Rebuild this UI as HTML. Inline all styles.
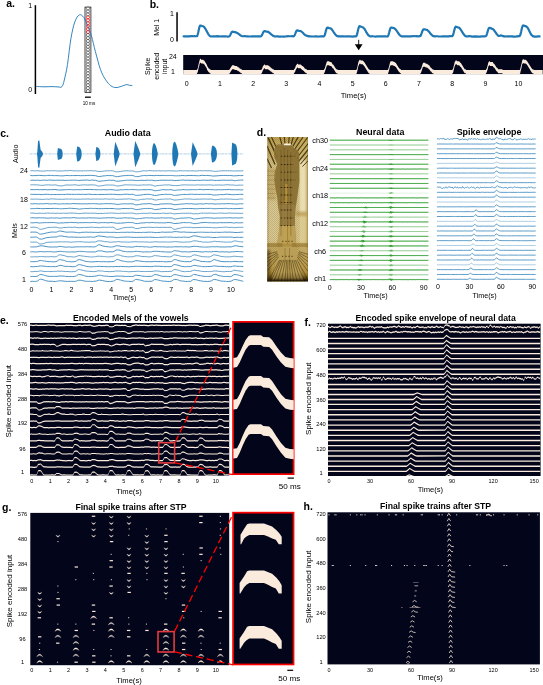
<!DOCTYPE html>
<html lang="en"><head><meta charset="utf-8"><title>Figure</title>
<style>html,body{margin:0;padding:0;background:#fff}svg{display:block}</style>
</head><body>
<svg width="543" height="685" viewBox="0 0 543 685" font-family='"Liberation Sans", sans-serif'>
<rect width="543" height="685" fill="#fff"/>
<g id="panel-a">
<text x="6.2" y="6.9" font-size="10.5" font-weight="bold" text-anchor="start" fill="#000">a.</text>
<line x1="35.4" y1="5.2" x2="35.4" y2="94" stroke="#000" stroke-width="1.5"/>
<text x="32.2" y="8.3" font-size="7" text-anchor="end" fill="#000">1</text>
<text x="32.2" y="91.6" font-size="7" text-anchor="end" fill="#000">0</text>
<rect x="85" y="7.1" width="5.9" height="85.4" fill="#fafafa" stroke="#1a1a1a" stroke-width="0.8"/>
<circle cx="87.95" cy="8.57" r="1.57" fill="#fff" stroke="#2a2a2a" stroke-width="0.6"/>
<circle cx="87.95" cy="11.52" r="1.57" fill="#fff" stroke="#2a2a2a" stroke-width="0.6"/>
<circle cx="87.95" cy="14.46" r="1.57" fill="#fff" stroke="#2a2a2a" stroke-width="0.6"/>
<circle cx="87.95" cy="17.41" r="1.57" fill="#fff4f4" stroke="#f01818" stroke-width="0.85"/>
<circle cx="87.95" cy="20.35" r="1.57" fill="#fff4f4" stroke="#f01818" stroke-width="0.85"/>
<circle cx="87.95" cy="23.3" r="1.57" fill="#fff4f4" stroke="#f01818" stroke-width="0.85"/>
<circle cx="87.95" cy="26.24" r="1.57" fill="#fff4f4" stroke="#f01818" stroke-width="0.85"/>
<circle cx="87.95" cy="29.19" r="1.57" fill="#fff4f4" stroke="#f01818" stroke-width="0.85"/>
<circle cx="87.95" cy="32.13" r="1.57" fill="#fff4f4" stroke="#f01818" stroke-width="0.85"/>
<circle cx="87.95" cy="35.08" r="1.57" fill="#fff" stroke="#2a2a2a" stroke-width="0.6"/>
<circle cx="87.95" cy="38.02" r="1.57" fill="#fff" stroke="#2a2a2a" stroke-width="0.6"/>
<circle cx="87.95" cy="40.97" r="1.57" fill="#fff" stroke="#2a2a2a" stroke-width="0.6"/>
<circle cx="87.95" cy="43.91" r="1.57" fill="#fff" stroke="#2a2a2a" stroke-width="0.6"/>
<circle cx="87.95" cy="46.86" r="1.57" fill="#fff" stroke="#2a2a2a" stroke-width="0.6"/>
<circle cx="87.95" cy="49.8" r="1.57" fill="#fff" stroke="#2a2a2a" stroke-width="0.6"/>
<circle cx="87.95" cy="52.74" r="1.57" fill="#fff" stroke="#2a2a2a" stroke-width="0.6"/>
<circle cx="87.95" cy="55.69" r="1.57" fill="#fff" stroke="#2a2a2a" stroke-width="0.6"/>
<circle cx="87.95" cy="58.63" r="1.57" fill="#fff" stroke="#2a2a2a" stroke-width="0.6"/>
<circle cx="87.95" cy="61.58" r="1.57" fill="#fff" stroke="#2a2a2a" stroke-width="0.6"/>
<circle cx="87.95" cy="64.52" r="1.57" fill="#fff" stroke="#2a2a2a" stroke-width="0.6"/>
<circle cx="87.95" cy="67.47" r="1.57" fill="#fff" stroke="#2a2a2a" stroke-width="0.6"/>
<circle cx="87.95" cy="70.41" r="1.57" fill="#fff" stroke="#2a2a2a" stroke-width="0.6"/>
<circle cx="87.95" cy="73.36" r="1.57" fill="#fff" stroke="#2a2a2a" stroke-width="0.6"/>
<circle cx="87.95" cy="76.3" r="1.57" fill="#fff" stroke="#2a2a2a" stroke-width="0.6"/>
<circle cx="87.95" cy="79.25" r="1.57" fill="#fff" stroke="#2a2a2a" stroke-width="0.6"/>
<circle cx="87.95" cy="82.19" r="1.57" fill="#fff" stroke="#2a2a2a" stroke-width="0.6"/>
<circle cx="87.95" cy="85.14" r="1.57" fill="#fff" stroke="#2a2a2a" stroke-width="0.6"/>
<circle cx="87.95" cy="88.08" r="1.57" fill="#fff" stroke="#2a2a2a" stroke-width="0.6"/>
<circle cx="87.95" cy="91.03" r="1.57" fill="#fff" stroke="#2a2a2a" stroke-width="0.6"/>
<path d="M36.1,86.4C37.42,86.47 41.35,86.77 44,86.8C46.65,86.83 49.67,86.58 52,86.6C54.33,86.62 56.35,86.88 58,86.9C59.65,86.92 60.85,87.85 61.9,86.7C62.95,85.55 63.37,83.72 64.3,80C65.23,76.28 66.4,71.28 67.5,64.4C68.6,57.52 69.68,45.78 70.9,38.7C72.12,31.62 73.38,25.87 74.8,21.9C76.22,17.93 77.9,15.63 79.4,14.9C80.9,14.17 82.42,15.68 83.8,17.5C85.18,19.32 86.42,22.7 87.7,25.8C88.98,28.9 90.22,31.8 91.5,36.1C92.78,40.4 93.9,46.02 95.4,51.6C96.9,57.18 98.78,64.88 100.5,69.6C102.22,74.32 103.97,77.2 105.7,79.9C107.43,82.6 109.18,84.52 110.9,85.8C112.62,87.08 114.28,87.5 116,87.6C117.72,87.7 119.48,86.9 121.2,86.4C122.92,85.9 124.92,84.78 126.3,84.6C127.68,84.42 128.5,85.13 129.5,85.3C130.5,85.47 131.83,85.55 132.3,85.6" fill="none" stroke="#1f77b4" stroke-width="0.9"/>
<line x1="85" y1="97.2" x2="90.8" y2="97.2" stroke="#000" stroke-width="1.3"/>
<text x="89" y="104.9" font-size="4.6" text-anchor="middle" fill="#000">10 ms</text>
</g>
<g id="panel-b">
<text x="149.7" y="7.5" font-size="10.5" font-weight="bold" text-anchor="start" fill="#000">b.</text>
<line x1="177.05" y1="12.2" x2="177.05" y2="41.4" stroke="#000" stroke-width="1.5"/>
<text x="173.8" y="16.3" font-size="7" text-anchor="end" fill="#000">1</text>
<text x="173.8" y="42" font-size="7" text-anchor="end" fill="#000">0</text>
<text x="159.4" y="27.3" font-size="7" text-anchor="middle" fill="#000" transform="rotate(-90 159.4 27.3)">Mel 1</text>
<text x="150.5" y="66.3" font-size="7" text-anchor="middle" fill="#000" transform="rotate(-90 150.5 66.3)">Spike</text>
<text x="159.4" y="66.3" font-size="7" text-anchor="middle" fill="#000" transform="rotate(-90 159.4 66.3)">encoded</text>
<text x="166.6" y="66.3" font-size="7" text-anchor="middle" fill="#000" transform="rotate(-90 166.6 66.3)">input</text>
<text x="172.8" y="59.2" font-size="7" text-anchor="middle" fill="#000">24</text>
<text x="172.9" y="74.4" font-size="7" text-anchor="middle" fill="#000">1</text>
<path d="M183.6 36.29l2.5 .1 1 .07 .5-.11 1 .08 3-.38 1 .04 1 .16 1-.05 1 .05 1-.1 .5-.17 .5-1.17 .5-1.85 .5-2.35 .5-2.21 .5-1.78 .5-1.05 .5-.07 3 1.02 .5 .46 .5 .59 .5 .75 3 5.51 1 1.29 .5 .6 .5 .44 1 .32 1-.02 1-.19 1.5 .14 1-.05 .5 .06 1.5-.22 1 .2 .5-.05 1.5 .17 1-.13 1.5 .05 .5-.13 2.5 .1 .5 .09 1 .06 1.5-.15 .5-.37 .5-.77 1-2.07 .5-.93 .5-.5 .5-.09 2 .52 1-.01 2 1.04 2 1.43 .5 .47 1.5 .88 1 .22 1 0 .5-.11 .5 .07 .5-.08 .5 .14 1 .03 .5 .12 .5-.12 .5 .15 1 .07 2-.05 1-.09 2.5-.04 2 .13 2-.16 1-.06 .5 .11 .5-.03 .5-.14 .5-.5 .5-.76 1-2.29 .5-.88 .5-.56 1-.02 .5 .16 2.5 .53 .5 .21 1 .79 2 1.88 1 .73 1.5 .79 .5 .18 1 .05 .5-.06 2 0 1 .17 1-.07 .5 .08 1-.08 1-.02 .5 .12 1 0 .5-.13 .5 .02 1.5-.22 1.5-.07 1 .04 2 .01 1-.12 1.5 .15 .5-.3 .5-.75 .5-1.09 .5-1.35 .5-1.19 .5-.96 .5-.37 .5 .09 .5 .26 1.5 .35 1 .11 .5 .13 1.5 1.29 .5 .5 .5 .64 .5 .54 1 .77 .5 .29 1.5 .61 .5 .22 1 .09 .5 .21 1.5-.03 1 .15 3-.08 1-.11 .5 .06 .5-.1 .5 .12 2 .13 1.5-.22 .5 .03 1-.12 1 .16 .5 .02 .5-.16 .5-.76 .5-1.53 .5-1.88 .5-2.03 .5-1.5 .5-.88 .5-.18 1.5 .65 1 .1 .5 .14 .5 .38 1 1.06 1 1.38 .5 .85 1.5 2.15 1 1.16 .5 .39 1 .46 1 .2 1.5-.15 1.5 .05 .5 .16 2 .01 1-.13 1 .13 1-.07 .5 .06 1-.23 .5 .07 .5-.03 2.5 .35 .5 .04 1-.23 1.5-.01 1-.09 .5-.67 .5-1.5 .5-2.13 .5-2.23 .5-1.89 .5-1.32 .5-.48 1.5 .55 1 .42 1 .39 1.5 1.59 1 1.75 .5 .97 .5 .77 .5 .91 .5 .79 1 1.24 1 .75 1 .21 .5-.04 .5-.16 1-.03 2 .27 1 .07 2-.31 3 .12 2-.03 .5 .09 1.5-.05 .5 .04 .5-.15 1.5 .26 .5-.08 .5-.64 .5-1.28 .5-1.72 .5-1.96 .5-1.7 .5-1.2 .5-.43 .5 .12 .5 .01 .5 .21 .5 .01 1 .34 .5 .31 1 .89 1.5 2.05 1 1.56 1.5 1.98 1 .8 .5 .27 1 .25 .5-.06 .5 .15 1 .01 .5 .04 .5-.08 .5 .06 .5-.09 1 .05 1.5-.04 .5 .06 1.5-.11 1-.02 .5-.13 1.5 .11 .5-.09 1.5 .07 .5-.09 2 .2 1.5-.15 .5 .05 .5-.45 .5-1.06 1-2.84 .5-1.28 .5-.96 .5-.4 1.5 .15 .5 .15 1 .15 .5 .23 .5 .37 .5 .57 .5 .34 1 1.16 .5 .75 1.5 1.67 .5 .38 .5 .49 1 .51 1.5 .14 1.5-.1 .5-.01 2 .27 2-.01 1.5-.24 2 .13 3.5-.11 .5 .05 1.5-.09 .5-.1 1.5 .14 .5-.33 .5-1.16 .5-1.69 1-4.04 .5-1.5 .5-.82 .5 .04 2 .76 .5 .06 .5 .25 .5 .4 .5 .56 1 1.37 2 3.34 1.5 1.95 .5 .44 .5 .29 .5 .11 .5 .21 .5-.02 .5-.18 2-.18 1 .17 .5 0 1 .3 .5 .03 2.5-.29 3.5 .2 1.5 .01 1.5-.22 1 .01 .5-.1 1 .08 1.5-.21 .5-.18 .5-.99 .5-1.56 .5-1.79 .5-1.6 .5-1.47 .5-.76 .5 .03 1.5 .61 .5 .3 .5 .1 1 .52 .5 .39 .5 .57 2 2.93 .5 .78 1 1.15 .5 .43 .5 .32 .5 .14 1-.25 .5-.36 .5-.03 1 .48 2 .54 .5-.03 1.5 .15 1-.14 .5 .04 .5-.09 2.5 .02 .5 .08 1-.1 1.5 .33 1 0 .5 .1 1.5-.32 1-.03 1-.22 .5 .08 .5-.07 .5-.73 .5-1.53 .5-2.05 .5-2.29 .5-2.12 .5-1.49 .5-.6 .5 .11 1 .42 1.5 .45 1 .8 .5 .61 .5 .81 1 2.01 .5 .91 1 2.1 .5 .81 1 1.14 .5 .47 .5 .3 .5 .05 1 .29 1-.02 .5-.13 .5 .05 1-.17 2-.04" fill="none" stroke="#1f77b4" stroke-width="2.2" stroke-linejoin="round" stroke-linecap="round"/>
<line x1="358.7" y1="39.8" x2="358.7" y2="45.5" stroke="#000" stroke-width="0.9"/>
<polygon points="354.8,44.3 362.6,44.3 358.7,50.3" fill="#000"/>
<rect x="183.2" y="55" width="359.8" height="19.1" fill="#03051a"/>
<path d="M183.2 70.05l13.5 0 1-1.6 1-4.8 .5-1.6 .5-2.4 .5-.8 .5 0 .5 .8 2 0 .5 .8 .5 0 2.5 4 .5 1.6 1.5 2.4 .5 0 .5 .8 .5 0 .5 .8 18.5 0 3-4.8 2 0 .5 .8 2 0 .5 .8 1 0 .5 .8 .5 0 .5 .8 .5 0 .5 .8 1 0 .5 .8 19 0 1-1.6 .5-1.6 1.5-2.4 .5 0 .5 .8 3 0 .5 .8 .5 0 .5 .8 .5 0 .5 .8 .5 0 .5 .8 .5 0 .5 .8 1 0 .5 .8 19.5 0 1.5-2.4 .5-1.6 1.5-2.4 .5 0 .5 .8 2.5 0 .5 .8 .5 0 .5 .8 .5 0 .5 .8 .5 0 1 1.6 .5 0 .5 .8 1 0 .5 .8 16.5 0 1-1.6 2-6.4 .5-.8 2 0 .5 .8 1.5 0 1.5 2.4 .5 0 3 4.8 1 0 .5 .8 18.5 0 .5-.8 .5-1.6 1-4.8 .5-1.6 1-1.6 .5 0 .5 .8 2 0 .5 .8 .5 0 5 8 .5 0 .5 .8 18 0 .5-.8 1-3.2 .5-2.4 .5-1.6 .5-.8 2.5 0 .5 .8 1 0 .5 .8 .5 0 3.5 5.6 .5 0 .5 .8 .5 0 .5 .8 19 0 1-1.6 1.5-4.8 .5-.8 2 0 .5 .8 1.5 0 .5 .8 .5 0 .5 .8 .5 0 1.5 2.4 .5 0 1 1.6 1 0 .5 .8 18.5 0 1-1.6 .5-2.4 .5-1.6 .5-2.4 1-1.6 1 0 .5 .8 2 0 1 1.6 .5 0 4 6.4 1 0 .5 .8 19.5 0 1-1.6 1-3.2 .5-2.4 1-1.6 .5 0 .5 .8 2.5 0 1 1.6 .5 0 2.5 4 .5 0 1 1.6 4 0 .5 .8 17 0 .5-.8 .5-2.4 .5-1.6 1-4.8 1-1.6 .5 .8 2 0 .5 .8 .5 0 5.5 8.8 1 0 .5 .8 9 0 0 3.9-9 0-.5-.8-1 0-5.5-8.8-.5 0-.5-.8-2 0-.5-.8-1 1.6-1 4.8-.5 1.6-.5 2.4-.5 .8-17 0-.5-.8-4 0-1-1.6-.5 0-2.5-4-.5 0-1-1.6-2.5 0-.5-.8-.5 0-1 1.6-.5 2.4-1 3.2-1 1.6-19.5 0-.5-.8-1 0-4-6.4-.5 0-1-1.6-2 0-.5-.8-1 0-1 1.6-.5 2.4-.5 1.6-.5 2.4-1 1.6-18.5 0-.5-.8-1 0-1-1.6-.5 0-1.5-2.4-.5 0-.5-.8-.5 0-.5-.8-1.5 0-.5-.8-2 0-.5 .8-1.5 4.8-1 1.6-19 0-.5-.8-.5 0-.5-.8-.5 0-3.5-5.6-.5 0-.5-.8-1 0-.5-.8-2.5 0-.5 .8-.5 1.6-.5 2.4-1 3.2-.5 .8-18 0-.5-.8-.5 0-5-8-.5 0-.5-.8-2 0-.5-.8-.5 0-1 1.6-.5 1.6-1 4.8-.5 1.6-.5 .8-18.5 0-.5-.8-1 0-3-4.8-.5 0-1.5-2.4-1.5 0-.5-.8-2 0-.5 .8-2 6.4-1 1.6-16.5 0-.5-.8-1 0-.5-.8-.5 0-1-1.6-.5 0-.5-.8-.5 0-.5-.8-.5 0-.5-.8-2.5 0-.5-.8-.5 0-1.5 2.4-.5 1.6-1.5 2.4-19.5 0-.5-.8-1 0-.5-.8-.5 0-.5-.8-.5 0-.5-.8-.5 0-.5-.8-.5 0-.5-.8-3 0-.5-.8-.5 0-1.5 2.4-.5 1.6-1 1.6-19 0-.5-.8-1 0-.5-.8-.5 0-.5-.8-.5 0-.5-.8-1 0-.5-.8-2 0-.5-.8-2 0-3 4.8-18.5 0-.5-.8-.5 0-.5-.8-.5 0-1.5-2.4-.5-1.6-2.5-4-.5 0-.5-.8-2 0-.5-.8-.5 0-.5 .8-.5 2.4-.5 1.6-1 4.8-1 1.6-13.5 0z" fill="#faebdd"/>
<text x="186.8" y="86.1" font-size="7" text-anchor="middle" fill="#000">0</text>
<text x="219.97" y="86.1" font-size="7" text-anchor="middle" fill="#000">1</text>
<text x="253.14" y="86.1" font-size="7" text-anchor="middle" fill="#000">2</text>
<text x="286.31" y="86.1" font-size="7" text-anchor="middle" fill="#000">3</text>
<text x="319.48" y="86.1" font-size="7" text-anchor="middle" fill="#000">4</text>
<text x="352.65" y="86.1" font-size="7" text-anchor="middle" fill="#000">5</text>
<text x="385.82" y="86.1" font-size="7" text-anchor="middle" fill="#000">6</text>
<text x="418.99" y="86.1" font-size="7" text-anchor="middle" fill="#000">7</text>
<text x="452.16" y="86.1" font-size="7" text-anchor="middle" fill="#000">8</text>
<text x="485.33" y="86.1" font-size="7" text-anchor="middle" fill="#000">9</text>
<text x="518.5" y="86.1" font-size="7" text-anchor="middle" fill="#000">10</text>
<text x="353.5" y="98.2" font-size="7.6" text-anchor="middle" fill="#000">Time(s)</text>
</g>
<g id="panel-c">
<text x="0.2" y="136.6" font-size="10.5" font-weight="bold" text-anchor="start" fill="#000">c.</text>
<text x="127.7" y="135.9" font-size="8.9" font-weight="bold" text-anchor="middle" fill="#000">Audio data</text>
<text x="18.1" y="153.8" font-size="7.2" text-anchor="middle" fill="#000" transform="rotate(-90 18.1 153.8)">Audio</text>
<text x="16.6" y="230.6" font-size="7" text-anchor="middle" fill="#000" transform="rotate(-90 16.6 230.6)">Mels</text>
<line x1="29.8" y1="153.9" x2="243.5" y2="153.9" stroke="#1f77b4" stroke-width="0.9" stroke-opacity="0.38" stroke-dasharray="2.2 0.5 0.8 0.4 3 0.6"/>
<polygon points="36.8,153.9 37.06,153.18 37.32,152.21 37.57,148.24 37.83,144.27 38.09,141.05 38.35,140.85 38.61,140.65 38.87,140.45 39.12,140.25 39.38,140.89 39.64,142.8 39.9,144.72 40.16,146.59 40.42,148.43 40.67,150.08 40.93,150.34 41.19,150.6 41.45,150.87 41.71,151.18 41.97,151.48 42.22,151.79 42.48,152.29 42.74,153.1 43,153.9 43,153.9 42.74,154.73 42.48,155.56 42.22,156.08 41.97,156.39 41.71,156.71 41.45,157.02 41.19,157.3 40.93,157.57 40.67,157.84 40.42,159.54 40.16,161.44 39.9,163.37 39.64,165.34 39.38,167.31 39.12,167.98 38.87,167.77 38.61,167.56 38.35,167.35 38.09,167.15 37.83,163.83 37.57,159.74 37.32,155.65 37.06,154.64 36.8,153.9" fill="#1f77b4"/>
<polygon points="57.2,153.9 57.43,151.83 57.66,149.81 57.89,148.07 58.12,148.14 58.35,148.2 58.58,148.26 58.8,148.32 59.03,148.39 59.26,148.45 59.49,148.51 59.72,148.58 59.95,148.64 60.18,148.7 60.41,148.76 60.64,148.8 60.87,148.86 61.1,148.98 61.33,149.16 61.55,149.41 61.78,149.75 62.01,150.19 62.24,150.78 62.47,151.63 62.7,153.9 62.7,153.9 62.47,156.24 62.24,157.12 62.01,157.73 61.78,158.18 61.55,158.53 61.33,158.79 61.1,158.97 60.87,159.1 60.64,159.16 60.41,159.2 60.18,159.26 59.95,159.33 59.72,159.39 59.49,159.45 59.26,159.52 59.03,159.58 58.8,159.65 58.58,159.71 58.35,159.78 58.12,159.84 57.89,159.91 57.66,158.12 57.43,156.03 57.2,153.9" fill="#1f77b4"/>
<polygon points="76.2,153.9 76.43,152.19 76.66,150.49 76.89,148.78 77.12,147.07 77.35,146.53 77.58,146.53 77.8,146.54 78.03,146.57 78.26,146.63 78.49,146.71 78.72,146.82 78.95,146.95 79.18,147.11 79.41,147.3 79.64,147.52 79.87,147.77 80.1,148.06 80.33,148.41 80.55,148.8 80.78,149.27 81.01,149.82 81.24,150.52 81.47,151.48 81.7,153.9 81.7,153.9 81.47,156.4 81.24,157.38 81.01,158.1 80.78,158.68 80.55,159.16 80.33,159.56 80.1,159.92 79.87,160.22 79.64,160.48 79.41,160.71 79.18,160.9 78.95,161.07 78.72,161.2 78.49,161.31 78.26,161.39 78.03,161.45 77.8,161.49 77.58,161.5 77.35,161.5 77.12,160.94 76.89,159.18 76.66,157.42 76.43,155.66 76.2,153.9" fill="#1f77b4"/>
<polygon points="95.4,153.9 95.61,152.33 95.82,150.76 96.03,149.18 96.23,147.61 96.44,147.11 96.65,147.11 96.86,147.12 97.07,147.15 97.28,147.2 97.48,147.28 97.69,147.38 97.9,147.5 98.11,147.64 98.32,147.82 98.53,148.02 98.73,148.25 98.94,148.53 99.15,148.84 99.36,149.2 99.57,149.63 99.78,150.15 99.98,150.79 100.19,151.67 100.4,153.9 100.4,153.9 100.19,156.2 99.98,157.11 99.78,157.77 99.57,158.3 99.36,158.74 99.15,159.12 98.94,159.44 98.73,159.72 98.53,159.96 98.32,160.17 98.11,160.35 97.9,160.5 97.69,160.62 97.48,160.72 97.28,160.8 97.07,160.86 96.86,160.89 96.65,160.9 96.44,160.9 96.23,160.38 96.03,158.76 95.82,157.14 95.61,155.52 95.4,153.9" fill="#1f77b4"/>
<polygon points="113.7,153.9 113.95,151.88 114.2,149.86 114.45,147.84 114.7,145.82 114.95,143.8 115.2,141.78 115.45,142.35 115.7,142.93 115.95,143.52 116.2,144.11 116.45,144.7 116.7,145.31 116.95,145.92 117.2,146.54 117.45,147.17 117.7,147.81 117.95,148.47 118.2,149.13 118.45,149.82 118.7,150.52 118.95,151.26 119.2,152.03 119.45,152.86 119.7,153.9 119.7,153.9 119.45,154.97 119.2,155.83 118.95,156.63 118.7,157.38 118.45,158.11 118.2,158.81 117.95,159.5 117.7,160.17 117.45,160.83 117.2,161.48 116.95,162.12 116.7,162.76 116.45,163.38 116.2,164 115.95,164.61 115.7,165.21 115.45,165.81 115.2,166.4 114.95,164.32 114.7,162.23 114.45,160.15 114.2,158.07 113.95,155.98 113.7,153.9" fill="#1f77b4"/>
<polygon points="133.5,153.9 133.78,151.73 134.07,149.57 134.35,147.4 134.63,145.23 134.92,143.07 135.2,140.9 135.48,141.52 135.77,142.14 136.05,142.77 136.33,143.4 136.62,144.04 136.9,144.69 137.18,145.35 137.47,146.01 137.75,146.69 138.03,147.38 138.32,148.08 138.6,148.79 138.88,149.52 139.17,150.28 139.45,151.07 139.73,151.89 140.02,152.79 140.3,153.9 140.3,153.9 140.02,155.05 139.73,155.97 139.45,156.82 139.17,157.63 138.88,158.41 138.6,159.17 138.32,159.9 138.03,160.63 137.75,161.33 137.47,162.03 137.18,162.72 136.9,163.39 136.62,164.06 136.33,164.72 136.05,165.38 135.77,166.02 135.48,166.66 135.2,167.3 134.92,165.07 134.63,162.83 134.35,160.6 134.07,158.37 133.78,156.13 133.5,153.9" fill="#1f77b4"/>
<polygon points="151.9,153.9 152.15,149.47 152.39,147.54 152.64,146.16 152.88,145.14 153.13,144.39 153.38,143.84 153.62,143.49 153.87,143.29 154.11,143.23 154.36,143.3 154.6,143.49 154.85,143.79 155.1,144.18 155.34,144.67 155.59,145.23 155.83,145.87 156.08,146.58 156.33,147.36 156.57,148.2 156.82,149.11 157.06,150.08 157.31,151.14 157.55,152.32 157.8,153.9 157.8,153.9 157.55,155.53 157.31,156.75 157.06,157.84 156.82,158.84 156.57,159.77 156.33,160.64 156.08,161.44 155.83,162.18 155.59,162.84 155.34,163.42 155.1,163.92 154.85,164.32 154.6,164.63 154.36,164.82 154.11,164.9 153.87,164.84 153.62,164.64 153.38,164.27 153.13,163.71 152.88,162.93 152.64,161.87 152.39,160.46 152.15,158.47 151.9,153.9" fill="#1f77b4"/>
<polygon points="172.2,153.9 172.46,148.87 172.72,146.67 172.97,145.11 173.23,143.95 173.49,143.09 173.75,142.47 174.01,142.06 174.27,141.84 174.52,141.78 174.78,141.86 175.04,142.07 175.3,142.41 175.56,142.86 175.82,143.41 176.07,144.05 176.33,144.78 176.59,145.59 176.85,146.47 177.11,147.43 177.37,148.46 177.62,149.56 177.88,150.76 178.14,152.1 178.4,153.9 178.4,153.9 178.14,155.75 177.88,157.13 177.62,158.37 177.37,159.51 177.11,160.57 176.85,161.56 176.59,162.47 176.33,163.3 176.07,164.05 175.82,164.72 175.56,165.28 175.3,165.74 175.04,166.09 174.78,166.31 174.52,166.4 174.27,166.33 174.01,166.1 173.75,165.68 173.49,165.04 173.23,164.16 172.97,162.96 172.72,161.36 172.46,159.09 172.2,153.9" fill="#1f77b4"/>
<polygon points="191,153.9 191.28,151.96 191.55,150.02 191.82,148.08 192.1,146.14 192.38,144.2 192.65,142.26 192.93,142.81 193.2,143.37 193.47,143.93 193.75,144.5 194.03,145.07 194.3,145.65 194.57,146.24 194.85,146.84 195.12,147.44 195.4,148.06 195.68,148.68 195.95,149.32 196.22,149.98 196.5,150.66 196.78,151.36 197.05,152.1 197.32,152.9 197.6,153.9 197.6,153.9 197.32,154.93 197.05,155.75 196.78,156.52 196.5,157.24 196.22,157.94 195.95,158.62 195.68,159.28 195.4,159.92 195.12,160.56 194.85,161.18 194.57,161.8 194.3,162.4 194.03,163 193.75,163.59 193.47,164.18 193.2,164.76 192.93,165.33 192.65,165.9 192.38,163.9 192.1,161.9 191.82,159.9 191.55,157.9 191.28,155.9 191,153.9" fill="#1f77b4"/>
<polygon points="210.9,153.9 211.15,151.99 211.41,150.08 211.66,148.17 211.92,146.27 212.17,145.66 212.43,145.66 212.68,145.67 212.93,145.71 213.19,145.77 213.44,145.86 213.7,145.98 213.95,146.13 214.2,146.3 214.46,146.51 214.71,146.76 214.97,147.04 215.22,147.37 215.47,147.75 215.73,148.2 215.98,148.72 216.24,149.34 216.49,150.12 216.75,151.19 217,153.9 217,153.9 216.75,156.69 216.49,157.79 216.24,158.6 215.98,159.24 215.73,159.78 215.47,160.24 215.22,160.63 214.97,160.97 214.71,161.26 214.46,161.51 214.2,161.73 213.95,161.91 213.7,162.07 213.44,162.19 213.19,162.28 212.93,162.35 212.68,162.39 212.43,162.4 212.17,162.4 211.92,161.77 211.66,159.8 211.41,157.84 211.15,155.87 210.9,153.9" fill="#1f77b4"/>
<polygon points="231.4,153.9 231.65,149.9 231.9,145.99 232.15,142.62 232.4,142.75 232.65,142.87 232.9,142.99 233.15,143.11 233.4,143.23 233.65,143.35 233.9,143.47 234.15,143.59 234.4,143.72 234.65,143.84 234.9,143.96 235.15,144.03 235.4,144.14 235.65,144.38 235.9,144.73 236.15,145.22 236.4,145.86 236.65,146.72 236.9,147.86 237.15,149.5 237.4,153.9 237.4,153.9 237.15,158.43 236.9,160.13 236.65,161.31 236.4,162.18 236.15,162.85 235.9,163.36 235.65,163.72 235.4,163.96 235.15,164.08 234.9,164.15 234.65,164.28 234.4,164.4 234.15,164.53 233.9,164.65 233.65,164.78 233.4,164.9 233.15,165.03 232.9,165.15 232.65,165.28 232.4,165.4 232.15,165.53 231.9,162.06 231.65,158.02 231.4,153.9" fill="#1f77b4"/>
<path d="M30.3 281.45l2-.1 2 .08 .5-.04 .5 .07 1.5-.23 .5-.14 .5-.26 1.5-1.17 .5-.32 .5-.14 1.5 .1 2.5 .85 1 .37 1.5 .43 2 .31 3.5 0 1.5 .23 1.5 0 1-.09 1.5-.38 .5-.03 1-.23 .5 .07 1.5 0 3.5 .42 .5 .12 .5-.06 1.5 .1 1.5-.04 2 .02 .5-.09 2 .11 1.5 .06 .5-.09 .5-.2 .5-.08 1-.43 .5-.3 .5-.15 2 0 2 .28 1.5 .49 2 .23 .5 .13 1-.05 1 .11 1-.13 1 .12 2 .07 1-.18 1.5-.06 1.5-.15 2-.81 1.5-.15 2.5 .41 3.5 .75 2 .27 2-.12 .5 .04 2.5-.27 1-.18 1-.55 1-.72 .5-.26 .5-.1 1.5 .16 2 .47 1 .26 .5 .2 2.5 .57 1.5 .12 .5 .14 .5-.08 1 .12 .5-.04 .5 .08 3 .07 1-.23 1-.55 1-.81 .5-.29 .5-.15 1 .04 2 .38 .5 .02 1.5 .41 1 .16 2.5 .77 1 .11 2.5 .02 .5 .05 3-.11 1-.27 1-.58 1-.76 .5-.12 2 .16 1 .29 .5 .05 2 .55 .5 .07 .5 .19 2.5 .32 1 0 3 .29 1.5 .01 2-.3 1-.52 1.5-1.07 .5-.19 .5-.06 1.5 .14 1 .24 .5 .2 .5 .06 .5 .19 .5 .34 2 .52 .5 .02 .5-.1 1.5 .29 1 .1 .5 .17 2-.07 .5 .02 1-.1 1.5 .04 1.5-.83 .5-.36 .5-.47 .5-.26 2 .18 2 .42 1.5 .49 1.5 .26 .5-.05 3 .65 1-.12 2.5 .23 3.5-.39 1-.51 1.5-1.06 1-.16 2 .29 3 .91 1.5 .31 2 .31 1-.02 1.5 .11 .5-.04 .5 .16 2.5 .04 2.5-.4 2-1.18 1-.37 1.5 .06 1.5 .22 1.5 .43 1 .16 1 .3 1 .21 .5 .2 1 .17" fill="none" stroke="#1f77b4" stroke-width="0.85" stroke-opacity="0.95" stroke-linejoin="round"/>
<path d="M30.3 276.45l1.5-.02 1-.07 1.5 .17 2-.09 1.5-.49 .5-.29 1-.72 .5-.31 1-.22 1.5 .32 .5 .19 .5 .04 1 .34 1.5 .43 2 .5 2.5 .19 2.5-.02 .5-.07 .5 .06 .5-.08 1.5 .1 1.5-.06 1.5-.33 4 .01 1.5 .16 1.5 .23 2.5 .09 .5-.08 1 .06 1.5-.07 .5 .09 1 .05 1.5-.1 1-.23 1-.38 .5-.28 1.5-1.08 .5-.07 1 .08 3.5 .83 1 .44 1.5 .44 2.5 .21 3 .05 3-.21 .5-.02 1.5-.26 2-.6 1-.11 .5 .07 .5-.04 1 .25 .5 .02 2 .45 .5-.01 .5 .16 1.5 0 .5-.09 1.5 .27 2 .22 3.5-.14 3-.46 2 .2 1-.09 .5 .07 1.5-.07 3.5 .35 1.5 0 1 .06 .5-.06 2 .06 1.5-.06 .5 .06 1.5-.31 1.5-.91 .5-.1 1 .05 1 .27 2.5 .13 1 .25 .5 .21 3 .3 .5-.07 1 .14 4-.1 1 0 1-.31 1-.58 .5-.47 .5-.3 1-.22 1 .12 3.5 .99 1 .37 1.5 .34 4.5 .09 .5 .06 1-.04 .5 .1 1.5 .03 .5-.05 .5-.15 1-.51 1-.79 .5-.27 1-.15 2 .21 1 .36 .5 .03 1.5 .46 1 .08 .5 .21 2 .22 .5 .13 3 .13 2 .06 .5-.12 .5 .01 1.5-.44 1-.62 .5-.44 .5-.32 .5-.1 1 0 2.5 .59 .5 .21 2.5 .47 .5 .02 1.5 .28 .5 .19 2.5 .28 .5-.14 1 .1 1-.13 1 .14 2-.25 .5-.13 2-1.29 .5-.25 1-.19 1 .09 3.5 1.25 1 .08 1.5 .38 .5 .01 1.5 .36 1-.07 1-.01 1-.06 2 .14 .5 .12 1.5-.09 1-.4 2-1.42 1-.17 1.5 .06 2 .43 .5 .12 .5 .25 .5 .1 2 .69 1.5 .21" fill="none" stroke="#1f77b4" stroke-width="0.85" stroke-opacity="0.95" stroke-linejoin="round"/>
<path d="M30.3 271.63l1.5 .05 .5-.06 .5 .06 3-.3 1.5 .08 1.5-.19 1-.32 1-.02 1 .05 1 .31 2 .25 1.5-.12 .5 .04 1-.03 1 .02 .5 .12 3.5-.07 .5-.11 1.5 .05 1-.13 1 .02 1-.21 3 .09 1-.05 2 .2 1.5 .21 3-.08 1 .18 2 .07 3.5-.16 1.5-.64 1-.85 1-.5 .5-.08 1 .17 .5 .16 .5-.03 3 .75 2.5 .54 1.5 .13 1 .03 1 .17 2 .05 1.5 .16 1.5-.07 2-.3 1-.4 2.5 .03 .5 .21 .5-.15 1 .08 1 .23 .5-.01 .5 .23 1.5-.01 4 .21 3-.23 2-.2 1-.26 2.5 .03 1.5 .02 2 .2 .5 .13 1 .05 .5-.07 .5 .1 1.5 0 1 .14 .5-.04 1.5 .22 4.5-.27 3.5-.13 1-.14 1.5 .02 1.5 .25 2.5-.04 1 .04 1 .03 1.5-.01 1-.09 1.5 .07 2.5-.04 1.5-.19 1.5-.31 2 .06 .5-.09 2 .25 1.5 .45 .5 .05 3-.15 3 0 3.5-.18 1-.2 1-.65 .5-.43 .5-.33 1-.29 2 .36 2 .44 .5 .25 1 .32 1.5 .5 2.5 .35 1-.05 1-.15 1.5-.04 1.5 .1 1.5-.23 1.5-.58 .5-.25 1-.29 1 .04 1 .21 2 .28 .5-.01 2 .33 1 .23 1 .16 2.5 .15 2.5-.11 .5-.06 1 .08 .5-.11 1.5 .22 1-.19 .5-.01 1.5-.44 1 .08 1-.07 2 .2 1 .17 1 .05 1.5 .15 1.5 .19 2-.05 3-.29 2 .05 1 .09 1.5-.45 1-.57 .5-.2 .5-.08 2 .28 1 .22 1 .06 2.5 .39 .5 .15 1 .08 1-.04" fill="none" stroke="#1f77b4" stroke-width="0.85" stroke-opacity="0.8" stroke-linejoin="round"/>
<path d="M30.3 266.65l3 .1 2.5-.27 1.5 .06 1-.26 2-.3 1.5 .07 .5-.06 3.5 .34 1.5 .28 2-.02 1.5 0 .5 .13 1.5-.21 2 .17 .5-.06 .5 .07 1.5-.39 1.5-.68 1.5-.27 2 .29 1.5 .52 2 .27 1.5-.08 1 .05 1.5 0 3 .31 1.5-.07 1-.19 1-.44 2-1.31 1-.02 1.5 .11 1 .33 1.5 .34 1.5 .38 2 .68 2 .11 1.5 .14 .5 .14 1.5-.17 1 .01 .5-.18 .5 .09 1-.04 1-.16 .5 .08 1.5-.16 2 .03 .5 .12 2.5 0 1-.02 3 .22 1-.08 .5 .09 2-.13 1 .01 1 .11 2-.13 1-.15 2.5 .18 2-.16 .5-.09 3 .23 1.5 0 3.5 .16 1.5-.06 2-.2 1.5-.01 2-.28 .5 .09 1.5 .04 1 .07 .5-.1 2.5 .13 1 .02 3-.07 3.5 .19 2.5 .07 2-.32 1-.19 3 .1 2 0 3 .31 .5-.03 1.5 .14 2-.05 .5-.06 2 .12 2-.21 1.5-.98 1-.8 .5-.15 1.5 .18 1 .31 .5 .03 3 .94 .5 .07 1 .33 2.5 .3 1 .04 1-.13 2-.03 .5 .11 2-.19 1.5-.58 .5-.26 1-.26 1-.05 2 .29 .5 .25 2 .21 .5 .17 .5-.03 1 .17 .5 .17 .5 .05 .5-.07 1.5 .1 1-.04 .5 .05 1.5-.08 3.5-.14 2-.34 .5-.16 1.5 0 2 .23 2.5 .25 1-.09 4 .28 .5-.09 1.5 .18 .5-.07 2 .15 2-.03 1.5-.37 .5-.2 1-.19 2 .07 .5 .04 .5 .17 2.5 .12 .5-.1 1 .15 .5-.04 2 .15" fill="none" stroke="#1f77b4" stroke-width="0.85" stroke-opacity="0.95" stroke-linejoin="round"/>
<path d="M30.3 261.7l1-.08 1.5 .06 3-.02 1-.19 1-.2 1-.41 1.5-.44 1 .18 .5-.03 1 .24 .5 .2 1-.02 .5 .15 1.5 .09 .5 .19 2.5 .22 1.5 .03 1 .09 1-.02 .5 .12 2.5-.21 1.5-.6 1.5-1.14 .5-.18 1-.06 1.5 .35 1.5 .2 1 .26 1 .46 .5 .12 .5 .26 1 .17 1 .02 .5 .11 .5-.04 2 .32 2.5-.24 1.5-.17 1.5-.71 1-.83 .5-.26 1.5-.07 2.5 .67 2.5 .85 1 .23 2 .29 1 .01 .5 .11 2.5 .1 4-.21 2.5-.2 1.5 .19 1.5 .1 .5-.15 1.5 .08 .5-.1 2 .18 .5-.07 .5 .12 4.5-.14 2-.12 1-.35 1-.68 .5-.5 .5-.29 1-.16 1 .03 2.5 1.04 1.5 .39 1 .01 1 .31 1 .1 1 .21 1 .16 1.5-.06 1 .05 1 0 .5 .06 1.5-.21 1-.26 2-.8 2.5 .23 .5 .17 2 .17 2.5 .35 1.5 .11 .5 .1 2.5-.1 1.5 .01 .5 .12 2.5-.06 2-.28 1 0 2 .21 3-.12 .5 .13 1.5-.12 1 .17 .5-.06 2 .25 5-.33 1-.28 1-.55 .5-.48 1-.67 1.5 .05 1 .32 .5 .3 2.5 .67 2 .4 1.5 .19 1.5 .14 1 .01 3.5-.01 .5 .12 1.5-.52 1-.67 .5-.52 1-.33 1.5 .08 3.5 .92 .5 .07 1.5 .5 1.5 .28 .5-.06 2.5 .09 1 .09 1-.01 .5 .1 2.5-.13 1-.42 .5-.31 1-.74 .5-.35 1-.17 .5 .05 2 .56 1 .39 4 .91 4.5 .11 .5-.1 2 .07 .5-.06 .5 .17 1-.01 1-.13 .5 .03 .5-.17 2-.09 3.5 .23 1 .05 2-.02 2 .14" fill="none" stroke="#1f77b4" stroke-width="0.85" stroke-opacity="0.95" stroke-linejoin="round"/>
<path d="M30.3 256.92l.5-.11 1 .13 1-.02 .5-.11 1 .02 1-.13 1.5 .16 1.5-.09 .5-.14 1.5-.1 .5 .04 .5-.06 .5 .11 1-.05 2 .15 2 .08 .5-.05 1 .06 2-.15 .5-.11 3.5 .34 2-.23 .5-.2 .5-.37 .5-.27 .5-.44 1-.56 .5-.04 1 .1 1.5 .42 .5 .02 2 .43 2 .78 1 .2 3 0 3 .29 1 0 2-.67 1.5-.67 .5-.07 1.5 .05 1.5 .35 .5-.05 1 .21 1 .07 2.5 .36 1 .04 2 .26 .5 .14 1-.1 1 .04 1-.14 1-.05 1-.14 .5-.02 1.5-.41 2-.01 1 .14 .5-.1 1.5 .17 1 .05 .5 .1 .5-.04 .5 .09 .5-.01 .5 .09 1 .06 .5 .12 1 .06 3-.27 1 0 1-.21 1.5-.69 1-.7 .5-.14 1-.01 .5-.08 1.5 .26 1 .32 .5 .25 1.5 .38 1.5 .23 1 .28 2.5 .24 2 .06 1.5-.1 .5 .04 2-.2 .5-.12 1-.45 1.5-.27 1 0 .5 .1 1 .03 2 .38 1 .2 3 .13 1-.04 1.5 .23 .5-.04 1 .22 1.5-.2 .5 .02 .5-.09 .5-.24 1-.21 1.5-.63 1.5 .05 1.5 .23 1 .02 2 .4 1 .26 1 .06 1.5-.14 2.5 .15 .5 .1 1.5 .05 1.5 .05 1-.13 1.5-.76 1-.7 .5-.32 .5-.14 4 .75 .5 .15 .5 .06 .5 .25 1.5 .38 .5 .01 .5 .12 .5-.1 1.5 .02 1 .12 1.5 .33 2.5-.09 1.5-.26 .5-.22 1.5-1.04 1-.43 2.5 .29 2 .68 1.5 .22 1 .29 2 .36 4 .17 1 .08 2-.09 1-.37 1-.53 1.5-1.02 .5-.15 .5 .15 1.5 .18 2.5 .48 2.5 .76 3 .34 .5 .15 2-.03 .5 .08 2-.06 .5 .09 2.5-.32 1-.25 1-.13 1.5 .08 2.5 .29 1-.08 1 .17 2 .13 1.5 .01" fill="none" stroke="#1f77b4" stroke-width="0.85" stroke-opacity="0.8" stroke-linejoin="round"/>
<path d="M30.3 251.86l1 .06 1-.16 2 .06 .5 .16 1 .05 1-.15 .5 .06 1.5-.26 1-.07 1-.07 1 .15 .5-.05 1.5 .24 2-.16 1-.06 .5 .06 1-.12 .5 .11 1-.05 1 0 .5 .1 .5-.01 .5 .18 1-.05 .5 .11 1.5-.04 2.5-.31 1.5-.24 1-.1 1.5 .21 .5-.03 1.5 .22 .5-.02 1 .12 .5 0 .5 .1 1-.05 1 .17 1.5-.06 .5 .07 1-.13 4 .05 1-.16 .5 .01 1.5-.37 1-.01 .5-.09 1 0 .5 .12 2 .08 .5 .1 1 .03 .5 .1 .5-.02 .5 .1 .5-.07 1 .11 1.5 0 .5 .08 1-.03 3 .01 1.5-.04 3-1.13 1.5 .1 1-.01 1.5 .19 .5 .21 2.5 .48 2 .17 3-.12 2.5 .01 1-.31 2-1.25 1-.35 .5 .09 1-.03 2 .4 3 .99 2 .2 .5 .12 .5-.03 1 .16 2-.08 1.5-.01 1.5 .06 1-.06 1-.13 .5-.15 1.5-.12 1 .05 .5 .12 .5-.02 .5 .17 1.5 .01 1 .21 .5-.06 1.5 .24 1-.12 1 .03 .5-.08 2.5 0 1 .03 1 .12 .5-.13 .5-.02 1-.31 2-.29 1 .18 1-.13 2 .1 2 .22 .5-.01 .5 .09 3 .14 1.5 .06 .5 .11 4 .04 1-.1 1-.36 .5-.23 .5-.37 1-.27 1.5 .05 .5 .13 1.5 .09 1 .17 .5 .05 1.5 .5 1 .12 .5 .12 2.5-.18 2 .09 1 .11 1-.13 .5 .07 2.5-.22 1.5-.24 2-.01 .5 .09 1.5 .01 2.5 .21 3 .28 1.5-.23 .5 .01 1-.17 1.5 .15 .5-.04 .5 .11 1-.08 1.5 .07 1-.03 1.5-.28 1.5-.08 3.5 .22 1.5 .25 1-.09 2-.07 1 .21 3-.16 2 .29 1.5-.06 2-.3 .5 .08 1-.15 1.5-.03 .5-.14 2.5 .01 1 .11 1-.01 1 .11 1-.02 1 .13" fill="none" stroke="#1f77b4" stroke-width="0.85" stroke-opacity="0.95" stroke-linejoin="round"/>
<path d="M30.3 246.86l1 .09 1.5 .01 2-.07 1.5-.06 1.5-.27 2-.62 1.5-.13 1 .02 6 1.08 3 .1 1.5 .05 1-.16 2 .07 1 .03 1.5-.35 1.5-.21 2 .11 .5 .17 4 .46 2-.22 1-.06 1 .22 2.5 .04 3-.27 1.5-.09 .5 .04 1.5-.04 1 .01 1.5-.05 .5 .08 1-.02 1 .08 1.5-.12 1.5-.07 1 .09 3 .02 1.5 .11 1.5-.04 1-.18 1-.45 1.5-1.1 .5-.28 .5-.11 1 .06 1 .33 2 .84 2.5 .5 3 .29 1.5 .23 1-.05 .5 .1 .5-.03 .5-.12 1.5-.18 1.5-.7 1-.24 1.5 0 1 .06 2.5 .55 1 .05 1 .1 1-.04 1 .25 1 .05 1 .2 1-.12 3.5 .23 1.5-.16 2-.42 2-.19 1 .16 2 .14 1-.11 1 .02 1.5 .3 1.5 .04 1-.15 1 .16 1 .06 1 .18 1-.05 .5 .06 1.5-.16 1.5-.36 1.5-.07 .5 .11 2.5 .11 1-.01 2 .05 1 .04 .5-.11 2.5 .2 .5 .11 3.5-.11 1 .01 2 .01 1.5-.14 .5-.09 5.5 .06 1-.13 .5 .1 1.5 .01 .5 .13 .5 .01 1-.18 2.5 .14 .5 .09 2.5-.09 3-.58 2 .06 1 .01 1.5 .15 1.5 .25 3 .18 .5 .1 .5-.06 1 .1 .5-.06 .5 .04 .5-.06 .5 .07 2-.17 1 0 1.5-.12 .5 .03 1-.19 1.5 .16 .5-.07 1 .14 1.5-.18 2 .08 1 .18 3-.03 1.5 .11 3-.19 4-.01 1-.24 1.5-.56 1.5-.18 1.5-.01 3 .66 2 .07 1.5 .26" fill="none" stroke="#1f77b4" stroke-width="0.85" stroke-opacity="0.95" stroke-linejoin="round"/>
<path d="M30.3 241.91l1 .22 3 0 1-.07 1 .09 1 .28 .5 .26 1.5 1.13 .5 .17 1.5-.03 2-.29 2.5-.93 2-.46 5.5-.24 1 .09 1-.13 3.5-.05 1.5-.13 1 .05 .5-.07 .5 .09 3-.07 1 .09 1.5-.06 2.5 .31 1.5 0 .5-.14 1.5-.04 .5-.07 1.5-.06 1.5-.05 .5-.15 .5 .07 .5-.05 1 .11 2.5 .07 1.5 .1 1 .18 3-.04 1 .1 1.5-.03 1.5-.18 2 .09 1.5-.08 3-1.21 2 .15 .5-.03 2.5 .39 1 .28 2.5 .23 .5-.06 3 .55 1-.05 .5-.12 1.5-.18 3-.11 1-.17 1 .01 .5-.09 2 .34 1 .09 2-.1 .5 .08 2.5 .13 .5-.06 .5 .09 1.5-.03 1.5-.18 1 .02 1-.13 1 0 1-.16 1 .08 1-.01 1.5 .14 1.5-.02 .5 .08 1-.1 1 .13 1-.08 1 .08 1.5 .06 1-.03 1.5 .13 .5-.06 .5 .15 2-.15 1.5-.03 1-.18 2-.05 3 .17 1.5 .03 2 0 2.5-.07 1 .09 1-.07 1 .1 1-.03 1 .03 1-.15 2-.05 1.5-.19 1.5-.05 2 .2 4 .28 1.5 .07 1.5-.05 1.5-.2 .5 .06 1-.09 .5 .07 2.5-.14 1-.31 1-.47 1-.22 3 .18 2.5 .5 1.5 .11 2 .47 1 .09 .5-.09 2.5 .06 1.5 .04 1.5-.15 1-.02 1.5-.21 1.5-.49 1.5-.02 .5 .18 1.5 .2 1.5-.1 1.5 .09 .5 .15 2 .09 1 .13 .5-.03 2 .15 .5-.09 .5 .08 1.5-.15 1 .1 1-.01 1-.13 2-.9 2-.12 1.5 .38 1 .2 1 .19 1.5 .06 .5 .1 2 .06" fill="none" stroke="#1f77b4" stroke-width="0.85" stroke-opacity="0.8" stroke-linejoin="round"/>
<path d="M30.3 237.24l2 .04 1-.17 1.5-.01 .5-.11 1 .1 1.5 .63 1 .81 1 .55 1 .04 1.5-.12 4-1.28 3-.33 1.5-.23 2.5-.07 3-.15 1.5-.37 .5-.25 1-.33 2.5 .02 2.5 .45 4.5 .65 2-.11 4 .19 3 0 .5 .09 1.5 .01 2 .02 .5-.11 2.5 0 .5 .11 1-.21 4-.12 1 0 1 .19 1.5 .05 1.5-.27 2.5-.92 .5-.12 2 .15 6 .86 1 .23 1.5-.16 1 .02 .5-.06 1.5 .18 1-.07 .5 .13 1 .02 1 .28 1.5 .18 1-.03 .5-.13 .5 .05 1-.27 .5 .05 .5-.08 2 .03 1-.1 3.5-.18 2.5 .12 1 0 1 .14 2.5 .15 2-.04 2 .01 3-.19 2 .2 2.5-.22 2.5 .05 1.5-.08 5.5 .28 .5 .09 1-.07 1 .04 .5-.02 .5-.16 1 .05 1.5-.1 2-.03 2-.23 1-.01 .5 .13 .5-.02 .5 .09 1.5-.08 .5-.14 3 .3 .5 .1 1.5-.07 1.5 .08 2-.16 1.5-.03 .5 .14 2.5-.09 .5-.14 2.5 .04 1 .17 2 .02 2-.47 2.5-.95 .5-.07 2 .1 2.5 .49 2 .49 2 .23 2 .07 1.5 .05 2-.28 .5 .07 .5-.03 1.5 .27 1 .03 1.5 .24 3.5-.09 .5 .06 .5-.11 1-.05 1.5-.25 1-.11 1.5 .1 3.5 .05 3-.11 1 .08 1-.07 2 .19 1 .3 3-.27 1.5-.02 1 .09 3-.02 1-.09" fill="none" stroke="#1f77b4" stroke-width="0.85" stroke-opacity="0.95" stroke-linejoin="round"/>
<path d="M30.3 232.25l2-.17 2.5 .03 1 .01 1.5 .38 .5 .28 1 .8 .5 .29 1 .32 1.5-.26 2-.24 3-.85 .5 0 3-.64 2-.21 .5 .08 1.5 0 1 .09 1-.12 1-.22 1.5-.59 1-.2 1 .04 4 .84 .5 .04 .5 .16 2.5 .02 1.5-.09 .5 .05 1-.03 1.5 .08 .5-.06 .5 .12 2 .13 .5 .12 1 .1 1 .17 .5 .07 1.5-.15 1.5-.3 3-.1 .5-.09 2 .08 1 .12 1.5-.17 1.5 .08 .5-.05 1 .19 1.5-.08 1 .06 1.5-.02 1 .1 2.5-.26 1.5 .03 1.5 .16 .5-.12 1 .01 1.5-.1 3 .17 .5 .07 1-.05 1 .02 1.5-.08 1.5 .03 2 .2 .5 .07 1-.13 1 .04 1-.16 1.5 .01 1-.09 1.5 .09 3-.16 3 .09 1.5-.14 2.5 .16 2.5 .24 .5-.09 2-.02 1 .02 1 .06 1.5-.2 .5 .06 .5-.08 1 .11 1-.02 2.5-.24 2.5 .03 .5-.02 .5 .12 1.5 .03 1 .23 2 .04 1-.1 3-.13 1-.22 2 0 1 .1 3.5-.05 1.5-.06 1.5 .12 2-.27 1.5-.34 2 .01 4.5 .51 2.5-.14 .5-.08 3 .36 1-.07 4.5 .12 1.5 .11 2.5-.12 2-.17 1 .13 1-.14 1 .09 1-.07 1.5 .11 .5-.07 2 .18 .5-.09 2 .06 .5-.09 .5 .11 .5-.09 .5 .03 .5-.1 2 .21 1.5-.08 1.5-.09 1.5 .08 2.5 0 1-.04 .5 .05 1-.14 .5 .05 1.5-.21 2.5 .16 2-.1 4 .19 .5 .14 3.5 .11 1.5-.13 1.5-.18 2.5-.12 .5 .06" fill="none" stroke="#1f77b4" stroke-width="0.85" stroke-opacity="0.95" stroke-linejoin="round"/>
<path d="M30.3 227.23l.5 .09 3-.15 2 .16 1 .29 .5 .01 1 .62 1 .71 1 .37 1.5-.07 2-.59 1.5-.47 .5-.02 1.5-.43 1.5-.32 2-.1 .5 .13 .5-.14 2-.06 .5-.11 2.5 .21 1.5 .41 1 .1 .5 .14 2.5-.14 .5-.22 .5-.09 3-.07 1-.19 2-.06 3 .19 2.5-.26 1 .09 2.5 .49 3.5-.16 1.5-.14 1-.07 1.5 .18 3-.27 3.5-.11 1.5 .21 1 .08 2-.14 2.5 .34 .5-.01 1-.17 2-.3 1.5 .02 1.5 .17 1-.08 .5 .04 1-.14 1.5 .09 .5-.1 1 .07 1.5-.08 1.5 .55 1.5 1.27 .5 .31 .5 .13 2-.19 2.5-.79 2.5-.75 2.5-.22 1-.01 1.5-.09 3-.16 1 .1 1.5 .6 1 .51 .5 .12 2-.07 4.5-1.02 4-.05 1.5-.21 1 .11 1.5-.09 3 .28 1-.06 2-.2 3 .26 3.5-.22 1 .06 3 0 .5 .06 3-.13 1.5 .47 .5 .28 .5 .49 1 .73 .5 .12 1 .04 .5-.22 2.5-.71 2-.37 1-.19 1-.32 1-.16 1-.16 1 .12 1.5-.11 .5 .12 1.5-.06 1 .08 .5-.16 1 .06 .5 .16 2 .26 1.5-.13 2.5-.04 4-.18 1 .02 1-.05 2-.04 1 .14 1.5-.07 .5 .12 1.5-.08 1 .12 1 .02 1 .14 2.5 .01 .5 .03 1-.16 .5 .05 1-.19 2-.05 1 .09 1-.17 .5 0 1-.17 1.5 .01 2 .06 1 .25 3-.18 1 .12 1 .25 1.5-.04 2.5-.32 1 .09 1-.11 1 .07 .5-.09 2 .13" fill="none" stroke="#1f77b4" stroke-width="0.85" stroke-opacity="0.8" stroke-linejoin="round"/>
<path d="M30.3 222.76l.5 .06 .5-.05 1.5 .09 2-.18 1-.12 1.5 .11 2 .37 1-.03 1-.19 1-.03 2-.1 .5-.12 1.5 .05 1-.02 .5 .12 1.5-.17 .5 .08 1.5-.09 2.5-.04 1 .1 .5 .14 1.5 .1 1 .19 1.5 .01 .5 .03 1-.2 2.5 .05 2-.25 3 .02 1-.18 1.5-.06 1-.05 1 .14 2 .11 1-.14 1 .19 2 .16 .5-.12 2-.08 1 .1 2.5-.22 1 .11 .5-.06 1.5 .06 .5-.06 1 .11 1 .01 1.5-.27 1-.01 .5-.09 1 .13 2 .22 .5-.04 1.5 .2 1.5 .02 1-.21 1-.07 .5 .07 1-.09 .5 .07 1.5-.05 .5 .11 2 .11 2-.12 1-.17 2 .11 1 .21 1 .03 1.5 .32 1 .07 3-.14 .5 .04 4-.38 1-.02 1-.26 .5 .05 1.5-.12 1 .18 .5-.05 1 .04 1-.1 1 .33 1 .24 1 .43 2 .06 .5 .04 1-.15 2-.5 2-.04 1-.04 1.5-.12 1.5-.24 .5 .08 1 .03 .5 .15 2-.14 1-.26 1.5 .16 .5-.03 1 .28 1.5-.06 .5 .06 1-.11 1.5 .21 1.5-.09 1 .02 1 0 1 .16 1-.15 1.5-.08 .5-.15 2-.04 2 .14 1.5 .3 1.5 .49 1 .06 4-.3 .5-.13 .5-.01 1-.18 2-.33 .5 .02 .5-.1 2 .18 .5-.04 .5 .1 .5-.18 1 .13 .5-.07 .5 .04 .5-.08 .5 .18 .5 .01 1.5 .39 .5 .25 1 .19 2-.01 1-.2 .5 .02 1.5-.34 1-.06 .5-.21 3.5-.32 2-.1 .5 .12 1.5 .09 1 .16 .5-.11 1.5 .12 1-.06 .5 .14 3-.08 1 .11 2-.08 1-.12 1.5-.02 2.5 .06 3-.02 4.5-.11 1.5 .18 1 .2 1 .03 1-.26 2-.06 1 .17 1.5-.07 1 .05 2-.15 .5 .05" fill="none" stroke="#1f77b4" stroke-width="0.85" stroke-opacity="0.95" stroke-linejoin="round"/>
<path d="M30.3 217.85l1 .02 2-.11 2.5 .21 4-.2 .5 .05 1-.02 .5 .07 .5-.06 2 .13 .5-.06 2 .25 1.5 .03 2.5-.26 .5-.04 .5 .1 1-.06 .5 .14 .5-.06 .5 .11 2-.19 1 0 2 .34 2.5-.22 1.5-.12 4-.05 2 .16 2-.14 2.5-.28 2 .31 1.5 .2 1-.07 1 .09 1.5-.14 .5 .07 1.5-.15 1.5 .14 2 .03 2-.2 1.5-.09 1 .16 1-.06 1.5 .08 .5-.11 2 .19 .5-.05 2 .13 2 .12 2-.25 2-.01 1.5-.03 2.5-.19 2.5 .1 2.5-.15 1 .19 .5 .01 1.5 .35 2.5-.06 .5-.09 .5 .09 2.5-.11 .5-.17 .5 .04 1-.13 2 0 1 .19 3-.06 1.5 .14 1-.05 1.5 .3 1.5 .52 .5 .02 1-.15 1-.04 1-.16 1.5-.08 1.5-.25 3-.28 1.5-.11 1 .09 1.5-.01 .5 .07 1-.11 2.5 .11 .5 .16 2.5 .01 1-.12 2 .02 1-.11 .5 .04 1.5-.15 1 .1 .5-.09 1.5 .21 2.5-.09 .5-.1 1.5 .18 1-.1 1.5 .17 .5 .14 .5 .34 .5 .21 1.5 .25 1-.26 1.5-.14 .5-.15 1-.09 1-.29 3-.02 .5-.09 1-.03 1-.01 1-.03 .5-.13 1 .03 1-.1 1 .2 .5 .01 2.5 .95 1 .07 1.5-.08 .5-.15 1-.04 2-.22 1-.24 5.5-.43 1.5 .03 .5-.08 1.5 .17 2.5 .07 2.5 .26 3-.28 2.5 .11 .5-.08 .5 .09 2-.17 .5 .02 1.5-.13 .5 .11 2.5-.06 1-.14 2 .11 1.5 .17 2-.06 1.5-.11 1.5 .15 2 .03 1-.14 2-.08 1 .07" fill="none" stroke="#1f77b4" stroke-width="0.85" stroke-opacity="0.95" stroke-linejoin="round"/>
<path d="M30.3 212.92l1.5 .19 1.5-.03 2 .21 1 .17 1.5-.03 1-.2 1.5-.07 1.5 .27 .5-.1 1 .06 1.5-.14 2.5-.12 .5-.08 2.5 .18 .5 .07 1-.14 2 .03 1 .19 3-.21 .5 .08 .5-.04 .5 .11 3-.06 1-.14 .5 .07 1.5-.03 .5 .2 2.5-.15 .5-.15 5.5 .07 3 .25 1 .2 2-.03 2-.27 4-.18 1.5 .12 1.5 .03 1-.09 1.5 .03 3 .01 3 .36 1.5-.12 .5-.11 3 .18 .5-.03 1-.2 1-.09 .5 .07 2.5-.1 1-.12 1.5 .05 1-.05 .5 .08 2-.03 2 .18 1 .19 1.5-.09 .5 .07 .5-.18 1.5-.05 .5 .03 .5-.13 .5 .09 2.5 .05 2-.05 1 0 .5-.09 1.5-.02 .5 .06 1-.07 1.5 .1 2 .51 1 .18 1.5-.14 .5 .05 1-.22 1.5-.04 .5-.14 2.5-.07 1.5 .05 2-.01 1.5-.17 1.5-.18 1 .08 .5 .2 5 .2 1.5-.11 1.5 .08 1.5-.04 1-.21 1.5-.08 3 .33 2-.19 1-.15 1.5 .15 1 .18 1 .33 2 .01 2.5-.2 2-.12 .5 .02 1.5-.17 1.5-.05 2 .06 3-.09 1.5-.08 1.5 .2 1.5 .41 1.5 .01 1.5-.13 1.5 .15 1.5-.13 1.5-.42 .5 .04 1-.16 1.5 .06 1-.01 1 .1 6-.18 .5 .11 2.5 .16 1.5-.04 .5-.1 1 .08 1.5-.13 .5 .01 .5-.15 2 .08 2.5 .19 2-.04 .5 .08 1-.26 2-.08 2 .27 1-.1 1 .08 1-.1 1 .14 .5-.11 3.5 .18 1.5 0 1-.11 1 0" fill="none" stroke="#1f77b4" stroke-width="0.85" stroke-opacity="0.8" stroke-linejoin="round"/>
<path d="M30.3 208.66l1.5 .01 1-.1 .5 .11 1.5-.12 1-.06 .5-.14 4 .18 .5-.09 2 .29 3-.27 5 .09 2.5-.2 1.5 .13 1-.03 .5 .06 .5-.07 1.5 .08 .5 .12 .5-.03 .5 .1 .5-.03 .5 .09 1-.06 .5 .05 2.5-.18 2-.1 .5 .08 1-.25 2-.07 1 .15 .5-.07 3.5 .27 1.5 .11 1.5 .3 1.5 .07 2-.3 .5 0 1-.16 .5 0 .5-.12 .5 .06 1-.05 2 .05 1.5-.19 1 .06 1-.11 1 .14 1.5-.02 .5 .09 1.5-.14 2.5 .34 3-.09 2.5-.01 1.5-.18 3.5 .16 1-.15 4.5 .14 .5 .07 .5 .17 3.5 .14 2-.18 1-.18 4-.16 2 .18 1.5-.03 1-.21 1-.02 1.5 .23 1 .28 1 .39 1 .29 1 0 1.5-.15 .5-.15 1.5-.08 .5-.16 1.5-.19 1-.27 1-.01 1-.1 1 .04 1-.08 .5 .13 1.5-.14 1.5 .13 .5 .01 2 .59 1 .43 1 .06 4-.49 2.5-.5 1.5-.17 3 .02 1 0 .5-.08 1 .08 1-.12 1 .27 1 .05 2 .7 1.5 .18 2-.41 2-.16 1-.04 .5-.17 1 .02 1-.15 1.5-.12 2-.04 2 .01 .5-.05 1 .08 3-.02 1.5 .22 2.5 .06 .5-.13 1.5-.01 1-.23 .5 .08 2-.1 .5 .13 2-.11 .5 .07 .5-.08 1-.02 1 .04 1.5-.05 .5 .05 .5-.07 .5 .08 .5-.05 1.5 .23 .5 .1 2.5-.07 1-.08 .5 .11 1.5-.19 1 .06 .5-.1 2 .13 1.5-.16 1-.02 .5-.08 1 .07 1 .09 1 .18 1-.06 .5 .02 .5-.11 2 .1 1.5 .05 4-.09 3.5-.23 1.5-.02 .5 .04" fill="none" stroke="#1f77b4" stroke-width="0.85" stroke-opacity="0.95" stroke-linejoin="round"/>
<path d="M30.3 203.81l1.5-.02 .5 .08 2-.18 1.5 .01 1.5 .17 1-.02 .5 .08 2-.16 1-.05 .5 .1 1.5 .02 1.5-.22 2-.03 2 .28 1.5 .05 1.5-.17 1 .05 .5-.13 2.5 .12 1 .08 2 .13 1.5-.09 .5-.12 .5 .05 1-.08 1.5 .14 1.5-.09 3.5-.01 1 .04 1.5-.09 1-.22 3 .23 2-.04 3 .15 2 .02 1-.1 2-.01 .5 .12 1.5-.07 2.5-.14 1 .08 1-.17 1 .03 1.5 .05 .5 .11 .5-.08 2.5 .2 .5 .11 3.5-.2 1 .02 .5-.13 1 .03 1-.12 2 .01 1 .09 3-.03 1 .13 .5-.02 2 .28 1 .28 2-.01 1.5-.1 .5-.13 1.5-.13 1-.2 .5 .09 1.5-.12 1 .12 1.5-.01 .5 .07 2-.15 1.5-.07 2 .27 1.5 .63 1 .24 1 .01 2-.3 .5-.03 .5-.17 1.5-.2 1-.23 1.5-.11 1.5 .08 3.5-.28 1.5 .07 2 .42 1 .36 1.5 .24 3-.1 3-.61 1.5-.06 3.5-.15 2 .03 1-.01 2 .07 2 .3 1 .33 1.5 .18 2-.21 .5 .03 1.5-.33 1-.02 1-.16 1.5 .09 1-.18 1-.01 .5-.17 2.5-.05 .5 .12 2.5-.04 .5-.07 2.5 .34 1 .1 4-.19 .5-.13 1-.02 3 .21 1-.08 .5-.15 1.5-.19 1-.01 1.5 .24 1.5-.06 1.5-.04 1.5 .11 .5 .2 2.5-.02 1-.14 1 .01 .5-.05 .5 .15 2-.22 .5 .06 1-.14 .5 .11 2.5 0 .5-.11 3.5-.02 .5 .08 1.5 .05 1.5 .14 1-.01 1 .11 2 .06 1-.2 1-.08 1-.05 1.5-.04 1 .13 .5-.08" fill="none" stroke="#1f77b4" stroke-width="0.85" stroke-opacity="0.95" stroke-linejoin="round"/>
<path d="M30.3 199.1l1 .01 .5 .11 2-.11 1 .03 1-.09 1 .11 1-.05 1 .16 1-.04 1.5 .1 1.5 .13 1-.14 .5 .05 1.5-.3 1 .09 .5-.03 1.5 .14 2-.35 1.5-.06 4.5 .3 1.5 .08 3-.04 1 .11 3-.2 .5-.09 2.5 .06 .5 .05 .5-.12 .5 .14 2-.09 .5 .1 .5-.14 .5 .08 2.5 .13 1-.06 1.5 .06 .5-.06 2 .06 .5-.12 .5 .04 2-.11 .5 .08 3.5-.18 3 .23 2.5-.18 1 .1 .5-.03 1 .08 1.5-.14 1 .08 .5-.02 .5 .12 1.5-.09 1 .04 1-.06 1 .06 .5-.18 2-.02 1 .14 .5-.05 .5 .17 2-.1 .5 .08 .5-.12 2.5-.02 1 .09 .5 .15 1 .14 1.5 .01 .5-.16 1.5-.03 2-.02 2.5-.14 2.5-.02 1.5-.16 1-.04 1 .17 .5 .16 1 0 2 .29 2 .54 .5-.03 .5 .11 1 .02 1.5-.2 1-.35 1.5-.16 .5-.14 2-.03 2-.28 1-.05 1.5 .11 2.5-.06 1.5 .33 1.5 .62 1.5 .09 1 .01 .5-.19 2-.28 .5-.15 1.5-.06 1-.15 1 .06 .5-.04 .5-.15 .5-.03 1 .09 1-.14 .5 .12 1-.06 1-.11 .5 .08 .5-.06 1.5 .39 2 .69 1 .04 2-.13 3-.31 1-.21 .5 0 1.5-.22 1-.06 .5-.14 1-.1 .5 .08 2 .01 2.5 .04 2 .17 1 .14 1.5-.07 4.5-.11 1 .04 2.5-.17 1 .04 1-.05 1 .11 .5-.08 1.5 .17 3-.13 1-.06 2 .62 1 .14 1.5-.1 1.5-.19 .5 .04 1-.25 2-.21 2 .04 .5 .07 2-.18 1 .02 1 .07 1-.03 1 .05 .5-.06 1.5 .22 1.5 .04 1 .11 1.5-.11 .5 .13 2-.13 1-.24 1.5-.12 1.5 .16 1-.04" fill="none" stroke="#1f77b4" stroke-width="0.85" stroke-opacity="0.8" stroke-linejoin="round"/>
<path d="M30.3 194.37l.5 .02 .5-.08 1.5 .14 1-.13 3.5 .14 2-.1 2.5 .25 1.5-.08 1.5-.19 2.5-.04 2 .15 1 .13 .5-.1 1.5-.01 1-.03 .5 .1 2.5-.02 1-.09 1.5 .12 1.5-.01 1-.12 1-.01 1.5 .15 1.5-.13 1-.16 2 .01 3 .12 .5-.1 2.5 .09 .5 .07 1-.04 .5 .02 .5-.13 2-.02 1.5 .13 2-.13 1.5 .13 1 .05 3-.19 1.5-.08 3 .33 1.5-.12 3 .1 .5-.02 .5 .08 .5-.11 4 .01 2-.03 2-.07 2.5-.01 1-.15 2.5 .09 .5 .06 1.5-.05 3.5 .34 2.5-.04 2-.05 1.5-.27 4-.09 2 .28 1-.04 1-.13 1.5 .09 .5 .16 .5 .29 1.5 .46 1 .06 1-.13 1-.02 1.5-.23 .5 .07 2.5-.4 .5-.15 3-.17 1.5-.03 2 .15 .5 .16 .5 .01 3 .75 2 .08 3-.64 1.5-.18 3-.19 .5-.13 .5 .05 .5-.09 2 .2 .5-.17 .5 .06 1.5-.07 1 .23 .5 .03 1 .29 2 .55 .5-.1 1 .02 4.5-.54 1-.16 1-.03 1.5-.21 2.5 .06 .5 .07 1-.05 1-.14 2-.11 .5 .08 1-.05 2 .18 3-.08 1 .12 2.5-.08 1 .03 .5-.05 1.5 .09 1-.14 .5 .08 .5-.1 1 .01 1 .12 1.5-.1 2 .16 .5 .21 1.5 .34 1.5-.01 1.5-.09 .5 .04 1.5-.14 1.5-.25 .5 .03 .5-.07 1.5 .1 1.5-.06 2-.32 1.5-.03 4.5 .41 .5-.03 2 .1 1.5-.2 1 .01 2-.05 .5-.16 .5 .06 1-.05 2.5 .07" fill="none" stroke="#1f77b4" stroke-width="0.85" stroke-opacity="0.95" stroke-linejoin="round"/>
<path d="M30.3 189.65l3.5-.02 .5 .08 2-.17 3 .13 .5-.08 1 .04 1 .13 3.5-.17 2.5 .24 3-.24 1 .13 3-.3 3.5 .52 .5-.02 1 .1 5.5-.3 1-.09 1 .03 1-.09 2-.05 .5 .08 .5-.03 1 .19 2 .04 1-.12 2-.01 .5 .06 .5-.11 2 .11 .5-.06 .5 .06 1-.17 .5 .02 1-.1 1.5 .09 .5-.07 3 .02 1.5-.1 3 .25 1 .04 .5-.09 2.5 .09 .5 .09 .5-.1 1 0 1 .07 .5-.05 1 .03 1.5-.14 3 .2 2-.09 .5-.01 .5-.12 4 .18 2 .35 1 .09 3.5-.28 .5-.13 2.5-.03 .5 .06 .5-.14 1.5-.1 3 .1 1-.08 1-.01 1-.13 2.5 .2 2-.04 1.5 .25 2 0 1.5-.13 1 .05 1-.14 3.5 .06 2-.1 3 .11 1 .19 2 .66 1 .16 2-.21 .5 .02 1-.3 1.5-.17 .5-.17 1-.09 .5-.15 2.5 .06 1.5 .13 1.5-.11 .5 .08 1.5-.17 1.5 .03 2.5 .6 1 .05 1-.04 1-.24 .5-.02 1-.17 1.5 .08 .5-.09 1-.02 1.5-.27 2 .16 .5 .1 2-.09 .5 .11 2.5-.1 2-.13 1.5 .07 .5-.1 1 .1 1-.02 .5-.1 .5 .04 1.5-.14 2-.09 1.5 .23 1.5 .15 3-.28 2.5 .08 1 .09 .5-.07 2 .12 .5 .01 .5 .1 1.5-.01 .5 .06 2.5-.11 .5-.07 1.5 .13 2-.06 2-.14 2.5 .05 2.5-.24 2 .31 2 .06 1-.12 1 .09 .5-.09 .5 .12 3-.07 1 .2 2-.05 1-.26" fill="none" stroke="#1f77b4" stroke-width="0.85" stroke-opacity="0.95" stroke-linejoin="round"/>
<path d="M30.3 184.84l1.5 .04 1-.12 1 .14 1-.12 2 .16 1.5 .03 1.5 .17 .5 .14 1 .11 2-.15 .5 .02 1.5-.28 1-.01 .5-.11 2 .07 2 .05 .5 .12 2.5-.09 .5-.13 1.5 .04 1.5 .38 1.5 .49 1.5 .1 1.5-.02 1.5-.21 1.5-.46 1.5-.21 5 .07 1-.03 2.5-.28 1.5 .18 1.5 .31 2 .02 1-.2 1 .01 1-.16 1 .03 .5-.14 1 .03 .5 .12 2 .07 4-.15 1.5 .12 .5-.08 1.5 .2 .5 .03 .5 .16 1 .47 1.5 .3 2-.15 1-.22 .5-.03 2.5-.48 1-.15 2.5-.02 .5 .06 .5-.09 1.5 .08 1.5 .03 1.5 .03 1 .24 .5 .23 1.5 .32 1 .06 2-.19 1-.17 1-.23 1-.13 1.5-.38 1.5-.07 1 .02 .5 .09 1-.05 1.5 .08 .5-.09 .5 .1 1 .03 1-.05 .5 .09 1-.06 3 .23 4-.03 1.5-.27 1.5-.02 1.5 .18 3.5-.21 .5 .08 1 0 2 .37 1 .47 1 .25 1 .01 1-.33 2-.26 .5 .02 .5-.1 1-.06 1.5-.1 1-.03 1.5-.25 1.5-.02 .5 .1 2-.12 1 .06 1.5 .33 3.5 .34 .5-.09 1.5 .06 2-.18 .5 .03 1.5-.35 1-.01 .5-.13 2-.04 1-.08 1.5 .11 .5-.04 1.5 .16 1-.12 1 .13 1-.07 1.5 .11 .5-.08 .5 .08 2.5-.13 .5-.17 1 .12 1.5 .05 .5 .09 2-.11 1.5 .05 .5-.06 1 .1 2-.12 .5 .05 1-.1 1.5 .08 .5-.05 1 .2 2 .15 .5-.03 .5-.14 2.5-.09 3.5 .04 1.5 .09 1.5-.07 1.5-.21 2-.11 3 .22 .5-.03 .5 .12 1.5-.06 1.5 .19 1 .09 1 .13 2.5-.28 1.5 0 1 .09 2-.14" fill="none" stroke="#1f77b4" stroke-width="0.85" stroke-opacity="0.8" stroke-linejoin="round"/>
<path d="M30.3 180.28l1 .03 2.5-.12 1.5 .14 1-.01 1.5-.19 1 .17 1 .09 .5 .06 2-.22 1-.18 1.5 .14 1.5 .09 .5 .12 2-.33 1-.08 2 .23 3 .03 .5 .06 1.5-.08 1-.1 2.5 .17 2.5-.11 2 .19 2 .01 .5-.12 1.5 .06 .5-.07 1 .03 .5-.09 2-.05 1 .06 .5-.08 2 .1 1 .16 1 .08 4.5-.29 3-.11 1.5-.04 1.5 .28 1.5 .03 1.5-.29 3.5 .27 .5 .01 2 .77 1 .21 2-.13 1.5-.27 1-.08 1-.05 2.5-.35 .5-.13 2.5-.07 .5 .07 3-.07 2 .59 1 .38 2 0 3-.4 1.5-.15 2-.25 .5-.01 1-.22 1 .07 1-.11 1 .11 2-.07 1.5 0 2 .25 .5 .11 1.5 .01 1 .08 .5-.12 1.5-.07 1-.15 2 .05 2 .08 2.5-.26 1 .11 1.5 0 1 .03 .5-.14 1.5 .13 1.5 .37 1 .08 1.5-.22 1 .02 1.5-.17 .5 .03 1.5-.18 2.5 0 3 .05 1-.06 .5 .06 2.5-.06 .5-.07 .5 .14 1 .01 1.5 .34 2.5-.11 2.5-.25 1.5-.04 .5 .02 1.5-.26 2 .28 1.5 .04 1.5-.13 1 .12 3 .01 1 .13 3-.04 1.5-.16 3 .18 2.5-.32 1 .11 1.5 0 .5 .12 3-.04 3-.26 1.5 .27 1.5 .15 1.5-.01 .5 .08 2-.18 2.5-.02 1.5-.18 3 .13 1.5-.05 .5 .1 2.5-.06 .5-.11 1.5 .02 2 .51 1 .09 1-.25 1-.09 1-.17 1.5-.08 .5-.09 1 .05 .5-.12 1.5 .1" fill="none" stroke="#1f77b4" stroke-width="0.85" stroke-opacity="0.95" stroke-linejoin="round"/>
<path d="M30.3 175.49l2.5 .18 1-.07 3-.05 1.5-.16 1.5 0 3.5 .26 2 .01 1-.12 .5 .02 1-.16 2.5 .02 1-.01 .5 .1 1.5 .03 1 .13 1-.11 2.5 .07 2 .17 .5-.03 .5 .08 2.5-.02 2-.25 .5-.15 3 .15 .5 .06 1.5-.04 1.5-.06 1 .03 4.5-.07 1 0 1.5 .19 2.5-.08 1.5-.02 .5 .06 3-.27 3-.01 1 .03 3 .26 1 .05 2.5 .82 1.5-.02 3-.53 1.5-.17 1 .01 1.5-.25 1.5-.05 1.5 .11 1.5-.03 1.5 .04 1 .32 1 .22 1 .45 .5 .09 1.5-.16 3-.45 2.5-.39 2.5-.14 .5-.12 2.5-.08 .5 .1 1-.12 2 .09 2 .58 1 .52 .5 .12 .5-.05 1 .05 2-.28 1-.29 2-.41 1-.07 1-.11 2 .14 1-.01 1.5-.22 1 .09 2 .03 2.5 .13 2-.27 1.5 .01 2 .18 1.5-.08 2-.05 1-.01 1 .09 1.5-.04 .5 .1 1-.08 1 0 1.5-.12 .5 .06 .5-.07 1 .22 .5-.02 1.5 .21 1-.04 .5 .09 1-.13 1 .07 2-.11 .5-.09 2-.08 1.5 .12 1 0 .5 .09 4-.29 3.5 .17 .5-.08 3 .19 .5-.06 1 .13 .5-.1 .5 .01 3-.35 3 .22 1.5-.16 2.5 .23 2.5 .18 1 .29 5.5-.38 3.5-.28 1.5 .08 2.5-.11 2 .22 2-.16 1 .04 2.5 .34 3-.1 3-.26 1.5 .16 2.5-.15" fill="none" stroke="#1f77b4" stroke-width="0.85" stroke-opacity="0.95" stroke-linejoin="round"/>
<path d="M30.3 170.89l.5 .03 1-.23 1-.07 .5 .18 .5-.04 1 .09 1 .03 1-.13 3.5 .23 3 .14 1.5-.12 2-.2 1-.13 .5 .15 .5-.08 1 .07 1-.02 .5-.1 1 0 1 .08 1-.05 1.5 .07 1 .19 1-.05 1 .04 4 0 1-.19 1-.08 1.5 .03 .5 .11 1-.06 1.5-.23 .5-.04 1.5 .07 1 .18 2 .11 2-.05 2 .14 2-.13 1.5 .13 1.5-.16 1 .07 1-.12 1 .13 1-.19 1 .13 2-.17 2 .09 1 .16 .5-.09 2 .05 1 .32 .5 .07 .5 .18 1 .01 2.5-.02 2-.23 1-.1 2-.3 2.5 .06 1-.08 .5 .02 .5-.1 1 .05 1 .25 .5-.05 1 .45 2 .47 .5 .02 .5-.11 1.5-.01 2-.34 1.5-.29 4.5-.44 1.5 .12 .5-.04 1 .19 1.5-.04 1.5 .03 1 .28 .5 .06 1 .4 .5 .12 1-.03 .5 .11 1-.14 .5-.14 1-.07 1.5-.37 .5 .01 .5-.26 2-.14 1 .13 2-.03 1.5-.3 2 .1 2 .19 1.5 .01 3-.04 .5-.09 .5 .07 .5-.11 1.5 .19 2-.03 1-.07 .5 .12 1.5 .02 .5 .08 1.5-.2 1 .03 .5-.14 1.5 .21 1.5-.08 2.5 .1 2 .12 1.5-.08 1-.21 2-.03 1.5 .09 .5-.06 1 .12 .5-.02 .5-.13 1 .1 1-.09 1 .18 1.5-.07 1 .02 1.5-.05 2 .04 2 .14 1.5-.06 2-.27 .5 .07 1-.05 2 .09 1 .02 1-.12 1.5 .11 3.5-.04 2.5 .23 1 .24 2 .2 1.5-.14 1-.22 .5 .01 1.5-.14 1-.03 .5-.1 4-.01 2 0 .5-.1 1.5 .09 2 .07 1-.08 1.5 .25 2-.03 1-.13 3.5 .02 .5 .08 2.5-.19" fill="none" stroke="#1f77b4" stroke-width="0.85" stroke-opacity="0.8" stroke-linejoin="round"/>
<text x="24" y="172.9" font-size="7" text-anchor="middle" fill="#000">24</text>
<text x="24" y="201.5" font-size="7" text-anchor="middle" fill="#000">18</text>
<text x="24" y="228.9" font-size="7" text-anchor="middle" fill="#000">12</text>
<text x="24" y="255.4" font-size="7" text-anchor="middle" fill="#000">6</text>
<text x="24" y="282.1" font-size="7" text-anchor="middle" fill="#000">1</text>
<text x="31.5" y="291.7" font-size="7" text-anchor="middle" fill="#000">0</text>
<text x="51.45" y="291.7" font-size="7" text-anchor="middle" fill="#000">1</text>
<text x="71.4" y="291.7" font-size="7" text-anchor="middle" fill="#000">2</text>
<text x="91.35" y="291.7" font-size="7" text-anchor="middle" fill="#000">3</text>
<text x="111.3" y="291.7" font-size="7" text-anchor="middle" fill="#000">4</text>
<text x="131.25" y="291.7" font-size="7" text-anchor="middle" fill="#000">5</text>
<text x="151.2" y="291.7" font-size="7" text-anchor="middle" fill="#000">6</text>
<text x="171.15" y="291.7" font-size="7" text-anchor="middle" fill="#000">7</text>
<text x="191.1" y="291.7" font-size="7" text-anchor="middle" fill="#000">8</text>
<text x="211.05" y="291.7" font-size="7" text-anchor="middle" fill="#000">9</text>
<text x="231" y="291.7" font-size="7" text-anchor="middle" fill="#000">10</text>
<text x="124.5" y="299.6" font-size="7" text-anchor="middle" fill="#000">Time(s)</text>
</g>
<g id="panel-d">
<text x="256.8" y="136.4" font-size="10.5" font-weight="bold" text-anchor="start" fill="#000">d.</text>
<defs><linearGradient id="pg" x1="0" y1="0" x2="0" y2="1"><stop offset="0" stop-color="#c2a75c"/><stop offset="0.12" stop-color="#cbb46e"/><stop offset="0.2" stop-color="#d6c48a"/><stop offset="0.5" stop-color="#d8c68e"/><stop offset="0.76" stop-color="#d4bd7a"/><stop offset="0.9" stop-color="#c8a856"/><stop offset="0.955" stop-color="#b08c38"/><stop offset="0.985" stop-color="#4a380e"/><stop offset="1" stop-color="#1c1402"/></linearGradient><linearGradient id="pvl" x1="0" y1="0" x2="1" y2="0"><stop offset="0" stop-color="#5a4210" stop-opacity="0.3"/><stop offset="0.06" stop-color="#5a4210" stop-opacity="0"/><stop offset="0.96" stop-color="#5a4210" stop-opacity="0"/><stop offset="1" stop-color="#5a4210" stop-opacity="0.3"/></linearGradient><linearGradient id="pvb" x1="0" y1="0" x2="0" y2="1"><stop offset="0" stop-color="#2a1d04" stop-opacity="0"/><stop offset="0.6" stop-color="#2a1d04" stop-opacity="0.3"/><stop offset="0.88" stop-color="#1f1603" stop-opacity="0.9"/><stop offset="1" stop-color="#171002" stop-opacity="1"/></linearGradient><filter id="bl1" x="-20%" y="-20%" width="140%" height="140%"><feGaussianBlur stdDeviation="0.8"/></filter><filter id="bl3" x="-20%" y="-20%" width="140%" height="140%"><feGaussianBlur stdDeviation="0.55"/></filter><pattern id="chk" width="2" height="2" patternUnits="userSpaceOnUse"><rect width="1" height="1" fill="#5e4812"/><rect x="1" y="1" width="1" height="1" fill="#5e4812"/></pattern><filter id="bl2" x="-20%" y="-20%" width="140%" height="140%"><feGaussianBlur stdDeviation="0.4"/></filter><clipPath id="pclip"><rect x="267.2" y="137" width="40.8" height="144.6"/></clipPath></defs>
<g clip-path="url(#pclip)">
<rect x="267.2" y="137" width="40.8" height="144.6" fill="url(#pg)"/>
<g filter="url(#bl1)">
<rect x="299.6" y="160" width="6.6" height="52" fill="#eadfb4" opacity="0.95"/>
<rect x="306.2" y="158" width="2.2" height="90" fill="#b59646" opacity="0.8"/>
<rect x="295.5" y="211.5" width="13" height="4.5" fill="#bfa55e" opacity="0.9"/>
<rect x="296.5" y="217" width="10" height="25" fill="#dccb92" opacity="0.85"/>
<rect x="266.8" y="168" width="8.5" height="32" fill="#c9b274" opacity="0.9"/>
<rect x="266.8" y="202" width="11.5" height="40" fill="#dccb96" opacity="0.85"/>
<rect x="266.8" y="137" width="42" height="4" fill="#bfa050" opacity="0.6"/>
</g>
<rect x="267.2" y="137" width="32.5" height="144.6" fill="url(#chk)" opacity="0.2"/>
<rect x="267.2" y="247" width="40.8" height="35" fill="#8a6a20" opacity="0.22"/>
<g filter="url(#bl2)" stroke-linecap="butt">
<line x1="268" y1="137.5" x2="277.5" y2="158" stroke="#3a2b08" stroke-width="1.5" opacity="0.88"/>
<line x1="267" y1="146" x2="275" y2="164.5" stroke="#3a2b08" stroke-width="1.3" opacity="0.88"/>
<line x1="267" y1="158.5" x2="271.5" y2="168" stroke="#3a2b08" stroke-width="1.2" opacity="0.88"/>
<line x1="271.5" y1="137" x2="276.5" y2="148" stroke="#3a2b08" stroke-width="1.1" opacity="0.88"/>
<line x1="279.8" y1="137" x2="282" y2="145" stroke="#3a2b08" stroke-width="1.1" opacity="0.88"/>
<line x1="284.3" y1="137" x2="285" y2="144" stroke="#3a2b08" stroke-width="1.1" opacity="0.88"/>
<line x1="289.2" y1="137" x2="288.6" y2="144" stroke="#3a2b08" stroke-width="1.1" opacity="0.88"/>
<line x1="293.3" y1="137" x2="291.2" y2="144.5" stroke="#3a2b08" stroke-width="1.1" opacity="0.88"/>
<line x1="298.2" y1="137" x2="292.8" y2="146.5" stroke="#3a2b08" stroke-width="1.2" opacity="0.88"/>
<line x1="303" y1="137" x2="293.5" y2="151" stroke="#3a2b08" stroke-width="1.2" opacity="0.88"/>
<line x1="307.6" y1="137.5" x2="294.5" y2="155" stroke="#3a2b08" stroke-width="1.2" opacity="0.88"/>
<line x1="308.2" y1="143.5" x2="296.5" y2="158.5" stroke="#3a2b08" stroke-width="1.2" opacity="0.88"/>
<line x1="308.2" y1="149.5" x2="298.5" y2="161.5" stroke="#3a2b08" stroke-width="1.2" opacity="0.88"/>
<line x1="308.2" y1="155" x2="300.5" y2="164" stroke="#3a2b08" stroke-width="1.1" opacity="0.88"/>
<line x1="308.2" y1="160.5" x2="302.5" y2="166.5" stroke="#3a2b08" stroke-width="1" opacity="0.88"/>
</g>
<line x1="266.8" y1="171" x2="275.5" y2="171" stroke="#93782e" stroke-width="0.9" opacity="0.45"/>
<line x1="266.8" y1="175.5" x2="275.5" y2="175.5" stroke="#93782e" stroke-width="0.9" opacity="0.45"/>
<line x1="266.8" y1="180" x2="275.5" y2="180" stroke="#93782e" stroke-width="0.9" opacity="0.45"/>
<line x1="266.8" y1="184.5" x2="275.5" y2="184.5" stroke="#93782e" stroke-width="0.9" opacity="0.45"/>
<line x1="266.8" y1="189" x2="275.5" y2="189" stroke="#93782e" stroke-width="0.9" opacity="0.45"/>
<line x1="266.8" y1="193.5" x2="275.5" y2="193.5" stroke="#93782e" stroke-width="0.9" opacity="0.45"/>
<line x1="266.8" y1="198" x2="275.5" y2="198" stroke="#93782e" stroke-width="0.9" opacity="0.45"/>
<g filter="url(#bl3)">
<path d="M275.2,147.5 Q275.6,144.2 279,144.2 L289,144.0 Q291.2,144.3 292,146.2 L296.5,149.5 Q299.4,151.5 299.3,156 L299.3,163 L299.5,181 L298.5,189 L297.2,198 L295.8,207 L295,216 L295,226 L295.6,236 L296,244 L297.5,254 L299.6,263 L302.5,274 L304,283 L271,283 L273,272 L275.5,262 L277,252 L277.4,243 L279.5,228 L279.8,216 L278,207 L277.2,198 L275.4,189 L274.2,180 L274.6,172 L277.3,164 L274.4,158 L273.6,151 Z" fill="#8f7436" opacity="0.9"/>
<path d="M276,146 L291,146 L299,152 L299,180 L296,205 L279,205 L275,180 L277,164 L274.5,156 Z" fill="#6f5519" opacity="0.2"/>
<path d="M279.8,226 L295,226 L296,244 L299.6,263 L304,283 L271,283 L275.5,262 L277.4,243 Z" fill="#c4a85e" opacity="0.8"/>
<rect x="285.2" y="184" width="2.6" height="20" fill="#c09a3c" opacity="0.7"/>
<rect x="284" y="226" width="6" height="20" fill="#c8a54a" opacity="0.45"/>
</g>
<g filter="url(#bl2)">
<rect x="266.8" y="243.2" width="15.8" height="3.8" fill="#8a6c26" opacity="0.62"/>
<rect x="292" y="243.2" width="16.5" height="3.8" fill="#8a6c26" opacity="0.62"/>
<rect x="282.6" y="243.6" width="9.4" height="3" fill="#a07e30" opacity="0.5"/>
</g>
<g opacity="0.4" fill="none" stroke="#4a380c" stroke-width="0.7" filter="url(#bl2)">
<path d="M281,150 V236 M284.2,148 V200 M287.6,150 V244 M290.8,152 V236 M281,156.3 H296 M281,164.6 H294 M287.6,172 H297 M284,180 H296 M280,187.5 H293 M280,195 H292 M283,202.5 H293 M281,210 H292 M286,218 H294 M285,248 V262 M289.5,248 V262"/>
</g>
<rect x="280.7" y="155.7" width="1.1" height="1.0" fill="#241a04" opacity="0.82"/>
<rect x="284.1" y="155.7" width="1.1" height="1.0" fill="#241a04" opacity="0.82"/>
<rect x="287" y="155.7" width="1.1" height="1.0" fill="#241a04" opacity="0.82"/>
<rect x="290.1" y="155.7" width="1.1" height="1.0" fill="#241a04" opacity="0.82"/>
<rect x="280.7" y="164" width="1.1" height="1.0" fill="#241a04" opacity="0.82"/>
<rect x="284.1" y="164" width="1.1" height="1.0" fill="#241a04" opacity="0.82"/>
<rect x="287" y="164" width="1.1" height="1.0" fill="#241a04" opacity="0.82"/>
<rect x="290.1" y="164" width="1.1" height="1.0" fill="#241a04" opacity="0.82"/>
<rect x="280.7" y="171.7" width="1.1" height="1.0" fill="#241a04" opacity="0.82"/>
<rect x="284.1" y="171.7" width="1.1" height="1.0" fill="#241a04" opacity="0.82"/>
<rect x="287" y="171.7" width="1.1" height="1.0" fill="#241a04" opacity="0.82"/>
<rect x="290.1" y="171.7" width="1.1" height="1.0" fill="#241a04" opacity="0.82"/>
<rect x="280.7" y="179.5" width="1.1" height="1.0" fill="#241a04" opacity="0.82"/>
<rect x="284.1" y="179.5" width="1.1" height="1.0" fill="#241a04" opacity="0.82"/>
<rect x="287" y="179.5" width="1.1" height="1.0" fill="#241a04" opacity="0.82"/>
<rect x="290.1" y="179.5" width="1.1" height="1.0" fill="#241a04" opacity="0.82"/>
<rect x="280.7" y="187" width="1.1" height="1.0" fill="#241a04" opacity="0.82"/>
<rect x="284.1" y="187" width="1.1" height="1.0" fill="#241a04" opacity="0.82"/>
<rect x="287" y="187" width="1.1" height="1.0" fill="#241a04" opacity="0.82"/>
<rect x="290.1" y="187" width="1.1" height="1.0" fill="#241a04" opacity="0.82"/>
<rect x="280.7" y="194.5" width="1.1" height="1.0" fill="#241a04" opacity="0.82"/>
<rect x="284.1" y="194.5" width="1.1" height="1.0" fill="#241a04" opacity="0.82"/>
<rect x="287" y="194.5" width="1.1" height="1.0" fill="#241a04" opacity="0.82"/>
<rect x="290.1" y="194.5" width="1.1" height="1.0" fill="#241a04" opacity="0.82"/>
<rect x="280.7" y="202" width="1.1" height="1.0" fill="#241a04" opacity="0.82"/>
<rect x="284.1" y="202" width="1.1" height="1.0" fill="#241a04" opacity="0.82"/>
<rect x="287" y="202" width="1.1" height="1.0" fill="#241a04" opacity="0.82"/>
<rect x="290.1" y="202" width="1.1" height="1.0" fill="#241a04" opacity="0.82"/>
<rect x="280.7" y="209.5" width="1.1" height="1.0" fill="#241a04" opacity="0.82"/>
<rect x="284.1" y="209.5" width="1.1" height="1.0" fill="#241a04" opacity="0.82"/>
<rect x="287" y="209.5" width="1.1" height="1.0" fill="#241a04" opacity="0.82"/>
<rect x="290.1" y="209.5" width="1.1" height="1.0" fill="#241a04" opacity="0.82"/>
<rect x="280.7" y="217.5" width="1.1" height="1.0" fill="#241a04" opacity="0.82"/>
<rect x="284.1" y="217.5" width="1.1" height="1.0" fill="#241a04" opacity="0.82"/>
<rect x="287" y="217.5" width="1.1" height="1.0" fill="#241a04" opacity="0.82"/>
<rect x="290.1" y="217.5" width="1.1" height="1.0" fill="#241a04" opacity="0.82"/>
<rect x="280.7" y="225.1" width="1.1" height="1.0" fill="#241a04" opacity="0.82"/>
<rect x="284.1" y="225.1" width="1.1" height="1.0" fill="#241a04" opacity="0.82"/>
<rect x="287" y="225.1" width="1.1" height="1.0" fill="#241a04" opacity="0.82"/>
<rect x="290.1" y="225.1" width="1.1" height="1.0" fill="#241a04" opacity="0.82"/>
<rect x="282.1" y="240.8" width="1.1" height="1.0" fill="#241a04" opacity="0.82"/>
<rect x="285.5" y="240.8" width="1.1" height="1.0" fill="#241a04" opacity="0.82"/>
<rect x="288.4" y="240.8" width="1.1" height="1.0" fill="#241a04" opacity="0.82"/>
<rect x="291.5" y="240.8" width="1.1" height="1.0" fill="#241a04" opacity="0.82"/>
<rect x="282.1" y="255.8" width="1.1" height="1.0" fill="#241a04" opacity="0.82"/>
<rect x="285.5" y="255.8" width="1.1" height="1.0" fill="#241a04" opacity="0.82"/>
<rect x="288.4" y="255.8" width="1.1" height="1.0" fill="#241a04" opacity="0.82"/>
<rect x="291.5" y="255.8" width="1.1" height="1.0" fill="#241a04" opacity="0.82"/>
<g filter="url(#bl2)">
<line x1="277" y1="251.7" x2="266.5" y2="254.5" stroke="#2e2206" stroke-width="0.65" opacity="0.72"/>
<line x1="277.43" y1="252.9" x2="266.5" y2="258.5" stroke="#2e2206" stroke-width="0.65" opacity="0.72"/>
<line x1="277.86" y1="254.1" x2="266.5" y2="262.5" stroke="#2e2206" stroke-width="0.65" opacity="0.72"/>
<line x1="278.29" y1="255.3" x2="266.5" y2="266.5" stroke="#2e2206" stroke-width="0.65" opacity="0.72"/>
<line x1="278.72" y1="256.8" x2="266.5" y2="271.5" stroke="#2e2206" stroke-width="0.65" opacity="0.72"/>
<line x1="279.6" y1="259.95" x2="268" y2="282" stroke="#2e2206" stroke-width="0.65" opacity="0.72"/>
<line x1="280.81" y1="259.95" x2="270.6" y2="282" stroke="#2e2206" stroke-width="0.65" opacity="0.72"/>
<line x1="282.17" y1="259.95" x2="273.7" y2="282" stroke="#2e2206" stroke-width="0.65" opacity="0.72"/>
<line x1="283.68" y1="259.95" x2="277.3" y2="282" stroke="#2e2206" stroke-width="0.65" opacity="0.72"/>
<line x1="285.28" y1="259.95" x2="281.2" y2="282" stroke="#2e2206" stroke-width="0.65" opacity="0.72"/>
<line x1="286.79" y1="259.95" x2="284.8" y2="282" stroke="#2e2206" stroke-width="0.65" opacity="0.72"/>
<line x1="288" y1="259.95" x2="287.4" y2="282" stroke="#2e2206" stroke-width="0.65" opacity="0.72"/>
<line x1="289.35" y1="259.95" x2="290.5" y2="282" stroke="#2e2206" stroke-width="0.65" opacity="0.72"/>
<line x1="290.71" y1="259.95" x2="293.6" y2="282" stroke="#2e2206" stroke-width="0.65" opacity="0.72"/>
<line x1="292.22" y1="259.95" x2="297.2" y2="282" stroke="#2e2206" stroke-width="0.65" opacity="0.72"/>
<line x1="293.82" y1="259.95" x2="301.1" y2="282" stroke="#2e2206" stroke-width="0.65" opacity="0.72"/>
<line x1="295.33" y1="259.95" x2="304.7" y2="282" stroke="#2e2206" stroke-width="0.65" opacity="0.72"/>
<line x1="296.9" y1="259.65" x2="308.5" y2="281" stroke="#2e2206" stroke-width="0.65" opacity="0.72"/>
<line x1="297.33" y1="256.95" x2="308.5" y2="272" stroke="#2e2206" stroke-width="0.65" opacity="0.72"/>
<line x1="297.76" y1="255.3" x2="308.5" y2="266.5" stroke="#2e2206" stroke-width="0.65" opacity="0.72"/>
<line x1="298.19" y1="253.95" x2="308.5" y2="262" stroke="#2e2206" stroke-width="0.65" opacity="0.72"/>
<line x1="298.62" y1="252.75" x2="308.5" y2="258" stroke="#2e2206" stroke-width="0.65" opacity="0.72"/>
<line x1="299.05" y1="251.7" x2="308.5" y2="254.5" stroke="#2e2206" stroke-width="0.65" opacity="0.72"/>
</g>
<rect x="283.8" y="143.6" width="7" height="1.7" rx="0.8" fill="#fffbe8" opacity="0.95" filter="url(#bl2)"/>
<rect x="267.2" y="137" width="40.8" height="144.6" fill="url(#pvl)"/>
<rect x="267.2" y="272" width="40.8" height="9.6" fill="url(#pvb)"/>
<rect x="265.2" y="250" width="5" height="32" fill="#3a2a08" opacity="0.5" filter="url(#bl1)"/>
</g>
<text x="380.2" y="135.3" font-size="8.9" font-weight="bold" text-anchor="middle" fill="#000">Neural data</text>
<text x="489.1" y="134.8" font-size="8.92" font-weight="bold" text-anchor="middle" fill="#000">Spike envelope</text>
<path d="M356.59 279.64l.3-.09 .3 .21 .3-.42 .3 .55 .3-.65 .3 1.1 .3-1.27 .3 1.44 .3-1.53 .3 1.17 .3-1.03 .3 .74 .3-.52 .3 .43 .3-.26 .3 .18 .3-.14" fill="none" stroke="#259a25" stroke-width="0.45" stroke-opacity="0.95" stroke-linejoin="round"/>
<path d="M388.68 279.63l.3-.1 .3 .33 .3-.45 .3 .58 .3-1.27 .3 1.36 .3-1.28 .3 1.98 .3-1.65 .3 .92 .3-1.31 .3 1.39 .3-.76 .3 .41 .3-.26 .3 .15" fill="none" stroke="#259a25" stroke-width="0.45" stroke-opacity="0.95" stroke-linejoin="round"/>
<path d="M329.8 279.76l.45 .01 .45-.16 .45-.13 .45-.12 .45 .18 .45 .01 .45-.2 .45 .01 .45 .51 .45-.19 .45-.22 .45 .1 .45 .3 .45-.05 .45-.02 .45-.25 .45 .06 .45 .1 .45-.34 .45 .27 .45-.15 .45 .33 .45-.45 .45 .34 .45 .1 .45-.35 .45 .36 .45-.01 .45-.46 .45 .37 .45-.38 .45 .27 .45-.03 .45-.13 .45 .07 .45 .26 .45-.27 .45-.09 .45 .3 .45-.14 .45 .19 .45-.3 .45 .04 .45 .26 .45-.16 .45 0 .45-.14 .45-.12 .45 .49 .45-.45 .45 .41 .45-.26 .45 .31 .45-.29 .45 .29 .45-.21 .45-.18 .45 .31 .45-.03 .45 .04 .45-.21 .45-.34 .45 .61 .45-.95 .45 1.09 .45-.11 .45-.48 .45 .68 .45-.85 .45 .28 .45 .36 .45-.33 .45 .21 .45-.06 .45 .18 .45 .02 .45-.15 .45 .05 .45-.36 .45 .3 .45 .08 .45-.24 .45 .08 .45-.04 .45 .26 .45-.35 .45 .05 .45-.22 .45 .23 .45 .11 .45 .16 .45 0 .45-.32 .45 .35 .45-.43 .45 .34 .45-.36 .45 .14 .45-.18 .45 .42 .45-.01 .45-.37 .45 .2 .45-.14 .45 .13 .45 .03 .45-.24 .45 .41 .45-.32 .45 .09 .45-.21 .45-.03 .45 .11 .45 .07 .45 .32 .45-.02 .45-.22 .45-.01 .45 .11 .45 .1 .45-.28 .45 .25 .45-.21 .45 .1 .45 .08 .45-.13 .45 .13 .45 .02 .45-.63 .45-.09 .45 .01 .45-.01 .45-.14 .45-.52 .45 .4 .45 1.12 .45 .76 .45-1.41 .45 .1 .45 .13 .45 .35 .45 .05 .45 .07 .45-.42 .45 .2 .45-.21 .45 .27 .45-.33 .45 .35 .45-.2 .45 .12 .45-.1 .45-.12 .45 .1 .45-.24 .45-.01 .45 .27 .45-.03 .45 .19 .45-.44 .45 .29 .45-.04 .45 .06 .45 .07 .45-.11 .45 .02 .45-.03 .45 .06 .45-.2 .45 .17 .45 .06 .45-.26 .45 .43 .45-.13 .45 .12 .45-.36 .45 .08 .45-.1 .45-.11 .45-.02 .45 .12 .45 .34 .45-.38 .45 .28 .45-.24 .45-.09 .45 .06 .45 .27 .45-.1 .45 .03 .45-.06 .45-.09 .45 .11 .45 .24 .45-.39 .45 .29 .45-.26 .45-.04 .45 .07 .45-.12 .45 .46 .45-.31 .45-.11 .45-.09 .45 .03 .45 .09 .45 .11 .45 .09 .45 .21 .45-.05 .45-.35 .45 .2 .45 .17 .45-.45 .45 .41 .45-.25 .45 .21 .45-.25 .45 .17" fill="none" stroke="#259a25" stroke-width="0.5" stroke-opacity="0.95" stroke-linejoin="round"/>
<line x1="329.8" y1="279.6" x2="428.4" y2="279.6" stroke="#259a25" stroke-width="0.7" stroke-opacity="0.95"/>
<path d="M357.03 274.84l.3-.15 .3 .19 .3-.35 .3 .48 .3-.64 .3 1.07 .3-1.03 .3 1.03 .3-1.56 .3 1.46 .3-1.25 .3 1.13 .3-.9 .3 .68 .3-.4 .3 .25 .3-.1" fill="none" stroke="#259a25" stroke-width="0.45" stroke-opacity="0.45" stroke-linejoin="round"/>
<path d="M388.68 274.83l.3-.13 .3 .26 .3-.39 .3 .64 .3-1.14 .3 1.54 .3-1.47 .3 1.75 .3-2.14 .3 1.75 .3-1.29 .3 .89 .3-.71 .3 .56 .3-.24 .3 .16" fill="none" stroke="#259a25" stroke-width="0.45" stroke-opacity="0.45" stroke-linejoin="round"/>
<path d="M329.8 274.84l.45-.09 .45 .05 .45-.04 .45 .02 .45 .04 .45-.01 .45-.05 .45 .02 .45 .01 .45-.01 .45 .03 .45 .01 .45-.04 .45 .01 .45-.04 .45 .03 .45 .06 .45-.05 .45 .01 .45 0 .45 0 .45 .02 .45-.05 .45 0 .45 .06 .45-.04 .45 .05 .45-.08 .45 .06 .45-.03 .45 0 .45 .04 .45-.07 .45 .03 .45-.02 .45 .01 .45 .04 .45-.04 .45 .04 .45-.08 .45 .1 .45 0 .45-.03 .45-.05 .45 .05 .45-.05 .45 .02 .45-.03 .45 0 .45 .01 .45 0 .45 .07 .45-.06 .45 .06 .45-.09 .45 0 .45 0 .45 .12 .45 0 .45-.22 .45 .36 .45-.4 .45-.03 .45 .32 .45-.51 .45 1.12 .45-.9 .45 .29 .45-.02 .45-.26 .45 .32 .45 .06 .45-.17 .45-.1 .45 .12 .45-.03 .45-.02 .45 .02 .45-.04 .45 0 .45 .02 .45-.04 .45 .05 .45-.04 .45 .01 .45 .06 .45-.03 .45-.03 .45 .04 .45 .03 .45-.01 .45-.01 .45-.04 .45 .02 .45 0 .45-.05 .45 .06 .45-.01 .45 0 .45 .02 .45-.07 .45 .01 .45 .08 .45-.07 .45 0 .45-.02 .45 .02 .45 .03 .45-.05 .45 .02 .45 0 .45-.01 .45 .06 .45 .02 .45-.01 .45-.04 .45-.04 .45 .03 .45 .02 .45-.02 .45 .04 .45 0 .45 .01 .45-.04 .45-.03 .45 .1 .45 .02 .45-.21 .45-.03 .45 .28 .45 .24 .45 .35 .45-1.66 .45 .23 .45 .52 .45 .32 .45 .51 .45-.53 .45-.08 .45-.32 .45 .41 .45-.07 .45 .1 .45-.22 .45 .01 .45 .04 .45 0 .45 .02 .45-.03 .45 .05 .45 .02 .45-.09 .45 .09 .45-.08 .45 .02 .45 .02 .45 0 .45-.03 .45 .06 .45 .01 .45-.06 .45-.01 .45 .04 .45-.04 .45 .08 .45-.01 .45 0 .45-.05 .45 .04 .45-.04 .45 .01 .45-.04 .45 0 .45 .06 .45-.05 .45 .08 .45-.04 .45 0 .45 .03 .45-.06 .45-.03 .45 .03 .45 .02 .45-.03 .45 .01 .45 .05 .45-.04 .45 0 .45-.01 .45 .03 .45 .04 .45-.08 .45 .07 .45-.01 .45-.02 .45 0 .45 0 .45-.05 .45 .05 .45 .04 .45-.02 .45-.03 .45 0 .45 .04 .45-.09 .45 .02 .45 .08 .45-.03 .45 .02 .45-.03 .45-.05 .45 .05 .45 .01 .45-.06 .45 .04 .45 .05 .45-.09 .45 0 .45 0" fill="none" stroke="#259a25" stroke-width="0.5" stroke-opacity="0.45" stroke-linejoin="round"/>
<line x1="329.8" y1="274.79" x2="428.4" y2="274.79" stroke="#259a25" stroke-width="0.7" stroke-opacity="0.45"/>
<path d="M357.47 270.01l.3-.11 .3 .16 .3-.28 .3 .47 .3-.64 .3 1.01 .3-1.44 .3 1.77 .3-1.82 .3 1.68 .3-1.6 .3 1.17 .3-.68 .3 .41 .3-.27 .3 .2 .3-.09" fill="none" stroke="#259a25" stroke-width="0.45" stroke-opacity="0.95" stroke-linejoin="round"/>
<path d="M388.68 270.04l.3-.15 .3 .33 .3-.52 .3 .82 .3-.86 .3 1.25 .3-2.02 .3 1.58 .3-1.23 .3 1.61 .3-1.26 .3 .98 .3-1.02 .3 .67 .3-.35 .3 .18" fill="none" stroke="#259a25" stroke-width="0.45" stroke-opacity="0.95" stroke-linejoin="round"/>
<path d="M329.8 269.97l.45-.01 .45 .01 .45 .02 .45 .01 .45-.02 .45 .02 .45-.06 .45 .09 .45-.05 .45 0 .45 0 .45-.02 .45 .06 .45-.04 .45-.03 .45 .02 .45 .01 .45-.01 .45-.02 .45 .08 .45-.08 .45 .06 .45-.03 .45 .01 .45 .01 .45-.06 .45 .05 .45-.01 .45 0 .45-.04 .45 0 .45 .05 .45-.01 .45-.01 .45-.02 .45 .02 .45 .03 .45 .02 .45-.01 .45-.07 .45 .03 .45 .02 .45 .03 .45-.03 .45 .03 .45-.01 .45-.07 .45 .09 .45-.04 .45 .01 .45-.04 .45 .07 .45 .01 .45-.07 .45 .02 .45-.05 .45 .08 .45-.02 .45-.06 .45 .12 .45-.06 .45 .19 .45 .02 .45-.6 .45 .06 .45 .8 .45-1.18 .45 .16 .45 1.09 .45-.22 .45-.54 .45 .11 .45-.09 .45 .09 .45 .01 .45 .1 .45 0 .45-.05 .45 .07 .45-.04 .45 .02 .45 0 .45-.04 .45 .06 .45-.04 .45 .01 .45-.04 .45 .01 .45 .02 .45 .03 .45-.03 .45 .01 .45 .02 .45-.03 .45-.04 .45 .05 .45 .04 .45-.09 .45 .04 .45 .02 .45-.01 .45-.04 .45 .04 .45-.05 .45 0 .45 .03 .45-.02 .45 .04 .45 .04 .45-.07 .45 .08 .45-.07 .45 .05 .45-.03 .45 .02 .45 .01 .45 0 .45-.07 .45 .08 .45-.08 .45 .06 .45-.07 .45 .03 .45-.02 .45 .05 .45-.04 .45 .04 .45-.11 .45 .04 .45 .38 .45-.21 .45-.13 .45 .46 .45 .69 .45-1.55 .45-.55 .45 .38 .45-.08 .45 .52 .45 .42 .45-.07 .45-.41 .45 .09 .45 .09 .45 .08 .45-.06 .45 .01 .45-.03 .45 .03 .45 .01 .45-.03 .45 .03 .45 .01 .45-.04 .45 .01 .45-.03 .45 .01 .45-.02 .45 0 .45 0 .45 .09 .45-.02 .45-.02 .45 .03 .45-.07 .45 .02 .45 .02 .45 .03 .45-.03 .45-.04 .45-.01 .45 0 .45 .07 .45 .02 .45-.08 .45 .07 .45-.08 .45 .08 .45-.01 .45-.03 .45 0 .45-.02 .45 .07 .45-.07 .45 0 .45 .05 .45-.02 .45 0 .45 0 .45-.04 .45 0 .45 .08 .45-.02 .45-.01 .45-.01 .45-.03 .45-.01 .45 .04 .45-.05 .45 0 .45 .03 .45 .02 .45 .04 .45-.05 .45-.01 .45 .06 .45-.06 .45 .01 .45 0 .45-.04 .45 .01 .45-.01 .45 .08 .45-.05 .45 .03 .45-.02 .45 .01 .45 .03 .45-.04" fill="none" stroke="#259a25" stroke-width="0.5" stroke-opacity="0.95" stroke-linejoin="round"/>
<line x1="329.8" y1="269.99" x2="428.4" y2="269.99" stroke="#259a25" stroke-width="0.7" stroke-opacity="0.95"/>
<path d="M357.9 265.23l.3-.14 .3 .26 .3-.43 .3 .56 .3-.58 .3 .89 .3-1.25 .3 1.45 .3-1.6 .3 1.6 .3-1.13 .3 .62 .3-.76 .3 .73 .3-.47 .3 .25 .3-.1" fill="none" stroke="#259a25" stroke-width="0.45" stroke-opacity="0.45" stroke-linejoin="round"/>
<path d="M388.68 265.21l.3-.1 .3 .17 .3-.31 .3 .55 .3-.7 .3 1.23 .3-1.81 .3 2.01 .3-2.34 .3 1.87 .3-1.06 .3 .82 .3-.75 .3 .6 .3-.34 .3 .17" fill="none" stroke="#259a25" stroke-width="0.45" stroke-opacity="0.45" stroke-linejoin="round"/>
<path d="M329.8 265.22l.45 0 .45-.06 .45 .03 .45-.05 .45 .08 .45-.08 .45 .02 .45 .03 .45-.04 .45 .02 .45-.01 .45 .04 .45-.02 .45 .03 .45-.02 .45 .01 .45-.07 .45 .07 .45 .02 .45-.08 .45 .07 .45 0 .45-.07 .45 .05 .45-.03 .45 .01 .45 .06 .45-.04 .45-.01 .45 .03 .45-.04 .45-.03 .45 .09 .45-.08 .45 .07 .45 .01 .45-.05 .45-.04 .45 .04 .45 0 .45 .03 .45 .02 .45-.08 .45-.02 .45 .1 .45-.1 .45 .1 .45-.01 .45 0 .45-.05 .45-.02 .45 .04 .45-.02 .45 .03 .45-.05 .45 .03 .45 .04 .45-.03 .45 .04 .45-.01 .45-.12 .45 .13 .45-.2 .45-.15 .45 .4 .45-.69 .45-.04 .45 .47 .45-.31 .45 .68 .45-.45 .45 .03 .45 .24 .45-.02 .45 .08 .45-.03 .45 0 .45-.11 .45 0 .45 .07 .45-.03 .45-.04 .45 .05 .45-.02 .45-.01 .45 .05 .45 0 .45-.04 .45 .04 .45-.05 .45 .07 .45-.05 .45 .01 .45-.03 .45 .03 .45-.02 .45 .05 .45-.07 .45 .04 .45-.01 .45 .05 .45-.03 .45 0 .45-.05 .45 0 .45 .05 .45 .03 .45-.08 .45 .03 .45 0 .45-.04 .45 .06 .45-.01 .45 0 .45 .03 .45-.02 .45-.04 .45 .08 .45-.01 .45-.02 .45-.06 .45 .05 .45-.06 .45 .03 .45 .01 .45 0 .45 .07 .45-.04 .45 .06 .45-.12 .45 .31 .45-.76 .45 1.27 .45 0 .45 .24 .45 .1 .45-.48 .45-1.05 .45 1.05 .45-.29 .45-.37 .45-.19 .45 .37 .45-.22 .45 .01 .45 .06 .45 .03 .45-.06 .45-.01 .45 .06 .45-.02 .45 0 .45 0 .45 .02 .45 0 .45-.05 .45 .01 .45 .06 .45-.02 .45-.03 .45-.02 .45 .06 .45-.06 .45 .02 .45 .01 .45 .02 .45-.01 .45 0 .45-.05 .45 .01 .45 .04 .45-.01 .45 .03 .45-.08 .45 .09 .45-.05 .45-.02 .45-.02 .45 0 .45 .09 .45-.02 .45 .02 .45-.02 .45-.04 .45-.02 .45 .03 .45-.03 .45 0 .45 .03 .45 .01 .45 .04 .45-.02 .45-.08 .45 .02 .45 .04 .45 .01 .45 .03 .45-.05 .45 0 .45-.05 .45 .04 .45 .05 .45-.08 .45 .04 .45 .04 .45 .01 .45-.1 .45 .03 .45-.01 .45 .08 .45-.02 .45-.05 .45 .01 .45 .03 .45-.07 .45 .02 .45 .06 .45-.05 .45-.01" fill="none" stroke="#259a25" stroke-width="0.5" stroke-opacity="0.45" stroke-linejoin="round"/>
<line x1="329.8" y1="265.18" x2="428.4" y2="265.18" stroke="#259a25" stroke-width="0.7" stroke-opacity="0.45"/>
<path d="M358.34 260.42l.3-.11 .3 .17 .3-.3 .3 .46 .3-.64 .3 1.02 .3-1.14 .3 .94 .3-1.29 .3 1.43 .3-1.16 .3 .88 .3-.7 .3 .65 .3-.43 .3 .3 .3-.16" fill="none" stroke="#259a25" stroke-width="0.45" stroke-opacity="0.95" stroke-linejoin="round"/>
<path d="M388.68 260.43l.3-.12 .3 .22 .3-.5 .3 .93 .3-1.07 .3 1.54 .3-2.28 .3 2.5 .3-2.1 .3 1.68 .3-1.46 .3 .86 .3-.49 .3 .48 .3-.32 .3 .12" fill="none" stroke="#259a25" stroke-width="0.45" stroke-opacity="0.95" stroke-linejoin="round"/>
<path d="M329.8 260.34l.45 .03 .45 .04 .45-.06 .45 .05 .45-.01 .45-.03 .45 .03 .45 .02 .45-.07 .45 .01 .45 .01 .45-.02 .45 .02 .45 .04 .45 .01 .45-.02 .45-.01 .45 .03 .45-.07 .45 .05 .45-.03 .45 .06 .45-.08 .45 .01 .45-.02 .45 .04 .45 .02 .45-.04 .45 .06 .45-.01 .45-.05 .45 .03 .45 .01 .45-.05 .45 .05 .45-.01 .45 .03 .45-.06 .45-.01 .45 .04 .45 .03 .45-.08 .45 .01 .45-.01 .45 .09 .45-.02 .45-.07 .45 .08 .45-.04 .45-.05 .45 .01 .45 .02 .45-.02 .45 .01 .45-.01 .45 .01 .45-.01 .45 .03 .45 .05 .45 0 .45-.03 .45-.1 .45 .24 .45-.36 .45-.13 .45 .58 .45-.09 .45 .22 .45-.7 .45 .91 .45-.09 .45-.97 .45 .85 .45-.21 .45-.02 .45-.14 .45 .06 .45 0 .45-.01 .45-.07 .45-.01 .45 .05 .45-.02 .45 .04 .45-.04 .45-.03 .45 .02 .45 .06 .45-.03 .45-.05 .45 0 .45 .02 .45 .06 .45-.05 .45-.02 .45-.01 .45 .01 .45 .03 .45-.04 .45-.01 .45 .07 .45-.01 .45-.01 .45-.03 .45 .01 .45 .05 .45-.06 .45 .02 .45-.04 .45 .03 .45-.03 .45 .07 .45 .02 .45-.09 .45 .03 .45 .06 .45-.09 .45 .07 .45-.07 .45 .04 .45 .03 .45 0 .45 0 .45-.05 .45 .03 .45-.07 .45 .17 .45-.03 .45-.13 .45 .05 .45 .1 .45-.32 .45-.11 .45 1.27 .45-1.78 .45 1.96 .45-1.01 .45-.18 .45 .03 .45-.51 .45 .42 .45 .11 .45-.13 .45 .05 .45 .02 .45 .1 .45-.07 .45 .1 .45-.03 .45 0 .45-.06 .45 .04 .45-.03 .45 .07 .45-.05 .45-.02 .45 .03 .45-.02 .45-.01 .45 .06 .45-.06 .45 .07 .45-.01 .45 .01 .45-.01 .45 .01 .45 .01 .45-.1 .45 .03 .45 .06 .45-.03 .45 .03 .45-.04 .45-.01 .45 .05 .45-.06 .45 .01 .45 .05 .45-.05 .45 .03 .45-.05 .45 0 .45 .08 .45-.08 .45 0 .45-.02 .45 .01 .45 .03 .45 .02 .45 .03 .45 .01 .45-.06 .45 .01 .45-.01 .45 .01 .45 .04 .45-.05 .45 .04 .45 .01 .45-.05 .45 0 .45-.03 .45 .06 .45 .01 .45-.01 .45-.04 .45 .04 .45-.05 .45 .06 .45 .02 .45-.07 .45 .03 .45-.01 .45-.01 .45 .05 .45-.06 .45 .05 .45 0 .45-.07" fill="none" stroke="#259a25" stroke-width="0.5" stroke-opacity="0.95" stroke-linejoin="round"/>
<line x1="329.8" y1="260.37" x2="428.4" y2="260.37" stroke="#259a25" stroke-width="0.7" stroke-opacity="0.95"/>
<path d="M358.78 255.61l.3-.14 .3 .21 .3-.36 .3 .54 .3-.64 .3 .83 .3-1.37 .3 1.7 .3-1.48 .3 1.59 .3-1.55 .3 1.1 .3-.86 .3 .6 .3-.3 .3 .17 .3-.12" fill="none" stroke="#259a25" stroke-width="0.45" stroke-opacity="0.95" stroke-linejoin="round"/>
<path d="M388.68 255.64l.3-.2 .3 .24 .3-.32 .3 .46 .3-1.04 .3 1.73 .3-1.67 .3 1.35 .3-1.3 .3 1.51 .3-1.23 .3 .64 .3-.48 .3 .51 .3-.34 .3 .13" fill="none" stroke="#259a25" stroke-width="0.45" stroke-opacity="0.95" stroke-linejoin="round"/>
<path d="M329.8 255.58l.45-.02 .45 .01 .45 0 .45-.04 .45-.01 .45 .05 .45 .01 .45-.01 .45 .04 .45-.08 .45-.01 .45 .08 .45 0 .45 .01 .45-.01 .45-.04 .45 .01 .45 .01 .45-.01 .45-.01 .45 .04 .45-.01 .45-.07 .45 .09 .45-.05 .45 .03 .45 .02 .45-.03 .45-.04 .45 .04 .45-.02 .45-.03 .45 0 .45 .06 .45-.03 .45 0 .45-.01 .45 .03 .45 0 .45 .01 .45-.04 .45 .03 .45-.01 .45-.04 .45 .07 .45-.02 .45-.02 .45 .01 .45 0 .45-.01 .45 .01 .45 .03 .45-.05 .45 .04 .45-.07 .45 .03 .45 .04 .45-.01 .45-.06 .45 .03 .45 .01 .45 .06 .45-.14 .45-.03 .45 .02 .45 .03 .45 .26 .45-.32 .45 .43 .45-.71 .45 .2 .45 .56 .45-.42 .45 .07 .45-.05 .45-.11 .45 .16 .45-.09 .45 .04 .45 .07 .45 0 .45 .02 .45-.02 .45-.03 .45-.02 .45 0 .45 0 .45 .07 .45-.05 .45 .01 .45 0 .45-.04 .45 .05 .45-.06 .45 .06 .45-.04 .45 .07 .45-.03 .45-.01 .45-.04 .45 .01 .45 0 .45 .07 .45-.04 .45 0 .45-.01 .45-.01 .45 .03 .45-.02 .45 .01 .45 .02 .45-.01 .45-.05 .45 .08 .45-.08 .45 .04 .45 .04 .45 0 .45-.06 .45 .02 .45 .01 .45-.04 .45 .02 .45 .02 .45-.05 .45 .08 .45 .07 .45-.28 .45 .43 .45-.27 .45 .34 .45-.34 .45-.06 .45-.9 .45 .4 .45-.57 .45 1.23 .45 .22 .45-.46 .45 .6 .45-.1 .45-.49 .45 .08 .45-.01 .45 .02 .45 .07 .45 0 .45 .02 .45-.04 .45-.01 .45 .05 .45-.09 .45 .05 .45-.02 .45 .04 .45-.04 .45-.02 .45 .08 .45 0 .45 0 .45-.08 .45 .02 .45 0 .45 .01 .45 .01 .45 .03 .45 .02 .45-.03 .45 0 .45-.03 .45-.01 .45 .06 .45-.06 .45 .06 .45-.02 .45-.04 .45-.01 .45 .05 .45-.01 .45-.01 .45 0 .45-.03 .45 .07 .45-.04 .45 .04 .45-.01 .45-.01 .45-.06 .45 0 .45 .02 .45 .06 .45-.08 .45-.01 .45 .02 .45 0 .45 .03 .45-.04 .45 .06 .45-.02 .45 .01 .45 .02 .45-.05 .45 .06 .45-.05 .45 .02 .45 .01 .45-.04 .45 .05 .45-.08 .45 .05 .45 0 .45-.05 .45 .05 .45 .04 .45-.03 .45-.03 .45 .03 .45 .01 .45 0" fill="none" stroke="#259a25" stroke-width="0.5" stroke-opacity="0.95" stroke-linejoin="round"/>
<line x1="329.8" y1="255.57" x2="428.4" y2="255.57" stroke="#259a25" stroke-width="0.7" stroke-opacity="0.95"/>
<path d="M359.22 250.8l.3-.14 .3 .21 .3-.25 .3 .39 .3-.73 .3 1.2 .3-1.22 .3 1.14 .3-1.3 .3 1.09 .3-.77 .3 .87 .3-.8 .3 .4 .3-.26 .3 .19 .3-.1" fill="none" stroke="#259a25" stroke-width="0.45" stroke-opacity="0.45" stroke-linejoin="round"/>
<path d="M388.68 250.8l.3-.16 .3 .28 .3-.41 .3 .8 .3-1.12 .3 1.43 .3-1.95 .3 1.6 .3-1.63 .3 2.05 .3-1.77 .3 1.29 .3-.8 .3 .48 .3-.21 .3 .11" fill="none" stroke="#259a25" stroke-width="0.45" stroke-opacity="0.45" stroke-linejoin="round"/>
<path d="M329.8 250.8l.45 0 .45-.03 .45-.01 .45 .02 .45 .02 .45-.05 .45 .01 .45 0 .45-.05 .45 .09 .45-.01 .45 .01 .45-.07 .45 0 .45 .03 .45-.02 .45-.02 .45-.01 .45 .02 .45 0 .45 .03 .45 .04 .45-.09 .45 0 .45 .1 .45-.1 .45 .02 .45 .05 .45-.01 .45-.02 .45 .05 .45-.08 .45 .05 .45 .02 .45 .01 .45-.08 .45 .05 .45-.04 .45 .01 .45-.02 .45 0 .45 .09 .45-.07 .45 .02 .45 .02 .45 .02 .45-.01 .45-.02 .45 .03 .45-.06 .45 .05 .45-.07 .45 .06 .45 0 .45 0 .45-.01 .45 .04 .45-.08 .45 .03 .45-.02 .45 .02 .45 .03 .45 .02 .45-.06 .45-.13 .45-.02 .45 .25 .45 .06 .45 .2 .45-.52 .45 .31 .45-.45 .45 .63 .45-.72 .45 .32 .45 .3 .45-.15 .45-.07 .45 0 .45-.05 .45 0 .45 .09 .45-.07 .45 .04 .45-.04 .45 .07 .45-.04 .45-.02 .45 .03 .45-.03 .45-.01 .45-.01 .45 .02 .45 .07 .45-.05 .45-.01 .45 0 .45-.03 .45 .08 .45-.03 .45-.03 .45 .01 .45 .04 .45-.02 .45-.03 .45-.02 .45 .09 .45-.05 .45 .02 .45-.03 .45 0 .45-.02 .45 .03 .45 .03 .45-.08 .45 .05 .45 0 .45-.04 .45-.01 .45 .05 .45-.01 .45 .03 .45-.01 .45-.02 .45 .02 .45 .01 .45-.07 .45-.04 .45 .29 .45-.17 .45-.28 .45 .84 .45-.84 .45-.52 .45 .06 .45 .17 .45 1.08 .45-.98 .45 1.09 .45-1.08 .45 .36 .45 .18 .45 .05 .45-.09 .45-.09 .45 0 .45-.03 .45 .02 .45-.01 .45 .05 .45-.06 .45 0 .45 .08 .45-.08 .45 .06 .45-.06 .45 .04 .45 .06 .45-.07 .45 .07 .45-.04 .45 .02 .45-.05 .45 .02 .45-.02 .45-.02 .45 .08 .45 .01 .45-.06 .45-.01 .45 .04 .45-.06 .45 0 .45-.01 .45 .06 .45 .03 .45-.04 .45-.05 .45 .05 .45 .03 .45-.07 .45 .03 .45 0 .45 0 .45 .06 .45-.03 .45-.01 .45-.05 .45 .02 .45 .01 .45 .01 .45 0 .45 0 .45 .02 .45-.03 .45 0 .45-.03 .45 .08 .45-.03 .45-.05 .45 .02 .45 .03 .45 0 .45-.06 .45 .09 .45-.06 .45 .06 .45-.01 .45 .01 .45-.07 .45 .04 .45-.04 .45 .05 .45 .01 .45-.04 .45-.01 .45-.03 .45 .09 .45-.09" fill="none" stroke="#259a25" stroke-width="0.5" stroke-opacity="0.45" stroke-linejoin="round"/>
<line x1="329.8" y1="250.76" x2="428.4" y2="250.76" stroke="#259a25" stroke-width="0.7" stroke-opacity="0.45"/>
<path d="M359.66 245.99l.3-.15 .3 .29 .3-.49 .3 .6 .3-.78 .3 1.42 .3-1.55 .3 1.54 .3-2.14 .3 1.95 .3-1.24 .3 .86 .3-1.08 .3 .92 .3-.35 .3 .33 .3-.22" fill="none" stroke="#259a25" stroke-width="0.45" stroke-opacity="0.95" stroke-linejoin="round"/>
<path d="M388.68 245.98l.3-.16 .3 .4 .3-.71 .3 .97 .3-1.17 .3 1.48 .3-1.92 .3 1.8 .3-1.75 .3 1.9 .3-1.22 .3 .93 .3-.9 .3 .46 .3-.27 .3 .17" fill="none" stroke="#259a25" stroke-width="0.45" stroke-opacity="0.95" stroke-linejoin="round"/>
<path d="M329.8 245.9l.45 .02 .45 .01 .45 0 .45-.03 .45 0 .45 .1 .45-.02 .45-.05 .45-.01 .45 .01 .45 0 .45-.03 .45 .06 .45-.02 .45-.03 .45 .08 .45-.01 .45-.02 .45 .02 .45-.03 .45-.03 .45 .08 .45-.04 .45-.05 .45 0 .45 .03 .45 .04 .45 .01 .45 .01 .45-.03 .45 .02 .45-.02 .45 .02 .45 .01 .45-.05 .45-.02 .45 .02 .45 0 .45-.03 .45 .07 .45 0 .45-.07 .45 .02 .45 .01 .45-.04 .45-.01 .45 .06 .45-.03 .45 .05 .45-.01 .45-.03 .45 .02 .45-.01 .45 .03 .45-.05 .45 .05 .45-.01 .45-.02 .45-.02 .45 .03 .45 .03 .45-.09 .45 .11 .45 0 .45-.15 .45-.17 .45 .29 .45-.58 .45 1.31 .45-.86 .45-.2 .45-1.02 .45 1.35 .45 .41 .45-.32 .45 .51 .45-.39 .45-.12 .45-.14 .45 .02 .45 .01 .45 .05 .45-.02 .45-.08 .45 0 .45 .07 .45-.05 .45 .01 .45-.02 .45-.01 .45 .01 .45 .06 .45-.02 .45-.01 .45 .02 .45 0 .45-.05 .45-.01 .45-.01 .45 0 .45 .06 .45-.04 .45 .05 .45-.06 .45 .05 .45-.02 .45-.01 .45 .06 .45-.01 .45-.02 .45 .04 .45-.02 .45-.08 .45 .05 .45 0 .45 0 .45 .03 .45-.05 .45 .04 .45 .03 .45-.09 .45 .06 .45 0 .45-.03 .45 .06 .45-.11 .45 .01 .45 .15 .45 .1 .45 .05 .45-.44 .45 .14 .45-.43 .45 1.22 .45 .31 .45-.68 .45-1.14 .45 1.02 .45 .29 .45-.11 .45-.44 .45 .12 .45-.03 .45-.12 .45 .07 .45-.02 .45-.01 .45-.01 .45 .01 .45-.01 .45 .03 .45-.01 .45 0 .45-.04 .45 .05 .45-.02 .45-.04 .45 .03 .45-.02 .45 .05 .45-.06 .45 0 .45 .03 .45-.03 .45 .05 .45-.05 .45 0 .45 .02 .45 0 .45-.02 .45 .07 .45 0 .45-.03 .45 .01 .45-.04 .45 .07 .45-.08 .45 .02 .45 .03 .45-.05 .45 .05 .45 .01 .45-.03 .45 .05 .45-.05 .45 0 .45 .04 .45 0 .45 .02 .45-.09 .45 .05 .45-.06 .45 .05 .45 .02 .45 .01 .45-.06 .45 .03 .45-.03 .45 .04 .45-.01 .45 .05 .45-.04 .45 .01 .45-.06 .45 .05 .45-.02 .45 .02 .45-.03 .45 0 .45 .04 .45-.03 .45 .02 .45 .02 .45-.07 .45 .01 .45 .01 .45-.02 .45 0 .45 .08" fill="none" stroke="#259a25" stroke-width="0.5" stroke-opacity="0.95" stroke-linejoin="round"/>
<line x1="329.8" y1="245.95" x2="428.4" y2="245.95" stroke="#259a25" stroke-width="0.7" stroke-opacity="0.95"/>
<path d="M360.1 241.2l.3-.16 .3 .31 .3-.43 .3 .67 .3-1.3 .3 1.44 .3-1.13 .3 1.55 .3-2.12 .3 2.47 .3-2.42 .3 1.73 .3-1.28 .3 .87 .3-.57 .3 .51 .3-.26" fill="none" stroke="#259a25" stroke-width="0.45" stroke-opacity="0.95" stroke-linejoin="round"/>
<path d="M388.68 241.21l.3-.14 .3 .19 .3-.46 .3 1.01 .3-1.32 .3 1.58 .3-1.64 .3 2.01 .3-1.84 .3 1.12 .3-1.36 .3 1.42 .3-1.04 .3 .63 .3-.3 .3 .12" fill="none" stroke="#259a25" stroke-width="0.45" stroke-opacity="0.95" stroke-linejoin="round"/>
<path d="M329.8 241.14l.45 .02 .45-.02 .45 .01 .45 .03 .45-.01 .45-.03 .45 .02 .45-.01 .45 .03 .45-.08 .45 .05 .45 .03 .45 .01 .45-.08 .45-.01 .45 .08 .45-.06 .45 0 .45 .03 .45 .01 .45 .01 .45-.04 .45 0 .45 .06 .45-.05 .45-.04 .45 .05 .45-.01 .45-.04 .45 .03 .45-.01 .45 .06 .45-.02 .45 .03 .45-.01 .45 .01 .45-.03 .45-.05 .45 .03 .45 .01 .45 .04 .45-.01 .45-.02 .45 .02 .45-.08 .45 .04 .45 0 .45 .01 .45-.04 .45 .02 .45 .04 .45 0 .45 0 .45-.03 .45-.02 .45 .02 .45 .05 .45-.06 .45-.01 .45 .05 .45-.03 .45-.03 .45 .03 .45 .06 .45 0 .45-.07 .45-.21 .45 .48 .45-.18 .45-.54 .45-.58 .45 .1 .45-.16 .45 1.07 .45-.37 .45 .93 .45-.43 .45 .12 .45-.24 .45 .04 .45 .06 .45-.01 .45-.12 .45 .08 .45-.06 .45 .05 .45-.01 .45-.04 .45 .05 .45-.03 .45 .04 .45 .01 .45-.04 .45-.04 .45 .07 .45 .01 .45-.05 .45 .04 .45-.01 .45-.03 .45-.02 .45 .02 .45-.01 .45 .05 .45-.02 .45 .02 .45 .02 .45-.01 .45-.01 .45-.02 .45 .01 .45-.03 .45 .01 .45-.03 .45 .01 .45 .03 .45-.04 .45 .08 .45-.05 .45 .02 .45-.03 .45 .03 .45 .03 .45-.04 .45-.03 .45 .1 .45 .03 .45-.08 .45-.22 .45-.16 .45 0 .45 .52 .45-.23 .45 .37 .45-.11 .45 .09 .45-.39 .45-.87 .45 .91 .45 .49 .45-.33 .45-.23 .45 .08 .45 .03 .45-.01 .45-.02 .45 .1 .45-.01 .45-.06 .45 .04 .45-.05 .45 0 .45 .03 .45 .03 .45-.07 .45 .09 .45-.07 .45-.01 .45 .07 .45-.06 .45 0 .45 .07 .45-.08 .45 .01 .45 0 .45 .02 .45 0 .45-.02 .45 .02 .45-.02 .45 .02 .45 .02 .45 .02 .45-.08 .45 .03 .45 .02 .45 .04 .45-.09 .45 .06 .45-.02 .45 0 .45-.04 .45 .03 .45-.01 .45 .02 .45-.02 .45 .06 .45-.01 .45 .02 .45-.07 .45 .03 .45 .01 .45-.06 .45 .01 .45 .03 .45 0 .45-.04 .45 .04 .45-.04 .45 .01 .45 .06 .45-.01 .45 .02 .45-.01 .45 0 .45-.02 .45-.04 .45 .06 .45-.06 .45 .05 .45 .03 .45-.01 .45 .01 .45-.06 .45 .02 .45 0 .45 .01 .45 .03 .45-.09" fill="none" stroke="#259a25" stroke-width="0.5" stroke-opacity="0.95" stroke-linejoin="round"/>
<line x1="329.8" y1="241.14" x2="428.4" y2="241.14" stroke="#259a25" stroke-width="0.7" stroke-opacity="0.95"/>
<path d="M360.54 236.41l.3-.15 .3 .32 .3-.45 .3 .83 .3-1.22 .3 1.27 .3-1.62 .3 2.37 .3-2.91 .3 2.04 .3-1.62 .3 1.87 .3-1.37 .3 .78 .3-.4 .3 .28 .3-.17" fill="none" stroke="#259a25" stroke-width="0.45" stroke-opacity="0.95" stroke-linejoin="round"/>
<path d="M388.68 236.37l.3-.11 .3 .34 .3-.51 .3 .49 .3-1.08 .3 1.65 .3-1.37 .3 1.62 .3-2.22 .3 1.57 .3-1.13 .3 1.06 .3-.55 .3 .32 .3-.24 .3 .17" fill="none" stroke="#259a25" stroke-width="0.45" stroke-opacity="0.95" stroke-linejoin="round"/>
<path d="M329.8 236.35l.45 0 .45-.01 .45 .02 .45-.05 .45 .01 .45-.03 .45 0 .45 .07 .45-.02 .45-.03 .45-.01 .45 .04 .45 .05 .45-.01 .45-.02 .45 .01 .45-.05 .45-.02 .45 .03 .45 .06 .45-.07 .45 .06 .45-.03 .45 .02 .45-.06 .45 .01 .45-.01 .45 .03 .45-.04 .45 .08 .45-.07 .45 0 .45-.02 .45 .08 .45-.06 .45 0 .45 .05 .45-.02 .45-.02 .45 .05 .45-.08 .45 .08 .45-.01 .45 0 .45-.05 .45 .03 .45 .01 .45-.06 .45 .09 .45-.03 .45-.05 .45 .04 .45 .04 .45 0 .45-.03 .45-.04 .45 .04 .45-.02 .45 .01 .45 .03 .45-.01 .45-.03 .45 .06 .45-.02 .45-.07 .45 .13 .45-.25 .45-.08 .45 .43 .45-.26 .45 .45 .45-1.4 .45-.13 .45 1.14 .45-.64 .45 .77 .45-.15 .45 .02 .45 .41 .45-.61 .45 .29 .45-.05 .45-.01 .45-.05 .45 .06 .45 .01 .45-.01 .45-.02 .45 .03 .45-.01 .45-.03 .45 .01 .45 .04 .45-.1 .45 .09 .45-.06 .45 .04 .45-.02 .45-.04 .45 0 .45 .07 .45 .01 .45-.01 .45-.01 .45-.04 .45 .05 .45 .02 .45-.02 .45 0 .45-.06 .45 .04 .45 .02 .45 .01 .45-.01 .45-.03 .45-.04 .45 0 .45 .09 .45-.07 .45-.02 .45 .05 .45 .03 .45-.09 .45 0 .45 .01 .45 .05 .45-.04 .45-.12 .45 .13 .45 .2 .45-.56 .45 .33 .45-.81 .45 1.72 .45-.82 .45 .18 .45 .11 .45 .12 .45-.93 .45 .75 .45-.25 .45-.12 .45 .14 .45-.08 .45 0 .45 .05 .45-.04 .45 .08 .45-.05 .45-.01 .45-.01 .45-.03 .45 .03 .45 .05 .45-.06 .45 .02 .45 .02 .45-.02 .45 .01 .45-.01 .45 .02 .45 0 .45-.01 .45 .03 .45-.05 .45 .04 .45-.04 .45-.02 .45 .03 .45-.03 .45 .08 .45 0 .45-.08 .45 .07 .45-.07 .45 .03 .45-.02 .45-.01 .45 0 .45 .08 .45-.08 .45 .08 .45-.07 .45 .04 .45-.06 .45 .08 .45-.08 .45 .07 .45-.06 .45 .05 .45-.02 .45 .06 .45-.09 .45 .01 .45 .06 .45 .01 .45-.09 .45 .04 .45-.04 .45 .04 .45-.03 .45 .08 .45-.02 .45 .02 .45-.03 .45-.05 .45 0 .45 .03 .45-.04 .45 0 .45 .06 .45 .01 .45-.02 .45 .01 .45-.03 .45 .01 .45 .02 .45 0 .45-.03" fill="none" stroke="#259a25" stroke-width="0.5" stroke-opacity="0.95" stroke-linejoin="round"/>
<line x1="329.8" y1="236.34" x2="428.4" y2="236.34" stroke="#259a25" stroke-width="0.7" stroke-opacity="0.95"/>
<path d="M360.98 231.56l.3-.17 .3 .33 .3-.55 .3 .85 .3-1.36 .3 1.28 .3-1.49 .3 2.44 .3-2.34 .3 2.25 .3-2.49 .3 2.2 .3-1.63 .3 1.16 .3-.67 .3 .3 .3-.22" fill="none" stroke="#259a25" stroke-width="0.45" stroke-opacity="0.45" stroke-linejoin="round"/>
<path d="M388.68 231.58l.3-.16 .3 .24 .3-.34 .3 .86 .3-1 .3 1.26 .3-1.99 .3 2.17 .3-2.23 .3 1.75 .3-1.5 .3 1.42 .3-.95 .3 .67 .3-.39 .3 .19" fill="none" stroke="#259a25" stroke-width="0.45" stroke-opacity="0.45" stroke-linejoin="round"/>
<path d="M329.8 231.53l.45-.04 .45 .06 .45 .02 .45-.03 .45-.03 .45 .05 .45-.02 .45 0 .45-.04 .45 .02 .45-.03 .45 .07 .45-.03 .45 .03 .45-.02 .45-.05 .45 .01 .45 0 .45 .08 .45-.09 .45 .02 .45 .01 .45 .02 .45-.05 .45 .04 .45-.03 .45 .08 .45-.06 .45-.02 .45 .03 .45-.02 .45 .04 .45 0 .45-.01 .45 .01 .45 0 .45-.01 .45-.05 .45 0 .45 .08 .45-.06 .45 .07 .45-.06 .45-.03 .45 .05 .45-.03 .45 0 .45 .04 .45 .01 .45-.07 .45 .09 .45 0 .45-.09 .45 .03 .45 .02 .45-.04 .45 .06 .45-.04 .45 0 .45-.01 .45 0 .45 0 .45-.01 .45 .08 .45-.1 .45 .01 .45 .02 .45 0 .45 .1 .45-.42 .45 .65 .45-.15 .45 .2 .45-1.18 .45-.05 .45 1.71 .45-1.15 .45 .66 .45 .19 .45-.45 .45-.23 .45 .27 .45-.23 .45 .07 .45 .08 .45 0 .45-.09 .45 0 .45 0 .45 .06 .45-.05 .45 .03 .45 .02 .45 .02 .45-.03 .45-.04 .45 .08 .45-.01 .45-.05 .45-.02 .45 .03 .45 0 .45-.02 .45 0 .45 .03 .45 .04 .45-.04 .45 0 .45 .03 .45 0 .45-.04 .45 .03 .45-.05 .45 .05 .45 0 .45-.02 .45 0 .45 0 .45 .04 .45-.02 .45-.05 .45 .04 .45 .02 .45-.05 .45 .07 .45-.07 .45 .02 .45 .04 .45-.25 .45 .21 .45-.13 .45 .85 .45-.9 .45 .29 .45-.1 .45-1.22 .45 .53 .45 1.54 .45-1.46 .45 .51 .45 .11 .45-.26 .45 .39 .45-.11 .45 .01 .45-.06 .45 .05 .45-.07 .45 .01 .45-.01 .45 .04 .45 0 .45 .02 .45-.06 .45 .07 .45-.06 .45-.02 .45 .03 .45-.04 .45 .04 .45-.05 .45 .08 .45 .01 .45-.09 .45 .08 .45 0 .45 0 .45-.03 .45 .03 .45 .02 .45 0 .45-.07 .45-.02 .45 .07 .45-.06 .45 .04 .45-.02 .45 .01 .45 .04 .45-.08 .45 .06 .45 .02 .45-.04 .45 .04 .45-.04 .45-.05 .45 .01 .45 0 .45 0 .45 .06 .45-.06 .45 .09 .45-.08 .45 .04 .45-.02 .45 .01 .45-.05 .45 .05 .45 .02 .45-.03 .45 0 .45 .01 .45-.04 .45 0 .45 .07 .45-.04 .45 .05 .45 0 .45-.07 .45-.01 .45 .07 .45-.03 .45-.04 .45 .06 .45-.05 .45 .05 .45 .02 .45-.01 .45 .01" fill="none" stroke="#259a25" stroke-width="0.5" stroke-opacity="0.45" stroke-linejoin="round"/>
<line x1="329.8" y1="231.53" x2="428.4" y2="231.53" stroke="#259a25" stroke-width="0.7" stroke-opacity="0.45"/>
<path d="M361.42 226.76l.3-.17 .3 .27 .3-.45 .3 .84 .3-1.33 .3 1.43 .3-1.55 .3 1.5 .3-1.24 .3 1.46 .3-1.51 .3 1.25 .3-.81 .3 .63 .3-.59 .3 .34 .3-.2" fill="none" stroke="#259a25" stroke-width="0.45" stroke-opacity="0.45" stroke-linejoin="round"/>
<path d="M388.68 226.8l.3-.23 .3 .37 .3-.5 .3 .58 .3-.99 .3 1.43 .3-1.3 .3 1.89 .3-2.01 .3 1.56 .3-1.65 .3 1.23 .3-.81 .3 .62 .3-.4 .3 .16" fill="none" stroke="#259a25" stroke-width="0.45" stroke-opacity="0.45" stroke-linejoin="round"/>
<path d="M329.8 226.72l.45 0 .45 .01 .45-.01 .45-.03 .45 .02 .45-.02 .45 .08 .45-.09 .45 .01 .45 .05 .45 .03 .45-.09 .45 .05 .45 .01 .45-.03 .45 .01 .45-.03 .45 .08 .45-.05 .45 .04 .45-.05 .45 0 .45 .02 .45 0 .45-.03 .45 .01 .45-.02 .45 .08 .45-.02 .45-.07 .45 .08 .45-.01 .45-.04 .45 .03 .45 0 .45 .01 .45 0 .45 .01 .45-.04 .45-.03 .45 .04 .45-.02 .45-.03 .45 .01 .45 0 .45 .05 .45 .03 .45-.03 .45 .02 .45-.08 .45 .08 .45-.08 .45 .02 .45 .03 .45-.02 .45-.01 .45 .06 .45-.08 .45 .01 .45-.01 .45 0 .45 .01 .45 .06 .45 0 .45 0 .45-.02 .45-.06 .45-.04 .45 .19 .45 .17 .45 .12 .45-.37 .45 .49 .45-.68 .45-1 .45-.05 .45 .22 .45 1.86 .45-.07 .45-.3 .45-.38 .45-.06 .45 .05 .45-.13 .45 .11 .45-.13 .45 .11 .45-.03 .45 0 .45-.01 .45 .01 .45-.03 .45-.01 .45 .01 .45 .01 .45 .02 .45-.05 .45 .01 .45-.02 .45 .08 .45-.02 .45 0 .45 .02 .45-.04 .45-.01 .45-.01 .45 .01 .45-.02 .45-.01 .45 .04 .45 .04 .45-.07 .45 .04 .45 .01 .45-.07 .45 0 .45 .05 .45 .04 .45-.06 .45-.02 .45 .04 .45-.04 .45 .02 .45-.03 .45-.01 .45 .08 .45-.12 .45 .07 .45-.07 .45 .06 .45-.03 .45 .82 .45-.72 .45 .32 .45 .77 .45-.5 .45-.54 .45-.49 .45 .82 .45-.04 .45-.35 .45 .14 .45-.31 .45 .15 .45 .04 .45-.11 .45 .07 .45-.05 .45 .06 .45-.01 .45-.04 .45 .01 .45 .03 .45 0 .45-.02 .45 .01 .45-.01 .45-.02 .45 .05 .45 0 .45 .01 .45 .02 .45 0 .45-.04 .45 .03 .45-.05 .45 .06 .45-.02 .45-.01 .45-.04 .45 .07 .45-.09 .45 .06 .45-.03 .45 0 .45-.03 .45 .09 .45-.06 .45-.03 .45 .04 .45 0 .45-.01 .45 .04 .45-.06 .45 .01 .45 0 .45 .06 .45-.04 .45 .01 .45 .03 .45-.06 .45 .02 .45-.02 .45 .05 .45-.02 .45 .04 .45-.04 .45 .03 .45-.08 .45 .08 .45 .01 .45-.01 .45-.08 .45 .01 .45-.01 .45 .02 .45 0 .45 .05 .45-.04 .45-.01 .45 .01 .45-.02 .45 .08 .45-.03 .45-.06 .45 .05 .45-.03 .45 .02 .45 .01" fill="none" stroke="#259a25" stroke-width="0.5" stroke-opacity="0.45" stroke-linejoin="round"/>
<line x1="329.8" y1="226.72" x2="428.4" y2="226.72" stroke="#259a25" stroke-width="0.7" stroke-opacity="0.45"/>
<path d="M361.86 221.96l.3-.2 .3 .32 .3-.34 .3 .47 .3-.88 .3 1.26 .3-1.78 .3 2.47 .3-2.25 .3 2.17 .3-2.28 .3 1.83 .3-1.14 .3 .66 .3-.66 .3 .44 .3-.22" fill="none" stroke="#259a25" stroke-width="0.45" stroke-opacity="0.95" stroke-linejoin="round"/>
<path d="M388.68 221.97l.3-.17 .3 .26 .3-.4 .3 .85 .3-1.39 .3 1.88 .3-1.72 .3 1.61 .3-1.5 .3 1.35 .3-1.36 .3 1.1 .3-.81 .3 .4 .3-.22 .3 .11" fill="none" stroke="#259a25" stroke-width="0.45" stroke-opacity="0.95" stroke-linejoin="round"/>
<path d="M329.8 221.69l.45 .47 .45-.4 .45-.02 .45 .09 .45 .24 .45-.14 .45-.12 .45-.03 .45-.02 .45 .18 .45-.16 .45 .14 .45-.16 .45 .38 .45-.36 .45 .19 .45-.12 .45-.09 .45 .21 .45-.15 .45 .35 .45-.02 .45 0 .45-.11 .45 .1 .45-.17 .45-.22 .45 .01 .45 0 .45-.08 .45 .16 .45 .09 .45-.05 .45-.17 .45 .38 .45 .08 .45-.14 .45-.37 .45 .23 .45 .1 .45-.26 .45 .33 .45-.2 .45 .05 .45-.17 .45 .16 .45-.15 .45 .27 .45-.13 .45 .23 .45-.39 .45 .29 .45-.36 .45 .11 .45-.05 .45 .01 .45 .31 .45-.31 .45-.06 .45 .32 .45-.19 .45-.11 .45 .28 .45 .01 .45-.1 .45-.19 .45 .24 .45-.29 .45 .22 .45-.12 .45-.29 .45 .32 .45 .05 .45-.78 .45-.36 .45 2.49 .45-1.88 .45-.33 .45 1.05 .45 .38 .45-.65 .45 .23 .45 .01 .45-.35 .45 .49 .45 0 .45-.28 .45 .35 .45-.29 .45 .04 .45 .01 .45-.26 .45-.01 .45 .44 .45-.05 .45-.36 .45 .31 .45-.23 .45-.08 .45 .45 .45-.33 .45-.11 .45 .39 .45-.46 .45 0 .45 .25 .45 .03 .45-.02 .45-.05 .45 .01 .45 .15 .45-.31 .45 .38 .45-.43 .45 .01 .45-.01 .45 .31 .45-.02 .45 .06 .45-.17 .45-.05 .45-.14 .45 .27 .45-.14 .45 .07 .45 .27 .45-.53 .45 .49 .45-.59 .45 .18 .45 .79 .45 .01 .45-1.51 .45 1.57 .45-2.02 .45 1.42 .45-.82 .45 .48 .45-.39 .45 .27 .45 .64 .45-.14 .45-.37 .45 .2 .45 .14 .45 .07 .45 .13 .45-.44 .45-.02 .45 .02 .45 .12 .45 .25 .45-.11 .45 .06 .45 0 .45-.12 .45-.14 .45-.02 .45 .19 .45 .19 .45-.03 .45-.02 .45-.24 .45 .12 .45 .19 .45-.2 .45-.26 .45 .49 .45-.28 .45 .14 .45-.32 .45 .2 .45 .2 .45-.29 .45 .36 .45-.48 .45 .12 .45 .34 .45-.22 .45-.17 .45 .29 .45 .04 .45-.17 .45 .01 .45-.06 .45-.05 .45-.01 .45 .05 .45-.12 .45-.06 .45 .35 .45-.34 .45 .46 .45-.21 .45 .13 .45-.39 .45 .15 .45 .18 .45-.23 .45 .16 .45 .15 .45-.03 .45-.12 .45-.06 .45-.11 .45 .34 .45-.28 .45 .22 .45 .05 .45-.29 .45 .04 .45 .22 .45-.3 .45 .27 .45 0 .45-.36 .45 .25 .45-.26 .45 .36" fill="none" stroke="#259a25" stroke-width="0.5" stroke-opacity="0.95" stroke-linejoin="round"/>
<line x1="329.8" y1="221.92" x2="428.4" y2="221.92" stroke="#259a25" stroke-width="0.7" stroke-opacity="0.95"/>
<path d="M362.3 217.19l.3-.19 .3 .22 .3-.42 .3 .85 .3-.87 .3 1.37 .3-1.52 .3 1.1 .3-1.94 .3 2.22 .3-1.39 .3 1.05 .3-1.16 .3 .84 .3-.55 .3 .42 .3-.2" fill="none" stroke="#259a25" stroke-width="0.45" stroke-opacity="0.45" stroke-linejoin="round"/>
<path d="M388.68 217.15l.3-.19 .3 .28 .3-.31 .3 .53 .3-.98 .3 1.12 .3-1.63 .3 1.96 .3-1.37 .3 1.23 .3-1.02 .3 .82 .3-.8 .3 .54 .3-.27 .3 .08" fill="none" stroke="#259a25" stroke-width="0.45" stroke-opacity="0.45" stroke-linejoin="round"/>
<path d="M329.8 217.09l.45-.03 .45 .06 .45 .02 .45 .01 .45-.08 .45 0 .45 .02 .45-.02 .45 .07 .45-.07 .45 .03 .45 0 .45-.03 .45 0 .45 0 .45 .07 .45 0 .45-.05 .45-.01 .45 .06 .45-.05 .45 .01 .45 .05 .45 0 .45-.07 .45-.02 .45 .01 .45 .04 .45 .02 .45 .01 .45-.03 .45 .03 .45-.01 .45-.07 .45 .05 .45-.03 .45 .07 .45-.04 .45-.03 .45 .03 .45-.01 .45-.04 .45 .07 .45-.07 .45 .05 .45-.01 .45 0 .45-.02 .45 .05 .45 0 .45-.05 .45 .01 .45 .06 .45-.05 .45 .03 .45 0 .45 .02 .45-.02 .45 .02 .45-.09 .45 .04 .45-.03 .45 0 .45 .07 .45-.04 .45 .05 .45-.02 .45-.03 .45-.05 .45-.01 .45 .22 .45-.1 .45-.18 .45 .34 .45 .48 .45-.8 .45-1.12 .45-.01 .45 .29 .45 .24 .45 .68 .45 .36 .45-.04 .45-.17 .45-.27 .45 .18 .45-.06 .45 .08 .45 0 .45-.03 .45 0 .45-.04 .45 .06 .45 .01 .45-.06 .45 .06 .45-.05 .45-.02 .45 .02 .45-.02 .45 .06 .45-.08 .45 .01 .45 .01 .45 .06 .45-.08 .45 .08 .45-.07 .45 .03 .45 .04 .45-.05 .45 .03 .45 0 .45-.02 .45-.02 .45 .01 .45 .03 .45 0 .45 .02 .45 0 .45-.03 .45 .04 .45-.05 .45 .05 .45-.03 .45-.03 .45-.07 .45 .19 .45-.27 .45 .16 .45 .57 .45-1.01 .45 1.31 .45-.15 .45-1.36 .45 1.2 .45-.31 .45 .27 .45-1.23 .45 .36 .45 .33 .45-.12 .45 .19 .45-.11 .45 .1 .45-.09 .45 .01 .45 .01 .45 .06 .45-.06 .45 .07 .45-.04 .45 .04 .45-.03 .45-.05 .45 .08 .45 0 .45 0 .45-.04 .45 .02 .45-.05 .45 .04 .45 0 .45-.01 .45 .01 .45 .01 .45-.07 .45 .08 .45 .02 .45-.02 .45-.04 .45-.02 .45 .01 .45 0 .45 .04 .45 .01 .45-.01 .45-.06 .45 .02 .45 .04 .45-.02 .45 0 .45 .01 .45-.05 .45 .08 .45-.08 .45 .02 .45 .02 .45-.02 .45 .03 .45-.04 .45 .08 .45-.03 .45-.02 .45-.04 .45 .03 .45 0 .45-.03 .45 .09 .45-.02 .45-.07 .45 .09 .45-.01 .45 0 .45-.04 .45 .03 .45-.08 .45 .01 .45-.01 .45 .06 .45-.04 .45 .04 .45-.03 .45 .05 .45-.01 .45-.01 .45-.04 .45 .04 .45-.05" fill="none" stroke="#259a25" stroke-width="0.5" stroke-opacity="0.45" stroke-linejoin="round"/>
<line x1="329.8" y1="217.11" x2="428.4" y2="217.11" stroke="#259a25" stroke-width="0.7" stroke-opacity="0.45"/>
<path d="M362.74 212.34l.3-.12 .3 .2 .3-.31 .3 .44 .3-.75 .3 .85 .3-.79 .3 1.07 .3-1.16 .3 1.02 .3-.89 .3 .65 .3-.63 .3 .66 .3-.43 .3 .26 .3-.16" fill="none" stroke="#259a25" stroke-width="0.45" stroke-opacity="0.95" stroke-linejoin="round"/>
<path d="M388.68 212.38l.3-.14 .3 .25 .3-.38 .3 .75 .3-1.18 .3 1.04 .3-1.6 .3 2.51 .3-1.85 .3 .94 .3-1.26 .3 1.45 .3-.88 .3 .43 .3-.3 .3 .21" fill="none" stroke="#259a25" stroke-width="0.45" stroke-opacity="0.95" stroke-linejoin="round"/>
<path d="M329.8 212.3l.45-.04 .45 .01 .45 .01 .45 .05 .45-.03 .45 0 .45 0 .45 .01 .45-.01 .45 .05 .45-.05 .45 .02 .45-.06 .45 .02 .45 .01 .45 0 .45 .01 .45-.03 .45 .05 .45 .02 .45-.07 .45 .07 .45 0 .45-.03 .45-.05 .45 .04 .45-.03 .45 .04 .45 0 .45-.02 .45-.02 .45 .05 .45-.05 .45 .01 .45 .01 .45-.02 .45 .02 .45-.02 .45 .07 .45-.01 .45-.07 .45 .04 .45-.02 .45 .02 .45 .05 .45-.01 .45-.05 .45 .01 .45-.01 .45 .06 .45-.08 .45 .01 .45 .01 .45 .05 .45-.02 .45-.01 .45 0 .45 0 .45-.05 .45 .02 .45 .01 .45 .02 .45 .01 .45 .03 .45 0 .45-.07 .45 .05 .45-.07 .45 0 .45 .08 .45-.03 .45-.12 .45 .11 .45 .24 .45-.08 .45 .24 .45-.39 .45-.41 .45-.14 .45 .85 .45-.48 .45 .37 .45 .14 .45-.1 .45-.08 .45-.15 .45 .04 .45 .01 .45-.04 .45 .01 .45-.03 .45 0 .45 .04 .45-.09 .45 .02 .45 0 .45 .04 .45-.05 .45 .03 .45 .01 .45 .04 .45-.02 .45-.06 .45 .09 .45-.01 .45-.01 .45-.01 .45-.01 .45-.03 .45 .06 .45-.06 .45 .01 .45 .05 .45-.03 .45-.04 .45 .04 .45 .04 .45-.05 .45 .03 .45-.02 .45 0 .45-.05 .45 .08 .45-.07 .45 .08 .45 0 .45-.06 .45-.09 .45 .23 .45-.22 .45 .13 .45 .49 .45 .35 .45-1.04 .45-.42 .45 1.5 .45-.28 .45-.97 .45 .23 .45-.15 .45 .02 .45 .09 .45 .14 .45-.08 .45 .01 .45 .04 .45 .03 .45 0 .45 .02 .45-.02 .45 .02 .45-.03 .45 .06 .45-.03 .45 .02 .45-.06 .45-.01 .45 0 .45 .01 .45-.02 .45 .04 .45 .04 .45-.02 .45-.06 .45 0 .45 0 .45 .03 .45 .01 .45 0 .45 .05 .45-.03 .45 .03 .45-.01 .45-.01 .45-.07 .45 .09 .45-.05 .45 .05 .45-.07 .45 .02 .45 .02 .45-.04 .45 .02 .45-.02 .45 .06 .45-.06 .45 .04 .45-.03 .45-.03 .45 .07 .45-.02 .45-.04 .45 .05 .45 0 .45-.05 .45-.02 .45 .07 .45 .01 .45-.01 .45-.03 .45 .01 .45 .03 .45-.05 .45-.01 .45 0 .45 0 .45 .01 .45 .03 .45 .04 .45-.04 .45-.03 .45 .02 .45-.04 .45 .05 .45-.05 .45 .08 .45-.05 .45 .06 .45-.07" fill="none" stroke="#259a25" stroke-width="0.5" stroke-opacity="0.95" stroke-linejoin="round"/>
<line x1="329.8" y1="212.3" x2="428.4" y2="212.3" stroke="#259a25" stroke-width="0.7" stroke-opacity="0.95"/>
<path d="M363.17 207.52l.3-.08 .3 .22 .3-.34 .3 .58 .3-.9 .3 1.06 .3-1.34 .3 1.39 .3-1.3 .3 1.34 .3-1.44 .3 1.06 .3-.55 .3 .41 .3-.33 .3 .31 .3-.15" fill="none" stroke="#259a25" stroke-width="0.45" stroke-opacity="0.95" stroke-linejoin="round"/>
<path d="M388.68 207.53l.3-.14 .3 .31 .3-.63 .3 .68 .3-.97 .3 1.34 .3-1.83 .3 2.09 .3-1.98 .3 1.86 .3-1.17 .3 .93 .3-.82 .3 .45 .3-.25 .3 .13" fill="none" stroke="#259a25" stroke-width="0.45" stroke-opacity="0.95" stroke-linejoin="round"/>
<path d="M329.8 207.53l.45-.07 .45 .03 .45 .02 .45 .03 .45-.02 .45-.05 .45 .08 .45-.01 .45-.05 .45-.02 .45 .03 .45 .04 .45-.04 .45-.05 .45 .06 .45-.04 .45 .04 .45-.05 .45 .04 .45 .03 .45-.04 .45 .01 .45 .02 .45 0 .45 .02 .45 0 .45-.08 .45 .06 .45 .01 .45 0 .45-.07 .45 .04 .45 .05 .45-.06 .45 .05 .45 0 .45-.02 .45-.02 .45-.05 .45 .09 .45 .01 .45-.07 .45 .06 .45-.02 .45-.04 .45 .05 .45-.06 .45 0 .45 .03 .45-.03 .45 .06 .45-.03 .45 0 .45 .01 .45-.05 .45 .07 .45-.04 .45-.02 .45 .06 .45-.07 .45 .05 .45-.05 .45 .03 .45 .03 .45-.01 .45-.04 .45 0 .45 .08 .45-.07 .45-.01 .45-.02 .45 0 .45 .01 .45 .02 .45 .24 .45 .12 .45-.14 .45-.5 .45 .85 .45-.95 .45 .59 .45 .43 .45-.17 .45-.19 .45-.25 .45-.15 .45 .23 .45-.08 .45-.06 .45 .09 .45-.09 .45 .05 .45-.05 .45 .03 .45 .05 .45 0 .45-.01 .45-.01 .45-.05 .45 .07 .45-.07 .45 0 .45-.01 .45 .06 .45-.04 .45-.01 .45 .05 .45-.04 .45-.01 .45 0 .45 0 .45 .05 .45 .01 .45 .01 .45-.02 .45-.01 .45 0 .45-.04 .45-.01 .45 0 .45 .01 .45 .06 .45-.03 .45 .04 .45 .03 .45-.13 .45 .18 .45-.26 .45 .08 .45 .07 .45-.35 .45 1.03 .45-1.04 .45-.79 .45 2.2 .45-1.11 .45-.26 .45-.25 .45 1.07 .45-.99 .45 .15 .45 .11 .45 .15 .45 .11 .45-.11 .45 .07 .45-.04 .45 .06 .45-.02 .45 .02 .45-.03 .45 .02 .45 .01 .45 .03 .45 0 .45-.03 .45-.05 .45 .03 .45 .02 .45-.02 .45-.03 .45 .06 .45-.05 .45 .04 .45 .01 .45 0 .45-.02 .45 .03 .45 0 .45-.07 .45 .04 .45 .04 .45-.01 .45 0 .45-.04 .45 .02 .45 .01 .45 .02 .45-.07 .45 .04 .45-.05 .45 .08 .45-.03 .45-.03 .45-.02 .45 .01 .45-.02 .45 .02 .45 .03 .45 .02 .45-.04 .45-.01 .45 .01 .45 0 .45 .02 .45 .04 .45-.01 .45-.04 .45 .02 .45-.03 .45 0 .45 .04 .45-.04 .45-.01 .45 0 .45 .01 .45 .03 .45 .03 .45-.03 .45-.04 .45 .07 .45-.01 .45-.07 .45-.01 .45 .01 .45 .06 .45-.01 .45-.04 .45 .06" fill="none" stroke="#259a25" stroke-width="0.5" stroke-opacity="0.95" stroke-linejoin="round"/>
<line x1="329.8" y1="207.5" x2="428.4" y2="207.5" stroke="#259a25" stroke-width="0.7" stroke-opacity="0.95"/>
<path d="M388.68 202.73l.3-.09 .3 .17 .3-.26 .3 .44 .3-.72 .3 .84 .3-.95 .3 1.05 .3-1.25 .3 1.23 .3-.83 .3 .53 .3-.44 .3 .3 .3-.11 .3 .07" fill="none" stroke="#259a25" stroke-width="0.45" stroke-opacity="0.95" stroke-linejoin="round"/>
<path d="M329.8 202.77l.45-.16 .45 .02 .45-.06 .45 .07 .45 .14 .45-.22 .45 .02 .45-.14 .45 .22 .45 .08 .45 .1 .45-.06 .45 .14 .45-.27 .45-.08 .45 .17 .45-.16 .45 .34 .45-.11 .45 .14 .45-.4 .45-.01 .45 .22 .45-.1 .45-.11 .45-.01 .45 .05 .45 .03 .45 .09 .45 .03 .45 .21 .45-.26 .45-.13 .45-.14 .45 .24 .45 .17 .45-.07 .45-.29 .45 .29 .45-.19 .45 .35 .45-.1 .45 .01 .45-.05 .45-.34 .45 .42 .45-.39 .45-.05 .45 .01 .45 .14 .45 .37 .45-.3 .45-.03 .45-.02 .45-.14 .45 .24 .45 .26 .45-.1 .45 .1 .45-.47 .45 .09 .45 .14 .45-.28 .45 .03 .45 .2 .45-.03 .45-.17 .45 .29 .45 .09 .45-.3 .45 .3 .45 .09 .45-.07 .45-.38 .45 .04 .45 .32 .45-.01 .45-.36 .45 .11 .45 0 .45 .32 .45 .03 .45-.39 .45 .06 .45-.11 .45-.05 .45 .5 .45-.18 .45-.24 .45 .19 .45-.11 .45 .34 .45-.15 .45-.11 .45 .01 .45-.25 .45 .04 .45 .14 .45-.15 .45 .32 .45-.01 .45-.26 .45 .12 .45 .19 .45-.4 .45 .08 .45-.07 .45 .22 .45 .24 .45-.33 .45 .27 .45-.16 .45 .03 .45 .15 .45 0 .45-.31 .45 .17 .45 .05 .45-.26 .45 .15 .45-.23 .45 .23 .45 .19 .45-.35 .45 .32 .45-.34 .45 .16 .45 .22 .45-.28 .45 .15 .45 .01 .45 .41 .45-.33 .45-.73 .45 .05 .45 .1 .45 1.02 .45-.26 .45 .22 .45-.32 .45-.21 .45 0 .45 .31 .45-.3 .45 .01 .45 .14 .45-.36 .45 .09 .45 .27 .45-.33 .45 0 .45 .01 .45 .4 .45 .02 .45-.46 .45 .14 .45-.03 .45-.02 .45-.01 .45 .19 .45 .04 .45-.32 .45-.06 .45 .09 .45 .22 .45 .08 .45 .08 .45-.21 .45-.24 .45 .28 .45 .16 .45-.21 .45 .29 .45-.07 .45-.33 .45 .35 .45-.42 .45 .33 .45-.3 .45-.06 .45 .07 .45 .22 .45 .19 .45-.4 .45 .29 .45-.21 .45-.14 .45 .38 .45-.26 .45-.14 .45 .22 .45 .08 .45 .07 .45 .03 .45-.24 .45 .3 .45-.09 .45-.24 .45-.12 .45 .3 .45-.22 .45 .18 .45 .12 .45-.33 .45 .13 .45-.03 .45 .1 .45-.07 .45-.06 .45 .18 .45-.09 .45 .17 .45-.36 .45 .45 .45-.46 .45 .03 .45 .34 .45-.03 .45 .06" fill="none" stroke="#259a25" stroke-width="0.5" stroke-opacity="0.95" stroke-linejoin="round"/>
<line x1="329.8" y1="202.69" x2="428.4" y2="202.69" stroke="#259a25" stroke-width="0.7" stroke-opacity="0.95"/>
<path d="M388.68 197.9l.3-.05 .3 .17 .3-.33 .3 .4 .3-.69 .3 .86 .3-1.03 .3 .95 .3-1.01 .3 1.12 .3-.84 .3 .61 .3-.34 .3 .31 .3-.19 .3 .09" fill="none" stroke="#259a25" stroke-width="0.45" stroke-opacity="0.95" stroke-linejoin="round"/>
<path d="M329.8 197.8l.45 .16 .45 .08 .45-.02 .45-.34 .45 .04 .45 .06 .45 .24 .45 .13 .45-.51 .45 .41 .45-.02 .45-.1 .45 .21 .45-.19 .45 .03 .45-.05 .45-.28 .45 .22 .45-.11 .45-.04 .45 .02 .45-.12 .45 .27 .45 .18 .45-.08 .45-.18 .45 .06 .45 .28 .45-.33 .45 .25 .45-.24 .45-.16 .45 .26 .45-.14 .45-.05 .45 .21 .45 .1 .45-.07 .45 .15 .45-.45 .45-.02 .45 .48 .45-.18 .45-.1 .45 .15 .45-.07 .45-.04 .45-.03 .45-.22 .45 .09 .45 .13 .45 .25 .45-.21 .45 .05 .45-.33 .45 .03 .45 .02 .45 .44 .45-.28 .45 .22 .45 .09 .45-.02 .45 .02 .45-.04 .45-.42 .45 .15 .45 .13 .45-.19 .45-.08 .45 .07 .45-.11 .45-.01 .45 .22 .45-.25 .45 .15 .45 .35 .45-.19 .45-.03 .45 .18 .45-.37 .45 .12 .45 .32 .45-.51 .45 .24 .45 .07 .45-.13 .45 .16 .45-.34 .45 .41 .45-.23 .45 .08 .45-.12 .45 .08 .45-.22 .45 .01 .45 .18 .45 .23 .45 .08 .45-.52 .45 .26 .45 .07 .45-.14 .45-.07 .45 .31 .45-.19 .45 .05 .45-.15 .45 .34 .45-.41 .45-.02 .45 .14 .45 .34 .45-.24 .45-.25 .45 .09 .45 .37 .45-.45 .45 .09 .45 .05 .45 .09 .45-.12 .45 .08 .45-.02 .45-.12 .45-.1 .45 .1 .45 .03 .45 .21 .45 .25 .45-.6 .45-.27 .45 .92 .45-1.01 .45 .39 .45 .36 .45-.75 .45 .27 .45-.02 .45 .29 .45-.19 .45 .51 .45-.16 .45 .1 .45 .13 .45-.55 .45 .05 .45 .07 .45 .05 .45-.15 .45 .23 .45-.15 .45 .26 .45-.24 .45 .05 .45-.07 .45-.03 .45 0 .45 .37 .45-.05 .45 .1 .45-.18 .45-.23 .45 .08 .45-.15 .45 .38 .45-.39 .45 .13 .45 .13 .45 .11 .45-.19 .45-.04 .45 .32 .45-.25 .45 .26 .45-.41 .45 .05 .45 .07 .45 .02 .45-.16 .45 .26 .45-.03 .45-.03 .45-.02 .45-.15 .45-.04 .45 0 .45 .27 .45-.17 .45-.07 .45 .42 .45-.03 .45 .03 .45 .02 .45-.09 .45 .06 .45-.02 .45-.2 .45-.01 .45-.17 .45 .19 .45 .01 .45-.25 .45 .37 .45-.37 .45 .22 .45 .13 .45-.36 .45 .01 .45 .4 .45-.2 .45 .29 .45-.07 .45-.24 .45 .1 .45-.31 .45 .28 .45 .25 .45-.54 .45 .14" fill="none" stroke="#259a25" stroke-width="0.5" stroke-opacity="0.95" stroke-linejoin="round"/>
<line x1="329.8" y1="197.88" x2="428.4" y2="197.88" stroke="#259a25" stroke-width="0.7" stroke-opacity="0.95"/>
<path d="M388.68 193.11l.3-.09 .3 .11 .3-.26 .3 .48 .3-.68 .3 1.02 .3-.93 .3 .67 .3-1.01 .3 .92 .3-.61 .3 .49 .3-.24 .3 .16 .3-.16 .3 .14" fill="none" stroke="#259a25" stroke-width="0.45" stroke-opacity="0.95" stroke-linejoin="round"/>
<path d="M329.8 193.11l.45-.03 .45 .02 .45 .02 .45-.02 .45-.01 .45-.04 .45 .07 .45-.05 .45 .03 .45-.07 .45 .04 .45-.02 .45 0 .45-.01 .45 .01 .45 .07 .45-.01 .45-.03 .45 .01 .45-.03 .45 .02 .45-.03 .45 .02 .45 .01 .45-.04 .45 .09 .45-.08 .45 .01 .45-.01 .45 .03 .45 .03 .45-.01 .45-.06 .45 .07 .45-.05 .45 .04 .45-.05 .45 .02 .45-.03 .45 .02 .45 0 .45 .04 .45-.02 .45 0 .45 .02 .45-.05 .45 .07 .45-.03 .45-.01 .45-.02 .45 .05 .45-.06 .45 .06 .45-.03 .45 .01 .45 .03 .45-.06 .45 .01 .45-.03 .45 .04 .45 .02 .45-.06 .45 .06 .45-.04 .45-.01 .45 .05 .45 0 .45-.06 .45 .06 .45-.06 .45 .08 .45-.08 .45 .06 .45-.05 .45 .03 .45 0 .45-.01 .45 0 .45 .05 .45-.05 .45 .02 .45-.04 .45-.01 .45 .08 .45-.06 .45 .04 .45-.05 .45 .04 .45 .03 .45-.07 .45-.02 .45 .09 .45-.04 .45 .01 .45 .01 .45 .01 .45-.02 .45-.03 .45 .05 .45-.02 .45-.04 .45-.01 .45 .05 .45-.01 .45-.01 .45-.02 .45 .05 .45 .02 .45-.06 .45 .01 .45 .05 .45-.04 .45 .03 .45-.06 .45 .01 .45 .01 .45-.02 .45-.01 .45 .08 .45-.07 .45 .01 .45-.02 .45 .08 .45-.01 .45-.05 .45-.02 .45-.01 .45-.06 .45 .05 .45 .14 .45-.24 .45 .1 .45 .49 .45-.36 .45 .05 .45-.6 .45 .13 .45 .15 .45-.01 .45 .31 .45-.2 .45 .06 .45 .04 .45-.08 .45 .08 .45 .04 .45-.05 .45-.01 .45 .05 .45-.06 .45-.02 .45 .06 .45-.02 .45-.01 .45 0 .45 0 .45 .02 .45 0 .45 .01 .45-.02 .45 .03 .45 .02 .45-.01 .45-.04 .45 .06 .45-.01 .45-.06 .45 0 .45 .05 .45-.02 .45-.05 .45 .08 .45-.07 .45 .01 .45 .05 .45-.04 .45 .02 .45-.03 .45-.01 .45 .02 .45 .05 .45-.05 .45-.01 .45-.02 .45 .04 .45-.01 .45 .05 .45 0 .45 0 .45-.01 .45-.01 .45 0 .45-.06 .45 .02 .45 .02 .45 .03 .45 .01 .45-.01 .45-.06 .45 .03 .45 .03 .45-.05 .45 0 .45 .05 .45-.03 .45-.02 .45-.02 .45 .04 .45-.04 .45 .01 .45 .02 .45-.01 .45 .02 .45-.05 .45 .09 .45-.02 .45-.04 .45 .06 .45-.08" fill="none" stroke="#259a25" stroke-width="0.5" stroke-opacity="0.12" stroke-linejoin="round"/>
<line x1="329.8" y1="193.08" x2="428.4" y2="193.08" stroke="#259a25" stroke-width="0.7" stroke-opacity="0.12"/>
<path d="M388.68 188.29l.3-.1 .3 .18 .3-.23 .3 .34 .3-.68 .3 .74 .3-.55 .3 .93 .3-1.39 .3 1.01 .3-.64 .3 .72 .3-.59 .3 .37 .3-.22 .3 .13" fill="none" stroke="#259a25" stroke-width="0.45" stroke-opacity="0.95" stroke-linejoin="round"/>
<path d="M329.8 188.3l.45-.04 .45 .03 .45-.07 .45 .09 .45-.01 .45 0 .45-.02 .45 0 .45 .02 .45 .01 .45-.05 .45-.01 .45 .02 .45 .04 .45-.08 .45 .02 .45 .03 .45 .03 .45-.01 .45 0 .45-.03 .45 .04 .45-.02 .45-.01 .45-.05 .45 .02 .45 .02 .45-.02 .45-.02 .45 0 .45 .08 .45-.05 .45-.02 .45 .02 .45-.02 .45 .02 .45 .02 .45 .01 .45 0 .45-.02 .45 .01 .45 .03 .45-.03 .45-.05 .45 .03 .45 .01 .45 .04 .45-.05 .45-.04 .45 .07 .45 .02 .45 0 .45-.01 .45-.05 .45 .06 .45-.03 .45-.01 .45 .02 .45-.04 .45 0 .45 .05 .45-.05 .45 0 .45-.01 .45 .07 .45-.01 .45 0 .45 .01 .45-.08 .45 .03 .45-.04 .45 .1 .45-.08 .45 0 .45 .02 .45-.01 .45 .06 .45-.03 .45-.06 .45 .1 .45 0 .45-.05 .45 .02 .45-.01 .45-.06 .45 .04 .45-.04 .45 .04 .45-.02 .45 .04 .45-.01 .45 0 .45-.03 .45 .07 .45-.02 .45 .01 .45-.02 .45-.03 .45 .03 .45 0 .45 0 .45 .02 .45-.05 .45 .02 .45 .02 .45 0 .45 .01 .45-.07 .45 .06 .45-.01 .45 .03 .45-.07 .45 .05 .45-.02 .45 .01 .45-.03 .45 .03 .45-.02 .45-.01 .45 .01 .45 .04 .45-.06 .45 .01 .45 .02 .45 .02 .45-.05 .45 .11 .45-.14 .45 .05 .45-.16 .45 .05 .45 .16 .45-.21 .45-.47 .45 .62 .45 .67 .45-.23 .45-.9 .45 .28 .45 .52 .45-.54 .45 .19 .45 .09 .45-.11 .45 .03 .45-.01 .45 .06 .45-.04 .45-.03 .45 .05 .45-.04 .45-.01 .45 .07 .45-.01 .45 .02 .45-.08 .45 .05 .45-.01 .45 .04 .45-.01 .45-.03 .45 0 .45 .03 .45-.04 .45 0 .45-.03 .45 .08 .45-.05 .45 .05 .45-.07 .45 0 .45 .06 .45-.03 .45 .03 .45-.08 .45 .03 .45 .03 .45 0 .45-.02 .45-.03 .45 .06 .45-.03 .45 .02 .45-.04 .45 .07 .45-.05 .45 .05 .45 0 .45-.02 .45-.06 .45 .05 .45-.01 .45 0 .45-.02 .45-.03 .45 .05 .45-.04 .45 .04 .45 .01 .45-.04 .45 .06 .45-.03 .45 .03 .45-.02 .45 .02 .45 0 .45-.05 .45-.01 .45 .02 .45 .02 .45-.01 .45-.04 .45 0 .45-.01 .45 .08 .45 .01 .45-.08 .45 .08 .45-.01" fill="none" stroke="#259a25" stroke-width="0.5" stroke-opacity="0.95" stroke-linejoin="round"/>
<line x1="329.8" y1="188.27" x2="428.4" y2="188.27" stroke="#259a25" stroke-width="0.7" stroke-opacity="0.95"/>
<path d="M388.68 183.5l.3-.07 .3 .14 .3-.36 .3 .54 .3-.75 .3 .97 .3-1.19 .3 1.16 .3-.93 .3 .71 .3-.75 .3 .64 .3-.28 .3 .29 .3-.2 .3 .08" fill="none" stroke="#259a25" stroke-width="0.45" stroke-opacity="0.95" stroke-linejoin="round"/>
<path d="M329.8 183.45l.45 .04 .45-.04 .45 .03 .45-.07 .45 .09 .45-.08 .45 0 .45 .02 .45 .01 .45 .01 .45 .02 .45-.02 .45 .04 .45-.03 .45-.03 .45 .06 .45-.07 .45 .04 .45 .04 .45-.03 .45-.06 .45 .05 .45 .04 .45-.01 .45-.08 .45 .09 .45-.07 .45 .01 .45 .05 .45-.08 .45 .06 .45 0 .45-.03 .45-.02 .45 .07 .45-.02 .45-.01 .45-.05 .45 .02 .45 .06 .45 .01 .45-.08 .45-.01 .45 .08 .45-.02 .45-.05 .45 .03 .45-.01 .45-.02 .45 .07 .45-.08 .45 .09 .45-.06 .45 .03 .45-.06 .45 0 .45 .02 .45 0 .45 .03 .45-.01 .45-.02 .45 0 .45 0 .45 .03 .45 .01 .45 .03 .45-.03 .45-.01 .45-.02 .45-.01 .45 .05 .45 .02 .45 0 .45 0 .45-.07 .45 .05 .45-.05 .45-.02 .45 .09 .45-.1 .45 .07 .45 .01 .45 .01 .45-.04 .45 0 .45-.01 .45-.04 .45 .07 .45-.04 .45 0 .45 .05 .45-.06 .45 .05 .45-.05 .45 .08 .45-.08 .45 .05 .45 .02 .45-.01 .45-.03 .45-.05 .45 .02 .45 .04 .45-.04 .45 .07 .45-.06 .45 0 .45 .02 .45 .05 .45-.04 .45-.05 .45 .02 .45 .02 .45 .03 .45-.05 .45 0 .45 .06 .45 0 .45-.02 .45 .01 .45-.01 .45-.03 .45-.04 .45 .09 .45-.01 .45-.07 .45 .09 .45-.13 .45-.05 .45 .31 .45-.47 .45-.07 .45 .79 .45-.12 .45-.72 .45 1.01 .45-.96 .45 .71 .45-.11 .45-.55 .45 .36 .45 .08 .45-.15 .45 .02 .45 .04 .45 .01 .45-.06 .45 .05 .45-.08 .45 .02 .45 .04 .45-.05 .45 .01 .45 .02 .45-.01 .45 .03 .45 .01 .45-.05 .45 .03 .45-.04 .45-.02 .45 .02 .45 .02 .45 .04 .45-.04 .45 .02 .45-.06 .45 .07 .45 .02 .45-.07 .45-.01 .45 .01 .45-.01 .45 .05 .45-.01 .45-.02 .45 .02 .45-.02 .45 .02 .45 0 .45 .01 .45-.03 .45-.02 .45 .04 .45-.03 .45 .04 .45-.04 .45 .05 .45-.03 .45 .01 .45 .04 .45-.03 .45 0 .45 .02 .45-.02 .45 .02 .45-.01 .45 0 .45-.06 .45 .07 .45-.01 .45-.03 .45-.01 .45 .06 .45-.06 .45-.02 .45 .03 .45 0 .45-.04 .45 .08 .45-.07 .45 .05 .45 .04 .45-.08 .45 .06 .45-.07 .45 .08 .45-.02 .45-.06" fill="none" stroke="#259a25" stroke-width="0.5" stroke-opacity="0.95" stroke-linejoin="round"/>
<line x1="329.8" y1="183.46" x2="428.4" y2="183.46" stroke="#259a25" stroke-width="0.7" stroke-opacity="0.95"/>
<path d="M388.68 178.67l.3-.09 .3 .17 .3-.24 .3 .34 .3-.5 .3 .84 .3-1.14 .3 1.28 .3-.98 .3 .83 .3-.78 .3 .54 .3-.52 .3 .31 .3-.15 .3 .12" fill="none" stroke="#259a25" stroke-width="0.45" stroke-opacity="0.95" stroke-linejoin="round"/>
<path d="M329.8 178.64l.45 0 .45-.03 .45 0 .45 .03 .45-.02 .45 .07 .45-.02 .45 .01 .45-.07 .45 0 .45 .03 .45 0 .45 0 .45 .03 .45 .03 .45-.04 .45-.05 .45 .08 .45 .01 .45-.09 .45 .04 .45 .01 .45 .02 .45-.05 .45 .05 .45-.01 .45-.05 .45 .06 .45-.02 .45 0 .45 .01 .45 .03 .45-.07 .45 .06 .45-.06 .45 .01 .45 .02 .45-.03 .45 .04 .45 .03 .45-.09 .45 .01 .45 0 .45 .08 .45-.06 .45 .03 .45 .01 .45-.02 .45-.01 .45-.01 .45 .02 .45-.04 .45 .03 .45 .02 .45 .02 .45-.01 .45-.01 .45-.01 .45-.01 .45 .03 .45-.04 .45 .01 .45 .03 .45-.03 .45-.03 .45 .05 .45-.06 .45 .03 .45-.01 .45 0 .45 .06 .45-.06 .45 .01 .45-.01 .45 .03 .45-.04 .45 .04 .45 .04 .45-.04 .45-.05 .45 .04 .45 .02 .45-.05 .45 .03 .45-.04 .45 .08 .45-.05 .45 .03 .45-.05 .45 .04 .45-.03 .45 .04 .45-.05 .45 .06 .45-.04 .45 .05 .45 .01 .45-.06 .45 0 .45 .01 .45 .01 .45 .02 .45-.01 .45-.06 .45 .04 .45-.01 .45-.02 .45-.01 .45 .05 .45-.01 .45-.01 .45 .04 .45-.02 .45-.04 .45 .08 .45-.03 .45 .03 .45-.02 .45-.01 .45-.06 .45 .03 .45 .06 .45-.01 .45-.01 .45-.06 .45 .02 .45 0 .45-.04 .45 .1 .45 0 .45-.09 .45-.29 .45 .12 .45 .73 .45-.71 .45-.52 .45 .85 .45-.52 .45 .43 .45 0 .45-.23 .45 .2 .45 .09 .45-.1 .45-.02 .45 .03 .45-.04 .45 .03 .45-.03 .45 .03 .45-.04 .45-.01 .45 .01 .45 .06 .45-.01 .45 .03 .45-.04 .45-.01 .45-.01 .45 .06 .45-.01 .45-.03 .45 0 .45 .02 .45 .02 .45-.07 .45 .03 .45 .04 .45 .01 .45-.07 .45 .06 .45-.09 .45 .06 .45-.04 .45-.02 .45 .06 .45-.06 .45 .05 .45 0 .45 .04 .45-.03 .45 .03 .45-.05 .45 .04 .45-.07 .45-.01 .45 .06 .45-.01 .45 .02 .45 0 .45-.02 .45 .03 .45-.07 .45 .01 .45 .06 .45-.02 .45-.05 .45 .04 .45-.01 .45 .01 .45-.02 .45 .06 .45 0 .45-.09 .45 .01 .45 .04 .45 .02 .45-.05 .45 .03 .45-.02 .45 .03 .45-.06 .45 .09 .45-.06 .45 .02 .45-.02 .45-.02 .45 .07 .45 0" fill="none" stroke="#259a25" stroke-width="0.5" stroke-opacity="0.95" stroke-linejoin="round"/>
<line x1="329.8" y1="178.66" x2="428.4" y2="178.66" stroke="#259a25" stroke-width="0.7" stroke-opacity="0.95"/>
<path d="M388.68 173.89l.3-.1 .3 .15 .3-.29 .3 .38 .3-.64 .3 .97 .3-1.09 .3 .89 .3-.98 .3 1.2 .3-.88 .3 .73 .3-.61 .3 .33 .3-.15 .3 .08" fill="none" stroke="#259a25" stroke-width="0.45" stroke-opacity="0.45" stroke-linejoin="round"/>
<path d="M329.8 173.8l.45 .09 .45-.08 .45 .02 .45 0 .45-.02 .45 .01 .45 .02 .45 .02 .45 .03 .45-.01 .45-.04 .45 .04 .45 0 .45-.04 .45-.02 .45 0 .45 .06 .45-.05 .45-.01 .45 .04 .45 0 .45-.06 .45 .08 .45 0 .45-.07 .45-.01 .45 .05 .45-.04 .45 .08 .45-.09 .45 .02 .45-.01 .45 .03 .45 .02 .45 .02 .45-.06 .45 .06 .45-.05 .45 .02 .45-.05 .45 .04 .45-.02 .45-.01 .45 .08 .45-.09 .45 0 .45 .05 .45-.02 .45 0 .45 .01 .45 .05 .45-.06 .45 .01 .45 .01 .45-.04 .45 .03 .45-.03 .45 .02 .45 .04 .45-.02 .45 .02 .45-.07 .45 .05 .45-.02 .45 .04 .45 0 .45-.06 .45 .08 .45 0 .45-.09 .45 .03 .45-.02 .45 .08 .45-.02 .45-.05 .45 .06 .45 .01 .45 0 .45-.08 .45 .02 .45 .06 .45-.06 .45 0 .45 .04 .45-.03 .45 .03 .45-.04 .45 0 .45 .01 .45-.02 .45 .04 .45-.05 .45 .02 .45-.01 .45-.01 .45 .04 .45 .03 .45-.01 .45 0 .45 0 .45-.06 .45 .03 .45 .05 .45 0 .45-.07 .45 .05 .45-.06 .45 0 .45 0 .45 .07 .45-.04 .45 .04 .45-.07 .45 .08 .45-.05 .45 .05 .45-.07 .45 .05 .45-.07 .45 .07 .45 .02 .45 0 .45-.04 .45-.01 .45 .01 .45 .04 .45 .04 .45-.15 .45 .23 .45-.05 .45-.19 .45 .53 .45-.54 .45 .51 .45-.07 .45-.82 .45 .59 .45-.48 .45 .46 .45-.42 .45 .13 .45 .35 .45-.14 .45 .01 .45-.01 .45-.04 .45 .04 .45-.03 .45 .04 .45-.08 .45 .04 .45 0 .45-.03 .45 .08 .45 .01 .45-.04 .45-.02 .45-.02 .45 .02 .45 .01 .45-.04 .45 .05 .45 .01 .45-.07 .45 .09 .45 0 .45 0 .45-.09 .45 .07 .45 .03 .45-.01 .45-.08 .45 .05 .45-.02 .45 .03 .45-.01 .45-.05 .45 .05 .45 .02 .45-.04 .45-.03 .45 .05 .45 .03 .45-.07 .45 .01 .45-.02 .45 0 .45 .03 .45 .05 .45 0 .45-.01 .45-.02 .45 .03 .45-.08 .45 .03 .45 .02 .45-.02 .45-.01 .45 .05 .45 0 .45 0 .45-.03 .45-.01 .45 .03 .45-.01 .45 0 .45 .03 .45-.09 .45 .02 .45 0 .45 .07 .45-.02 .45-.04 .45 .02 .45 .05 .45-.01 .45-.07 .45 .07 .45-.02" fill="none" stroke="#259a25" stroke-width="0.5" stroke-opacity="0.45" stroke-linejoin="round"/>
<line x1="329.8" y1="173.85" x2="428.4" y2="173.85" stroke="#259a25" stroke-width="0.7" stroke-opacity="0.45"/>
<path d="M388.68 169.07l.3-.09 .3 .13 .3-.2 .3 .29 .3-.57 .3 .67 .3-.59 .3 .76 .3-1.13 .3 1.22 .3-.91 .3 .77 .3-.61 .3 .33 .3-.17 .3 .1" fill="none" stroke="#259a25" stroke-width="0.45" stroke-opacity="0.95" stroke-linejoin="round"/>
<path d="M329.8 168.8l.45 .14 .45 .21 .45-.29 .45 .14 .45 .1 .45 .15 .45-.05 .45-.03 .45-.15 .45 .09 .45-.24 .45 0 .45 .16 .45-.1 .45 .21 .45 .02 .45-.05 .45 .15 .45-.19 .45-.29 .45 .1 .45 .38 .45-.1 .45 .02 .45-.3 .45 .15 .45 .17 .45 .07 .45 .02 .45-.16 .45-.19 .45-.01 .45 .29 .45-.08 .45 .05 .45-.41 .45 .12 .45 .17 .45 .2 .45 .02 .45-.02 .45-.25 .45-.22 .45 .46 .45-.04 .45 .09 .45-.36 .45 .26 .45-.27 .45-.03 .45 .05 .45 .16 .45-.06 .45-.06 .45 .09 .45-.29 .45 .28 .45-.18 .45 .27 .45-.1 .45 .19 .45 .01 .45-.42 .45 .37 .45 .04 .45-.38 .45-.04 .45 .2 .45 .1 .45 .1 .45-.07 .45-.22 .45 .36 .45-.37 .45-.08 .45 .27 .45-.08 .45 .01 .45 .03 .45 .1 .45-.29 .45 .14 .45 .16 .45 .01 .45-.27 .45 .04 .45 .08 .45 .19 .45-.25 .45 .09 .45-.27 .45 .02 .45 .43 .45-.43 .45 .3 .45-.32 .45 .48 .45-.17 .45 .04 .45-.25 .45 .27 .45 .04 .45-.08 .45-.21 .45-.06 .45 .09 .45 .16 .45-.16 .45 .19 .45 .02 .45-.17 .45-.02 .45-.12 .45 .23 .45-.05 .45-.2 .45 .1 .45-.03 .45-.05 .45 .38 .45-.45 .45 .05 .45-.06 .45-.01 .45 .04 .45 .01 .45 .5 .45-.27 .45 .34 .45-.71 .45 .12 .45 .59 .45-.53 .45 .25 .45 .63 .45-.62 .45 .09 .45-.02 .45-.73 .45 .05 .45 .19 .45 .59 .45-.39 .45-.1 .45 .42 .45 0 .45-.43 .45 .43 .45-.08 .45-.01 .45-.33 .45 .25 .45 .25 .45-.19 .45-.13 .45 .17 .45-.02 .45-.05 .45 .15 .45 .07 .45-.16 .45-.21 .45 .01 .45-.13 .45 .19 .45 .29 .45-.36 .45 .31 .45 .03 .45-.04 .45 0 .45-.46 .45 .22 .45 .18 .45 .04 .45-.19 .45 .17 .45-.38 .45 .22 .45-.07 .45 .01 .45 .11 .45-.16 .45 .3 .45-.28 .45 .1 .45 .24 .45-.33 .45-.15 .45 .17 .45-.13 .45 .12 .45 .08 .45-.02 .45 .26 .45-.03 .45-.36 .45-.06 .45 .08 .45-.13 .45 .21 .45-.18 .45 .06 .45-.1 .45 .15 .45 .13 .45 .02 .45-.06 .45-.24 .45 .37 .45 .05 .45-.42 .45 .29 .45-.15 .45 .23 .45 .01 .45-.09 .45-.3 .45 .12" fill="none" stroke="#259a25" stroke-width="0.5" stroke-opacity="0.95" stroke-linejoin="round"/>
<line x1="329.8" y1="169.04" x2="428.4" y2="169.04" stroke="#259a25" stroke-width="0.7" stroke-opacity="0.95"/>
<path d="M388.68 164.28l.3-.14 .3 .16 .3-.17 .3 .39 .3-.7 .3 .67 .3-1 .3 1.29 .3-1.01 .3 .9 .3-.73 .3 .68 .3-.62 .3 .34 .3-.15 .3 .07" fill="none" stroke="#259a25" stroke-width="0.45" stroke-opacity="0.95" stroke-linejoin="round"/>
<path d="M329.8 164.24l.45-.01 .45 .01 .45 .04 .45-.02 .45-.02 .45-.01 .45-.04 .45 .06 .45-.03 .45-.01 .45 .04 .45-.03 .45 .06 .45-.1 .45 .1 .45-.07 .45-.02 .45 .04 .45-.01 .45 .01 .45 .04 .45-.05 .45 .05 .45-.03 .45 .01 .45 .03 .45-.05 .45 .03 .45 .01 .45-.01 .45 0 .45-.05 .45 0 .45 .03 .45-.01 .45-.02 .45 .03 .45-.01 .45 .04 .45-.03 .45-.03 .45-.01 .45 .01 .45-.02 .45 .08 .45-.04 .45 .03 .45 .01 .45-.03 .45-.01 .45-.03 .45 .07 .45-.02 .45-.03 .45 .06 .45-.06 .45 .06 .45-.09 .45 .01 .45 .02 .45 .03 .45 .03 .45-.04 .45 .01 .45-.01 .45 .03 .45-.04 .45 .04 .45-.02 .45 .02 .45-.06 .45 0 .45 .03 .45-.01 .45 .02 .45-.05 .45 .02 .45-.02 .45 .01 .45 .02 .45 .02 .45 .01 .45-.04 .45-.02 .45 .03 .45-.03 .45 .02 .45 .05 .45-.06 .45 .06 .45-.04 .45-.01 .45 .04 .45-.07 .45 .04 .45 .05 .45-.02 .45 0 .45-.02 .45-.04 .45 .01 .45 .07 .45-.03 .45 .01 .45-.01 .45-.05 .45 .08 .45-.03 .45-.04 .45 .04 .45-.02 .45-.03 .45 .04 .45 .01 .45-.06 .45 0 .45 .04 .45-.02 .45 .06 .45-.06 .45 .01 .45-.03 .45 .06 .45 .02 .45 .01 .45-.05 .45-.07 .45 .13 .45-.08 .45-.13 .45 .13 .45-.39 .45 .92 .45-.05 .45 .02 .45-.96 .45 .2 .45 .35 .45 .3 .45-.55 .45 .27 .45-.03 .45 .06 .45-.09 .45-.07 .45 .08 .45 0 .45-.04 .45 .01 .45-.04 .45 .05 .45-.01 .45-.05 .45-.01 .45 .05 .45-.03 .45 .08 .45-.03 .45-.06 .45 .02 .45-.02 .45 .09 .45-.02 .45-.01 .45 .03 .45-.07 .45-.01 .45 .02 .45 .05 .45-.08 .45 .06 .45 .03 .45-.09 .45 0 .45 .01 .45 .03 .45-.02 .45-.02 .45 .06 .45-.01 .45-.03 .45-.02 .45 0 .45 .03 .45 0 .45 .06 .45-.02 .45-.04 .45 .01 .45 .01 .45-.04 .45 .04 .45-.05 .45 .09 .45-.08 .45 .03 .45-.03 .45 .07 .45-.06 .45 0 .45 .01 .45 .05 .45-.04 .45 0 .45-.03 .45 .01 .45 .05 .45-.02 .45-.04 .45 .07 .45-.05 .45 .04 .45 .01 .45 0 .45-.03 .45 .04 .45-.03 .45-.02 .45 .02" fill="none" stroke="#259a25" stroke-width="0.5" stroke-opacity="0.95" stroke-linejoin="round"/>
<line x1="329.8" y1="164.23" x2="428.4" y2="164.23" stroke="#259a25" stroke-width="0.7" stroke-opacity="0.95"/>
<path d="M388.68 159.44l.3-.06 .3 .11 .3-.19 .3 .33 .3-.36 .3 .45 .3-.71 .3 .67 .3-.59 .3 .58 .3-.55 .3 .49 .3-.25 .3 .13 .3-.08 .3 .04" fill="none" stroke="#259a25" stroke-width="0.45" stroke-opacity="0.45" stroke-linejoin="round"/>
<path d="M329.8 159.45l.45-.02 .45-.02 .45 .05 .45-.06 .45 .04 .45 .01 .45-.02 .45 .01 .45-.05 .45 .02 .45 .05 .45 .01 .45-.09 .45 .06 .45-.02 .45 .02 .45-.05 .45 .05 .45 0 .45-.05 .45 .06 .45-.04 .45 .03 .45 0 .45 0 .45-.04 .45 .03 .45 .04 .45-.01 .45-.01 .45-.01 .45-.03 .45-.01 .45 .05 .45-.02 .45-.02 .45 .06 .45-.03 .45 .03 .45-.09 .45 .02 .45-.02 .45 .06 .45 .01 .45-.04 .45-.01 .45 .03 .45 .03 .45 0 .45 .02 .45-.06 .45-.01 .45 .02 .45-.04 .45 .07 .45-.05 .45-.02 .45 .02 .45 .04 .45-.05 .45 .04 .45-.04 .45 .03 .45-.05 .45 0 .45 .08 .45-.05 .45 .05 .45-.06 .45 .02 .45 .05 .45-.09 .45 .09 .45-.01 .45 .01 .45-.09 .45 .08 .45-.07 .45 .04 .45-.04 .45 .09 .45-.07 .45 .06 .45-.02 .45-.02 .45-.02 .45 .04 .45-.01 .45 .03 .45 0 .45-.03 .45 .02 .45-.02 .45-.04 .45 .04 .45-.05 .45 0 .45 .05 .45-.01 .45-.05 .45 .01 .45 .01 .45 .03 .45 .04 .45-.01 .45 0 .45-.05 .45 0 .45-.02 .45 .07 .45-.04 .45 .04 .45 .01 .45-.08 .45 .04 .45-.03 .45 .06 .45-.02 .45 .01 .45 .01 .45-.07 .45 .06 .45-.02 .45-.03 .45 .02 .45 .06 .45-.05 .45-.05 .45-.04 .45 .07 .45 .18 .45-.27 .45 .41 .45-.25 .45 .04 .45 .35 .45-.26 .45-.03 .45-.16 .45 .13 .45 .01 .45-.19 .45 .09 .45-.09 .45 .02 .45 0 .45 .08 .45-.08 .45 .07 .45-.08 .45 .05 .45-.04 .45 .02 .45 .04 .45-.05 .45 .01 .45-.02 .45 0 .45 .06 .45 .02 .45-.04 .45 .02 .45-.05 .45 .05 .45 .01 .45-.06 .45 .07 .45-.03 .45-.03 .45-.03 .45 .02 .45 .05 .45-.02 .45-.04 .45 .08 .45 0 .45 0 .45 0 .45 0 .45-.05 .45-.01 .45 .03 .45-.02 .45 .03 .45 .02 .45-.01 .45-.08 .45 .04 .45 .04 .45-.08 .45 .02 .45 .01 .45-.02 .45 .04 .45 .04 .45-.01 .45-.03 .45-.01 .45 .04 .45-.01 .45-.05 .45 .03 .45-.03 .45 .08 .45-.07 .45 .02 .45 .04 .45-.03 .45 .02 .45-.05 .45 .04 .45-.02 .45-.02 .45 .04 .45-.04 .45 .03 .45-.02 .45-.01 .45 0" fill="none" stroke="#259a25" stroke-width="0.5" stroke-opacity="0.45" stroke-linejoin="round"/>
<line x1="329.8" y1="159.43" x2="428.4" y2="159.43" stroke="#259a25" stroke-width="0.7" stroke-opacity="0.45"/>
<path d="M388.68 154.64l.3-.06 .3 .13 .3-.17 .3 .3 .3-.42 .3 .57 .3-.79 .3 .63 .3-.6 .3 .59 .3-.43 .3 .32 .3-.24 .3 .2 .3-.1 .3 .07" fill="none" stroke="#259a25" stroke-width="0.45" stroke-opacity="0.95" stroke-linejoin="round"/>
<path d="M329.8 154.61l.45 .01 .45 .04 .45-.06 .45-.03 .45 .1 .45 0 .45-.03 .45 0 .45-.07 .45 .02 .45-.01 .45 .04 .45-.01 .45-.03 .45 .03 .45 .06 .45-.05 .45-.04 .45 .05 .45 .01 .45 0 .45-.04 .45 .05 .45 .01 .45-.05 .45 .03 .45-.04 .45 .02 .45 .04 .45-.05 .45-.03 .45 .08 .45 0 .45 0 .45-.05 .45 .03 .45-.06 .45 .07 .45-.04 .45-.03 .45 .05 .45-.04 .45 .05 .45-.06 .45 .01 .45 .04 .45-.05 .45 .09 .45-.01 .45-.03 .45 .03 .45-.02 .45-.01 .45-.05 .45 .05 .45 .02 .45-.03 .45-.05 .45 .01 .45 .06 .45 .02 .45-.01 .45-.07 .45 .03 .45-.04 .45 .1 .45-.06 .45 0 .45 .03 .45 .02 .45-.09 .45 .09 .45-.03 .45-.04 .45 .04 .45-.03 .45 0 .45 0 .45 .04 .45 .01 .45 0 .45-.06 .45 .05 .45 0 .45-.01 .45 .03 .45-.07 .45 .08 .45-.03 .45 .01 .45-.03 .45 .03 .45-.05 .45 .04 .45-.01 .45 .03 .45-.08 .45 .06 .45 .02 .45-.09 .45 .09 .45-.01 .45 .01 .45-.02 .45 .02 .45-.02 .45-.04 .45 .02 .45-.04 .45 0 .45 .09 .45-.05 .45 .04 .45-.03 .45-.01 .45-.03 .45 .05 .45 .03 .45-.02 .45-.06 .45 .08 .45-.04 .45-.04 .45 .01 .45-.01 .45 .02 .45 0 .45-.01 .45-.08 .45 .25 .45-.26 .45-.11 .45-.11 .45 .73 .45-.49 .45-.31 .45 .83 .45-.57 .45 .06 .45 .29 .45-.34 .45 .19 .45 0 .45 .01 .45-.07 .45-.05 .45 .03 .45 .05 .45-.03 .45-.02 .45 .01 .45 .04 .45-.03 .45-.01 .45-.01 .45 .07 .45-.05 .45 .01 .45 .02 .45-.01 .45-.01 .45-.01 .45 .03 .45 0 .45-.04 .45 .06 .45-.08 .45-.01 .45 0 .45 .09 .45-.02 .45-.06 .45 .01 .45 .01 .45-.01 .45 .06 .45 0 .45-.07 .45 0 .45 .05 .45-.05 .45 .07 .45-.03 .45-.05 .45 .06 .45-.01 .45 .03 .45-.03 .45 .03 .45-.05 .45-.03 .45 .05 .45-.05 .45 .07 .45 .02 .45-.05 .45 .05 .45-.01 .45-.01 .45-.02 .45 0 .45-.05 .45 .07 .45-.02 .45 .01 .45 0 .45-.02 .45-.04 .45 .06 .45 .03 .45-.1 .45 .03 .45 .04 .45-.06 .45 .06 .45 .01 .45-.07 .45 .03 .45 .02" fill="none" stroke="#259a25" stroke-width="0.5" stroke-opacity="0.95" stroke-linejoin="round"/>
<line x1="329.8" y1="154.62" x2="428.4" y2="154.62" stroke="#259a25" stroke-width="0.7" stroke-opacity="0.95"/>
<path d="M388.68 149.83l.3-.04 .3 .11 .3-.23 .3 .27 .3-.41 .3 .53 .3-.54 .3 .6 .3-.6 .3 .55 .3-.45 .3 .38 .3-.33 .3 .2 .3-.1 .3 .06" fill="none" stroke="#259a25" stroke-width="0.45" stroke-opacity="0.45" stroke-linejoin="round"/>
<path d="M329.8 149.84l.45-.02 .45-.05 .45 .02 .45 0 .45 .07 .45 0 .45-.03 .45 0 .45-.03 .45 0 .45 .05 .45-.03 .45 .03 .45 0 .45 .01 .45-.07 .45 .03 .45 .01 .45-.01 .45 .03 .45-.05 .45 .03 .45 .03 .45 0 .45-.05 .45 .02 .45 .01 .45-.04 .45-.03 .45 .05 .45-.05 .45 .01 .45 .06 .45-.07 .45 0 .45 .08 .45-.03 .45 0 .45-.03 .45 .05 .45-.07 .45 .07 .45-.04 .45-.01 .45 .07 .45-.07 .45 .02 .45-.04 .45 .03 .45 .05 .45-.07 .45 .08 .45-.07 .45 .06 .45-.05 .45 .05 .45-.02 .45-.04 .45 .05 .45-.02 .45-.05 .45 .01 .45 .04 .45 .04 .45-.01 .45-.04 .45 .02 .45-.06 .45 .01 .45 .02 .45 .04 .45-.03 .45-.05 .45 .06 .45-.04 .45-.01 .45 .07 .45-.07 .45 .03 .45 .03 .45 .02 .45 0 .45-.05 .45 .02 .45-.01 .45 0 .45 0 .45 .04 .45-.05 .45 .05 .45-.05 .45-.02 .45 0 .45 .02 .45 .05 .45-.06 .45 .02 .45 .05 .45-.06 .45 .05 .45-.05 .45 .04 .45 0 .45 .01 .45 .01 .45-.05 .45-.02 .45 .04 .45-.06 .45 .09 .45-.02 .45 .01 .45 0 .45-.01 .45-.06 .45-.02 .45 .1 .45-.09 .45 0 .45 .07 .45 .01 .45-.07 .45 .05 .45-.05 .45 .01 .45 0 .45-.02 .45 .13 .45-.17 .45-.01 .45 .16 .45-.29 .45 .48 .45-.17 .45 .11 .45-.61 .45 .42 .45 .08 .45 .06 .45 0 .45-.32 .45 .14 .45-.04 .45 .1 .45-.07 .45 .06 .45-.05 .45 .08 .45-.03 .45-.02 .45-.02 .45 .05 .45-.07 .45 .06 .45 .02 .45 0 .45-.05 .45-.01 .45 .07 .45 0 .45-.03 .45 0 .45 .03 .45-.04 .45-.05 .45 .09 .45-.07 .45 .04 .45-.02 .45 .05 .45-.06 .45 .02 .45-.04 .45 .02 .45 .05 .45-.01 .45-.06 .45 .08 .45-.1 .45 .01 .45 .07 .45 .01 .45-.08 .45 0 .45 .05 .45 .04 .45-.02 .45-.03 .45 .01 .45-.05 .45 .06 .45-.04 .45 .07 .45-.01 .45-.08 .45 .03 .45 0 .45 .03 .45-.05 .45 .08 .45-.06 .45 .04 .45 .02 .45-.03 .45 .01 .45 0 .45 0 .45-.02 .45 .03 .45 .01 .45-.05 .45-.02 .45 .07 .45-.06 .45 .05 .45-.06 .45-.01 .45-.01 .45 .07" fill="none" stroke="#259a25" stroke-width="0.5" stroke-opacity="0.45" stroke-linejoin="round"/>
<line x1="329.8" y1="149.81" x2="428.4" y2="149.81" stroke="#259a25" stroke-width="0.7" stroke-opacity="0.45"/>
<path d="M388.68 145.03l.3-.06 .3 .11 .3-.22 .3 .3 .3-.38 .3 .62 .3-.74 .3 .7 .3-.55 .3 .42 .3-.4 .3 .29 .3-.2 .3 .18 .3-.12 .3 .05" fill="none" stroke="#259a25" stroke-width="0.45" stroke-opacity="0.45" stroke-linejoin="round"/>
<path d="M329.8 145.02l.45-.02 .45 .06 .45-.02 .45 .01 .45 0 .45-.04 .45 .01 .45 .02 .45-.05 .45 .01 .45 0 .45-.03 .45 .05 .45-.05 .45 .04 .45 0 .45 .04 .45-.01 .45-.01 .45-.01 .45-.04 .45 0 .45-.02 .45 .03 .45-.01 .45 .02 .45 0 .45-.03 .45 .06 .45-.05 .45-.02 .45 .02 .45 .06 .45 0 .45-.04 .45 .04 .45 .01 .45-.08 .45 .06 .45-.07 .45 .05 .45 .02 .45 .02 .45 0 .45-.09 .45 .06 .45 .02 .45-.04 .45 .01 .45 0 .45-.05 .45 0 .45 .09 .45-.02 .45-.02 .45 .03 .45-.07 .45 .03 .45 0 .45 .04 .45-.04 .45 0 .45 .01 .45 0 .45 .02 .45-.07 .45 .09 .45-.03 .45-.02 .45-.02 .45 0 .45 .04 .45-.03 .45-.02 .45 .01 .45 .05 .45-.04 .45 .06 .45-.03 .45-.06 .45 0 .45 .05 .45-.01 .45-.04 .45 .09 .45-.09 .45 .08 .45-.07 .45 .06 .45-.05 .45 .05 .45-.02 .45-.04 .45 .03 .45 .02 .45 .01 .45 .01 .45-.02 .45-.01 .45-.03 .45 .01 .45-.01 .45-.01 .45 0 .45 .06 .45-.06 .45-.01 .45 0 .45 .1 .45-.05 .45-.03 .45-.02 .45 .08 .45-.02 .45-.02 .45-.03 .45 0 .45 .09 .45-.04 .45 0 .45-.06 .45 .07 .45-.06 .45 0 .45 0 .45 .03 .45 .01 .45 .08 .45 .04 .45-.06 .45-.05 .45 .03 .45 .26 .45-.52 .45 .56 .45-.49 .45-.11 .45 .19 .45 .36 .45-.07 .45-.3 .45 .12 .45 .01 .45-.07 .45 .01 .45 .02 .45-.04 .45 .01 .45 0 .45 0 .45 .04 .45-.02 .45 .02 .45-.06 .45 .01 .45-.01 .45 .06 .45-.06 .45 .05 .45-.05 .45 .06 .45-.05 .45 .04 .45 .02 .45-.08 .45 .04 .45-.01 .45-.03 .45 .04 .45 .05 .45-.08 .45 .08 .45-.06 .45 .03 .45 0 .45 .04 .45-.05 .45-.02 .45 0 .45 .06 .45-.05 .45 .04 .45-.01 .45-.04 .45-.01 .45 .02 .45 .03 .45-.05 .45 .06 .45-.03 .45-.02 .45-.01 .45 .04 .45 .03 .45-.02 .45-.04 .45-.02 .45 .05 .45 0 .45 0 .45-.05 .45 .04 .45 .04 .45-.05 .45 .03 .45-.04 .45 .01 .45-.03 .45 .03 .45 .06 .45-.03 .45 .03 .45-.07 .45 .06 .45-.08 .45 .07 .45-.07 .45-.01 .45 .1" fill="none" stroke="#259a25" stroke-width="0.5" stroke-opacity="0.45" stroke-linejoin="round"/>
<line x1="329.8" y1="145.01" x2="428.4" y2="145.01" stroke="#259a25" stroke-width="0.7" stroke-opacity="0.45"/>
<path d="M388.68 140.22l.3-.04 .3 .11 .3-.19 .3 .27 .3-.41 .3 .54 .3-.67 .3 .71 .3-.65 .3 .6 .3-.47 .3 .31 .3-.21 .3 .14 .3-.08 .3 .04" fill="none" stroke="#259a25" stroke-width="0.45" stroke-opacity="0.95" stroke-linejoin="round"/>
<path d="M329.8 140.24l.45-.06 .45 .06 .45-.08 .45 .02 .45 .06 .45-.03 .45 0 .45 0 .45 0 .45 .01 .45 0 .45-.01 .45-.03 .45 .05 .45 0 .45-.02 .45-.05 .45 .07 .45-.02 .45 .02 .45-.07 .45 .06 .45 .02 .45 0 .45-.06 .45 .03 .45 .03 .45-.05 .45 .03 .45-.03 .45-.02 .45 .05 .45-.03 .45 0 .45 .04 .45-.06 .45 0 .45 .05 .45-.07 .45 .08 .45-.04 .45-.01 .45-.02 .45 .07 .45-.01 .45 .01 .45 .01 .45 0 .45-.07 .45-.01 .45 .05 .45 .02 .45-.01 .45-.04 .45 .01 .45 .04 .45 .02 .45-.08 .45 .06 .45-.03 .45 .03 .45 .02 .45-.09 .45 .07 .45-.01 .45-.05 .45 .07 .45-.04 .45 .04 .45-.04 .45 0 .45 0 .45 0 .45-.03 .45 .04 .45-.02 .45 .03 .45 .01 .45-.06 .45 0 .45 .02 .45 .06 .45-.02 .45-.05 .45-.01 .45 .03 .45 .02 .45-.01 .45-.05 .45 .08 .45-.06 .45 .03 .45 .03 .45-.01 .45-.07 .45 .01 .45 .03 .45-.05 .45 .03 .45 .07 .45-.09 .45 .06 .45-.02 .45-.04 .45 .01 .45 .08 .45-.06 .45 .04 .45 .01 .45-.05 .45-.02 .45 .03 .45 .02 .45 .01 .45 .02 .45-.06 .45 0 .45 .05 .45-.05 .45 0 .45-.03 .45 .05 .45 .01 .45-.03 .45 .04 .45-.07 .45 .08 .45-.08 .45-.07 .45 .27 .45-.31 .45 .17 .45-.28 .45 .71 .45-.38 .45 .02 .45 .16 .45 .08 .45-.03 .45-.16 .45-.22 .45 .01 .45 .12 .45-.02 .45-.07 .45 .03 .45-.02 .45 .04 .45 0 .45-.06 .45 .09 .45-.01 .45 .02 .45-.08 .45 .05 .45 .03 .45-.06 .45 .05 .45-.04 .45-.03 .45 .06 .45-.01 .45-.04 .45 .07 .45-.03 .45 .03 .45-.1 .45 .08 .45-.06 .45 .02 .45-.01 .45 .06 .45-.03 .45-.02 .45-.02 .45 .02 .45 .03 .45-.04 .45 .02 .45 .01 .45 0 .45-.04 .45 .04 .45 .02 .45-.08 .45 .01 .45 .02 .45-.01 .45 .04 .45 0 .45-.04 .45 .05 .45 .02 .45-.06 .45 0 .45-.01 .45 0 .45 .04 .45-.03 .45 .04 .45 0 .45-.03 .45 .05 .45-.02 .45-.06 .45 .05 .45 0 .45 .03 .45-.07 .45 .08 .45-.02 .45-.04 .45 .06 .45-.08 .45 .02 .45 0 .45 .04 .45 0 .45-.05" fill="none" stroke="#259a25" stroke-width="0.5" stroke-opacity="0.95" stroke-linejoin="round"/>
<line x1="329.8" y1="140.2" x2="428.4" y2="140.2" stroke="#259a25" stroke-width="0.7" stroke-opacity="0.95"/>
<text x="320.2" y="142.6" font-size="7.3" text-anchor="middle" fill="#000">ch30</text>
<text x="320.2" y="170.7" font-size="7.3" text-anchor="middle" fill="#000">ch24</text>
<text x="320.2" y="198.4" font-size="7.3" text-anchor="middle" fill="#000">ch18</text>
<text x="320.2" y="225.9" font-size="7.3" text-anchor="middle" fill="#000">ch12</text>
<text x="320.2" y="253.8" font-size="7.3" text-anchor="middle" fill="#000">ch6</text>
<text x="320.2" y="281.4" font-size="7.3" text-anchor="middle" fill="#000">ch1</text>
<text x="329.6" y="289.9" font-size="7" text-anchor="middle" fill="#000">0</text>
<text x="360.97" y="289.9" font-size="7" text-anchor="middle" fill="#000">30</text>
<text x="392.33" y="289.9" font-size="7" text-anchor="middle" fill="#000">60</text>
<text x="423.7" y="289.9" font-size="7" text-anchor="middle" fill="#000">90</text>
<text x="375.5" y="298.2" font-size="7.2" text-anchor="middle" fill="#000">Time(s)</text>
<path d="M436.9 279.26l4 .05 4.8 .02 1.2-.06 1.2 .02 2 .11 2-.13 1.2-.01 5.2 .07 2.8-.05 .8 .1 1.2-.1 4.4 .07 .8-.29 1.2-.91 .4-.08 .4 .23 .8 .69 .4 .18 1.2 .08 4 .09 2 .01 .8-.11 3.2 .05 3.6 .01 5.2-.05 1.2 .05 1.2 .01 .4-.08 .4-.28 .8-1.27 .4-.35 .4 .04 .4 .17 2 1.33 1.2 .33 2.4 .11 1.6-.04 2 .05 1.2-.11 1.2 .13 1.2-.09 2.4 .08 4-.05 4 .04 5.2-.02 1.2 .06 1.6-.11 2 .11 4-.09 .4-.03 1.2 .09" fill="none" stroke="#1f77b4" stroke-width="0.8" stroke-opacity="0.9" stroke-linejoin="round"/>
<path d="M436.9 274.47l1.2 0 1.2 .02 3.6-.03 3.6 .03 2.8-.06 1.2 .06 1.2-.02 3.6 .05 2-.09 1.2 .09 2-.1 4.4 .09 3.2-.07 .4-.07 .8-.45 .4-.37 .4-.25 .4-.06 .4 .19 .8 .64 .4 .22 1.6 .19 4.8-.01 3.6 .06 3.2-.05 3.2 .02 1.2-.1 1.6 .05 1.2-.05 1.2 .16 .8-.29 .4-.33 .8-1.12 .4-.4 .8 .24 .8 .53 1.2 .94 1.6 .33 5.2 0 1.2-.05 2.4 .08 1.2-.04 .8 .13 1.6-.13 4 .02 1.2 .05 .8-.03 1.2 .06 4.8-.12 5.6 .02 3.6 .03 1.2 .03 .4 0" fill="none" stroke="#1f77b4" stroke-width="0.8" stroke-opacity="0.9" stroke-linejoin="round"/>
<path d="M436.9 269.59l1.2 .07 2.4-.04 3.2 .04 4-.05 1.2 .08 1.2-.08 2-.02 1.2 .05 1.2 .01 1.6-.02 1.6-.04 4 .09 1.2 .02 2.4-.11 1.2 .12 2.4-.19 .4-.21 .4-.41 .8-1 .4-.16 .4 .24 .8 1.01 .4 .38 .8 .26 2 .04 2-.03 6 .02 1.2-.03 1.6 0 1.2-.09 1.2 .12 2.4-.03 .8 .03 2-.1 .4 .03 .4-.07 .4-.28 .4-.53 .4-.65 .4-.39 .4 .03 .8 .39 1.2 .87 .8 .37 1.6 .31 3.2 .02 2-.05 2 .05 4 .03 1.2 .02 1.6-.05 2.8-.01 2.4 .04 4-.06 2.8-.02 2.8 .03 4.4 .04 1.6-.08" fill="none" stroke="#1f77b4" stroke-width="0.8" stroke-opacity="0.9" stroke-linejoin="round"/>
<path d="M436.9 264.77l2 .07 2-.07 1.6 .03 1.6-.03 1.6 .11 4-.07 3.2 .03 2.4-.09 2 .07 3.2 0 1.2-.05 2 .13 3.2-.12 1.6-.04 .8-.11 .4-.16 .4-.34 .8-1 .4-.23 .4 .19 .8 1.03 .4 .34 .4 .2 1.2 .14 6.4 .04 3.2-.06 3.6-.05 1.6 .09 2.4-.06 2.4 0 .4-.13 .4-.34 .8-1.15 .4-.33 .4 .04 .4 .15 2 1.39 .8 .29 .8 .14 2.8-.02 1.6 .01 1.6-.11 2 .16 1.2-.09 2 .05 1.2-.02 2.8 .09 1.6-.12 2 .05 1.2-.03 1.2 .05 2-.05 2.4 .02 2.8 .01 4.8-.01 2-.09" fill="none" stroke="#1f77b4" stroke-width="0.8" stroke-opacity="0.45" stroke-linejoin="round"/>
<path d="M436.9 259.98l3.6-.04 .8 .11 2-.04 1.2 0 2.4-.03 1.2 0 .8-.05 1.2 .08 1.2-.09 1.2 .1 3.6-.06 .8-.1 1.6 .11 1.6 .03 .8-.05 1.2 .09 1.2-.1 5.2 .03 1.2-.09 .4-.18 .4-.41 .8-1 .4-.22 .4 .2 .8 1.02 .4 .38 .4 .25 .8 .11 1.2-.11 1.2 .08 1.2-.04 1.6 .04 1.2-.09 3.2 .06 4.8 .02 1.2 .01 1.6-.07 1.2 .02 1.6-.16 .4-.29 .4-.46 .4-.66 .4-.39 .4 .01 .4 .16 2 1.39 .8 .26 1.6 .2 2.8-.04 2 .04 1.6 .02 1.2 .01 1.2-.13 1.2 .08 3.2-.04 3.6 .06 2.4-.01 2.8-.01 3.2 0 1.2 0 1.6 0 1.2-.08 2.8 .12 2-.08 .4 .03" fill="none" stroke="#1f77b4" stroke-width="0.8" stroke-opacity="0.9" stroke-linejoin="round"/>
<path d="M436.9 255.17l.8 .03 1.2 0 2.4-.05 2.4-.01 2-.03 2 .09 1.2-.13 2 .08 5.2 .05 1.2-.1 4.4 .07 1.2 .01 1.2-.05 .8-.02 1.2 .05 3.6-.03 .4-.09 .4-.19 .4-.33 .8-.94 .4-.31 .4 .15 .4 .41 .4 .57 .4 .39 .4 .27 .8 .1 5.6-.03 2 .04 2.8-.06 1.6 .11 1.6-.05 2.8-.07 1.6 .03 1.2-.04 .4-.1 .4-.31 .8-1.18 .4-.37 .8 .25 1.6 1.17 .8 .37 1.2 .22 3.2 .01 1.6 .01 1.2-.06 1.2 .05 2-.06 3.2 .04 2 .01 2 .03 .8 .03 .8-.15 1.2 .1 1.6-.05 2.4 .07 .4 .06 2.8-.13 2 .03 1.2-.03 .8 .03 4 .01 .8-.06" fill="none" stroke="#1f77b4" stroke-width="0.8" stroke-opacity="0.9" stroke-linejoin="round"/>
<path d="M436.9 250.31l2.4-.02 2 .06 2.4-.06 2.8 .04 1.2-.09 .8 .09 1.6-.03 2 .09 2-.08 2 .07 1.6-.06 4.4 .01 1.6 .02 2-.04 .8 .04 2.4-.09 1.2 .11 .8-.21 .4-.36 .8-1.1 .4-.29 .4 .13 .8 .96 .4 .39 .4 .29 .8 .19 3.6-.04 1.2 .03 4-.08 .4-.08 1.6 .17 2.4-.08 2.4-.01 1.2 .08 2-.13 .4-.08 .4-.3 .4-.49 .4-.62 .4-.35 .4 0 .4 .11 .8 .51 .8 .64 .8 .36 2 .35 .8-.06 1.2 .06 .8-.09 2 .07 1.2-.05 3.6 .05 1.6-.07 7.2 .06 1.6 0 2.8 .02 .8-.07 4 .06 4-.01 1.2-.03 1.6 0" fill="none" stroke="#1f77b4" stroke-width="0.8" stroke-opacity="0.9" stroke-linejoin="round"/>
<path d="M436.9 245.48l2.8-.07 1.2 .07 1.2-.07 2.4 .13 1.2-.09 5.6 .05 .4-.05 .4 .1 1.6-.11 1.2 .09 3.2-.04 6-.01 1.2 .09 4-.08 1.2-.04 .8-.16 .4-.32 .4-.47 .4-.6 .4-.32 .4 .05 .8 1.04 .4 .42 .4 .21 1.6 .21 1.6-.03 2 .07 2.4-.07 3.6 .05 1.6-.05 1.6 .03 2.8-.07 1.2 .07 .8-.05 .4-.1 .4-.31 .8-1.2 .4-.39 .8 .16 1.6 1.2 .8 .39 1.6 .29 3.6-.01 2.4 .01 3.2-.01 2.8 0 1.2-.1 2.8 .15 5.6-.05 2 .03 1.2-.11 1.2 .12 6.4-.03 .8-.02 1.2-.03 .4 .04" fill="none" stroke="#1f77b4" stroke-width="0.8" stroke-opacity="0.45" stroke-linejoin="round"/>
<path d="M436.9 240.63l1.2 .06 1.2-.11 2.4 .07 5.2 .02 2.4 .01 4.8-.02 1.2 .07 1.2-.15 2 .04 1.6-.01 1.6 .1 1.6-.12 .8 .09 1.2-.11 2 .1 2 0 1.6 0 .8-.17 .4-.32 .4-.47 .4-.57 .4-.35 .4-.02 .4 .38 .8 .99 .4 .33 .8 .21 2-.05 .4 .06 1.2-.12 1.2 .03 2.8 .07 1.2-.08 1.2 .11 3.2-.08 1.6 .07 2.4-.05 .8 0 .4-.14 .4-.31 .8-1.16 .4-.38 .4 .01 .8 .44 1.6 1.1 .8 .27 3.2 .21 2.4-.08 1.6 .09 2.4-.07 2.4 .07 2.8-.09 1.6 .09 4.4 .02 .8-.1 1.2 .13 1.6-.1 1.2 .12 3.6-.1 1.2 .01 1.2-.1 2.4 .12 2-.06" fill="none" stroke="#1f77b4" stroke-width="0.8" stroke-opacity="0.9" stroke-linejoin="round"/>
<path d="M436.9 235.92l1.2-.16 1.6 .04 2.8-.03 2 .06 2.8-.02 2 .06 1.6-.08 2 .07 1.2-.09 .8 .14 2-.14 1.2 .06 2.4-.03 1.2 .01 2.8-.01 .8 .06 2-.05 .8-.03 2.4 .04 .4 .03 1.2-.24 .4-.23 .4-.44 .4-.57 .4-.42 .4-.01 .4 .37 .8 1.02 .4 .26 1.2 .24 4.8 .03 1.2-.04 2.8 .02 1.2-.12 2 .1 2 .01 1.6-.07 1.2 .07 .8-.14 .4-.28 .8-1.24 .4-.34 .4 .08 1.2 .7 1.2 .84 1.2 .31 4 .11 1.2-.09 1.2 .05 .8-.04 1.2 .11 2-.13 1.2 .09 4.4-.1 1.2 .09 3.6-.03 1.2 0 .8-.04 1.2 .1 1.2-.06 2 .02 2.4-.07 2 .1 2-.11 2 .09" fill="none" stroke="#1f77b4" stroke-width="0.8" stroke-opacity="0.9" stroke-linejoin="round"/>
<path d="M436.9 230.94l2.8 .09 2-.09 3.2 .05 3.2 .01 2.8-.03 1.2 .04 1.2-.04 2.4 .04 2.4-.03 4.4 .05 3.6-.11 1.6 .12 4.4-.11 .4-.08 .4-.24 .4-.38 .8-.99 .4-.15 .4 .33 .8 .98 .4 .35 .8 .26 1.2-.1 3.6 .07 3.2 .02 .4-.07 2.4 .08 1.2-.02 1.6-.06 1.6 .08 2-.03 .4-.17 .4-.28 .8-1.16 .4-.38 .4-.03 .4 .18 .4 .28 .4 .39 1.6 .86 1.2 .31 1.2 .01 2.4 .04 1.2-.07 1.6 .06 1.2-.02 1.2 .06 1.6-.06 3.6-.01 1.2 .07 1.2-.1 5.2 .08 1.2-.12 1.6 .08 2 0 2-.07 2 .14 4.8-.07" fill="none" stroke="#1f77b4" stroke-width="0.8" stroke-opacity="0.9" stroke-linejoin="round"/>
<path d="M436.9 226.17l1.6-.08 1.6 .07 2.4 .07 1.6-.07 1.6-.1 1.6 .12 3.2-.03 1.2 .03 3.6-.02 2.8 0 1.6 .06 2-.13 1.6 .09 2.8-.05 2.4 .03 3.6 .05 .8-.27 .4-.23 1.2-1.32 .4-.07 .4 .24 .8 1 .4 .35 .4 .17 2.8 .12 2.4-.07 1.2-.05 2.4 .13 2.4-.07 1.6 0 1.2 .1 2-.06 .8 0 .8-.19 .4-.27 .4-.55 .4-.68 .4-.37 .8 .2 .8 .55 .8 .66 .8 .34 1.6 .28 3.2 .03 1.2-.06 1.6 .08 1.2-.04 4.8 .05 3.6-.01 .4 .03 1.2-.07 4.4 0 1.6 .03 .8-.06 1.2 .05 1.2-.04 2.4-.02 1.2 .08 1.2-.05 .8 .05 1.2-.05 1.6-.06" fill="none" stroke="#1f77b4" stroke-width="0.8" stroke-opacity="0.9" stroke-linejoin="round"/>
<path d="M436.9 221.31l3.2 0 1.6 .02 9.6 0 3.2 0 .8-.07 2 .07 .4 .07 2.8-.09 1.6 .02 1.6-.03 2.4 0 2.4 .04 3.2 0 1.2-.04 .4-.09 .4-.27 .4-.4 .8-1.01 .4-.15 .4 .26 .8 1.09 .4 .33 .4 .19 2 .13 3.6-.08 1.2 .08 2.4-.08 2 .06 4-.06 1.2 .06 .8-.24 .4-.32 .8-1.07 .4-.34 .8 .15 1.6 1.18 .8 .38 2.4 .24 2-.04 3.6 .01 2.8 .07 2-.07 1.6 .03 1.2-.01 2.4-.08 1.6 .1 2.8-.04 1.6-.02 .8 .13 2-.1 2.8 .09 1.6-.12 2.8 .06 2.4 0" fill="none" stroke="#1f77b4" stroke-width="0.8" stroke-opacity="0.45" stroke-linejoin="round"/>
<path d="M436.9 216.5l5.2 .02 1.2-.08 2.4 .09 6-.06 2 0 .8 .1 1.2-.04 1.2 .03 2.4-.11 1.6 .08 4.4-.02 3.2-.02 3.6-.02 1.6-.05 .4-.21 .4-.4 .8-1.03 .4-.18 .4 .18 .8 1.12 .4 .36 .8 .23 2.4 .08 2-.1 3.6-.01 7.6 .08 .8-.21 .4-.28 .4-.55 .4-.66 .4-.34 .4 .01 .8 .4 1.2 .9 .4 .25 .8 .24 1.6 .18 1.2 .06 1.2-.05 1.6 .05 1.2-.07 .8 .08 2-.07 3.6 .01 2.8-.02 1.6 0 1.2-.04 3.2 .07 4-.01 4.4-.02 .8 0 1.6 .13 1.6-.15 1.6 .02" fill="none" stroke="#1f77b4" stroke-width="0.8" stroke-opacity="0.9" stroke-linejoin="round"/>
<path d="M436.9 211.63l4.8 .03 2 .07 3.2-.09 1.2 .07 2-.12 2 .13 1.6-.09 2.4 .03 1.2-.04 1.2 .08 1.2-.05 2 0 2 .09 1.2-.07 4.4-.07 .8 .1 .4 .03 .8-.06 1.6-.02 .8 .03 .4-.09 .4-.22 .4-.4 .8-1.06 .4-.22 .4 .19 .8 1.12 .4 .44 .4 .18 2 .11 2.4-.13 2.8 .07 .8-.02 2.8 .04 1.2-.05 3.2-.02 .4 .05 .8-.18 .4-.31 .8-1.12 .4-.36 .4 .04 .8 .4 1.2 .85 .8 .42 .8 .21 1.6 .02 1.2 .07 3.2-.07 2 .08 .8-.1 1.2 .02 2.8 .02 3.2-.02 1.2 .05 3.6-.07 3.6 0 1.2 0 1.2 .07 5.6-.06 1.2 .02 1.6 .04 .4-.03" fill="none" stroke="#1f77b4" stroke-width="0.8" stroke-opacity="0.9" stroke-linejoin="round"/>
<path d="M436.9 206.9l4.4-.11 1.2 .07 .4-.09 2.8 .13 .8-.1 2.4 .03 2.4 .02 1.6-.02 3.6-.01 1.6-.03 2.8 .04 1.2 .03 1.2-.09 2.4 .12 2.8-.09 7.6-.03 1.2 .09 .8-.06 1.2 .07 3.6-.07 1.2 .04 2.4 0 1.6-.05 2.4 .06 2 .01 .8-.09 .4 .06 .8-.14 .4-.32 .4-.52 .4-.64 .4-.32 .4 .02 .8 .35 1.2 .9 .8 .42 1.2 .21 2 .03 2.4-.04 1.2 .02 .8-.07 3.2 .13 3.2-.01 1.6-.07 .8-.01 1.6 .07 4.8 0 6.4 0 4-.06 2.4 .05 .8-.01" fill="none" stroke="#1f77b4" stroke-width="0.8" stroke-opacity="0.9" stroke-linejoin="round"/>
<path d="M436.9 201.99l1.6 .07 2-.12 .8 .05 3.2-.01 2.4 .09 6.4-.06 .8 .07 1.2-.08 2.8 .01 1.2-.04 3.6 .06 .4-.1 1.2 .12 3.2-.02 3.6 .03 3.6-.05 1.2-.02 1.6-.02 1.2 .1 3.6-.08 5.2 .01 2.8-.06 2.4 .07 1.2-.06 .4-.07 .4-.32 .4-.55 .4-.66 .4-.34 .4 .05 .8 .41 1.6 1.11 .8 .31 2 .15 3.6-.01 1.2-.02 .4-.09 1.2 .15 1.2-.09 1.2 .04 1.6 0 1.6-.06 2 .05 2-.02 1.2 .07 1.2-.1 1.6 .04 1.2 .01 1.2 .01 1.6-.03 .8 .01 1.6 0 4 .01 3.2-.02 .4 .03" fill="none" stroke="#1f77b4" stroke-width="0.8" stroke-opacity="0.45" stroke-linejoin="round"/>
<path d="M436.9 197.12l2.8 .07 4-.02 2.4-.01 3.2-.01 1.2 .04 1.6-.04 2.4 .03 2.4 .05 .8 .03 1.2-.11 4 .04 .8-.04 4.4 .06 2.8-.09 2 .05 4.4-.01 .8 .02 1.2-.05 1.2 .06 2.4 .02 .8-.1 1.6 .07 2-.06 .4 .11 2-.05 2 .01 1.2-.11 1.2 .04 .4-.12 .4-.29 .8-1.18 .4-.36 .4 .05 .8 .41 1.2 .86 .8 .41 1.2 .29 3.2-.02 1.2 .06 3.2-.1 1.2 .09 3.2-.08 2.4 .06 2.4-.05 .8 .07 3.2-.07 5.2 .05 1.2-.08 2.8 .09 2.8-.05 2.4-.03" fill="none" stroke="#1f77b4" stroke-width="0.8" stroke-opacity="0.9" stroke-linejoin="round"/>
<path d="M436.9 192.38l2-.08 1.2 .07 2-.07 2.4 .08 1.6-.04 .8 .04 2.4-.14 1.6 .16 2-.05 1.6 0 .8-.05 1.2 .13 .8-.14 1.6 .07 2.4-.04 3.6 0 .8 .02 1.6 .05 1.2-.02 2.4-.1 2.4 .09 2.4-.08 1.2 .03 4 .07 .4-.11 .8-.04 .4 .05 .4-.06 2 .14 1.6-.06 1.2-.02 2 .06 2-.04 2.4 .04 .4-.14 .4-.32 .8-1.17 .4-.37 .4 .02 .8 .43 1.2 .89 .8 .42 1.2 .23 6.4 .04 1.6 .05 1.2-.08 6.4 .05 1.2 .01 1.2-.14 1.2 .17 .4-.08 2.4 0 1.6 0 2-.11 3.2 .14 3.2-.09 1.6-.01 1.6 .05" fill="none" stroke="#1f77b4" stroke-width="0.8" stroke-opacity="0.9" stroke-linejoin="round"/>
<path d="M436.9 187.31l.8-.49 1.2 .67 .8-.44 .4 .04 .4-.16 .4 .62 .4 .43 .4 .56 .4 .04 .4-.2 .8-.62 .4 .09 .4-.1 .4 .33 .4-.31 .4-.2 .4-.55 .4-.33 .4 .73 .4 .33 .4 .51 .8-1.07 .4-.42 .4 .19 .8-.05 .8 .29 .4 .62 .4-.49 .4 .03 .4-.44 .8 1.29 .4 .24 .4-.16 .4-.8 .8-.48 .8 .1 .4 .34 .4 .51 .4 0 .4-.6 .4-.14 .4 .22 .4 .65 .4-.07 .8-.52 .4 .43 .4-.22 .4-.07 .4 .03 .4 .53 .4-.45 .4-1.09 .4 .04 .4 .4 .4 .72 .4-.03 .4 .37 .4 .01 .8-.74 .4 .22 .4-.19 .4-.4 .4-.26 .4 .51 .8 .53 .4-.05 .4 .43 .4-.4 .4 .05 .4-.39 .4-.14 .4-.45 .4 .11 .4 .3 .4 .48 .4-.03 .4-.65 .4 .04 .4 .37 .4 .61 .8 .28 .4-.42 .4 .03 .4-.49 .4 .2 .4-.61 .4 .01 .8 .44 .4 .53 .4-.08 .4 .35 .4-.82 .8-.55 .4 .3 .4 .7 .4-.42 .4-.1 .4-.3 .4 .48 .4 .01 .4-.49 .4-.08 .4 .14 .4 .58 .8-.56 .8 .13 .4 .67 .4-.58 .4 .24 .4-.25 .8-.03 .4-.11 .4 .39 .8-.46 .8-.13 .4 .08 .4-.32 .4 .38 .4 .2 .4 .45 .4-.02 .4-.17 .8 .1 .4-.42 .4-.78 .4-.42 1.2-.39 .4 .45 .4 .3 .4 .62 .4-.23 .4 .16 .4-.37 .4 .25 .4-.07 .4 .7 .4-.17 .4 .56 .4-.38 .4 .21 .4-.09 .4 .18 .4-.13 .4-.27 1.2 .01 .4-.46 .4 .39 .4 .57 .4 .45 .4-.4 .4 .13 .4-.59 .4 .36 .4-.73 .4 .11 .4 0 .4-.13 .4 .23 .4-.12 .4 .42 .4 .14 .4-.01 .8-.4 .4-.53 .4-.06 .8 .09 .4 .19 .4-.11 .4 .43 .4 .07 .4-.33 .4-.11 .8 .54 .4-.06 .4-.34 .4 .09 .8 .91 .4-.3 .4-.59 .4 .05 .4 .26 .4 .43 .4-.48 .8 .15 .4-.38 .4-.05 .4 .15 .4 .3 .4 0 .4-.21 .4-.08 .4 .35 .4-.06 .4 .39 .4-.61 .4-.14 .4-.56 .4-.07 .4 .47 .4 .28 .4-.04 .4-.6 .4-.16 .4 .09 .4 .2 .4 .4 .4 .63 .4-.25 .4-.09 .4 .05 .4 .45 .4-.13 .4-.62 .4 .31 .4-.05" fill="none" stroke="#1f77b4" stroke-width="0.8" stroke-opacity="0.9" stroke-linejoin="round"/>
<path d="M436.9 182.66l2.4 .04 4 0 .8 .04 1.2-.08 3.2 .05 1.2-.11 3.6 .07 3.2 .02 4.4-.02 .8 .05 1.2-.06 3.2 .05 5.6-.08 1.2 .1 1.2-.09 1.6 .07 1.2-.08 2.4 .07 3.6-.02 .4 .06 1.2-.11 2.8 .07 1.2-.07 1.2 .09 1.2-.02 2.8 .02 .8-.19 .4-.29 .4-.52 .4-.62 .4-.36 .4 .01 .8 .4 1.2 .87 1.2 .54 1.2 .1 6.4-.02 .8 .07 3.2-.03 2.8 .04 1.2-.02 .8 .07 1.2-.13 1.6 .03 5.6-.01 2.8 0 2-.05 2.8 .1 1.6-.05 1.6-.01 .4-.03" fill="none" stroke="#1f77b4" stroke-width="0.8" stroke-opacity="0.9" stroke-linejoin="round"/>
<path d="M436.9 177.81l.4-.03 .4 .07 3.2-.01 3.2-.02 1.2 .1 2.8-.08 1.6 .02 4-.02 5.2 .01 1.6-.04 4.8 .07 4-.04 3.2-.01 1.6 .04 4-.06 2.4 0 6.4 .04 6.8 0 .8-.17 .4-.31 .4-.51 .4-.68 .4-.32 .4 .02 .8 .42 1.6 1.1 .4 .2 1.6 .27 3.2-.05 2 .03 .8 .07 1.6-.13 3.2 .09 4.8-.08 1.6 .01 1.2 .06 1.2-.01 1.2 .07 1.2-.1 4 .04 2-.1 1.2 .12 .4-.07 1.2 .15 1.2-.18 1.2 .05 1.6-.04" fill="none" stroke="#1f77b4" stroke-width="0.8" stroke-opacity="0.45" stroke-linejoin="round"/>
<path d="M436.9 172.99l1.6 .09 1.2-.11 2.4-.01 1.2 .05 4.4 .04 2.8-.04 2 .06 .8-.11 1.2 .13 1.2-.15 2 .16 2.8-.05 1.2-.06 4 .1 1.6-.07 1.2 .04 1.2-.07 3.2 0 3.6 .06 2.8-.04 1.2 .05 1.2-.03 2 .03 1.2 0 .8-.03 .8 .04 .8-.05 .8 .03 1.2-.06 1.6 .05 3.2-.03 .4-.13 .4-.32 .8-1.16 .4-.38 .8 .23 2 1.36 .8 .29 2.8 .13 1.6-.09 3.2 .05 2.4 0 .8 .11 1.6-.13 3.6 .06 2.4-.01 .8 .02 1.2-.12 1.2 .11 3.6-.01 3.6-.04 1.6 .05 2.4-.01 2.8 .04 .4 0" fill="none" stroke="#1f77b4" stroke-width="0.8" stroke-opacity="0.9" stroke-linejoin="round"/>
<path d="M436.9 168.21l.8 .11 2-.18 1.2 .09 3.2-.1 2.8 .08 2.8 0 .8-.05 1.2 .04 .8-.08 1.2 .15 2.4-.09 1.2 .06 2.8-.09 1.2 .09 1.6-.13 1.2 .08 3.2-.01 3.6 .01 1.6-.04 2.4 .04 .8-.05 2.4 .08 3.6 .01 .8-.02 2.4-.01 3.2 .03 1.2-.02 4.4 .01 .8-.19 .4-.22 .8-.8 .4-.24 1.2 .29 1.2 .7 .8 .29 1.6 .12 4.4 .01 1.6-.01 1.2 .08 1.6-.05 3.2 0 4.8-.01 .4-.05 .8 .16 1.2-.14 2.4 .05 2-.02 1.6 .06 .8-.13 1.6 .09 2-.04 2.4 .02 .8-.04 1.6 .08 .4-.01" fill="none" stroke="#1f77b4" stroke-width="0.8" stroke-opacity="0.9" stroke-linejoin="round"/>
<path d="M436.9 163.36l2 .02 2.4-.01 1.2-.1 1.2 .19 1.6-.11 1.2 .01 2.8-.04 2.8 .1 1.6-.08 4.4 .03 2.4-.05 1.6 .06 2.8 0 2.8-.02 4.4 0 5.2-.05 1.2 .1 1.2-.07 1.6 .06 6-.08 1.2 .02 1.2-.01 1.2 .13 2.4-.14 .8-.01 .4-.08 .8-.57 .4-.46 .4-.25 .8 .14 1.6 .84 .8 .25 2.4 .18 2.4-.02 1.6 .08 1.2-.12 1.6 .09 2.4-.04 2 .1 1.6-.06 4.4-.03 4.8 .01 4.8-.01 3.2 .03 2 0 2-.07" fill="none" stroke="#1f77b4" stroke-width="0.8" stroke-opacity="0.45" stroke-linejoin="round"/>
<path d="M436.9 158.55l.8-.06 1.2 .03 1.6-.02 4.4 .08 3.2-.04 1.2-.07 1.6 .07 2.8-.01 1.2 .02 1.6-.08 3.2 .06 2.4-.06 2 .08 2.4-.02 6.4 .01 2-.04 1.6 .1 1.2-.12 2 .09 2.4-.09 3.2 .07 2.4-.01 2.4 0 2-.05 1.2 .05 1.2-.11 .4-.16 .4-.34 .4-.48 .4-.29 .4-.01 1.2 .48 1.2 .62 .8 .16 1.6 .12 2.8-.01 2.4 .02 2 .05 2-.13 2.8 .1 1.2-.04 .8 .01 1.2-.03 1.2 .02 1.2-.02 3.6 .02 .8-.02 1.6 .05 1.2 0 2-.01 3.6-.04 3.6 .04 .4-.04" fill="none" stroke="#1f77b4" stroke-width="0.8" stroke-opacity="0.9" stroke-linejoin="round"/>
<path d="M436.9 153.66l1.6 .07 4-.06 1.6 .06 3.2-.03 2.4-.01 1.2-.08 1.2 .08 2-.06 1.2 .15 1.2-.07 2.8-.05 1.6 .09 1.6-.09 2 .01 1.2-.02 2 .06 3.6-.05 2 .09 .4-.09 1.2 .14 2-.17 2 .13 2.8-.04 4-.02 1.2-.02 3.2-.01 4 0 .4-.09 .4-.21 .8-.85 .4-.27 .8 .18 1.6 .82 .4 .18 1.6 .3 2-.07 3.2 .05 3.2 .04 .8-.08 1.2 .01 1.2 .05 2.4-.06 3.2 .04 1.2-.04 2-.01 .4 .06 1.2-.08 1.2 .05 1.2 .01 1.6 0 2 .01 .4 .08 2.4-.11 2 .03 2.4-.1" fill="none" stroke="#1f77b4" stroke-width="0.8" stroke-opacity="0.9" stroke-linejoin="round"/>
<path d="M436.9 148.86l3.2-.02 2-.05 1.2 .11 1.6-.07 3.2 .06 1.2-.06 .8 .03 1.6 .07 2.8-.09 2 .05 2.4-.01 1.6-.06 .8 .1 1.2-.15 2.4 .13 .8-.1 1.2 .1 .4-.08 1.2 .05 1.2-.03 1.6 .05 1.2-.12 2 .07 2 .04 2.8-.06 1.2 .04 2.4-.04 1.6 .09 2.8-.06 5.6 0 1.6-.04 .4-.2 .8-.87 .4-.27 .8 .1 1.2 .68 1.6 .5 4 .16 2.8-.03 3.6-.06 6 .06 1.2 .02 4-.08 .4 .09 3.2 .01 .4-.1 2.4 .03 3.6 .01 2.8-.01 1.2-.04 .4 .01" fill="none" stroke="#1f77b4" stroke-width="0.8" stroke-opacity="0.9" stroke-linejoin="round"/>
<path d="M436.9 144.08l.8-.04 1.2-.05 4 .02 2.8 0 1.2 .07 1.6-.07 2.8-.01 1.2-.01 1.2 .06 2.4-.09 3.2 .09 3.2-.03 1.6-.01 6.4 .02 4.4 0 7.2 .02 1.2-.05 1.6 .09 .8-.02 1.6-.03 .4-.09 1.2 .17 .4-.05 .4 .06 1.6-.18 1.2 .05 1.6 .03 .4-.11 .4-.26 .8-.83 .4-.19 .8 .15 2 .97 .4 .13 1.6 .16 2-.08 .8 .07 2-.06 2.4 .02 2 .06 1.6 .01 3.2-.06 2 .07 4-.1 1.2 .06 .8-.04 2.4 .06 2-.02 2 .03 5.6-.04 .8 .02" fill="none" stroke="#1f77b4" stroke-width="0.8" stroke-opacity="0.9" stroke-linejoin="round"/>
<path d="M436.9 138.96l.4-.18 .8 .37 .4-.46 .4 .16 .4 .32 .4 .02 .4-.34 .4-.46 .4 .31 .4 .18 .4-.33 .4 .21 .8 .08 .4-.56 .8 .2 .4 .9 .4-.06 1.6 .07 .4-.48 .4-.21 .4 .08 .4-.06 .8 .48 .8 .32 .4-.41 .4-.17 .4-.36 .4 .15 .4 .54 .4 .04 .8-.3 .4-.57 .4 .41 .4-.63 .4 .52 .4-.35 .4 .22 .4-.17 .4 .46 .4-.45 .4 .19 .4-.52 .4 .78 .4-.44 .4 .3 .4 .43 .4 .76 .4 .08 .4-.47 .8-.21 .8 .08 .4-.19 .4-.57 .4 .28 .8 .9 .4 .05 .4-.88 .4 .04 .4-.1 .4 .43 .4 .27 .4-.47 .4 .69 .4 .07 .4 .3 .4-.84 .8-.77 .8 .17 .4 .5 .4-.23 .4 .28 .4-.59 .4-.2 .4-.07 .8 .96 .8-.61 .4 .07 .4-.14 .4 .05 .4-.13 .4 .65 .4 .2 .4-.21 .4-.49 .4-.38 .4 .44 .4 .12 .4 .49 .4-.43 .4 .21 .4 .02 .4 .37 .4 .18 .4-.41 .4 .27 .4-.27 .4 .15 .8-.6 .8 .13 .4 .18 .4 .42 .4-.24 .4 .09 .4-.4 .4 .38 .4-.34 .4 .01 .8-.21 .4 .23 .4-.09 .4 .07 .4-.3 .4-.42 .4 .4 .8 .07 .4 .34 .4 .23 .4 .53 .4-.79 .4-.55 .4 .05 .8 .8 .4-.7 .8-.51 .4 .23 .4-.84 .4-.37 .4-.02 .4 .34 .4 .14 1.2 1.19 .4-.38 .4 .27 .8-.35 .4 0 .8 .72 .4 .08 .8-.09 .4 .59 .4 .21 .4-.12 .4-.84 .4-.12 .4 .2 .4-.02 .4 .2 .4-.05 .8 .06 .4-.36 .4-.22 .4-.05 .4-.16 .4 .06 .4-.33 .4 .48 .4-.29 .4 .74 .4-.24 .4 .5 .4-.22 .4 .6 .4 .06 .4-.14 .4-.59 .4-.32 .4-.46 .4 .07 .4 .23 .4 .54 .4 .4 .8 .21 .8-.32 .4-.32 .4 .15 .8-.05 1.2-.5 .4 .03 .4 .23 .4-.09 .4 .16 .4 .47 .4 .2 .4-.39 .4-.65 .4 .13 .4 .58 .4 .14 .4-.15 .4-.52 .4 .04 .4 .16 .8 .09 .8-.73 .4 .03 .4 .19 .4 .47 .4 .06 .4 .17 .4-.59 .4 .36 .4-.13 .4 .6 .4-.74 .4 .03 .4-.15 .4 .43 .4-.31 .4 .02 .4-.11 .4 .39 .8-.33" fill="none" stroke="#1f77b4" stroke-width="0.8" stroke-opacity="0.9" stroke-linejoin="round"/>
<text x="438" y="289" font-size="7" text-anchor="middle" fill="#000">0</text>
<text x="469.44" y="289" font-size="7" text-anchor="middle" fill="#000">30</text>
<text x="500.88" y="289" font-size="7" text-anchor="middle" fill="#000">60</text>
<text x="532.32" y="289" font-size="7" text-anchor="middle" fill="#000">90</text>
<text x="484.5" y="298.2" font-size="7.2" text-anchor="middle" fill="#000">Time(s)</text>
</g>
<g id="panel-e">
<text x="0" y="323.5" font-size="10.5" font-weight="bold" text-anchor="start" fill="#000">e.</text>
<text x="130.8" y="320.6" font-size="8.68" font-weight="bold" text-anchor="middle" fill="#000">Encoded Mels of the vowels</text>
<text x="11.5" y="401.2" font-size="8" text-anchor="middle" fill="#000" transform="rotate(-90 11.5 401.2)">Spike encoded input</text>
<rect x="30" y="323" width="199.2" height="152.7" fill="#03051a"/>
<clipPath id="clipE0"><rect x="30" y="323" width="199.2" height="152.7"/></clipPath><g clip-path="url(#clipE0)">
<path d="M30 474.49l.5 0 .5-.26 1.5 0 .5 .26 1 0 .5-.26 .5 .26 1.5 0 .5-1.05 1-2.64 .5-.79 2 0 1 1.05 1.5 2.38 .5 .52 1 .53 6 0 .5-.26 2 0 .5 .26 1 0 1-.53 1-1.05 2 0 .5 .26 .5 0 2.5 1.32 .5 0 .5-.26 2 0 .5 .26 7 0 .5-.26 .5-.79 .5-1.06 .5-.52 .5-.27 .5 .27 .5-.27 .5 0 1.5 .79 1.5 1.58 .5 .27 2.5 0 .5 .26 5 0 .5-.26 1 0 .5 .26 .5-.26 .5-.53 1-1.58 .5-.53 2 0 .5 .27 .5 .52 .5 .27 1 1.05 1.5 .79 3 0 .5-.26 2 0 .5 .26 3.5 0 .5-1.05 1-2.64 .5-.79 2 0 .5 .26 .5 .53 1.5 2.37 1 1.06 .5 .26 1 0 .5-.26 1 0 .5 .26 2.5 0 .5-.26 1.5 0 .5 .26 1.5 0 .5-.53 1-2.63 .5-1.06 .5-.26 .5 0 .5-.26 .5 0 .5 .26 .5 .53 1.5 2.37 1 1.05 .5 .27 5.5 0 .5 .26 .5 0 .5-.26 3 0 .5-.79 .5-1.06 .5-1.32 .5-.79 1 0 .5-.26 .5 0 .5 .26 1 1.06 1.5 2.37 .5 .53 .5 .26 .5 0 .5-.26 2 0 .5 .26 2 0 .5-.26 1 0 .5 .26 3.5 0 .5-.79 .5-1.05 .5-1.59 .5-.79 .5-.26 1.5 0 .5 .26 1 1.06 1 1.58 1 1.05 .5 .27 .5 0 .5 .26 .5 0 .5-.26 .5 .26 .5-.26 1 0 .5 .26 .5-.26 .5 .26 4 0 .5-.53 .5-1.31 .5-1.59 .5-.79 .5-.26 1.5 0 .5 .26 .5 .53 .5 .79 .5 .53 1 1.58 .5 .53 2.5 0 .5 .26 7 0 .5-.26 1-2.64 .5-1.05 .5-.53 1.5 0 1 .53 .5 .52 1.5 2.38 1 1.05 .5 0 .5 .26 1 0 .5-.26 4.5 0 .5-.26 2.5 0 .5 .26 1 0 .5-.53 1-2.63 .5-1.06 .5-.26 1.5 0 .5 .26 1 1.06 .5 1.05 .5 .79 1 1.06 .5 .26 .5 0 .5-.26 2.5 0 .5 .26 0 1.2-.5-.26-2.5 0-.5 .26-.5 0-.5-.26-1-1.06-.5-.79-.5-1.05-1-1.06-.5-.26-1.5 0-.5 .26-.5 1.06-1 2.63-.5 .53-1 0-.5-.26-2.5 0-.5 .26-4.5 0-.5 .26-1 0-.5-.26-.5 0-1-1.05-1.5-2.37-.5-.53-1-.53-1.5 0-.5 .53-.5 1.05-1 2.64-.5 .26-7 0-.5-.26-2.5 0-.5-.53-1-1.58-.5-.53-.5-.79-.5-.53-.5-.26-1.5 0-.5 .26-.5 .8-.5 1.58-.5 1.31-.5 .53-4 0-.5-.26-.5 .26-.5-.26-1 0-.5 .26-.5-.26-.5 .26-.5 0-.5-.26-.5 0-.5-.27-1-1.05-1-1.58-1-1.06-.5-.26-1.5 0-.5 .26-.5 .8-.5 1.58-.5 1.05-.5 .79-3.5 0-.5-.26-1 0-.5 .26-2 0-.5-.26-2 0-.5 .26-.5 0-.5-.26-.5-.53-1.5-2.37-1-1.06-.5-.26-.5 0-.5 .26-1 0-.5 .8-.5 1.31-.5 1.06-.5 .79-3 0-.5 .26-.5 0-.5-.26-5.5 0-.5-.27-1-1.05-1.5-2.37-.5-.53-.5-.26-.5 0-.5 .26-.5 0-.5 .26-.5 1.06-1 2.63-.5 .53-1.5 0-.5-.26-1.5 0-.5 .26-2.5 0-.5-.26-1 0-.5 .26-1 0-.5-.26-1-1.06-1.5-2.37-.5-.53-.5-.26-2 0-.5 .79-1 2.64-.5 1.05-3.5 0-.5-.26-2 0-.5 .26-3 0-1.5-.79-1-1.05-.5-.27-.5-.52-.5-.27-2 0-.5 .53-1 1.58-.5 .53-.5 .26-.5-.26-1 0-.5 .26-5 0-.5-.26-2.5 0-.5-.27-1.5-1.58-1.5-.79-.5 0-.5 .27-.5-.27-.5 .27-.5 .52-.5 1.06-.5 .79-.5 .26-7 0-.5-.26-2 0-.5 .26-.5 0-2.5-1.32-.5 0-.5-.26-2 0-1 1.05-1 .53-1 0-.5-.26-2 0-.5 .26-6 0-1-.53-.5-.52-1.5-2.37-1-1.06-2 0-.5 .79-1 2.64-.5 1.05-1.5 0-.5-.26-.5 .26-1 0-.5-.26-1.5 0-.5 .26-.5 0z" fill="#faebdd"/>
<path d="M30 466.59l2.5 0 .5 .26 2 0 .5-.26 1 0 .5-.53 .5-1.06 .5-.79 .5-.52 1 0 .5-.27 .5 0 .5 .27 2 2.11 1 .52 2.5 0 .5 .27 9 0 .5-.27 3.5 0 .5 .27 .5-.27 1 0 .5 .27 .5-.27 .5 .27 9 0 .5-.53 1.5-2.37 2 0 1 .52 1 1.06 .5 .26 .5 .53 .5 .26 2 0 .5 .27 .5-.27 .5 .27 3 0 .5-.27 .5 .27 2.5 0 1-.53 .5-.53 1-.53 .5 0 .5-.26 .5 0 .5 .26 .5 0 2.5 1.32 2 0 .5 .27 7.5 0 .5-.27 .5 0 1-.52 2 0 .5-.27 .5 0 1 .53 .5 0 .5 .26 2 0 .5 .27 7 0 .5-.27 .5 .27 1.5-.79 1-1.06 2 0 .5 .26 .5 0 .5 .53 1.5 .79 1 0 .5 .27 .5 0 .5-.27 .5 .27 .5 0 .5-.27 .5 .27 6.5 0 .5-.53 .5-.79 .5-1.06 1-.52 1.5 0 1 .52 .5 .53 .5 .26 1 1.06 .5 .26 3.5 0 .5 .27 .5-.27 .5 0 .5 .27 .5-.27 .5 0 .5 .27 3.5 0 .5-.27 .5 0 .5-.26 1-1.58 .5-.53 1 0 .5-.26 1 0 .5 .52 .5 .27 1.5 1.58 1 .53 3 0 .5-.27 .5 .27 .5 0 .5-.27 .5 .27 4 0 .5-.53 1-1.58 .5-.53 .5-.26 1.5 0 1 .52 1.5 1.59 1 .52 .5 0 .5 .27 5.5 0 .5-.27 .5 .27 1 0 .5-.27 1.5 0 1-1.58 .5-.53 1-.52 .5 0 .5 .26 .5 0 1 .53 1.5 1.58 1 .53 3.5 0 .5-.27 1.5 0 .5 .27 1 0 .5 .26 .5-.26 3.5 0 .5-.27 .5-1.05 1-1.58 1.5 0 .5 .26 .5 0 .5 .26 1 1.06 .5 .26 .5 .53 1 .53 4 0 0 1.2-4 0-1-.53-.5-.53-.5-.26-1-1.06-.5-.26-.5 0-.5-.26-1.5 0-1 1.58-.5 1.05-.5 .27-3.5 0-.5 .26-.5-.26-1 0-.5-.27-1.5 0-.5 .27-3.5 0-1-.53-1.5-1.58-1-.53-.5 0-.5-.26-.5 0-1 .52-.5 .53-1 1.58-1.5 0-.5 .27-1 0-.5-.27-.5 .27-5.5 0-.5-.27-.5 0-1-.52-1.5-1.59-1-.52-1.5 0-.5 .26-.5 .53-1 1.58-.5 .53-4 0-.5-.27-.5 .27-.5 0-.5-.27-.5 .27-3 0-1-.53-1.5-1.58-.5-.27-.5-.52-1 0-.5 .26-1 0-.5 .53-1 1.58-.5 .26-.5 0-.5 .27-3.5 0-.5-.27-.5 0-.5 .27-.5-.27-.5 0-.5 .27-.5-.27-3.5 0-.5-.26-1-1.06-.5-.26-.5-.53-1-.52-1.5 0-1 .52-.5 1.06-.5 .79-.5 .53-6.5 0-.5-.27-.5 .27-.5 0-.5-.27-.5 .27-.5 0-.5-.27-1 0-1.5-.79-.5-.53-.5 0-.5-.26-2 0-1 1.06-1.5 .79-.5-.27-.5 .27-7 0-.5-.27-2 0-.5-.26-.5 0-1-.53-.5 0-.5 .27-2 0-1 .52-.5 0-.5 .27-7.5 0-.5-.27-2 0-2.5-1.32-.5 0-.5-.26-.5 0-.5 .26-.5 0-1 .53-.5 .53-1 .53-2.5 0-.5-.27-.5 .27-3 0-.5-.27-.5 .27-.5-.27-2 0-.5-.26-.5-.53-.5-.26-1-1.06-1-.52-2 0-1.5 2.37-.5 .53-9 0-.5-.27-.5 .27-.5-.27-1 0-.5 .27-.5-.27-3.5 0-.5 .27-9 0-.5-.27-2.5 0-1-.52-2-2.11-.5-.27-.5 0-.5 .27-1 0-.5 .52-.5 .79-.5 1.06-.5 .53-1 0-.5 .26-2 0-.5-.26-2.5 0z" fill="#faebdd"/>
<path d="M30 459.73l2 0 .5 .27 1.5 0 .5-.27 .5 .27 1.5 0 1.5-.79 1.5 0 .5-.27 .5 0 1 .53 .5 0 1 .53 2.5 0 .5-.27 .5 .27 8 0 .5-.27 .5 0 .5-.26 1 0 .5-.26 .5 .26 2 0 .5 .26 1 0 .5 .27 2.5 0 .5 .26 1.5 0 .5-.26 1.5 0 .5-.27 .5 .27 1.5 0 .5 .26 .5-.26 .5 0 .5-.27 .5-1.05 1-1.58 .5 0 .5-.26 .5 .26 .5 0 1 .53 .5 .52 .5 .27 1 1.05 1 .53 4.5 0 .5 .26 1 0 .5-.26 1 0 .5-.27 .5 0 .5 .27 1 0 .5-.27 .5-.52 .5 0 .5-.27 2 0 .5 .27 .5 0 1 .52 .5 0 .5 .27 11 0 .5-.53 .5-.26 1 0 .5-.27 2 0 .5 .27 .5 0 1 .52 .5 0 .5 .27 9.5 0 .5-.27 .5 0 .5-.26 .5 0 .5-.26 .5 0 .5 .26 1.5 0 .5 .26 1.5 0 .5 .27 6 0 .5-.27 .5 .27 .5 0 .5-.27 2 0 .5 .27 .5-.27 .5 0 .5-.52 3.5 0 .5 .26 .5 0 .5 .26 3.5 0 .5 .27 2.5 0 .5-.27 .5 .27 .5 0 .5-.27 .5 .27 3.5 0 .5-.53 1.5-2.37 2.5 0 1 1.05 .5 .27 .5 .52 1.5 .79 4.5 0 .5 .27 4.5 0 .5-.27 1.5-1.58 1 0 .5 .27 1 0 1 .52 .5 0 1.5 .79 1 0 .5 .27 3 0 .5-.27 1.5 0 .5 .27 1.5 0 .5-.27 .5 .27 .5-.27 1 0 1-.52 3.5 0 .5 .26 1 0 .5 .26 .5 0 .5 .27 2 0 .5-.27 1.5 0 .5 .27 1 0 .5-.27 .5 0 .5 .27 1.5 0 .5-.27 2.5 0 1-1.05 .5-.26 2.5 0 3 1.58 1.5 0 .5-.27 1 0 .5 .27 1 0 0 1.2-1 0-.5-.27-1 0-.5 .27-1.5 0-3-1.58-2.5 0-.5 .26-1 1.05-2.5 0-.5 .27-1.5 0-.5-.27-.5 0-.5 .27-1 0-.5-.27-1.5 0-.5 .27-2 0-.5-.27-.5 0-.5-.26-1 0-.5-.26-3.5 0-1 .52-1 0-.5 .27-.5-.27-.5 .27-1.5 0-.5-.27-1.5 0-.5 .27-3 0-.5-.27-1 0-1.5-.79-.5 0-1-.52-1 0-.5-.27-1 0-1.5 1.58-.5 .27-4.5 0-.5-.27-4.5 0-1.5-.79-.5-.52-.5-.27-1-1.05-2.5 0-1.5 2.37-.5 .53-3.5 0-.5-.27-.5 .27-.5 0-.5-.27-.5 .27-2.5 0-.5-.27-3.5 0-.5-.26-.5 0-.5-.26-3.5 0-.5 .52-.5 0-.5 .27-.5-.27-2 0-.5 .27-.5 0-.5-.27-.5 .27-6 0-.5-.27-1.5 0-.5-.26-1.5 0-.5-.26-.5 0-.5 .26-.5 0-.5 .26-.5 0-.5 .27-9.5 0-.5-.27-.5 0-1-.52-.5 0-.5-.27-2 0-.5 .27-1 0-.5 .26-.5 .53-11 0-.5-.27-.5 0-1-.52-.5 0-.5-.27-2 0-.5 .27-.5 0-.5 .52-.5 .27-1 0-.5-.27-.5 0-.5 .27-1 0-.5 .26-1 0-.5-.26-4.5 0-1-.53-1-1.05-.5-.27-.5-.52-1-.53-.5 0-.5-.26-.5 .26-.5 0-1 1.58-.5 1.05-.5 .27-.5 0-.5 .26-.5-.26-1.5 0-.5-.27-.5 .27-1.5 0-.5 .26-1.5 0-.5-.26-2.5 0-.5-.27-1 0-.5-.26-2 0-.5-.26-.5 .26-1 0-.5 .26-.5 0-.5 .27-8 0-.5-.27-.5 .27-2.5 0-1-.53-.5 0-1-.53-.5 0-.5 .27-1.5 0-1.5 .79-1.5 0-.5-.27-.5 .27-1.5 0-.5-.27-2 0z" fill="#faebdd"/>
<path d="M30 453.41l2.5 0 .5-.26 1 0 .5 .26 2 0 2-1.05 1.5 0 .5 .26 2 0 1 .53 .5 0 .5 .26 1 0 .5-.26 5 0 .5 .26 3 0 .5-.26 1-1.06 .5-.26 .5 0 .5-.26 1.5 0 1.5 .79 .5 .52 .5 .27 .5 0 .5 .26 5.5 0 .5-.26 1.5 0 .5 .26 .5-.26 .5 .26 1 0 .5-.26 .5-.79 .5-1.06 .5-.52 .5-.27 2 0 .5 .27 2 2.1 1 .53 1.5 0 .5-.26 1.5 0 .5 .26 .5-.26 .5 .26 1 0 .5-.26 1 0 .5 .26 1 0 .5 .26 .5-.26 .5 0 .5-.53 4 0 .5 .27 3.5 0 .5 .26 3 0 .5 .26 .5-.26 1.5 0 .5-.26 1 0 .5 .26 .5 0 .5-.26 1 0 .5-.27 2.5 0 .5 .27 1 0 .5 .26 4.5 0 .5-.26 .5 0 .5 .26 1 0 .5-.26 1 0 .5 .26 2 0 .5-.26 .5 0 .5-.27 3.5 0 .5 .27 1.5 0 .5 .26 .5-.26 .5 .26 6 0 .5-.26 .5 .26 2 0 .5-.26 .5 0 .5-.27 1 0 .5 .27 1 0 .5-.27 1.5 0 .5 .27 1 0 .5 .26 4.5 0 .5-.26 2 0 .5 .26 3.5 0 1-.53 1-1.58 .5-.52 .5-.27 2 0 1.5 1.58 .5 .27 .5 .52 1 .53 3.5 0 .5-.26 .5 0 .5 .26 1.5 0 .5-.26 2 0 .5 .26 .5-.26 1.5-1.58 2 0 3 1.58 .5 0 .5 .26 5.5 0 .5-.26 .5 0 .5 .26 3 0 1.5-.79 2.5 0 .5 .26 .5 0 .5 .27 .5 0 .5 .26 4 0 .5-.26 .5 0 .5 .26 7.5 0 1.5-.79 2.5 0 .5 .26 .5 0 1 .53 5 0 .5-.26 0 1.2-.5 .26-5 0-1-.53-.5 0-.5-.26-2.5 0-1.5 .79-7.5 0-.5-.26-.5 0-.5 .26-4 0-.5-.26-.5 0-.5-.27-.5 0-.5-.26-2.5 0-1.5 .79-3 0-.5-.26-.5 0-.5 .26-5.5 0-.5-.26-.5 0-3-1.58-2 0-1.5 1.58-.5 .26-.5-.26-2 0-.5 .26-1.5 0-.5-.26-.5 0-.5 .26-3.5 0-1-.53-.5-.52-.5-.27-1.5-1.58-2 0-.5 .27-.5 .52-1 1.58-1 .53-3.5 0-.5-.26-2 0-.5 .26-4.5 0-.5-.26-1 0-.5-.27-1.5 0-.5 .27-1 0-.5-.27-1 0-.5 .27-.5 0-.5 .26-2 0-.5-.26-.5 .26-6 0-.5-.26-.5 .26-.5-.26-1.5 0-.5-.27-3.5 0-.5 .27-.5 0-.5 .26-2 0-.5-.26-1 0-.5 .26-1 0-.5-.26-.5 0-.5 .26-4.5 0-.5-.26-1 0-.5-.27-2.5 0-.5 .27-1 0-.5 .26-.5 0-.5-.26-1 0-.5 .26-1.5 0-.5 .26-.5-.26-3 0-.5-.26-3.5 0-.5-.27-4 0-.5 .53-.5 0-.5 .26-.5-.26-1 0-.5-.26-1 0-.5 .26-1 0-.5-.26-.5 .26-.5-.26-1.5 0-.5 .26-1.5 0-1-.53-2-2.1-.5-.27-2 0-.5 .27-.5 .52-.5 1.06-.5 .79-.5 .26-1 0-.5-.26-.5 .26-.5-.26-1.5 0-.5 .26-5.5 0-.5-.26-.5 0-.5-.27-.5-.52-1.5-.79-1.5 0-.5 .26-.5 0-.5 .26-1 1.06-.5 .26-3 0-.5-.26-5 0-.5 .26-1 0-.5-.26-.5 0-1-.53-2 0-.5-.26-1.5 0-2 1.05-2 0-.5-.26-1 0-.5 .26-2.5 0z" fill="#faebdd"/>
<path d="M30 446.82l6 0 1-.52 .5-.53 1-.53 2.5 0 1 .53 .5 .53 .5 0 1 .52 10.5 0 .5-.26 .5-.79 .5-1.05 .5-.53 2.5 0 .5 .26 1 1.06 .5 .26 .5 .53 .5 .26 1 0 .5 .26 2.5 0 .5-.26 .5 .26 4 0 .5 .27 1 0 .5-.53 .5-.79 .5-1.05 .5-.8 1.5 0 .5 .27 .5 0 .5 .26 .5 .53 .5 .26 1.5 1.58 9 0 .5 .27 .5-.27 1 0 .5-.26 4 0 .5 .26 3.5 0 .5 .27 .5-.27 7.5 0 .5-.52 .5-.79 .5-1.06 .5-.53 2 0 1 .53 1.5 1.58 .5 .27 .5 .52 2 0 .5 .27 1 0 .5-.27 5 0 .5-.26 1 0 1-1.05 .5-.27 2 0 .5 .27 .5 0 1.5 .79 .5 0 1 .52 6.5 0 .5-.26 2.5 0 .5 .26 1-.52 5 0 .5 .26 1 0 .5 .26 .5 0 .5-.26 2.5 0 .5 .26 .5 0 .5-.26 .5 .26 5.5 0 .5-.26 1.5-2.37 .5-.27 1.5 0 1.5 .8 1 1.05 .5 .26 .5 .53 .5 .26 4.5 0 .5 .27 .5-.27 1.5 0 .5-.26 .5 .26 1.5 0 .5-.52 .5-.79 .5-1.06 .5-.53 2 0 1 .53 1 1.06 .5 .26 .5 .53 1 .52 6 0 .5 .27 1.5 0 .5-.27 1.5 0 1.5-2.37 .5-.26 1 0 .5-.27 .5 0 .5 .27 1.5 1.58 .5 .26 .5 .53 .5 0 .5 .26 11.5 0 .5-.26 .5 0 .5-.26 1 0 .5 .26 1 0 .5 .26 5 0 .5 .27 1.5 0 0 1.2-1.5 0-.5-.27-5 0-.5-.26-1 0-.5-.26-1 0-.5 .26-.5 0-.5 .26-11.5 0-.5-.26-.5 0-.5-.53-.5-.26-1.5-1.58-.5-.27-.5 0-.5 .27-1 0-.5 .26-1.5 2.37-1.5 0-.5 .27-1.5 0-.5-.27-6 0-1-.52-.5-.53-.5-.26-1-1.06-1-.53-2 0-.5 .53-.5 1.06-.5 .79-.5 .52-1.5 0-.5-.26-.5 .26-1.5 0-.5 .27-.5-.27-4.5 0-.5-.26-.5-.53-.5-.26-1-1.05-1.5-.8-1.5 0-.5 .27-1.5 2.37-.5 .26-5.5 0-.5-.26-.5 .26-.5 0-.5-.26-2.5 0-.5 .26-.5 0-.5-.26-1 0-.5-.26-5 0-1 .52-.5-.26-2.5 0-.5 .26-6.5 0-1-.52-.5 0-1.5-.79-.5 0-.5-.27-2 0-.5 .27-1 1.05-1 0-.5 .26-5 0-.5 .27-1 0-.5-.27-2 0-.5-.52-.5-.27-1.5-1.58-1-.53-2 0-.5 .53-.5 1.06-.5 .79-.5 .52-7.5 0-.5 .27-.5-.27-3.5 0-.5-.26-4 0-.5 .26-1 0-.5 .27-.5-.27-9 0-1.5-1.58-.5-.26-.5-.53-.5-.26-.5 0-.5-.27-1.5 0-.5 .8-.5 1.05-.5 .79-.5 .53-1 0-.5-.27-4 0-.5-.26-.5 .26-2.5 0-.5-.26-1 0-.5-.26-.5-.53-.5-.26-1-1.06-.5-.26-2.5 0-.5 .53-.5 1.05-.5 .79-.5 .26-10.5 0-1-.52-.5 0-.5-.53-1-.53-2.5 0-1 .53-.5 .53-1 .52-6 0z" fill="#faebdd"/>
<path d="M30 440.24l6.5 0 .5-.27 .5 0 .5-.26 2 0 .5 .26 3.5 0 .5 .27 8.5 0 .5 .26 .5 0 1-.53 .5-1.05 .5-.79 .5-.53 .5-.26 1.5 0 1 .52 1.5 1.58 1.5 .8 6.5 0 .5-.27 .5 .27 .5-.27 .5 0 .5 .27 1 0 .5-.27 1.5-1.58 1 0 .5 .26 .5 0 .5 .27 .5 0 1 .52 .5 .53 .5 .27 1.5 0 .5-.27 .5 0 .5 .27 2.5 0 .5 .26 .5 0 .5-.26 .5 .26 .5-.26 2.5 0 .5-.27 .5 0 .5-.53 3.5 0 1 .53 .5 0 .5 .27 2 0 .5-.27 .5 .27 2 0 .5-.27 .5 0 .5 .27 2 0 .5 .26 .5 0 .5-.26 1 0 .5-.53 1-1.58 .5-.53 .5-.26 .5 .26 .5-.26 .5 0 .5 .26 .5 .53 .5 .26 1.5 1.58 1 .53 .5-.26 9 0 .5-.27 1-1.05 .5-.27 2.5 0 3 1.59 8.5 0 .5-.27 1.5 0 1-.53 .5-.79 .5 0 .5-.26 .5 .26 .5-.26 .5 .26 .5 0 3 1.59 2 0 .5-.27 1 0 .5 .27 1 0 .5-.27 2.5 0 .5 .27 3 0 .5-.53 1-1.58 .5-.53 .5-.26 1.5 0 1.5 .79 2 2.11 2.5 0 .5-.27 2.5 0 .5 .27 1 0 .5 .26 1 0 .5-.26 1 0 .5-.53 1-1.58 .5-.53 .5-.26 1.5 0 1 .52 2 2.11 .5 .27 6 0 .5-.27 .5 0 .5 .27 2.5 0 .5-.27 1-1.58 1-1.05 .5 .26 1.5 0 1 .53 1 1.05 .5 .26 .5 .53 .5 .27 2.5 0 .5 .26 .5-.26 8.5 0 .5-.27 .5 0 .5-.26 .5 .26 1 0 .5-.26 .5 .26 3 0 .5 .27 1.5 0 .5-.27 .5 0 .5 .27 1 0 0 1.2-1 0-.5-.27-.5 0-.5 .27-1.5 0-.5-.27-3 0-.5-.26-.5 .26-1 0-.5-.26-.5 .26-.5 0-.5 .27-8.5 0-.5 .26-.5-.26-2.5 0-.5-.27-.5-.52-.5-.27-1-1.05-1-.53-1.5 0-.5-.26-1 1.05-1 1.58-.5 .27-2.5 0-.5-.27-.5 0-.5 .27-6 0-.5-.27-2-2.11-1-.52-1.5 0-.5 .26-.5 .53-1 1.58-.5 .53-1 0-.5 .26-1 0-.5-.26-1 0-.5-.27-2.5 0-.5 .27-2.5 0-2-2.11-1.5-.79-1.5 0-.5 .26-.5 .53-1 1.58-.5 .53-3 0-.5-.27-2.5 0-.5 .27-1 0-.5-.27-1 0-.5 .27-2 0-3-1.59-.5 0-.5-.26-.5 .26-.5-.26-.5 .26-.5 0-.5 .8-1 .52-1.5 0-.5 .27-8.5 0-3-1.59-2.5 0-.5 .27-1 1.05-.5 .27-9 0-.5 .26-1-.53-1.5-1.58-.5-.26-.5-.53-.5-.26-.5 0-.5 .26-.5-.26-.5 .26-.5 .53-1 1.58-.5 .53-1 0-.5 .26-.5 0-.5-.26-2 0-.5-.27-.5 0-.5 .27-2 0-.5-.27-.5 .27-2 0-.5-.27-.5 0-1-.52-3.5 0-.5 .52-.5 0-.5 .27-2.5 0-.5 .26-.5-.26-.5 .26-.5 0-.5-.26-2.5 0-.5-.27-.5 0-.5 .27-1.5 0-.5-.27-.5-.52-1-.53-.5 0-.5-.27-.5 0-.5-.26-1 0-1.5 1.58-.5 .27-1 0-.5-.27-.5 0-.5 .27-.5-.27-.5 .27-6.5 0-1.5-.79-1.5-1.59-1-.52-1.5 0-.5 .26-.5 .53-.5 .79-.5 1.05-1 .53-.5 0-.5-.26-8.5 0-.5-.27-3.5 0-.5-.26-2 0-.5 .26-.5 0-.5 .27-6.5 0z" fill="#faebdd"/>
<path d="M30 433.65l.5 0 .5-.27 1 0 .5 .27 4.5 0 .5-.27 1 0 .5-.26 1 0 .5 .26 1 0 .5 .27 2 0 .5-.27 .5 .27 1.5 0 .5 .26 1.5 0 .5-.26 3.5 0 .5-.27 .5 0 .5 .27 .5 0 .5-.27 .5 0 1-.52 3 0 .5 .26 .5 0 .5 .26 .5 0 .5 .27 .5 0 .5-.27 2 0 .5 .27 .5 0 .5 .26 1 0 .5-.26 4.5 0 .5-.27 .5 0 1-.52 1.5 0 .5-.27 .5 0 1 .53 .5 0 1 .53 4 0 .5-.27 2 0 .5 .27 1.5 0 .5 .26 .5-.26 1 0 1-.53 .5-.79 .5-.26 3 0 1.5 .79 .5 .52 .5 .27 8 0 .5 .26 1.5 0 .5-.26 .5-.53 .5-1.05 .5-.79 .5-.53 2 0 1 .53 .5 .52 .5 .27 1 1.05 .5 .26 .5 0 .5 .27 .5 0 .5-.27 1.5 0 .5 .27 4.5 0 .5 .26 .5-.26 1 0 .5-.27 .5-.52 .5-.27 2.5 0 .5 .27 .5 0 1 .52 .5 0 .5 .27 .5-.27 .5 .27 3.5 0 .5-.27 .5 .27 3.5 0 .5-.27 .5 .27 .5 0 .5-.27 .5 0 1-.52 2.5 0 .5 .26 .5 0 1 .53 1 0 .5 .26 .5-.26 .5 .26 .5-.26 6.5 0 .5-.27 1 0 .5 .27 1.5 0 1.5-1.58 .5-.27 1.5 0 1 .53 .5 0 .5 .53 .5 0 .5 .52 1 0 .5 .27 1.5 0 .5 .26 .5-.26 2 0 .5-.27 .5 .27 2.5 0 .5-.27 .5 .27 .5 0 .5-.27 .5 0 .5 .27 .5 0 .5-.27 4 0 .5 .27 1.5 0 .5 .26 .5-.26 1.5 0 .5-.27 2.5 0 .5 .27 3 0 .5-.27 .5 0 .5-.26 .5 0 .5 .26 1 0 .5 .27 14.5 0 .5 .26 1.5-.79 1.5 0 .5 .26 .5 0 .5-.26 .5 .26 1 0 .5 .27 4 0 .5-.27 1 0 0 1.2-1 0-.5 .27-4 0-.5-.27-1 0-.5-.26-.5 .26-.5 0-.5-.26-1.5 0-1.5 .79-.5-.26-14.5 0-.5-.27-1 0-.5-.26-.5 0-.5 .26-.5 0-.5 .27-3 0-.5-.27-2.5 0-.5 .27-1.5 0-.5 .26-.5-.26-1.5 0-.5-.27-4 0-.5 .27-.5 0-.5-.27-.5 0-.5 .27-.5 0-.5-.27-.5 .27-2.5 0-.5-.27-.5 .27-2 0-.5 .26-.5-.26-1.5 0-.5-.27-1 0-.5-.52-.5 0-.5-.53-.5 0-1-.53-1.5 0-.5 .27-1.5 1.58-1.5 0-.5-.27-1 0-.5 .27-6.5 0-.5 .26-.5-.26-.5 .26-.5-.26-1 0-1-.53-.5 0-.5-.26-2.5 0-1 .52-.5 0-.5 .27-.5 0-.5-.27-.5 .27-3.5 0-.5-.27-.5 .27-3.5 0-.5-.27-.5 .27-.5-.27-.5 0-1-.52-.5 0-.5-.27-2.5 0-.5 .27-.5 .52-.5 .27-1 0-.5 .26-.5-.26-4.5 0-.5-.27-1.5 0-.5 .27-.5 0-.5-.27-.5 0-.5-.26-1-1.05-.5-.27-.5-.52-1-.53-2 0-.5 .53-.5 .79-.5 1.05-.5 .53-.5 .26-1.5 0-.5-.26-8 0-.5-.27-.5-.52-1.5-.79-3 0-.5 .26-.5 .79-1 .53-1 0-.5 .26-.5-.26-1.5 0-.5-.27-2 0-.5 .27-4 0-1-.53-.5 0-1-.53-.5 0-.5 .27-1.5 0-1 .52-.5 0-.5 .27-4.5 0-.5 .26-1 0-.5-.26-.5 0-.5-.27-2 0-.5 .27-.5 0-.5-.27-.5 0-.5-.26-.5 0-.5-.26-3 0-1 .52-.5 0-.5 .27-.5 0-.5-.27-.5 0-.5 .27-3.5 0-.5 .26-1.5 0-.5-.26-1.5 0-.5-.27-.5 .27-2 0-.5-.27-1 0-.5-.26-1 0-.5 .26-1 0-.5 .27-4.5 0-.5-.27-1 0-.5 .27-.5 0z" fill="#faebdd"/>
<path d="M30 426.8l.5 0 .5 .26 2 0 .5-.26 1 0 .5 .26 1 0 1-.53 1-1.05 .5-.26 1.5 0 .5 .26 .5 0 3 1.58 4 0 .5 .26 1 0 .5-.26 3.5 0 .5 .26 .5-.26 1.5 0 .5-.26 4 0 .5 .26 .5 0 .5 .26 1 0 .5-.26 9.5 0 1-.53 3.5 0 .5 .27 1 0 .5 .26 3 0 .5-.26 .5 .26 .5-.26 .5 0 .5 .26 4 0 .5-.26 .5 .26 .5-.26 .5-.53 1-1.58 .5-.53 2 0 .5 .27 1.5 1.58 .5 .26 .5 .53 .5 0 .5 .26 4.5 0 .5-.26 .5 0 .5 .26 3.5 0 1.5-1.58 .5-.26 2 0 2 1.05 .5 .53 1 0 .5 .26 .5-.26 .5 0 .5 .26 .5-.26 2.5 0 .5 .26 .5-.26 .5 .26 4 0 1.5-.79 2.5 0 .5 .26 1 0 .5 .27 1.5 0 .5 .26 1 0 .5 .26 2 0 .5-.26 5.5 0 .5-.26 1 0 .5-.27 .5 0 .5 .27 .5-.27 .5 0 .5 .27 2.5 0 .5 .26 6 0 .5 .26 .5-.26 .5 .26 .5-.26 2 0 .5 .26 .5-.26 1 0 1-.53 3.5 0 .5 .27 1 0 .5 .26 .5-.26 .5 0 .5 .26 6.5 0 .5 .26 .5-.26 2 0 1.5-.79 2.5 0 .5 .26 1 0 .5 .27 1.5 0 .5 .26 7 0 .5 .26 .5-.26 2.5 0 .5-.26 1.5 0 .5 .26 2.5 0 .5-.26 .5 .26 .5-.26 2 0 .5 .26 9 0 .5-.26 1.5-1.58 2 0 .5 .26 .5 0 1 .53 .5 .52 1 .53 1 0 .5-.26 .5 .26 .5-.26 .5 .26 .5-.26 .5 .26 .5 0 0 1.2-.5 0-.5-.26-.5 .26-.5-.26-.5 .26-.5-.26-.5 .26-1 0-1-.53-.5-.52-1-.53-.5 0-.5-.26-2 0-1.5 1.58-.5 .26-9 0-.5-.26-2 0-.5 .26-.5-.26-.5 .26-2.5 0-.5-.26-1.5 0-.5 .26-2.5 0-.5 .26-.5-.26-7 0-.5-.26-1.5 0-.5-.27-1 0-.5-.26-2.5 0-1.5 .79-2 0-.5 .26-.5-.26-6.5 0-.5-.26-.5 0-.5 .26-.5-.26-1 0-.5-.27-3.5 0-1 .53-1 0-.5 .26-.5-.26-2 0-.5 .26-.5-.26-.5 .26-.5-.26-6 0-.5-.26-2.5 0-.5-.27-.5 0-.5 .27-.5-.27-.5 0-.5 .27-1 0-.5 .26-5.5 0-.5 .26-2 0-.5-.26-1 0-.5-.26-1.5 0-.5-.27-1 0-.5-.26-2.5 0-1.5 .79-4 0-.5-.26-.5 .26-.5-.26-2.5 0-.5 .26-.5-.26-.5 0-.5 .26-.5-.26-1 0-.5-.53-2-1.05-2 0-.5 .26-1.5 1.58-3.5 0-.5-.26-.5 0-.5 .26-4.5 0-.5-.26-.5 0-.5-.53-.5-.26-1.5-1.58-.5-.27-2 0-.5 .53-1 1.58-.5 .53-.5 .26-.5-.26-.5 .26-4 0-.5-.26-.5 0-.5 .26-.5-.26-.5 .26-3 0-.5-.26-1 0-.5-.27-3.5 0-1 .53-9.5 0-.5 .26-1 0-.5-.26-.5 0-.5-.26-4 0-.5 .26-1.5 0-.5 .26-.5-.26-3.5 0-.5 .26-1 0-.5-.26-4 0-3-1.58-.5 0-.5-.26-1.5 0-.5 .26-1 1.05-1 .53-1 0-.5-.26-1 0-.5 .26-2 0-.5-.26-.5 0z" fill="#faebdd"/>
<path d="M30 420.47l3 0 .5-.26 .5 .26 2.5 0 .5 .53 .5 .79 1.5 .79 .5-.26 .5 0 .5-.27 .5 0 .5-.26 .5-.53 .5 0 1-.52 1 0 .5-.27 9.5 0 .5-.26 4.5 0 .5 .26 13.5 0 .5-.26 1 0 .5-.26 1 0 .5 .26 1 0 .5 .26 2 0 .5-.26 1 0 .5 .26 5 0 .5-.26 1.5 0 .5 .26 1-.52 1-1.06 .5-.26 1 0 .5 .26 1 0 1.5 .79 .5 .53 .5 .26 3 0 .5-.26 2 0 .5 .26 5 0 1-.52 .5 0 .5-.27 .5 .27 2.5 0 .5 .26 .5 0 .5 .26 1 0 .5-.26 1 0 .5 .26 1 0 .5 .27 1 0 .5-.27 1.5 0 .5-.26 1 0 .5 .26 1 0 .5 .27 1.5-.79 4 0 .5 .26 .5 0 .5 .26 .5 0 .5 .27 1.5 0 .5-.27 8 0 1-.52 3.5 0 .5 .26 .5 0 .5 .26 4.5 0 .5 .27 .5-.27 .5 .27 1 0 .5-.27 1 0 .5-.26 .5 .26 .5-.26 .5 0 .5 .26 .5 0 .5-.26 .5 .26 .5 0 1-.52 4 0 .5 .26 .5 0 .5 .26 10 0 .5 .27 .5-.27 .5-.52 .5-.79 .5-.27 .5 0 .5-.26 .5 0 .5 .26 1 0 1 .53 .5 .53 .5 .26 .5 0 .5 .26 2.5 0 .5 .27 1 0 .5-.27 1 0 .5-.26 .5 .26 3.5 0 1.5-.79 1.5 0 .5-.26 .5 .26 1 0 1.5 .79 5 0 .5 .27 .5-.27 .5 .27 .5-.27 5.5 0 .5-.26 1.5-1.58 .5 0 .5 .26 .5-.26 .5 .26 .5 0 1 .53 .5 .53 .5 .26 .5 0 .5 .26 4.5 0 0 1.2-4.5 0-.5-.26-.5 0-.5-.26-.5-.53-1-.53-.5 0-.5-.26-.5 .26-.5-.26-.5 0-1.5 1.58-.5 .26-5.5 0-.5 .27-.5-.27-.5 .27-.5-.27-5 0-1.5-.79-1 0-.5-.26-.5 .26-1.5 0-1.5 .79-3.5 0-.5-.26-.5 .26-1 0-.5 .27-1 0-.5-.27-2.5 0-.5-.26-.5 0-.5-.26-.5-.53-1-.53-1 0-.5-.26-.5 0-.5 .26-.5 0-.5 .27-.5 .79-.5 .52-.5 .27-.5-.27-10 0-.5-.26-.5 0-.5-.26-4 0-1 .52-.5 0-.5-.26-.5 .26-.5 0-.5-.26-.5 0-.5 .26-.5-.26-.5 .26-1 0-.5 .27-1 0-.5-.27-.5 .27-.5-.27-4.5 0-.5-.26-.5 0-.5-.26-3.5 0-1 .52-8 0-.5 .27-1.5 0-.5-.27-.5 0-.5-.26-.5 0-.5-.26-4 0-1.5 .79-.5-.27-1 0-.5-.26-1 0-.5 .26-1.5 0-.5 .27-1 0-.5-.27-1 0-.5-.26-1 0-.5 .26-1 0-.5-.26-.5 0-.5-.26-2.5 0-.5-.27-.5 .27-.5 0-1 .52-5 0-.5-.26-2 0-.5 .26-3 0-.5-.26-.5-.53-1.5-.79-1 0-.5-.26-1 0-.5 .26-1 1.06-1 .52-.5-.26-1.5 0-.5 .26-5 0-.5-.26-1 0-.5 .26-2 0-.5-.26-1 0-.5-.26-1 0-.5 .26-1 0-.5 .26-13.5 0-.5-.26-4.5 0-.5 .26-9.5 0-.5 .27-1 0-1 .52-.5 0-.5 .53-.5 .26-.5 0-.5 .27-.5 0-.5 .26-1.5-.79-.5-.79-.5-.53-2.5 0-.5-.26-.5 .26-3 0z" fill="#faebdd"/>
<path d="M30 413.62l1.5 0 .5 .27 .5-.27 .5 0 .5 .27 3 0 .5 .26 1 1.05 .5 .27 .5 0 .5 .26 .5-.26 .5 .26 3.5-1.84 .5 0 .5-.27 .5 .27 1 0 .5-.27 .5 .27 .5-.27 2 0 .5 .27 3 0 .5-.27 .5 0 1-.52 .5-.53 1-.53 1.5 0 2.5 1.32 .5 0 .5 .26 3 0 .5 .27 3.5 0 .5-.27 2 0 .5 .27 .5-.27 .5 0 1 .53 .5 0 .5 .26 1 0 .5-.26 .5 0 .5-.26 4.5 0 .5-.27 2 0 .5 .27 5 0 1-.53 1-1.06 .5-.26 1.5 0 .5 .26 .5 0 3 1.59 3 0 .5-.27 .5 0 .5 .27 4.5 0 .5 .26 .5-.26 .5 .26 3.5 0 .5-.26 8.5 0 .5-.27 2 0 .5 .27 3 0 .5 .26 4.5 0 .5-.26 9.5 0 .5-.27 1 0 1 .53 3.5 0 .5-.26 3.5 0 .5 .26 .5-.26 1.5 0 .5-.27 .5 .27 .5-.27 .5 .27 7 0 .5 .26 3 0 .5-.26 11.5 0 .5 .26 .5 0 .5-.26 1.5-1.59 .5-.26 1.5 0 2.5 1.32 .5 0 .5 .26 1.5 0 .5 .27 1.5 0 .5-.27 .5 .27 .5-.27 1 0 .5 .27 .5 0 .5-.27 2 0 .5 .27 .5 0 .5 .26 1.5 0 .5-.26 .5 0 .5 .26 .5 0 .5-.26 5.5 0 .5 .26 .5-.26 7 0 .5-.27 1 0 .5 .27 .5 0 .5 .26 1 0 .5-.26 8.5 0 0 1.2-8.5 0-.5 .26-1 0-.5-.26-.5 0-.5-.27-1 0-.5 .27-7 0-.5 .26-.5-.26-5.5 0-.5 .26-.5 0-.5-.26-.5 0-.5 .26-1.5 0-.5-.26-.5 0-.5-.27-2 0-.5 .27-.5 0-.5-.27-1 0-.5 .27-.5-.27-.5 .27-1.5 0-.5-.27-1.5 0-.5-.26-.5 0-2.5-1.32-1.5 0-.5 .26-1.5 1.59-.5 .26-.5 0-.5-.26-11.5 0-.5 .26-3 0-.5-.26-7 0-.5-.27-.5 .27-.5-.27-.5 .27-1.5 0-.5 .26-.5-.26-3.5 0-.5 .26-3.5 0-1-.53-1 0-.5 .27-9.5 0-.5 .26-4.5 0-.5-.26-3 0-.5-.27-2 0-.5 .27-8.5 0-.5 .26-3.5 0-.5-.26-.5 .26-.5-.26-4.5 0-.5-.27-.5 0-.5 .27-3 0-3-1.59-.5 0-.5-.26-1.5 0-.5 .26-1 1.06-1 .53-5 0-.5-.27-2 0-.5 .27-4.5 0-.5 .26-.5 0-.5 .26-1 0-.5-.26-.5 0-1-.53-.5 0-.5 .27-.5-.27-2 0-.5 .27-3.5 0-.5-.27-3 0-.5-.26-.5 0-2.5-1.32-1.5 0-1 .53-.5 .53-1 .52-.5 0-.5 .27-3 0-.5-.27-2 0-.5 .27-.5-.27-.5 .27-1 0-.5-.27-.5 .27-.5 0-3.5 1.84-.5-.26-.5 .26-.5-.26-.5 0-.5-.27-1-1.05-.5-.26-3 0-.5-.27-.5 0-.5 .27-.5-.27-1.5 0z" fill="#faebdd"/>
<path d="M30 407.56l1 0 .5-.26 4.5 0 1 .52 1.5 1.59 1.5 0 .5-.27 .5 0 2.5-1.32 .5 0 .5-.26 3 0 .5-.26 6 0 .5 .26 .5-.26 1-1.06 .5-.26 3 0 1.5 .79 .5 .53 .5 .26 7 0 .5 .26 2 0 .5-.26 3.5 0 .5 .26 .5-.26 .5 .26 .5-.26 3 0 .5-.26 .5 .26 3.5 0 .5-.26 .5 .26 1.5 0 .5-.26 .5 0 .5 .26 1 0 .5 .26 2 0 .5 .27 .5-.27 1.5 0 .5-.26 1.5 0 .5-.26 .5 .26 6.5 0 .5-.26 2 0 .5 .26 1 0 .5 .26 3.5 0 .5-.26 3 0 .5-.26 .5 .26 .5-.26 1 0 .5 .26 2 0 .5-.26 .5 .26 .5-.26 .5 0 .5 .26 6.5 0 .5 .26 .5-.26 2 0 .5 .26 1 0 .5-.26 1 0 .5-.26 7.5 0 .5 .26 .5 0 .5 .26 3 0 .5-.26 5 0 .5-.26 1 0 .5 .26 2.5 0 .5-.26 4 0 1.5-.79 2.5 0 .5 .26 .5 0 1.5 .79 6.5 0 .5-.26 1 0 .5 .26 3 0 .5 .26 1 0 .5-.26 3.5 0 .5-.26 .5 .26 1.5 0 .5-.26 1.5 0 .5 .26 1 0 .5-.26 .5 .26 .5-.26 .5 .26 1 0 .5-.26 2 0 .5 .26 .5 0 .5 .26 1 0 .5-.26 2.5 0 .5-.26 2.5 0 .5 .26 5 0 .5-.26 2 0 1 .52 .5-.26 4 0 .5 .26 .5-.26 .5 0 .5 .26 .5 0 .5-.26 4 0 .5-.26 1.5 0 0 1.2-1.5 0-.5 .26-4 0-.5 .26-.5 0-.5-.26-.5 0-.5 .26-.5-.26-4 0-.5 .26-1-.52-2 0-.5 .26-5 0-.5-.26-2.5 0-.5 .26-2.5 0-.5 .26-1 0-.5-.26-.5 0-.5-.26-2 0-.5 .26-1 0-.5-.26-.5 .26-.5-.26-.5 .26-1 0-.5-.26-1.5 0-.5 .26-1.5 0-.5-.26-.5 .26-3.5 0-.5 .26-1 0-.5-.26-3 0-.5-.26-1 0-.5 .26-6.5 0-1.5-.79-.5 0-.5-.26-2.5 0-1.5 .79-4 0-.5 .26-2.5 0-.5-.26-1 0-.5 .26-5 0-.5 .26-3 0-.5-.26-.5 0-.5-.26-7.5 0-.5 .26-1 0-.5 .26-1 0-.5-.26-2 0-.5 .26-.5-.26-6.5 0-.5-.26-.5 0-.5 .26-.5-.26-.5 .26-2 0-.5-.26-1 0-.5 .26-.5-.26-.5 .26-3 0-.5 .26-3.5 0-.5-.26-1 0-.5-.26-2 0-.5 .26-6.5 0-.5-.26-.5 .26-1.5 0-.5 .26-1.5 0-.5 .27-.5-.27-2 0-.5-.26-1 0-.5-.26-.5 0-.5 .26-1.5 0-.5-.26-.5 .26-3.5 0-.5-.26-.5 .26-3 0-.5 .26-.5-.26-.5 .26-.5-.26-3.5 0-.5 .26-2 0-.5-.26-7 0-.5-.26-.5-.53-1.5-.79-3 0-.5 .26-1 1.06-.5 .26-.5-.26-6 0-.5 .26-3 0-.5 .26-.5 0-2.5 1.32-.5 0-.5 .27-1.5 0-1.5-1.59-1-.52-4.5 0-.5 .26-1 0z" fill="#faebdd"/>
<path d="M30 400.97l.5 .27 6 0 .5 .26 .5 .79 1 .53 1.5 0 .5-.26 .5 0 2.5-1.32 1 0 .5-.27 .5 .27 .5 0 .5-.27 .5 0 .5 .27 .5-.27 .5 0 .5 .27 .5 0 .5-.27 .5 .27 2 0 .5-.27 1.5 0 .5 .27 .5 0 .5 .26 1.5 0 .5 .26 2 0 1-.52 4 0 .5-.27 1 0 .5 .27 2 0 .5-.27 3.5 0 .5 .27 3.5 0 .5 .26 .5-.26 2.5 0 .5 .26 .5-.26 4 0 .5-.27 .5 0 .5 .27 4.5 0 .5-.27 .5 .27 .5-.27 .5 .27 4.5 0 .5-.27 1 0 .5 .27 .5 0 .5-.27 1.5 0 .5 .27 2 0 .5-.27 2.5 0 1.5 1.59 1 .52 .5-.26 .5 0 .5-.26 .5 0 2-1.06 .5 0 1-.53 .5 0 .5-.26 .5 .26 4 0 .5 .27 .5-.27 2 0 .5 .27 .5 0 2 1.05 1 0 .5-.26 1 0 .5-.27 .5 0 .5-.26 .5 0 .5-.26 3 0 .5-.27 8 0 .5 .27 .5 0 .5 .26 .5-.26 3 0 .5-.27 2 0 .5 .27 .5-.27 .5 .27 2 0 .5-.27 1 0 .5 .27 .5-.27 .5 0 .5 .27 .5 0 .5-.27 .5 0 .5 .27 .5 0 .5-.27 .5 0 .5 .27 .5 0 .5 .52 .5 .8 .5 .26 2.5 0 3-1.58 5.5 0 .5-.27 1 0 .5-.26 .5 0 .5 .26 2.5 0 .5 .27 1.5 0 .5 .26 .5-.26 .5 .26 .5-.26 6 0 .5-.27 .5 .27 1.5 0 .5-.27 1.5 0 .5 .27 3 0 .5 .26 3 0 .5-.26 5.5 0 .5-.27 1.5 0 .5 .27 2 0 .5-.27 4 0 .5 .27 2.5 0 .5 .26 1.5 0 .5-.26 .5 0 .5-.27 2 0 .5 .27 2.5 0 0 1.2-2.5 0-.5-.27-2 0-.5 .27-.5 0-.5 .26-1.5 0-.5-.26-2.5 0-.5-.27-4 0-.5 .27-2 0-.5-.27-1.5 0-.5 .27-5.5 0-.5 .26-3 0-.5-.26-3 0-.5-.27-1.5 0-.5 .27-1.5 0-.5-.27-.5 .27-6 0-.5 .26-.5-.26-.5 .26-.5-.26-1.5 0-.5-.27-2.5 0-.5-.26-.5 0-.5 .26-1 0-.5 .27-5.5 0-3 1.58-2.5 0-.5-.26-.5-.8-.5-.52-.5 0-.5-.27-.5 0-.5 .27-.5 0-.5-.27-.5 0-.5 .27-.5 0-.5-.27-.5 0-.5 .27-.5-.27-1 0-.5 .27-2 0-.5-.27-.5 .27-.5-.27-2 0-.5 .27-3 0-.5 .26-.5-.26-.5 0-.5-.27-8 0-.5 .27-3 0-.5 .26-.5 0-.5 .26-.5 0-.5 .27-1 0-.5 .26-1 0-2-1.05-.5 0-.5-.27-2 0-.5 .27-.5-.27-4 0-.5-.26-.5 .26-.5 0-1 .53-.5 0-2 1.06-.5 0-.5 .26-.5 0-.5 .26-1-.52-1.5-1.59-2.5 0-.5 .27-2 0-.5-.27-1.5 0-.5 .27-.5 0-.5-.27-1 0-.5 .27-4.5 0-.5-.27-.5 .27-.5-.27-.5 .27-4.5 0-.5-.27-.5 0-.5 .27-4 0-.5 .26-.5-.26-2.5 0-.5 .26-.5-.26-3.5 0-.5-.27-3.5 0-.5 .27-2 0-.5-.27-1 0-.5 .27-4 0-1 .52-2 0-.5-.26-1.5 0-.5-.26-.5 0-.5-.27-1.5 0-.5 .27-2 0-.5-.27-.5 .27-.5 0-.5-.27-.5 0-.5 .27-.5-.27-.5 0-.5 .27-.5 0-.5-.27-.5 .27-1 0-2.5 1.32-.5 0-.5 .26-1.5 0-1-.53-.5-.79-.5-.26-6 0-.5-.27z" fill="#faebdd"/>
<path d="M30 394.65l1.5 0 .5 .26 1 0 .5 .27 .5 0 .5-.27 4 0 .5 .27 .5 0 .5-.27 .5 0 .5-.26 1.5 0 .5-.26 1 0 .5 .26 3.5 0 .5 .26 .5 0 .5 .27 .5-.27 3 0 .5-.26 2 0 1 .53 .5-.27 .5 0 .5 .27 2 0 .5-.27 1.5 0 .5-.26 .5 0 .5-.26 1.5 0 .5 .26 .5 0 .5 .26 .5 0 .5-.26 6 0 1 .53 .5-.27 1.5 0 .5-.26 .5 .26 2 0 .5-.26 1 0 .5-.26 .5 0 .5 .26 1 0 .5 .26 5.5 0 .5-.26 2 0 .5 .26 3 0 .5-.26 1 0 .5-.26 .5 0 1 .52 .5-.26 .5 0 .5 .26 .5-.26 .5 0 .5 .26 4.5 0 .5-.26 1 0 1 .53 .5 .52 1 0 .5-.26 2 0 1-.53 1 0 .5-.26 .5 0 .5 .26 .5-.26 .5 .26 1.5 0 .5 .27 .5-.27 .5 0 .5-.26 .5 .26 .5-.26 .5 .26 2 0 .5-.26 1 0 .5 .53 .5 .26 .5 .53 .5 .26 2 0 1.5-.79 .5-.53 .5 0 .5-.26 .5 0 .5-.26 .5 .26 .5-.26 .5 0 .5 .26 1 0 .5 .26 1 0 .5-.26 2 0 1 .53 .5-.27 1.5 0 .5-.26 .5 .26 4 0 .5-.26 .5 0 .5 .26 1.5 0 .5-.26 2 0 .5 .26 1 0 .5-.26 1 0 .5 .26 .5-.26 .5 0 .5 .26 .5-.26 .5 0 .5 .26 1.5 0 1.5 .79 .5 .53 2.5 0 .5-.26 .5-.53 1-.53 .5-.52 1 0 .5 .26 1 0 .5 .26 2 0 .5-.52 .5 0 .5 .26 1.5 0 .5 .26 .5 0 .5-.26 .5 .26 1 0 .5 .53 1 .53 .5 0 .5 .26 1 0 1-.53 .5 0 .5-.26 1 0 .5-.26 .5 0 .5-.27 .5 0 .5-.26 7 0 .5 .26 2 0 .5-.26 .5 .26 5 0 1-.52 1 0 1 .52 1.5 0 .5-.26 1 0 .5-.26 .5 .26 .5 0 .5 .26 .5 0 .5 .27 .5-.27 .5 0 .5-.26 .5 0 .5-.26 .5 .26 .5-.26 .5 .26 2 0 .5 .26 3.5 0 .5-.26 4.5 0 0 1.2-4.5 0-.5 .26-3.5 0-.5-.26-2 0-.5-.26-.5 .26-.5-.26-.5 .26-.5 0-.5 .26-.5 0-.5 .27-.5-.27-.5 0-.5-.26-.5 0-.5-.26-.5 .26-1 0-.5 .26-1.5 0-1-.52-1 0-1 .52-5 0-.5-.26-.5 .26-2 0-.5-.26-7 0-.5 .26-.5 0-.5 .27-.5 0-.5 .26-1 0-.5 .26-.5 0-1 .53-1 0-.5-.26-.5 0-1-.53-.5-.53-1 0-.5-.26-.5 .26-.5 0-.5-.26-1.5 0-.5-.26-.5 0-.5 .52-2 0-.5-.26-1 0-.5-.26-1 0-.5 .52-1 .53-.5 .53-.5 .26-2.5 0-.5-.53-1.5-.79-1.5 0-.5-.26-.5 0-.5 .26-.5-.26-.5 0-.5 .26-.5-.26-1 0-.5 .26-1 0-.5-.26-2 0-.5 .26-1.5 0-.5-.26-.5 0-.5 .26-4 0-.5-.26-.5 .26-1.5 0-.5 .27-1-.53-2 0-.5 .26-1 0-.5-.26-1 0-.5-.26-.5 0-.5 .26-.5-.26-.5 .26-.5 0-.5 .26-.5 0-.5 .53-1.5 .79-2 0-.5-.26-.5-.53-.5-.26-.5-.53-1 0-.5 .26-2 0-.5-.26-.5 .26-.5-.26-.5 .26-.5 0-.5 .27-.5-.27-1.5 0-.5-.26-.5 .26-.5-.26-.5 0-.5 .26-1 0-1 .53-2 0-.5 .26-1 0-.5-.52-1-.53-1 0-.5 .26-4.5 0-.5-.26-.5 0-.5 .26-.5-.26-.5 0-.5 .26-1-.52-.5 0-.5 .26-1 0-.5 .26-3 0-.5-.26-2 0-.5 .26-5.5 0-.5-.26-1 0-.5-.26-.5 0-.5 .26-1 0-.5 .26-2 0-.5-.26-.5 .26-1.5 0-.5 .27-1-.53-6 0-.5 .26-.5 0-.5-.26-.5 0-.5-.26-1.5 0-.5 .26-.5 0-.5 .26-1.5 0-.5 .27-2 0-.5-.27-.5 0-.5 .27-1-.53-2 0-.5 .26-3 0-.5 .27-.5-.27-.5 0-.5-.26-3.5 0-.5-.26-1 0-.5 .26-1.5 0-.5 .26-.5 0-.5 .27-.5 0-.5-.27-4 0-.5 .27-.5 0-.5-.27-1 0-.5-.26-1.5 0z" fill="#faebdd"/>
<path d="M30 388.06l.5 .27 1.5 0 .5 .26 2 0 .5-.26 2 0 1 .52 1.5 0 .5-.26 .5 0 .5 .26 .5 0 1-.52 .5 .26 2 0 .5-.26 2.5 0 .5 .26 1 0 .5-.26 1 0 .5-.27 .5 .27 4 0 .5 .26 1.5 0 .5 .26 .5-.26 1 0 .5-.26 1.5 0 .5-.27 .5 .27 1 0 .5 .26 .5-.26 .5 .26 .5-.26 2.5 0 .5 .26 .5 0 .5-.26 2 0 .5 .26 .5 0 .5 .26 .5 0 .5 .27 .5-.27 .5 0 .5-.26 4.5 0 .5-.26 .5 0 .5-.27 1 0 .5 .27 1 0 .5 .26 2 0 .5-.26 2.5 0 1 .52 2 0 .5-.26 1 0 .5 .26 .5-.26 .5 .26 1.5 0 .5-.26 .5 0 .5-.26 .5 .26 .5-.26 .5 0 .5 .26 .5 0 .5-.26 .5 .26 2.5 0 .5-.26 1 0 .5 .26 2 0 1 .53 .5 0 .5-.27 1 0 .5-.26 8.5 0 .5-.26 1.5 0 .5-.27 .5 0 .5 .27 .5-.27 .5 .27 .5 0 1.5 1.58 2 0 2-1.06 .5 0 .5-.52 2.5 0 .5-.27 1.5 0 .5 .27 1.5 0 .5 .26 1 0 .5 .26 .5-.26 2.5 0 1 .53 .5-.27 2 0 .5 .27 .5-.27 1.5 0 .5-.26 2 0 .5-.26 4 0 .5-.27 .5 .27 .5 0 .5 .26 1.5 0 .5 .26 .5-.26 .5 0 .5-.26 .5 .26 .5 .53 .5 .26 .5 .53 .5 .26 .5-.26 1 0 .5-.27 .5 0 2.5-1.31 6.5 0 .5 .26 1 0 .5-.26 2 0 1 1.05 .5 0 .5 .26 2 0 1.5-.79 .5 0 1-.52 1 0 .5-.27 .5 .53 2.5 0 .5-.26 1 0 .5-.27 1 0 .5 .27 .5 0 .5 .26 3.5 0 .5 .26 2 0 .5-.26 3 0 .5-.26 1.5 0 .5-.27 .5 .27 5.5 0 .5 .26 1 0 .5-.26 .5 .26 .5 0 .5-.26 .5 .26 1.5 0 .5-.26 .5 .26 .5 0 .5-.26 .5 .26 2.5 0 .5-.53 2 0 .5 .27 .5-.27 .5 .27 0 1.2-.5-.27-.5 .27-.5-.27-2 0-.5 .53-2.5 0-.5-.26-.5 .26-.5 0-.5-.26-.5 .26-1.5 0-.5-.26-.5 .26-.5 0-.5-.26-.5 .26-1 0-.5-.26-5.5 0-.5-.27-.5 .27-1.5 0-.5 .26-3 0-.5 .26-2 0-.5-.26-3.5 0-.5-.26-.5 0-.5-.27-1 0-.5 .27-1 0-.5 .26-2.5 0-.5-.53-.5 .27-1 0-1 .52-.5 0-1.5 .79-2 0-.5-.26-.5 0-1-1.05-2 0-.5 .26-1 0-.5-.26-6.5 0-2.5 1.31-.5 0-.5 .27-1 0-.5 .26-.5-.26-.5-.53-.5-.26-.5-.53-.5-.26-.5 .26-.5 0-.5 .26-.5-.26-1.5 0-.5-.26-.5 0-.5-.27-.5 .27-4 0-.5 .26-2 0-.5 .26-1.5 0-.5 .27-.5-.27-2 0-.5 .27-1-.53-2.5 0-.5 .26-.5-.26-1 0-.5-.26-1.5 0-.5-.27-1.5 0-.5 .27-2.5 0-.5 .52-.5 0-2 1.06-2 0-1.5-1.58-.5 0-.5-.27-.5 .27-.5-.27-.5 0-.5 .27-1.5 0-.5 .26-8.5 0-.5 .26-1 0-.5 .27-.5 0-1-.53-2 0-.5-.26-1 0-.5 .26-2.5 0-.5-.26-.5 .26-.5 0-.5-.26-.5 0-.5 .26-.5-.26-.5 .26-.5 0-.5 .26-1.5 0-.5-.26-.5 .26-.5-.26-1 0-.5 .26-2 0-1-.52-2.5 0-.5 .26-2 0-.5-.26-1 0-.5-.27-1 0-.5 .27-.5 0-.5 .26-4.5 0-.5 .26-.5 0-.5 .27-.5-.27-.5 0-.5-.26-.5 0-.5-.26-2 0-.5 .26-.5 0-.5-.26-2.5 0-.5 .26-.5-.26-.5 .26-.5-.26-1 0-.5-.27-.5 .27-1.5 0-.5 .26-1 0-.5 .26-.5-.26-1.5 0-.5-.26-4 0-.5-.27-.5 .27-1 0-.5 .26-1 0-.5-.26-2.5 0-.5 .26-2 0-.5-.26-1 .52-.5 0-.5-.26-.5 0-.5 .26-1.5 0-1-.52-2 0-.5 .26-2 0-.5-.26-1.5 0-.5-.27z" fill="#faebdd"/>
<path d="M30 382l.5 .27 2 0 .5-.27 1.5 0 .5-.26 1 0 .5 .26 .5 0 .5 .27 3.5 0 .5-.27 1.5 0 .5 .27 1 0 .5 .26 .5 0 .5-.26 .5 .26 .5-.26 .5 0 .5-.27 2 0 .5 .27 .5 0 .5-.27 1 0 .5 .27 1 0 .5-.27 .5 0 .5 .27 4.5 0 .5 .26 .5-.26 3 0 .5-.27 1 0 .5-.26 .5 .26 2 0 .5-.26 .5 .26 .5-.26 3 0 .5 .26 1 0 1 .53 1.5 0 .5-.26 .5 0 .5-.27 2 0 .5 .27 2 0 .5-.27 1.5 0 .5 .27 .5-.27 2.5 0 .5 .27 2 0 .5 .26 2.5 0 .5-.26 .5 0 .5-.27 .5 .27 .5-.27 .5 .27 2 0 .5-.27 1 0 .5 .27 .5-.27 1 0 .5-.26 .5 0 .5 .26 2.5 0 .5-.26 .5 .26 1 0 .5 .27 3 0 .5-.27 1 0 .5-.26 2 0 .5 .26 .5 0 .5 .27 1 0 .5-.27 2.5 0 .5 .27 .5 0 .5-.27 .5 0 .5-.26 .5 .26 .5-.26 1 0 1.5 .79 .5 0 1 .53 1.5 0 2.5-1.32 .5 0 .5 .26 .5 0 .5-.26 .5 .26 .5-.26 1 0 .5 .26 .5 0 .5-.26 2 0 .5 .26 1.5 0 .5 .27 1 0 1 .52 1-.52 1 0 .5-.27 .5 .27 .5 0 .5-.27 5 0 .5 .27 .5 0 .5 .26 .5-.26 1 0 .5-.27 1.5 0 .5 .27 2.5 0 .5-.27 1.5 .79 3 0 .5-.26 .5 0 .5-.26 .5 0 .5-.27 2 0 .5-.26 .5 .26 1 0 .5 .27 .5 0 .5-.27 5.5 0 1 .53 .5 0 .5 .26 1 0 .5 .27 .5 0 1-.53 .5 0 1-.53 .5 0 .5-.26 .5 .26 .5-.26 1.5 0 .5-.26 .5 .26 2 0 .5 .26 1 0 .5 .27 .5-.27 2.5 0 .5 .27 3.5 0 .5-.27 3 0 .5 .27 1.5 0 .5-.27 .5 0 .5-.26 1 0 .5 .26 1 0 .5 .27 .5-.27 4 0 .5 .27 4.5 0 .5-.27 .5 0 .5-.26 1 0 .5 .26 1 0 .5 .27 .5 0 .5-.27 .5 .27 .5 0 .5-.27 0 1.2-.5 .27-.5 0-.5-.27-.5 .27-.5 0-.5-.27-1 0-.5-.26-1 0-.5 .26-.5 0-.5 .27-4.5 0-.5-.27-4 0-.5 .27-.5-.27-1 0-.5-.26-1 0-.5 .26-.5 0-.5 .27-1.5 0-.5-.27-3 0-.5 .27-3.5 0-.5-.27-2.5 0-.5 .27-.5-.27-1 0-.5-.26-2 0-.5-.26-.5 .26-1.5 0-.5 .26-.5-.26-.5 .26-.5 0-1 .53-.5 0-1 .53-.5 0-.5-.27-1 0-.5-.26-.5 0-1-.53-5.5 0-.5 .27-.5 0-.5-.27-1 0-.5-.26-.5 .26-2 0-.5 .27-.5 0-.5 .26-.5 0-.5 .26-3 0-1.5-.79-.5 .27-2.5 0-.5-.27-1.5 0-.5 .27-1 0-.5 .26-.5-.26-.5 0-.5-.27-5 0-.5 .27-.5 0-.5-.27-.5 .27-1 0-1 .52-1-.52-1 0-.5-.27-1.5 0-.5-.26-2 0-.5 .26-.5 0-.5-.26-1 0-.5 .26-.5-.26-.5 .26-.5 0-.5-.26-.5 0-2.5 1.32-1.5 0-1-.53-.5 0-1.5-.79-1 0-.5 .26-.5-.26-.5 .26-.5 0-.5 .27-.5 0-.5-.27-2.5 0-.5 .27-1 0-.5-.27-.5 0-.5-.26-2 0-.5 .26-1 0-.5 .27-3 0-.5-.27-1 0-.5-.26-.5 .26-2.5 0-.5-.26-.5 0-.5 .26-1 0-.5 .27-.5-.27-1 0-.5 .27-2 0-.5-.27-.5 .27-.5-.27-.5 .27-.5 0-.5 .26-2.5 0-.5-.26-2 0-.5-.27-2.5 0-.5 .27-.5-.27-1.5 0-.5 .27-2 0-.5-.27-2 0-.5 .27-.5 0-.5 .26-1.5 0-1-.53-1 0-.5-.26-3 0-.5 .26-.5-.26-.5 .26-2 0-.5-.26-.5 .26-1 0-.5 .27-3 0-.5 .26-.5-.26-4.5 0-.5-.27-.5 0-.5 .27-1 0-.5-.27-1 0-.5 .27-.5 0-.5-.27-2 0-.5 .27-.5 0-.5 .26-.5-.26-.5 .26-.5 0-.5-.26-1 0-.5-.27-1.5 0-.5 .27-3.5 0-.5-.27-.5 0-.5-.26-1 0-.5 .26-1.5 0-.5 .27-2 0-.5-.27z" fill="#faebdd"/>
<path d="M30 375.68l.5-.27 .5 .27 1 0 .5 .26 .5 0 .5-.26 2 0 .5 .26 .5 0 .5-.26 .5 .26 .5-.26 2.5 0 1 .52 1.5 0 .5-.26 1 0 .5-.26 .5 0 .5-.27 .5 0 .5-.26 1.5 0 1.5 .79 .5 0 .5-.26 3.5 0 .5-.27 .5 .27 .5 0 .5 .26 .5-.26 .5 .26 .5 0 .5 .26 2.5 0 .5-.26 1.5 0 .5-.26 1 0 .5-.27 .5 0 .5 .27 1 0 .5 .26 3.5 0 1-.53 1 0 .5 .27 .5 .52 .5 .27 2 0 1-.53 1.5 0 .5-.26 .5 .26 .5-.26 3.5 0 .5-.27 1 0 .5 .27 .5-.27 .5 0 .5 .27 .5 0 .5-.27 .5 .27 2.5 0 .5 .26 4 0 .5-.26 .5 .26 .5-.26 2.5 0 .5 .26 .5 0 .5-.26 1 0 .5 .26 2.5 0 .5-.26 1 0 .5-.27 1 0 .5 .53 1 .53 .5 0 .5 .26 .5-.26 1.5 0 .5-.27 1 0 .5-.26 .5 0 .5-.26 4.5 0 .5 .26 .5 0 .5 .26 1.5 0 1-.52 1 0 .5 .26 .5 .53 .5 .26 .5 .53 1.5 0 .5-.26 .5 .26 3-1.58 .5 0 .5 .26 1.5 0 .5-.26 .5 0 .5 .26 .5-.26 .5 .26 2 0 .5-.26 1.5 0 .5-.27 .5 .27 .5 0 .5 .26 1 1.06 1 0 .5-.27 .5 .27 1.5 0 1.5-.8 .5-.52 1.5 0 .5 .26 .5 0 .5 .26 .5-.26 1.5 0 .5-.26 .5 0 .5 .26 .5 0 .5-.26 .5 0 .5 .26 1 0 .5-.26 2 0 1 .52 .5 .53 .5 .27 1 0 .5 .26 2.5-1.32 .5 0 .5-.26 .5 0 .5-.27 2.5 0 .5 .27 1 0 .5 .26 1.5 0 1-.53 .5 .53 2 0 .5-.26 .5 0 .5 .26 1 0 .5-.26 .5 .26 .5 0 .5 .26 1.5 0 1-.52 1.5 0 .5 .26 1 0 .5 .26 .5 0 .5-.26 1 0 .5-.26 .5 0 .5 .26 .5 0 .5-.26 .5 .26 .5 0 .5-.26 1.5 0 .5-.27 .5 .27 5.5 0 .5 .26 .5-.26 .5 .26 2 0 1-.53 .5 .27 1.5 0 .5 .26 .5-.26 3.5 0 .5 .26 2 0 .5-.26 1.5 0 .5 .26 2 0 .5-.26 3.5 0 .5-.27 .5 .27 .5-.27 .5 .27 .5-.27 0 1.2-.5 .27-.5-.27-.5 .27-.5-.27-.5 .27-3.5 0-.5 .26-2 0-.5-.26-1.5 0-.5 .26-2 0-.5-.26-3.5 0-.5 .26-.5-.26-1.5 0-.5-.27-1 .53-2 0-.5-.26-.5 .26-.5-.26-5.5 0-.5-.27-.5 .27-1.5 0-.5 .26-.5 0-.5-.26-.5 .26-.5 0-.5-.26-.5 0-.5 .26-1 0-.5 .26-.5 0-.5-.26-1 0-.5-.26-1.5 0-1 .52-1.5 0-.5-.26-.5 0-.5-.26-.5 .26-1 0-.5-.26-.5 0-.5 .26-2 0-.5-.53-1 .53-1.5 0-.5-.26-1 0-.5-.27-2.5 0-.5 .27-.5 0-.5 .26-.5 0-2.5 1.32-.5-.26-1 0-.5-.27-.5-.53-1-.52-2 0-.5 .26-1 0-.5-.26-.5 0-.5 .26-.5 0-.5-.26-.5 0-.5 .26-1.5 0-.5 .26-.5-.26-.5 0-.5-.26-1.5 0-.5 .52-1.5 .8-1.5 0-.5-.27-.5 .27-1 0-1-1.06-.5-.26-.5 0-.5-.27-.5 .27-1.5 0-.5 .26-2 0-.5-.26-.5 .26-.5-.26-.5 0-.5 .26-1.5 0-.5-.26-.5 0-3 1.58-.5-.26-.5 .26-1.5 0-.5-.53-.5-.26-.5-.53-.5-.26-1 0-1 .52-1.5 0-.5-.26-.5 0-.5-.26-4.5 0-.5 .26-.5 0-.5 .26-1 0-.5 .27-1.5 0-.5 .26-.5-.26-.5 0-1-.53-.5-.53-1 0-.5 .27-1 0-.5 .26-2.5 0-.5-.26-1 0-.5 .26-.5 0-.5-.26-2.5 0-.5 .26-.5-.26-.5 .26-4 0-.5-.26-2.5 0-.5-.27-.5 .27-.5 0-.5-.27-.5 0-.5 .27-.5-.27-1 0-.5 .27-3.5 0-.5 .26-.5-.26-.5 .26-1.5 0-1 .53-2 0-.5-.27-.5-.52-.5-.27-1 0-1 .53-3.5 0-.5-.26-1 0-.5-.27-.5 0-.5 .27-1 0-.5 .26-1.5 0-.5 .26-2.5 0-.5-.26-.5 0-.5-.26-.5 .26-.5-.26-.5 0-.5-.27-.5 .27-3.5 0-.5 .26-.5 0-1.5-.79-1.5 0-.5 .26-.5 0-.5 .27-.5 0-.5 .26-1 0-.5 .26-1.5 0-1-.52-2.5 0-.5 .26-.5-.26-.5 .26-.5 0-.5-.26-2 0-.5 .26-.5 0-.5-.26-1 0-.5-.27-.5 .27z" fill="#faebdd"/>
<path d="M30 369.35l1.5 0 .5-.26 2 0 .5 .26 1.5 0 .5 .27 5 0 .5-.27 5 0 .5-.26 1 0 .5-.26 .5 .26 .5-.26 .5 .26 .5 0 .5 .26 .5 0 .5 .27 .5-.27 2 0 .5 .27 .5 0 .5 .26 .5-.26 .5 .26 1 0 .5-.26 1.5 0 .5-.27 .5 0 .5 .27 .5-.27 5 0 .5-.26 2 0 .5 .26 2.5 0 .5 .27 2 0 .5 .26 .5-.26 1.5 0 .5-.27 1.5 0 .5-.26 .5 .26 .5-.26 .5 0 .5 .26 .5 0 .5-.26 .5 .26 4.5 0 .5 .27 .5-.27 4.5 0 .5 .27 .5-.27 2 0 .5 .27 .5-.27 1 0 .5-.26 .5 0 .5 .26 4 0 .5-.26 .5 .26 .5-.26 .5 .26 2 0 1 .53 2.5 0 .5 .26 .5-.26 1 0 .5-.26 .5 0 .5-.27 3.5 0 .5 .27 .5 0 .5-.27 1.5 0 .5-.26 .5 0 .5 .26 1.5 0 .5 .27 .5 0 .5 .52 1 .53 2 0 .5-.26 .5 0 2-1.06 .5 0 .5-.26 .5 .26 7 0 .5 .27 2.5 0 .5 .26 .5 .53 .5 .26 .5 0 .5 .27 .5 0 1-.53 .5 0 1-.53 .5 0 1-.53 .5 0 .5-.26 .5 0 .5 .26 2 0 .5 .27 .5-.27 3 0 .5-.26 3 0 .5 .26 1.5 1.59 1.5 0 .5-.27 .5 0 .5-.26 .5 0 2-1.06 .5 0 .5 .27 .5-.27 2.5 0 .5 .27 .5 0 .5-.27 1 0 .5-.26 .5 .26 1 0 .5-.26 .5 .26 1.5 0 .5 .27 2.5 0 .5-.27 1 0 .5 .27 1 0 .5-.27 4 0 .5-.26 5 0 .5 .26 .5-.26 .5 .26 1.5 0 .5 .27 3.5 0 .5-.27 5 0 .5-.26 .5 0 .5 .26 4.5 0 .5-.26 .5 .26 1 0 .5 .27 2.5 0 .5 .26 1.5 0 .5-.26 1 0 .5-.27 3.5 0 .5-.26 .5 .26 0 1.2-.5-.26-.5 .26-3.5 0-.5 .27-1 0-.5 .26-1.5 0-.5-.26-2.5 0-.5-.27-1 0-.5-.26-.5 .26-4.5 0-.5-.26-.5 0-.5 .26-5 0-.5 .27-3.5 0-.5-.27-1.5 0-.5-.26-.5 .26-.5-.26-5 0-.5 .26-4 0-.5 .27-1 0-.5-.27-1 0-.5 .27-2.5 0-.5-.27-1.5 0-.5-.26-.5 .26-1 0-.5-.26-.5 .26-1 0-.5 .27-.5 0-.5-.27-2.5 0-.5 .27-.5-.27-.5 0-2 1.06-.5 0-.5 .26-.5 0-.5 .27-1.5 0-1.5-1.59-.5-.26-3 0-.5 .26-3 0-.5 .27-.5-.27-2 0-.5-.26-.5 0-.5 .26-.5 0-1 .53-.5 0-1 .53-.5 0-1 .53-.5 0-.5-.27-.5 0-.5-.26-.5-.53-.5-.26-2.5 0-.5-.27-7 0-.5-.26-.5 .26-.5 0-2 1.06-.5 0-.5 .26-2 0-1-.53-.5-.52-.5 0-.5-.27-1.5 0-.5-.26-.5 0-.5 .26-1.5 0-.5 .27-.5 0-.5-.27-3.5 0-.5 .27-.5 0-.5 .26-1 0-.5 .26-.5-.26-2.5 0-1-.53-2 0-.5-.26-.5 .26-.5-.26-.5 .26-4 0-.5-.26-.5 0-.5 .26-1 0-.5 .27-.5-.27-2 0-.5 .27-.5-.27-4.5 0-.5 .27-.5-.27-4.5 0-.5-.26-.5 .26-.5 0-.5-.26-.5 0-.5 .26-.5-.26-.5 .26-1.5 0-.5 .27-1.5 0-.5 .26-.5-.26-2 0-.5-.27-2.5 0-.5-.26-2 0-.5 .26-5 0-.5 .27-.5-.27-.5 0-.5 .27-1.5 0-.5 .26-1 0-.5-.26-.5 .26-.5-.26-.5 0-.5-.27-2 0-.5 .27-.5-.27-.5 0-.5-.26-.5 0-.5-.26-.5 .26-.5-.26-.5 .26-1 0-.5 .26-5 0-.5 .27-5 0-.5-.27-1.5 0-.5-.26-2 0-.5 .26-1.5 0z" fill="#faebdd"/>
<path d="M30 362.77l.5 0 .5 .26 1 0 .5-.26 2 0 .5 .26 1.5 0 .5 .26 .5-.26 .5 0 .5 .26 .5-.26 .5 0 .5 .26 .5-.26 5 0 .5-.26 .5 0 .5 .26 2 0 .5-.26 .5 .26 .5-.26 1 0 .5 .26 4.5 0 .5 .26 1-.52 .5 .26 1.5 0 .5 .26 .5 0 .5-.26 2 0 .5 .26 .5-.26 .5 .26 .5-.26 4.5 0 .5-.26 2.5 0 .5 .26 1 0 .5 .26 .5-.26 .5 0 .5 .26 .5-.26 1.5 0 .5-.26 1 0 .5 .26 .5 0 .5-.26 .5 .26 .5-.26 1 .52 .5 0 .5-.52 .5 .26 .5-.26 1 0 .5 .26 .5-.26 .5 .26 .5-.26 .5 .26 2 0 .5 .26 .5-.26 1 0 .5-.26 .5 .26 1.5 0 .5 .26 .5-.26 .5 0 .5-.26 .5 .26 5.5 0 .5-.26 .5 0 .5 .26 .5-.26 1 0 .5 .26 2 0 .5 .26 1 0 .5 .27 1 0 .5-.27 .5 0 .5-.26 1.5 0 .5-.26 3.5 0 .5 .26 1 0 .5 .26 .5 0 .5-.26 2 0 .5 .26 .5-.26 .5 0 2.5 1.32 .5 0 .5-.27 .5 .27 1 0 2.5-1.32 .5 0 .5-.26 1 0 .5-.27 3.5 0 1 .53 .5 0 .5 .26 .5 0 .5-.26 1.5 0 .5 .53 .5 .26 .5 .53 3 0 3-1.58 1.5 0 1 .52 1.5 0 .5-.26 1 0 .5-.26 .5 .26 .5 0 .5-.26 .5 0 .5 .26 3 0 1 .53 .5 .52 3 0 .5 .27 1-.53 .5 0 .5-.53 .5-.26 .5 0 .5 .26 .5-.26 9 0 .5 .26 .5 0 .5 .27 3 0 .5-.53 .5 .26 .5 0 .5-.26 .5 0 .5 .26 .5-.26 2 0 .5 .26 2 0 .5-.26 .5 0 .5-.26 .5 0 .5-.27 2 0 1.5 .79 .5 .53 1.5 0 .5-.26 .5 .26 .5-.26 1 0 .5-.27 1.5 0 1-.52 .5 0 .5-.27 .5 .27 1 0 .5 .26 1 0 .5-.26 .5 0 .5 .26 2 0 .5 .26 1 0 .5-.26 .5 0 .5-.26 1 0 .5 .26 .5 0 .5 .26 .5 0 .5 .27 .5 0 1-.53 1 0 .5-.26 .5 .26 1.5 0 .5 .26 .5-.26 .5 .26 .5-.26 1 0 .5-.26 0 1.2-.5 .26-1 0-.5 .26-.5-.26-.5 .26-.5-.26-1.5 0-.5-.26-.5 .26-1 0-1 .53-.5 0-.5-.27-.5 0-.5-.26-.5 0-.5-.26-1 0-.5 .26-.5 0-.5 .26-1 0-.5-.26-2 0-.5-.26-.5 0-.5 .26-1 0-.5-.26-1 0-.5-.27-.5 .27-.5 0-1 .52-1.5 0-.5 .27-1 0-.5 .26-.5-.26-.5 .26-1.5 0-.5-.53-1.5-.79-2 0-.5 .27-.5 0-.5 .26-.5 0-.5 .26-2 0-.5-.26-2 0-.5 .26-.5-.26-.5 0-.5 .26-.5 0-.5-.26-.5 .53-3 0-.5-.27-.5 0-.5-.26-9 0-.5 .26-.5-.26-.5 0-.5 .26-.5 .53-.5 0-1 .53-.5-.27-3 0-.5-.52-1-.53-3 0-.5-.26-.5 0-.5 .26-.5 0-.5-.26-.5 .26-1 0-.5 .26-1.5 0-1-.52-1.5 0-3 1.58-3 0-.5-.53-.5-.26-.5-.53-1.5 0-.5 .26-.5 0-.5-.26-.5 0-1-.53-3.5 0-.5 .27-1 0-.5 .26-.5 0-2.5 1.32-1 0-.5-.27-.5 .27-.5 0-2.5-1.32-.5 0-.5 .26-.5-.26-2 0-.5 .26-.5 0-.5-.26-1 0-.5-.26-3.5 0-.5 .26-1.5 0-.5 .26-.5 0-.5 .27-1 0-.5-.27-1 0-.5-.26-2 0-.5-.26-1 0-.5 .26-.5-.26-.5 0-.5 .26-5.5 0-.5-.26-.5 .26-.5 0-.5 .26-.5-.26-1.5 0-.5-.26-.5 .26-1 0-.5 .26-.5-.26-2 0-.5-.26-.5 .26-.5-.26-.5 .26-.5-.26-1 0-.5 .26-.5-.26-.5 .52-.5 0-1-.52-.5 .26-.5-.26-.5 .26-.5 0-.5-.26-1 0-.5 .26-1.5 0-.5 .26-.5-.26-.5 0-.5 .26-.5-.26-1 0-.5-.26-2.5 0-.5 .26-4.5 0-.5 .26-.5-.26-.5 .26-.5-.26-2 0-.5 .26-.5 0-.5-.26-1.5 0-.5-.26-1 .52-.5-.26-4.5 0-.5-.26-1 0-.5 .26-.5-.26-.5 .26-2 0-.5-.26-.5 0-.5 .26-5 0-.5 .26-.5-.26-.5 0-.5 .26-.5-.26-.5 0-.5 .26-.5-.26-1.5 0-.5-.26-2 0-.5 .26-1 0-.5-.26-.5 0z" fill="#faebdd"/>
<path d="M30 356.71l3.5 0 .5-.27 .5 .27 3 0 .5 .26 1.5 0 .5-.26 2.5 0 .5-.27 .5 .27 1.5 0 .5 .26 .5-.26 2 0 .5-.27 .5 0 .5 .27 .5-.27 .5 .27 1 0 .5 .26 .5 0 .5-.26 .5 0 .5-.27 .5 0 .5 .27 5 0 .5-.27 .5 0 .5-.26 1 0 1 .53 .5 0 .5 .26 .5 0 .5-.26 1.5 0 .5-.27 .5 .27 .5 0 .5-.27 .5 0 .5 .27 7 0 .5-.27 .5 .27 2 0 .5-.27 3 0 1 .53 .5 0 .5-.26 1 0 .5-.27 4.5 0 1 .53 .5-.26 .5 0 .5-.27 .5 .27 .5-.27 .5 .27 1 0 .5-.27 1 0 .5 .27 .5-.27 2.5 0 .5 .27 1 0 .5-.27 4.5 0 .5 .27 1 0 .5-.27 1.5 0 .5 .27 1.5 0 .5-.27 .5 .27 .5-.27 2.5 0 .5 .27 2 0 .5-.53 .5 0 .5 .26 .5 0 1 .53 .5 0 .5-.53 .5 .27 .5-.27 .5 0 .5 .27 1 1.05 1 .53 .5-.27 .5 0 1.5-.79 .5 0 1-.52 1 0 .5-.27 .5 .27 1 0 .5 .26 2.5 0 .5-.26 .5 0 .5-.27 1 0 .5 .27 .5 0 .5 .26 1 0 .5-.26 1 .52 .5 .53 1 .53 1.5 0 2.5-1.32 .5 0 1-.53 3.5 0 .5 .27 .5 0 .5-.27 2.5 0 .5 .27 .5 0 .5-.27 2 0 .5 .27 .5 .52 1.5 .79 1 0 .5 .27 .5-.27 .5 0 1-.52 .5-.53 .5 0 1-.53 2 0 .5 .27 1.5 0 .5 .26 .5-.26 1.5 0 .5-.27 1 0 .5 .27 6.5 0 .5-.27 1.5 0 1 .53 1.5 0 1-.53 .5 0 .5 .27 .5-.27 .5 0 .5 .27 1.5 0 .5-.27 1 0 .5-.26 1 .53 .5 0 1 .52 3 0 .5-.26 .5 .26 .5-.26 .5 0 .5-.26 .5 0 .5-.27 .5 .27 .5-.27 .5 0 .5 .27 2.5 0 .5-.27 .5 0 .5 .27 1.5 0 .5-.27 3 0 .5-.26 1.5 .79 1 0 .5 .26 1.5 0 1-.52 2 0 .5 .26 .5-.26 .5 .26 .5 0 .5-.26 1.5 0 0 1.2-1.5 0-.5 .26-.5 0-.5-.26-.5 .26-.5-.26-2 0-1 .52-1.5 0-.5-.26-1 0-1.5-.79-.5 .26-3 0-.5 .27-1.5 0-.5-.27-.5 0-.5 .27-2.5 0-.5-.27-.5 0-.5 .27-.5-.27-.5 .27-.5 0-.5 .26-.5 0-.5 .26-.5-.26-.5 .26-3 0-1-.52-.5 0-1-.53-.5 .26-1 0-.5 .27-1.5 0-.5-.27-.5 0-.5 .27-.5-.27-.5 0-1 .53-1.5 0-1-.53-1.5 0-.5 .27-6.5 0-.5-.27-1 0-.5 .27-1.5 0-.5 .26-.5-.26-1.5 0-.5-.27-2 0-1 .53-.5 0-.5 .53-1 .52-.5 0-.5 .27-.5-.27-1 0-1.5-.79-.5-.52-.5-.27-2 0-.5 .27-.5 0-.5-.27-2.5 0-.5 .27-.5 0-.5-.27-3.5 0-1 .53-.5 0-2.5 1.32-1.5 0-1-.53-.5-.53-1-.52-.5 .26-1 0-.5-.26-.5 0-.5-.27-1 0-.5 .27-.5 0-.5 .26-2.5 0-.5-.26-1 0-.5-.27-.5 .27-1 0-1 .52-.5 0-1.5 .79-.5 0-.5 .27-1-.53-1-1.05-.5-.27-.5 0-.5 .27-.5-.27-.5 .53-.5 0-1-.53-.5 0-.5-.26-.5 0-.5 .53-2 0-.5-.27-2.5 0-.5 .27-.5-.27-.5 .27-1.5 0-.5-.27-1.5 0-.5 .27-1 0-.5-.27-4.5 0-.5 .27-1 0-.5-.27-2.5 0-.5 .27-.5-.27-1 0-.5 .27-1 0-.5-.27-.5 .27-.5-.27-.5 .27-.5 0-.5 .26-1-.53-4.5 0-.5 .27-1 0-.5 .26-.5 0-1-.53-3 0-.5 .27-2 0-.5-.27-.5 .27-7 0-.5-.27-.5 0-.5 .27-.5 0-.5-.27-.5 .27-1.5 0-.5 .26-.5 0-.5-.26-.5 0-1-.53-1 0-.5 .26-.5 0-.5 .27-5 0-.5-.27-.5 0-.5 .27-.5 0-.5 .26-.5 0-.5-.26-1 0-.5-.27-.5 .27-.5-.27-.5 0-.5 .27-2 0-.5 .26-.5-.26-1.5 0-.5-.27-.5 .27-2.5 0-.5 .26-1.5 0-.5-.26-3 0-.5-.27-.5 .27-3.5 0z" fill="#faebdd"/>
<path d="M30 350.65l1 0 .5-.27 .5 0 .5-.26 .5 .26 .5-.26 .5 .26 2.5 0 .5-.26 .5 .26 4 0 .5-.26 1 0 .5 .26 3.5 0 .5 .27 .5-.27 1.5 0 .5-.26 .5 0 .5 .26 .5-.26 .5 0 .5 .26 5 0 .5 .27 .5-.27 .5 .27 2.5 0 .5-.27 2 0 .5-.26 2 0 .5 .26 .5-.26 .5 .26 1.5 0 .5-.26 .5 0 .5-.26 .5 0 .5 .26 1 0 .5 .26 2.5 0 .5 .27 .5-.27 .5 .27 1 0 .5-.27 2 0 .5-.26 .5 .26 .5-.26 .5 .26 .5-.26 .5 .26 .5-.26 5.5 0 1 .53 1 0 .5 .26 .5-.26 1 0 .5-.27 .5 0 .5 .27 .5 0 .5-.27 .5 .27 .5 0 .5-.27 2 0 .5-.26 .5 .26 3.5 0 .5 .27 1 0 .5-.27 2 0 .5 .53 1 .53 .5-.27 1.5 0 .5-.26 .5 0 .5-.26 .5 0 .5-.27 1 0 .5 .27 .5 0 .5-.27 1 0 .5-.26 .5 0 .5 .26 1.5 0 .5 .27 1-.53 .5 .26 .5-.26 3.5 0 .5 .26 3 0 .5-.26 2.5 0 .5 .26 2 0 .5-.26 2 0 .5 .26 3 0 .5-.26 .5 0 1 .53 1 1.05 .5 .26 .5 0 .5-.26 1.5 0 3-1.58 .5 0 .5-.26 .5 .26 .5-.26 .5 .26 1 0 .5 .26 3.5 0 .5-.26 1.5 0 .5-.26 .5 .26 .5 0 .5 .26 .5 0 .5 .27 2.5 0 .5 .26 1 0 .5-.26 .5 0 .5-.27 4 0 .5-.26 .5 .26 .5 0 .5-.26 .5 0 .5 .26 5.5 0 .5 .27 .5-.27 1.5 0 .5 .27 .5-.27 1 0 1-.52 2 0 .5 .26 .5 0 .5-.26 .5 .26 1 0 .5-.26 .5 .26 3 0 .5 .26 7 0 .5-.26 3.5 0 .5 .26 2.5 0 .5-.26 .5 .26 .5-.26 .5 0 .5 .26 4 0 .5 .27 .5-.27 .5 .27 .5 0 .5-.27 1.5 0 .5-.26 1 .53 1-.53 1 0 .5-.26 .5 .26 1 0 .5 .26 .5-.26 .5 .26 1 0 0 1.2-1 0-.5-.26-.5 .26-.5-.26-1 0-.5-.26-.5 .26-1 0-1 .53-1-.53-.5 .26-1.5 0-.5 .27-.5 0-.5-.27-.5 .27-.5-.27-4 0-.5-.26-.5 0-.5 .26-.5-.26-.5 .26-2.5 0-.5-.26-3.5 0-.5 .26-7 0-.5-.26-3 0-.5-.26-.5 .26-1 0-.5-.26-.5 .26-.5 0-.5-.26-2 0-1 .52-1 0-.5 .27-.5-.27-1.5 0-.5 .27-.5-.27-5.5 0-.5-.26-.5 0-.5 .26-.5 0-.5-.26-.5 .26-4 0-.5 .27-.5 0-.5 .26-1 0-.5-.26-2.5 0-.5-.27-.5 0-.5-.26-.5 0-.5-.26-.5 .26-1.5 0-.5 .26-3.5 0-.5-.26-1 0-.5-.26-.5 .26-.5-.26-.5 .26-.5 0-3 1.58-1.5 0-.5 .26-.5 0-.5-.26-1-1.05-1-.53-.5 0-.5 .26-3 0-.5-.26-2 0-.5 .26-2 0-.5-.26-2.5 0-.5 .26-3 0-.5-.26-3.5 0-.5 .26-.5-.26-1 .53-.5-.27-1.5 0-.5-.26-.5 0-.5 .26-1 0-.5 .27-.5 0-.5-.27-1 0-.5 .27-.5 0-.5 .26-.5 0-.5 .26-1.5 0-.5 .27-1-.53-.5-.53-2 0-.5 .27-1 0-.5-.27-3.5 0-.5-.26-.5 .26-2 0-.5 .27-.5 0-.5-.27-.5 .27-.5 0-.5-.27-.5 0-.5 .27-1 0-.5 .26-.5-.26-1 0-1-.53-5.5 0-.5 .26-.5-.26-.5 .26-.5-.26-.5 .26-.5-.26-.5 .26-2 0-.5 .27-1 0-.5-.27-.5 .27-.5-.27-2.5 0-.5-.26-1 0-.5-.26-.5 0-.5 .26-.5 0-.5 .26-1.5 0-.5-.26-.5 .26-.5-.26-2 0-.5 .26-2 0-.5 .27-2.5 0-.5-.27-.5 .27-.5-.27-5 0-.5-.26-.5 0-.5 .26-.5-.26-.5 0-.5 .26-1.5 0-.5 .27-.5-.27-3.5 0-.5-.26-1 0-.5 .26-4 0-.5-.26-.5 .26-2.5 0-.5-.26-.5 .26-.5-.26-.5 .26-.5 0-.5 .27-1 0z" fill="#faebdd"/>
<path d="M30 343.53l.5 .26 .5 0 .5-.26 1 0 .5 .26 .5-.26 1 .53 3 0 .5 .26 .5-.26 .5 0 .5-.27 2 0 .5 .27 .5-.27 1.5 0 .5-.26 .5 .26 4.5 0 .5 .27 1 0 .5-.27 2.5 0 .5 .27 .5 0 1.5 1.58 1 0 .5-.26 .5 0 1.5-.8 .5 0 .5-.26 .5 0 .5-.53 4 0 .5 .27 2 0 .5-.27 .5 .27 1 0 .5-.27 .5 .27 .5-.27 4 0 .5 .27 .5-.27 3 0 .5 .27 .5-.27 2.5 0 .5-.26 .5 .26 1 0 1 .53 1-.53 3 0 1 1.06 .5 .26 .5 0 .5 .27 .5-.27 1.5 0 2.5-1.32 2.5 0 .5 .27 .5-.27 4 0 .5 .27 3 0 .5 .52 1 .53 .5 0 .5 .27 1 0 1-.53 .5 0 2-1.06 .5 0 .5-.26 .5 0 .5 .26 1 0 .5 .27 2 0 .5-.27 1 0 .5-.26 1 0 .5 .26 1.5 0 .5 .27 1 0 .5 .26 .5 0 .5 .26 1 0 1-.52 .5 0 .5-.27 5.5 0 .5-.26 .5 0 .5 .26 .5-.26 .5 .26 .5 0 .5 .27 .5-.27 1.5 0 .5-.26 1.5 1.58 .5 .27 .5-.27 .5 0 .5-.26 1.5 0 .5-.27 .5 0 2-1.05 .5 0 .5 .26 .5-.26 .5 .26 9.5 0 1.5 .79 2.5 0 .5-.26 1.5 0 1-.53 .5 0 .5 .27 1 0 .5 .26 1-.53 1 0 .5 .27 .5-.27 1 0 .5-.26 .5 0 .5 .26 1 0 .5 .27 1.5 0 .5-.27 6 0 .5 .27 .5-.27 2 0 .5 .27 5.5 0 .5 .26 .5 0 .5-.26 3.5 0 .5-.27 .5 .27 .5 0 .5-.27 2 0 .5 .27 .5 0 .5-.27 .5 .27 1.5 0 .5 .26 1-.53 .5 .27 .5 0 .5-.27 .5 .27 .5 0 .5-.27 1 0 .5-.26 .5 .26 .5-.26 .5 .26 1.5 0 .5 .27 2.5 0 .5 .26 .5-.26 1.5 0 .5-.27 .5 .27 2 0 .5-.27 1 0 .5 .27 .5 0 0 1.2-.5 0-.5-.27-1 0-.5 .27-2 0-.5-.27-.5 .27-1.5 0-.5 .26-.5-.26-2.5 0-.5-.27-1.5 0-.5-.26-.5 .26-.5-.26-.5 .26-1 0-.5 .27-.5 0-.5-.27-.5 .27-.5 0-.5-.27-1 .53-.5-.26-1.5 0-.5-.27-.5 .27-.5 0-.5-.27-2 0-.5 .27-.5 0-.5-.27-.5 .27-3.5 0-.5 .26-.5 0-.5-.26-5.5 0-.5-.27-2 0-.5 .27-.5-.27-6 0-.5 .27-1.5 0-.5-.27-1 0-.5-.26-.5 0-.5 .26-1 0-.5 .27-.5-.27-1 0-1 .53-.5-.26-1 0-.5-.27-.5 0-1 .53-1.5 0-.5 .26-2.5 0-1.5-.79-9.5 0-.5-.26-.5 .26-.5-.26-.5 0-2 1.05-.5 0-.5 .27-1.5 0-.5 .26-.5 0-.5 .27-.5-.27-1.5-1.58-.5 .26-1.5 0-.5 .27-.5-.27-.5 0-.5-.26-.5 .26-.5-.26-.5 0-.5 .26-5.5 0-.5 .27-.5 0-1 .52-1 0-.5-.26-.5 0-.5-.26-1 0-.5-.27-1.5 0-.5-.26-1 0-.5 .26-1 0-.5 .27-2 0-.5-.27-1 0-.5-.26-.5 0-.5 .26-.5 0-2 1.06-.5 0-1 .53-1 0-.5-.27-.5 0-1-.53-.5-.52-3 0-.5-.27-4 0-.5 .27-.5-.27-2.5 0-2.5 1.32-1.5 0-.5 .27-.5-.27-.5 0-.5-.26-1-1.06-3 0-1 .53-1-.53-1 0-.5-.26-.5 .26-2.5 0-.5 .27-.5-.27-3 0-.5 .27-.5-.27-4 0-.5 .27-.5-.27-.5 .27-1 0-.5-.27-.5 .27-2 0-.5-.27-4 0-.5 .53-.5 0-.5 .26-.5 0-1.5 .8-.5 0-.5 .26-1 0-1.5-1.58-.5 0-.5-.27-2.5 0-.5 .27-1 0-.5-.27-4.5 0-.5-.26-.5 .26-1.5 0-.5 .27-.5-.27-2 0-.5 .27-.5 0-.5 .26-.5-.26-3 0-1-.53-.5 .26-.5-.26-1 0-.5 .26-.5 0-.5-.26z" fill="#faebdd"/>
<path d="M30 337.21l1.5 0 .5 .52 .5-.26 .5 .26 .5-.26 .5 0 .5-.26 .5 0 .5 .26 1 0 .5-.26 1 0 .5 .26 1 0 .5 .26 .5 0 .5 .27 .5-.27 .5 .27 .5-.27 1 0 .5-.26 .5 .26 .5-.26 1 0 .5 .26 3.5 0 .5-.26 1 0 .5 .26 1.5 0 .5-.26 1 0 .5 .26 .5-.26 .5 .26 .5 0 .5-.26 2.5 0 .5-.26 1.5 0 .5 .26 2 0 .5-.26 .5 .26 .5 0 .5 .26 1.5 0 .5-.26 2 0 .5 .26 1 0 .5-.26 1.5 0 .5 .26 1 0 .5 .27 1 0 .5-.27 1 0 .5-.26 1 0 .5 .26 2 0 .5-.26 .5 0 .5 .26 2.5 0 .5-.26 3.5 0 .5 .53 .5 .26 .5 .53 2 0 .5-.27 1 0 .5-.26 .5-.53 .5 0 .5-.26 2.5 0 .5 .26 .5-.26 .5 0 .5-.26 1.5 0 .5 .26 1.5 0 .5-.26 .5 0 .5 .26 1 0 1 1.05 1 .53 1 0 .5-.26 1.5 0 1.5-.79 .5 0 .5-.27 1.5 0 .5-.26 .5 0 .5-.26 2 0 .5 .26 3.5 0 .5 .26 1 0 .5 .27 1 0 .5-.27 2.5 0 .5-.26 1.5 0 .5-.26 .5 .26 4.5 0 .5-.26 2 0 .5 .26 3 0 .5 .26 .5 0 .5 .27 .5 0 .5-.27 .5 0 .5 .27 .5-.27 1 0 .5-.26 2 0 .5 .26 1 0 .5-.26 .5 .26 .5-.26 4.5 0 .5-.26 2.5 0 1 .52 .5 0 .5 .27 4.5 0 .5-.27 1 0 .5-.26 .5 0 .5 .26 .5 0 .5-.26 .5 0 .5-.26 3 0 .5 .26 7 0 .5 .26 .5 0 .5-.26 3 0 .5-.26 1 0 1 .52 .5-.26 .5 .26 .5 0 .5-.26 1.5 0 .5-.26 1.5 0 1 .52 2.5 0 .5-.26 .5 0 .5 .26 1.5 0 .5 .27 1 0 .5-.27 .5 0 .5-.26 1 0 .5 .26 1 0 .5-.26 4 0 .5 .26 1 0 .5-.26 2 0 1 .53 .5-.27 .5 0 .5 .27 .5-.27 3 0 .5-.26 .5 .26 .5-.26 3 0 .5-.26 .5 .26 .5-.26 0 1.2-.5 .26-.5-.26-.5 .26-3 0-.5 .26-.5-.26-.5 .26-3 0-.5 .27-.5-.27-.5 0-.5 .27-1-.53-2 0-.5 .26-1 0-.5-.26-4 0-.5 .26-1 0-.5-.26-1 0-.5 .26-.5 0-.5 .27-1 0-.5-.27-1.5 0-.5-.26-.5 0-.5 .26-2.5 0-1-.52-1.5 0-.5 .26-1.5 0-.5 .26-.5 0-.5-.26-.5 .26-1-.52-1 0-.5 .26-3 0-.5 .26-.5 0-.5-.26-7 0-.5-.26-3 0-.5 .26-.5 0-.5 .26-.5 0-.5-.26-.5 0-.5 .26-1 0-.5 .27-4.5 0-.5-.27-.5 0-1-.52-2.5 0-.5 .26-4.5 0-.5 .26-.5-.26-.5 .26-1 0-.5-.26-2 0-.5 .26-1 0-.5 .27-.5-.27-.5 0-.5 .27-.5 0-.5-.27-.5 0-.5-.26-3 0-.5-.26-2 0-.5 .26-4.5 0-.5-.26-.5 .26-1.5 0-.5 .26-2.5 0-.5 .27-1 0-.5-.27-1 0-.5-.26-3.5 0-.5-.26-2 0-.5 .26-.5 0-.5 .26-1.5 0-.5 .27-.5 0-1.5 .79-1.5 0-.5 .26-1 0-1-.53-1-1.05-1 0-.5-.26-.5 0-.5 .26-1.5 0-.5-.26-1.5 0-.5 .26-.5 0-.5 .26-.5-.26-2.5 0-.5 .26-.5 0-.5 .53-.5 .26-1 0-.5 .27-2 0-.5-.53-.5-.26-.5-.53-3.5 0-.5 .26-2.5 0-.5-.26-.5 0-.5 .26-2 0-.5-.26-1 0-.5 .26-1 0-.5 .27-1 0-.5-.27-1 0-.5-.26-1.5 0-.5 .26-1 0-.5-.26-2 0-.5 .26-1.5 0-.5-.26-.5 0-.5-.26-.5 .26-2 0-.5-.26-1.5 0-.5 .26-2.5 0-.5 .26-.5 0-.5-.26-.5 .26-.5-.26-1 0-.5 .26-1.5 0-.5-.26-1 0-.5 .26-3.5 0-.5-.26-1 0-.5 .26-.5-.26-.5 .26-1 0-.5 .27-.5-.27-.5 .27-.5-.27-.5 0-.5-.26-1 0-.5-.26-1 0-.5 .26-1 0-.5-.26-.5 0-.5 .26-.5 0-.5 .26-.5-.26-.5 .26-.5-.52-1.5 0z" fill="#faebdd"/>
<path d="M30 331.41l.5-.26 .5 0 .5 .26 .5 0 .5-.26 .5 .26 .5-.26 1.5 0 .5-.27 .5 .27 .5 0 .5-.27 1 .53 .5-.26 .5 .26 .5 0 .5 .26 1.5 0 .5-.26 .5 0 1-.53 2.5 0 .5 .27 .5 0 .5 .26 1.5 0 .5-.26 .5 0 .5-.27 1.5 0 .5 .27 1.5 0 .5 .26 .5-.26 .5 .26 .5 0 .5-.26 2 0 .5 .26 1.5 0 .5 .26 1 0 .5-.26 1 0 .5-.26 3.5 0 .5 .26 .5-.26 5 0 .5 .26 4 0 1-.53 2 0 .5 .27 1 0 .5 .26 4 0 .5-.26 2.5 0 1 .52 .5 .53 1 .53 .5-.27 1.5 0 .5-.26 .5 0 1-.53 .5 0 .5-.26 3 0 .5-.26 .5 .26 .5-.26 2 0 .5-.27 .5 0 .5 .27 2.5 0 .5 .26 .5 .53 1 .52 3 0 2-1.05 2 0 1-.53 2 0 .5 .27 .5 0 .5-.27 2.5 0 .5 .27 .5 0 .5 .26 .5 0 .5 .26 .5 .53 1 .53 1.5 0 .5-.27 .5 0 .5-.52 .5 0 1.5-.79 4.5 0 .5 .26 .5-.26 1.5 0 .5-.27 .5 .27 2.5 0 1 .52 1 0 .5-.26 1 0 .5-.26 1 0 .5 .26 .5-.26 5.5 0 .5 .26 .5-.26 .5 0 .5-.27 .5 .27 1.5 0 .5 .26 .5-.26 .5 0 .5-.27 1 0 .5 .27 .5 0 .5 .26 2 0 .5-.26 .5 0 .5 .26 .5-.26 .5 .26 1 0 .5-.26 .5 .26 .5-.26 4 0 .5 .26 .5-.26 .5 .26 .5-.26 1 0 .5-.27 1 0 .5 .27 2 0 .5 .26 1 0 .5-.26 2.5 0 .5 .26 .5 0 .5-.26 1 0 .5-.27 3 0 .5 .27 .5 0 .5-.27 .5 .27 2.5 0 .5-.27 1 0 1 .53 .5 .53 .5 .26 1.5 0 .5-.26 .5 0 .5-.27 .5 0 1-.52 .5 0 .5-.27 2.5 0 .5 .27 2.5 0 .5 .26 .5-.26 2.5 0 .5-.27 1.5 0 .5 .27 .5 0 .5 .26 .5 0 .5 .26 .5-.26 .5 .26 1.5 0 1-.52 4 0 .5-.27 1.5 0 .5 .27 0 1.2-.5-.27-1.5 0-.5 .27-4 0-1 .52-1.5 0-.5-.26-.5 .26-.5-.26-.5 0-.5-.26-.5 0-.5-.27-1.5 0-.5 .27-2.5 0-.5 .26-.5-.26-2.5 0-.5-.27-2.5 0-.5 .27-.5 0-1 .52-.5 0-.5 .27-.5 0-.5 .26-1.5 0-.5-.26-.5-.53-1-.53-1 0-.5 .27-2.5 0-.5-.27-.5 .27-.5 0-.5-.27-3 0-.5 .27-1 0-.5 .26-.5 0-.5-.26-2.5 0-.5 .26-1 0-.5-.26-2 0-.5-.27-1 0-.5 .27-1 0-.5 .26-.5-.26-.5 .26-.5-.26-4 0-.5 .26-.5-.26-.5 .26-1 0-.5-.26-.5 .26-.5-.26-.5 0-.5 .26-2 0-.5-.26-.5 0-.5-.27-1 0-.5 .27-.5 0-.5 .26-.5-.26-1.5 0-.5-.27-.5 .27-.5 0-.5 .26-.5-.26-5.5 0-.5 .26-.5-.26-1 0-.5 .26-1 0-.5 .26-1 0-1-.52-2.5 0-.5-.27-.5 .27-1.5 0-.5 .26-.5-.26-4.5 0-1.5 .79-.5 0-.5 .52-.5 0-.5 .27-1.5 0-1-.53-.5-.53-.5-.26-.5 0-.5-.26-.5 0-.5-.27-2.5 0-.5 .27-.5 0-.5-.27-2 0-1 .53-2 0-2 1.05-3 0-1-.52-.5-.53-.5-.26-2.5 0-.5-.27-.5 0-.5 .27-2 0-.5 .26-.5-.26-.5 .26-3 0-.5 .26-.5 0-1 .53-.5 0-.5 .26-1.5 0-.5 .27-1-.53-.5-.53-1-.52-2.5 0-.5 .26-4 0-.5-.26-1 0-.5-.27-2 0-1 .53-4 0-.5-.26-5 0-.5 .26-.5-.26-3.5 0-.5 .26-1 0-.5 .26-1 0-.5-.26-1.5 0-.5-.26-2 0-.5 .26-.5 0-.5-.26-.5 .26-.5-.26-1.5 0-.5-.27-1.5 0-.5 .27-.5 0-.5 .26-1.5 0-.5-.26-.5 0-.5-.27-2.5 0-1 .53-.5 0-.5 .26-1.5 0-.5-.26-.5 0-.5-.26-.5 .26-1-.53-.5 .27-.5 0-.5-.27-.5 .27-1.5 0-.5 .26-.5-.26-.5 .26-.5 0-.5-.26-.5 0-.5 .26z" fill="#faebdd"/>
<path d="M30 324.56l1.5 0 .5 .26 .5 0 .5 .27 .5-.27 1.5 0 .5-.26 1.5 0 .5 .26 .5 0 .5 .27 .5-.27 7.5 0 .5-.26 1 0 .5-.26 .5 .26 1 0 .5 .26 .5-.26 .5 .26 .5 0 .5-.26 .5 0 .5 .26 .5-.26 .5 .26 .5 0 .5 .27 .5 0 .5 .26 1 0 .5-.26 7 0 .5-.27 .5 0 .5-.26 .5 .26 3 0 .5-.26 .5 .26 1.5 0 .5 .27 2.5 0 .5 .26 .5-.26 1 0 1-.53 .5 .26 .5 0 .5-.26 .5 0 .5 .53 2 0 .5-.27 .5 0 .5-.26 .5 .26 .5-.26 .5 .26 1.5 0 .5-.26 .5 .26 .5-.26 1.5 0 1.5 .79 .5 0 .5 .26 .5 0 .5 .27 .5-.27 .5 .27 1-.53 1.5 0 1-.53 1.5 0 .5 .27 2.5 0 .5-.27 .5 .27 .5 0 .5-.27 1 0 .5-.26 .5 0 .5 .26 .5 0 .5 .27 1 1.05 2 0 .5 .26 1-.52 .5 0 .5-.27 .5-.52 .5-.27 1 0 .5-.26 .5 0 .5 .26 .5-.26 1 .53 .5-.27 .5 0 .5 .27 .5-.27 2 0 .5 .27 .5-.27 1.5 0 2 1.06 1.5 0 .5 .26 1 0 2-1.05 .5 0 .5-.27 1 0 1-.52 .5 .26 .5-.26 1 .52 1.5 0 .5-.26 .5 0 .5 .26 2.5 0 .5-.26 .5 .26 .5-.26 .5 .26 1.5 0 .5 .27 2 0 .5-.27 1 0 .5-.26 2 0 .5 .26 1.5 0 .5-.26 1.5 0 .5 .26 .5-.26 .5 .26 1 0 .5-.26 1 .53 .5-.27 .5 .27 .5-.27 5.5 0 .5-.26 .5 .26 3 0 .5-.26 2 0 .5 .26 2.5 0 .5-.26 .5 .26 .5-.26 .5 .26 2 0 .5 .27 .5 0 .5-.27 .5 0 .5 .27 .5-.27 .5 .27 1 0 .5-.27 1.5 0 .5-.26 .5 .26 .5-.26 1 0 .5 .26 .5-.26 .5 0 .5 .26 .5 0 .5-.26 .5 .26 .5-.26 .5 0 .5 .26 2.5 0 2 1.06 1 0 .5-.27 1 0 .5-.26 1 0 1.5-.79 .5 0 .5 .26 .5-.26 .5 .26 1.5 0 1 .53 .5-.26 1 0 .5-.27 3 0 .5-.26 2 0 1 .53 1 0 .5 .26 3 0 .5-.26 .5 0 1-.53 2 0 .5 .26 1.5 0 0 1.2-1.5 0-.5-.26-2 0-1 .53-.5 0-.5 .26-3 0-.5-.26-1 0-1-.53-2 0-.5 .26-3 0-.5 .27-1 0-.5 .26-1-.53-1.5 0-.5-.26-.5 .26-.5-.26-.5 0-1.5 .79-1 0-.5 .26-1 0-.5 .27-1 0-2-1.06-2.5 0-.5-.26-.5 0-.5 .26-.5-.26-.5 .26-.5 0-.5-.26-.5 0-.5 .26-.5-.26-1 0-.5 .26-.5-.26-.5 .26-1.5 0-.5 .27-1 0-.5-.27-.5 .27-.5-.27-.5 0-.5 .27-.5 0-.5-.27-2 0-.5-.26-.5 .26-.5-.26-.5 .26-2.5 0-.5-.26-2 0-.5 .26-3 0-.5-.26-.5 .26-5.5 0-.5 .27-.5-.27-.5 .27-1-.53-.5 .26-1 0-.5-.26-.5 .26-.5-.26-1.5 0-.5 .26-1.5 0-.5-.26-2 0-.5 .26-1 0-.5 .27-2 0-.5-.27-1.5 0-.5-.26-.5 .26-.5-.26-.5 .26-2.5 0-.5-.26-.5 0-.5 .26-1.5 0-1-.52-.5 .26-.5-.26-1 .52-1 0-.5 .27-.5 0-2 1.05-1 0-.5-.26-1.5 0-2-1.06-1.5 0-.5 .27-.5-.27-2 0-.5 .27-.5-.27-.5 0-.5 .27-1-.53-.5 .26-.5-.26-.5 0-.5 .26-1 0-.5 .27-.5 .52-.5 .27-.5 0-1 .52-.5-.26-2 0-1-1.05-.5-.27-.5 0-.5-.26-.5 0-.5 .26-1 0-.5 .27-.5 0-.5-.27-.5 .27-2.5 0-.5-.27-1.5 0-1 .53-1.5 0-1 .53-.5-.27-.5 .27-.5-.27-.5 0-.5-.26-.5 0-1.5-.79-1.5 0-.5 .26-.5-.26-.5 .26-1.5 0-.5-.26-.5 .26-.5-.26-.5 .26-.5 0-.5 .27-2 0-.5-.53-.5 0-.5 .26-.5 0-.5-.26-1 .53-1 0-.5 .26-.5-.26-2.5 0-.5-.27-1.5 0-.5-.26-.5 .26-3 0-.5-.26-.5 .26-.5 0-.5 .27-7 0-.5 .26-1 0-.5-.26-.5 0-.5-.27-.5 0-.5-.26-.5 .26-.5-.26-.5 0-.5 .26-.5 0-.5-.26-.5 .26-.5-.26-1 0-.5-.26-.5 .26-1 0-.5 .26-7.5 0-.5 .27-.5-.27-.5 0-.5-.26-1.5 0-.5 .26-1.5 0-.5 .27-.5-.27-.5 0-.5-.26-1.5 0z" fill="#faebdd"/>
</g>
<text x="22.5" y="325.9" font-size="5.7" text-anchor="middle" fill="#000">576</text>
<text x="22.5" y="351" font-size="5.7" text-anchor="middle" fill="#000">480</text>
<text x="22.5" y="375.7" font-size="5.7" text-anchor="middle" fill="#000">384</text>
<text x="22.5" y="400.7" font-size="5.7" text-anchor="middle" fill="#000">288</text>
<text x="22.5" y="425.4" font-size="5.7" text-anchor="middle" fill="#000">192</text>
<text x="22.5" y="450.6" font-size="5.7" text-anchor="middle" fill="#000">96</text>
<text x="22.5" y="474.4" font-size="5.7" text-anchor="middle" fill="#000">1</text>
<text x="31.8" y="482.5" font-size="5.5" text-anchor="middle" fill="#000">0</text>
<text x="50.2" y="482.5" font-size="5.5" text-anchor="middle" fill="#000">1</text>
<text x="68.6" y="482.5" font-size="5.5" text-anchor="middle" fill="#000">2</text>
<text x="87" y="482.5" font-size="5.5" text-anchor="middle" fill="#000">3</text>
<text x="105.4" y="482.5" font-size="5.5" text-anchor="middle" fill="#000">4</text>
<text x="123.8" y="482.5" font-size="5.5" text-anchor="middle" fill="#000">5</text>
<text x="142.2" y="482.5" font-size="5.5" text-anchor="middle" fill="#000">6</text>
<text x="160.6" y="482.5" font-size="5.5" text-anchor="middle" fill="#000">7</text>
<text x="179" y="482.5" font-size="5.5" text-anchor="middle" fill="#000">8</text>
<text x="197.4" y="482.5" font-size="5.5" text-anchor="middle" fill="#000">9</text>
<text x="215.8" y="482.5" font-size="5.5" text-anchor="middle" fill="#000">10</text>
<text x="129" y="493.6" font-size="7.6" text-anchor="middle" fill="#000">Time(s)</text>
<rect x="233.05" y="321.85" width="60.6" height="152.3" fill="#03051a" stroke="#ff0000" stroke-width="1.7"/>
<polygon points="233.4,357.9 237,357.3 239.7,352.6 242.7,345.9 245.6,340 248.6,335.9 250.5,335.3 261,335.3 263.3,336.9 269.2,337.3 272.1,340 276.5,346.6 281,352.6 285.4,357 289.8,358 293.7,358.4 293.7,368.2 289.8,367.8 285.4,366.8 281,362.4 276.5,356.4 272.1,349.8 269.2,347.1 263.3,346.7 261,345.1 250.5,345.1 248.6,345.7 245.6,349.8 242.7,355.7 239.7,362.4 237,367.1 233.4,367.7" fill="#faebdd"/>
<polygon points="233.4,399.73 237,399.1 239.7,394.17 242.7,387.13 245.6,380.94 248.6,376.63 250.5,376 261,376 263.3,377.68 269.2,378.1 272.1,380.94 276.5,387.87 281,394.17 285.4,398.78 289.8,399.83 293.7,400.25 293.7,410.05 289.8,409.63 285.4,408.58 281,403.97 276.5,397.67 272.1,390.74 269.2,387.9 263.3,387.48 261,385.8 250.5,385.8 248.6,386.43 245.6,390.74 242.7,396.93 239.7,403.97 237,408.9 233.4,409.53" fill="#faebdd"/>
<polygon points="233.4,448.82 237,448.17 239.7,443.07 242.7,435.8 245.6,429.4 248.6,424.95 250.5,424.3 261,424.3 263.3,426.04 269.2,426.47 272.1,429.4 276.5,436.56 281,443.07 285.4,447.84 289.8,448.93 293.7,449.36 293.7,459.16 289.8,458.73 285.4,457.64 281,452.87 276.5,446.36 272.1,439.2 269.2,436.27 263.3,435.84 261,434.1 250.5,434.1 248.6,434.75 245.6,439.2 242.7,445.6 239.7,452.87 237,457.97 233.4,458.62" fill="#faebdd"/>
<rect x="158.7" y="442.7" width="15.9" height="20.2" fill="none" stroke="#e63a3c" stroke-width="1.6"/>
<line x1="175.2" y1="442.2" x2="232.4" y2="324.6" stroke="#ff0000" stroke-width="1.3" stroke-dasharray="7.3 3.6"/>
<line x1="175.2" y1="462.8" x2="232.9" y2="474.7" stroke="#ff0000" stroke-width="1.3" stroke-dasharray="7.3 3.6"/>
<line x1="287.6" y1="478.1" x2="293.9" y2="478.1" stroke="#000" stroke-width="1.2"/>
<text x="289.8" y="488.6" font-size="8.1" text-anchor="middle" fill="#000">50 ms</text>
</g>
<g id="panel-f">
<text x="304.4" y="326" font-size="10.5" font-weight="bold" text-anchor="start" fill="#000">f.</text>
<text x="435.7" y="321.4" font-size="8.67" font-weight="bold" text-anchor="middle" fill="#000">Encoded spike envelope of neural data</text>
<text x="311" y="398.7" font-size="8" text-anchor="middle" fill="#000" transform="rotate(-90 311 398.7)">Spike encoded input</text>
<rect x="328" y="323.7" width="212.6" height="152.3" fill="#03051a"/>
<clipPath id="clipF0"><rect x="328" y="323.7" width="212.6" height="152.3"/></clipPath><g clip-path="url(#clipF0)">
<path d="M328 475.92l77.6 0 2-.91 1.6-.88 4 1.51 1.2 .28 30.8 0 .4-.05 1.6-1.15 1.2-1.01 .4 .12 3.2 1.66 .8 .34 .8 .09 86.8 0 0 1.36-86.8 0-.8-.1-.8-.34-3.2-1.66-.4-.12-1.2 1.01-1.6 1.15-.4 .06-30.8 0-1.2-.29-4-1.51-1.6 .88-2 .92-77.6 0z" fill="#faebdd"/>
<path d="M328 470.72l78 0 .4-.17 1.6-1.26 1.6-1.47 .4 .11 3.2 2.04 1.2 .64 .4 .11 30.4 0 .4-.16 1.2-1.42 1.6-2.21 2.8 2.5 1.6 1.19 .4 .1 87.2 0 0 1.36-87.2 0-.4-.11-1.6-1.19-2.8-2.5-1.6 2.21-1.2 1.42-.4 .17-30.4 0-.4-.12-1.2-.64-3.2-2.04-.4-.11-1.6 1.47-1.6 1.26-.4 .18-78 0z" fill="#faebdd"/>
<path d="M328 465.58l78.4 0 .4-.11 1.6-1.24 1.6-1.46 .4-.05 3.2 2.05 1.6 .81 30 0 .4-.25 1.2-1.44 1.2-1.65 .4-.39 2.8 2.5 1.6 1.17 2.8 .06 84.8 0 0 1.35-84.8 0-2.8-.06-1.6-1.17-2.8-2.5-.4 .39-1.2 1.65-1.2 1.44-.4 .25-30 0-1.6-.81-3.2-2.05-.4 .05-1.6 1.46-1.6 1.24-.4 .11-78.4 0z" fill="#faebdd"/>
<path d="M328 460.43l79.2-.05 1.6-1.21 1.6-1.45 .4-.22 3.2 2.06 1.6 .84 29.6 .03 .4-.33 1.2-1.46 1.2-1.66 .4-.2 2.8 2.49 1.2 .91 .4 .23 87.6 .02 0 1.35-87.6-.02-.4-.23-1.2-.91-2.8-2.49-.4 .2-1.2 1.66-1.2 1.46-.4 .33-29.6-.03-1.6-.84-3.2-2.06-.4 .22-1.6 1.45-1.6 1.21-79.2 .05z" fill="#faebdd"/>
<path d="M328 455.28l79.6 0 1.2-.84 2.4-2.16 3.2 2.08 1.6 .85 1.2 .07 28-.02 .8-.86 1.6-2.11 .4-.57 .4-.01 2.8 2.48 1.2 .89 .4 .2 87.6 0 0 1.35-87.6 0-.4-.2-1.2-.89-2.8-2.48-.4 .01-.4 .57-1.6 2.11-.8 .86-28 .02-1.2-.07-1.6-.85-3.2-2.08-2.4 2.16-1.2 .84-79.6 0z" fill="#faebdd"/>
<path d="M328 450.14l80 0 .4-.18 1.6-1.26 1.6-1.47 .4 .11 3.2 2.05 1.2 .63 .4 .12 28 0 .4-.1 1.2-1.38 1.6-2.21 .4 .19 2.8 2.47 1.2 .87 .4 .16 87.6 0 0 1.35-87.6 0-.4-.16-1.2-.87-2.8-2.47-.4-.19-1.6 2.21-1.2 1.38-.4 .1-28 0-.4-.12-1.2-.63-3.2-2.05-.4-.11-1.6 1.47-1.6 1.26-.4 .18-80 0z" fill="#faebdd"/>
<path d="M328 444.99l80.4 0 .4-.11 1.6-1.24 1.6-1.46 .4-.05 3.2 2.05 1.6 .81 27.6 0 .4-.17 1.2-1.41 1.6-2.22 2.8 2.51 1.6 1.19 .4 .1 87.6 0 0 1.35-87.6 0-.4-.1-1.6-1.19-2.8-2.51-1.6 2.22-1.2 1.41-.4 .17-27.6 0-1.6-.81-3.2-2.05-.4 .05-1.6 1.46-1.6 1.24-.4 .11-80.4 0z" fill="#faebdd"/>
<path d="M328 439.84l81.2-.05 1.6-1.21 1.6-1.45 .4-.22 3.2 2.07 1.6 .83 27.2 .03 .4-.25 1.2-1.43 1.2-1.65 .4-.39 2.8 2.5 1.6 1.17 2.8 .05 85.2 0 0 1.35-85.2 0-2.8-.05-1.6-1.17-2.8-2.5-.4 .39-1.2 1.65-1.2 1.43-.4 .25-27.2-.03-1.6-.83-3.2-2.07-.4 .22-1.6 1.45-1.6 1.21-81.2 .05z" fill="#faebdd"/>
<path d="M328 434.7l81.6 0 1.2-.85 2.4-2.15 3.2 2.07 1.6 .85 1.2 .08 25.6 0 .4-.34 1.2-1.46 1.2-1.66 .4-.19 2.8 2.49 1.2 .9 .4 .24 88 .02 0 1.35-88-.02-.4-.24-1.2-.9-2.8-2.49-.4 .19-1.2 1.66-1.2 1.46-.4 .34-25.6 0-1.2-.08-1.6-.85-3.2-2.07-2.4 2.15-1.2 .85-81.6 0z" fill="#faebdd"/>
<path d="M328 429.55l82 0 .4-.17 1.6-1.27 1.6-1.47 .4 .12 3.2 2.04 1.2 .63 .4 .12 26-.03 .8-.85 1.6-2.12 .4-.57 .4 0 2.8 2.47 1.2 .9 .4 .2 88 0 0 1.35-88 0-.4-.2-1.2-.9-2.8-2.47-.4 0-.4 .57-1.6 2.12-.8 .85-26 .03-.4-.12-1.2-.63-3.2-2.04-.4-.12-1.6 1.47-1.6 1.27-.4 .17-82 0z" fill="#faebdd"/>
<path d="M328 424.4l82.4 0 .4-.11 1.6-1.24 1.6-1.46 .4-.05 3.2 2.05 1.6 .81 25.2 0 .4-.09 1.2-1.39 1.6-2.2 .4 .18 2.8 2.47 1.2 .88 .4 .15 88 0 0 1.35-88 0-.4-.15-1.2-.88-2.8-2.47-.4-.18-1.6 2.2-1.2 1.39-.4 .09-25.2 0-1.6-.81-3.2-2.05-.4 .05-1.6 1.46-1.6 1.24-.4 .11-82.4 0z" fill="#faebdd"/>
<path d="M328 419.25l83.2-.04 1.6-1.22 1.6-1.45 .4-.22 3.2 2.07 1.6 .83 24.8 .03 .4-.16 1.2-1.42 1.6-2.21 2.8 2.5 1.6 1.19 .4 .1 88 0 0 1.35-88 0-.4-.1-1.6-1.19-2.8-2.5-1.6 2.21-1.2 1.42-.4 .16-24.8-.03-1.6-.83-3.2-2.07-.4 .22-1.6 1.45-1.6 1.22-83.2 .04z" fill="#faebdd"/>
<path d="M328 414.11l83.6 0 1.2-.85 2.4-2.15 3.2 2.07 1.6 .85 1.2 .08 23.2 0 .4-.25 1.2-1.44 1.2-1.65 .4-.39 2.8 2.5 1.6 1.17 2.8 .06 85.6 0 0 1.35-85.6 0-2.8-.06-1.6-1.17-2.8-2.5-.4 .39-1.2 1.65-1.2 1.44-.4 .25-23.2 0-1.2-.08-1.6-.85-3.2-2.07-2.4 2.15-1.2 .85-83.6 0z" fill="#faebdd"/>
<path d="M328 408.96l84 0 .4-.17 1.6-1.27 1.6-1.46 .4 .11 3.2 2.04 1.2 .63 .4 .12 23.6 0 .4-.33 1.2-1.46 1.2-1.66 .4-.2 2.8 2.49 1.2 .91 .4 .23 88.4 .02 0 1.35-88.4-.02-.4-.23-1.2-.91-2.8-2.49-.4 .2-1.2 1.66-1.2 1.46-.4 .33-23.6 0-.4-.12-1.2-.63-3.2-2.04-.4-.11-1.6 1.46-1.6 1.27-.4 .17-84 0z" fill="#faebdd"/>
<path d="M328 403.72l84.4 0 .4-.1 1.6-1.25 1.6-1.45 .4-.06 3.2 2.06 1.6 .8 23.2-.02 .8-.85 1.6-2.12 .4-.57 .4-.01 2.8 2.48 1.2 .89 .4 .2 88.4 0 0 1.36-88.4 0-.4-.21-1.2-.89-2.8-2.48-.4 .01-.4 .57-1.6 2.12-.8 .85-23.2 .02-1.6-.8-3.2-2.06-.4 .06-1.6 1.45-1.6 1.25-.4 .11-84.4 0z" fill="#faebdd"/>
<path d="M328 398.82l85.2-.04 1.6-1.22 1.6-1.45 .4-.22 3.2 2.07 1.6 .83 22.4 .03 .4-.09 1.2-1.38 1.6-2.21 .4 .19 2.8 2.46 1.2 .88 .4 .15 88.4 0 0 1.36-88.4 0-.4-.16-1.2-.88-2.8-2.46-.4-.19-1.6 2.21-1.2 1.38-.4 .1-22.4-.04-1.6-.83-3.2-2.07-.4 .22-1.6 1.45-1.6 1.22-85.2 .05z" fill="#faebdd"/>
<path d="M328 393.82l85.6 0 2-.81 1.6-.78 4.4 1.46 .8 .13 21.6 0 .4-.16 1.2-1.42 1.6-2.21 2.8 2.5 1.6 1.19 .4 .1 88.4 0 0 1.36-88.4 0-.4-.11-1.6-1.19-2.8-2.5-1.6 2.21-1.2 1.42-.4 .17-21.6 0-.8-.14-4.4-1.46-1.6 .78-2 .82-85.6 0z" fill="#faebdd"/>
<path d="M328 388.62l116 0 .4-.24 1.2-1.44 1.2-1.65 .4-.39 2.8 2.5 1.6 1.17 2.8 .05 86 0 0 1.36-86 0-2.8-.06-1.6-1.17-2.8-2.5-.4 .39-1.2 1.65-1.2 1.44-.4 .25-116 0z" fill="#faebdd"/>
<path d="M328 383.82l116 0 .4-.33 1.2-1.46 1.2-1.66 .4-.19 2.8 2.48 1.2 .91 .4 .24 88.8 .01 0 1.36-88.8-.02-.4-.24-1.2-.91-2.8-2.48-.4 .19-1.2 1.66-1.2 1.46-.4 .34-116 0z" fill="#faebdd"/>
<path d="M328 378.88l.4-.65 .4-.45 .4 .06 .4-.75 .4 .82 .4 .17 .4-.13 .4 .08 .4-.31 .4 .3 .4 .41 .4-.2 .4 .13 .4-.45 .4-.72 .4 .55 .4-.11 .4-.29 .4 .61 .4 .17 .4-.14 .4 .16 .4-.59 .4-.16 .8 .43 .4-.06 .4-.3 1.2 .07 .4-.19 .4 .24 .4-1.26 .4 .78 .4 .08 .4-.39 .4 1.08 .4-.88 .4-.46 .4-.08 .4-.24 .4 1.39 .4 .92 .4-.09 .4 .78 .4-.75 .8-.32 .4-.49 .4-.88 .4 .45 .8-.17 .4 1.02 .4-.86 .4 .5 .4 .25 .4-.36 .4 .95 .4-.01 .4-.21 .4-.33 .4 .31 .4-.29 .4-.07 .4 .89 .4-.79 .4-.14 .4 0 .4-.6 .4 .02 .4 1.12 .4 .1 .4 .27 .4-.04 .4-1.37 .4 .15 .8-.27 .4 .35 .8-.23 .4 0 .4-.65 .4-.53 .4 .72 .4-.51 .4 .45 .4-.04 .4-.3 .4 .5 .4 .12 .4 .27 .4-.36 .8 .75 .4 .79 .4 .11 .4-.34 .4-.56 .4-.04 .4-.49 .4 .54 .8 .51 .4 .79 .8 .39 .4-.79 .4-.12 .4-1.03 .4-.07 .4-.46 .4-.35 .4 .65 .4 .3 .4 .05 1.2-.62 .4 .66 .4 .52 .4-.67 .4-.54 .4 .12 .8 .48 .4 .14 .4-.67 .4-.12 .4 .38 .4 1.64 .4 .49 .8-.7 .4-1.37 .4-.86 .4-.08 .4 .75 .4 .54 .4 .71 .4 .47 .4-.26 .4-.5 .4 .39 .4-.4 .4-.54 .8 .17 .4-.6 .4 .82 .4 .4 .4-1.09 .4 .6 .4-.07 .4-.27 .4 1.08 .4 .23 .4-1.14 .4-.11 .8-.67 .4 1.1 .4 .55 .4-.65 .4 .55 .4-.34 .4-.46 .4 .97 .4-.56 .4 .18 .4-.38 .4-.12 .4 .3 .4-.37 .4 .49 .4-.58 .4 .23 .4 .8 .4-.21 .4 .79 .4-.25 .4-.1 .4 .59 .4-.75 .4-.12 .4-.35 .4-.55 .4 .22 .4 .46 .4-.75 .8 .24 .4-.15 .4 .92 .4-.37 .4 .37 .4 .02 .4 .4 .4 .55 .4-.94 .4-.67 .8-.52 .4 .18 .4 1.03 .4-.38 .4 .34 .4 .73 .4-1.18 .4-.07 .4-.78 .4-.94 .4-.56 1.2 .06 .4 1.31 1.2 .42 .4-.18 .4-.36 .4 .25 .4 .42 .8 .54 .4-.75 .4-.04 .4-.31 .4 .28 .4 .71 .4-.34 .4-.12 .4-.91 .4-.5 .4 .63 .4 .1 .4 .79 .4 .31 .8-.53 .4-.5 .8 .43 .4-.13 .4 1.09 .4-.21 .4 .01 .4-.25 .4-.5 .4 .3 .4 .12 .4 .64 .4 .1 .4-.64 .4-.31 .4 .18 .4 .62 .4-.03 .4-.59 .4 .09 .4-.67 .4 .06 .4 .55 .4-1.09 .4 .2 .4 1.26 .4-.09 .4 .94 .4-.44 .4-.64 .4 .11 .4-.71 .4 .1 .4-.29 .4-.51 .4 .43 .8-.64 .4 .1 .4-.01 .4 .3 .4 .11 .4 .4 .4 .02 .4-.39 .4 .47 .4-.76 .4-.6 .4-.21 .4-.39 .4 .59 .4-.93 .4-.51 .4-.62 .4-.99 .4 1.23 .4 .5 .4 .07 .4 .94 .4 .35 .4-.42 .4 1.35 .4 .1 .4 .3 .4 .79 .8-1.43 .4 .36 .4-.15 .4-.31 .4 1.07 .4-.9 .4 .75 .4 .37 .4-.61 .4 .4 .4-.61 .4 .07 .4 .47 .4 .27 .4 .51 .4-.11 .8-.75 .4-.9 .4-.11 .8 .72 .8 1.06 .4 .31 .4-.57 .4-.29 .4-.14 .4-.63 .4 .22 .4 .52 .4-.47 .4 .59 .4-.15 .4-.44 .4 .16 .4-.25 .4 1.04 .4 .03 .4 .37 .4-.89 .4-.07 .4-.46 .4-.65 .4 1.19 .4-.47 .8 .4 .8-.42 .4 1.31 .4 .43 .4-.03 .4-.17 .4-1.24 .4-.77 .4-.07 .8-.66 .4 .98 .8 .49 .4 .66 .4-.12 .4-.39 .8 .31 .8-1.1 .4-.48 .4-.36 .4 0 .4 .4 .4 .87 .4 .67 .4 .09 .4-.27 .4 .38 .8-.53 .4 .65 .4-.56 .4-.42 .4 .13 .4-.89 .4 .47 .4-.13 .4 .01 .4 1.03 .4-.42 .4 .6 .4 .49 .4-.42 .4-.99 .4-.01 .4-.32 .4-.12 .4 1.27 .4-.23 .4 .83 .8-.09 .4-.56 .4-.86 .4 .06 .4-.41 .4 1.18 .4-.43 .4 .16 .4-.43 .4-.86 .4 .63 .4-.64 .4-.25 .4 .08 .4-.36 .4 .15 .4 .44 .4-.02 .4 .25 .4-.43 .8 .69 .4-.54 .4 1 .4 .32 .4-.15 .4 .7 .4-.35 .4-.64 .4 .16 .4-.68 .4 .29 .4 .64 .4-.33 .4 .86 .4-.09 .4-.84 .4 .23 .4-.34 .4-.1 .4 .39 .4 .08 .4-.67 .4 .01 .4-.13 .4-.9 .4 .91 .8 .24 .4 .94 .8-1.02 .4-.22 .4-.09 .4 .48 .4 .84 .4-.14 .8-.82 .4-1.14 .4 .38 .4 .57 .4 .22 .4 .87 .4-.5 .8-.19 .4 .32 1.2 .26 .4-.24 .4 1.04 .8-1.03 .4 .57 .4-.09 .4 .88 .4 .63 .4-.53 .4-1.17 .4-1.39 .8-.37 .4 .96 .4 .41 .4-.19 .8-.93 .4-.19 .8 .2 .4 .36 .4 .16 .4-.54 .4 .19 .4 0 .4 .4 .4 .73 .4-.63 .4-.46 .4-.15 .4 .13 .4 .67 .4 .92 .4-.63 .4 .63 .4 .26 .4-.74 .4 .6 .4-.83 .8-1.27 .4 .48 .4-.53 .4 .87 .4 .24 .4-.1 .4 .46 .4-.28 .4 1 0 1.35-.4-1-.4 .28-.4-.46-.4 .1-.4-.24-.4-.87-.4 .53-.4-.48-.8 1.27-.4 .83-.4-.6-.4 .74-.4-.26-.4-.63-.4 .63-.4-.92-.4-.67-.4-.13-.4 .15-.4 .46-.4 .63-.4-.73-.4-.4-.4 0-.4-.19-.4 .54-.4-.16-.4-.36-.8-.2-.4 .19-.8 .93-.4 .19-.4-.41-.4-.96-.8 .37-.4 1.39-.4 1.17-.4 .53-.4-.63-.4-.88-.4 .09-.4-.57-.8 1.03-.4-1.04-.4 .24-1.2-.26-.4-.32-.8 .19-.4 .5-.4-.87-.4-.22-.4-.57-.4-.38-.4 1.14-.8 .82-.4 .14-.4-.84-.4-.48-.4 .09-.4 .22-.8 1.02-.4-.94-.8-.24-.4-.91-.4 .9-.4 .13-.4-.01-.4 .67-.4-.08-.4-.39-.4 .1-.4 .34-.4-.23-.4 .84-.4 .09-.4-.86-.4 .33-.4-.64-.4-.29-.4 .68-.4-.16-.4 .64-.4 .35-.4-.7-.4 .15-.4-.32-.4-1-.4 .54-.8-.69-.4 .43-.4-.25-.4 .02-.4-.44-.4-.15-.4 .36-.4-.08-.4 .25-.4 .64-.4-.63-.4 .86-.4 .43-.4-.16-.4 .43-.4-1.18-.4 .41-.4-.06-.4 .86-.4 .56-.8 .09-.4-.83-.4 .23-.4-1.27-.4 .12-.4 .32-.4 .01-.4 .99-.4 .42-.4-.49-.4-.6-.4 .42-.4-1.03-.4-.01-.4 .13-.4-.47-.4 .89-.4-.13-.4 .42-.4 .56-.4-.65-.8 .53-.4-.38-.4 .27-.4-.09-.4-.67-.4-.87-.4-.4-.4 0-.4 .36-.4 .48-.8 1.1-.8-.31-.4 .39-.4 .12-.4-.66-.8-.49-.4-.98-.8 .66-.4 .07-.4 .77-.4 1.24-.4 .17-.4 .03-.4-.43-.4-1.31-.8 .42-.8-.4-.4 .47-.4-1.19-.4 .65-.4 .46-.4 .07-.4 .89-.4-.37-.4-.03-.4-1.04-.4 .25-.4-.16-.4 .44-.4 .15-.4-.59-.4 .47-.4-.52-.4-.22-.4 .63-.4 .14-.4 .29-.4 .57-.4-.31-.8-1.06-.8-.72-.4 .11-.4 .9-.8 .75-.4 .11-.4-.51-.4-.27-.4-.47-.4-.07-.4 .61-.4-.4-.4 .61-.4-.37-.4-.75-.4 .9-.4-1.07-.4 .31-.4 .15-.4-.36-.8 1.43-.4-.79-.4-.3-.4-.1-.4-1.35-.4 .42-.4-.35-.4-.94-.4-.07-.4-.5-.4-1.23-.4 .99-.4 .62-.4 .51-.4 .93-.4-.59-.4 .39-.4 .21-.4 .6-.4 .76-.4-.47-.4 .39-.4-.02-.4-.4-.4-.11-.4-.3-.4 .01-.4-.1-.8 .64-.4-.43-.4 .51-.4 .29-.4-.1-.4 .71-.4-.11-.4 .64-.4 .44-.4-.94-.4 .09-.4-1.26-.4-.2-.4 1.09-.4-.55-.4-.06-.4 .67-.4-.09-.4 .59-.4 .03-.4-.62-.4-.18-.4 .31-.4 .64-.4-.1-.4-.64-.4-.12-.4-.3-.4 .5-.4 .25-.4-.01-.4 .21-.4-1.09-.4 .13-.8-.43-.4 .5-.8 .53-.4-.31-.4-.79-.4-.1-.4-.63-.4 .5-.4 .91-.4 .12-.4 .34-.4-.71-.4-.28-.4 .31-.4 .04-.4 .75-.8-.54-.4-.42-.4-.25-.4 .36-.4 .18-1.2-.42-.4-1.31-1.2-.06-.4 .56-.4 .94-.4 .78-.4 .07-.4 1.18-.4-.73-.4-.34-.4 .38-.4-1.03-.4-.18-.8 .52-.4 .67-.4 .94-.4-.55-.4-.4-.4-.02-.4-.37-.4 .37-.4-.92-.4 .15-.8-.24-.4 .75-.4-.46-.4-.22-.4 .55-.4 .35-.4 .12-.4 .75-.4-.59-.4 .1-.4 .25-.4-.79-.4 .21-.4-.8-.4-.23-.4 .58-.4-.49-.4 .37-.4-.3-.4 .12-.4 .38-.4-.18-.4 .56-.4-.97-.4 .46-.4 .34-.4-.55-.4 .65-.4-.55-.4-1.1-.8 .67-.4 .11-.4 1.14-.4-.23-.4-1.08-.4 .27-.4 .07-.4-.6-.4 1.09-.4-.4-.4-.82-.4 .6-.8-.17-.4 .54-.4 .4-.4-.39-.4 .5-.4 .26-.4-.47-.4-.71-.4-.54-.4-.75-.4 .08-.4 .86-.4 1.37-.8 .7-.4-.49-.4-1.64-.4-.38-.4 .12-.4 .67-.4-.14-.8-.48-.4-.12-.4 .54-.4 .67-.4-.52-.4-.66-1.2 .62-.4-.05-.4-.3-.4-.65-.4 .35-.4 .46-.4 .07-.4 1.03-.4 .12-.4 .79-.8-.39-.4-.79-.8-.51-.4-.54-.4 .49-.4 .04-.4 .56-.4 .34-.4-.11-.4-.79-.8-.75-.4 .36-.4-.27-.4-.12-.4-.5-.4 .3-.4 .04-.4-.45-.4 .51-.4-.72-.4 .53-.4 .65-.4 0-.8 .23-.4-.35-.8 .27-.4-.15-.4 1.37-.4 .04-.4-.27-.4-.1-.4-1.12-.4-.02-.4 .6-.4 0-.4 .14-.4 .79-.4-.89-.4 .07-.4 .29-.4-.31-.4 .33-.4 .21-.4 .01-.4-.95-.4 .36-.4-.25-.4-.5-.4 .86-.4-1.02-.8 .17-.4-.45-.4 .88-.4 .49-.8 .32-.4 .75-.4-.78-.4 .09-.4-.92-.4-1.39-.4 .24-.4 .08-.4 .46-.4 .88-.4-1.08-.4 .39-.4-.08-.4-.78-.4 1.26-.4-.24-.4 .19-1.2-.07-.4 .3-.4 .06-.8-.43-.4 .16-.4 .59-.4-.16-.4 .14-.4-.17-.4-.61-.4 .29-.4 .11-.4-.55-.4 .72-.4 .45-.4-.13-.4 .2-.4-.41-.4-.3-.4 .31-.4-.08-.4 .13-.4-.17-.4-.82-.4 .75-.4-.06-.4 .45-.4 .65z" fill="#faebdd"/>
<path d="M328 373.52l115.6 0 .4-.09 1.2-1.38 1.6-2.21 .4 .19 2.8 2.46 1.2 .88 .4 .15 88.8 0 0 1.36-88.8 0-.4-.16-1.2-.88-2.8-2.46-.4-.19-1.6 2.21-1.2 1.38-.4 .1-115.6 0z" fill="#faebdd"/>
<path d="M328 368.62l115.6 0 .4-.16 1.2-1.42 1.6-2.21 2.8 2.5 1.6 1.19 .4 .1 88.8 0 0 1.36-88.8 0-.4-.11-1.6-1.19-2.8-2.5-1.6 2.21-1.2 1.42-.4 .17-115.6 0z" fill="#faebdd"/>
<path d="M328 363.22l115.6 0 .4-.24 1.2-1.44 1.2-1.65 .4-.39 2.8 2.5 1.6 1.17 2.8 .05 86.4 0 0 1.36-86.4 0-2.8-.06-1.6-1.17-2.8-2.5-.4 .39-1.2 1.65-1.2 1.44-.4 .25-115.6 0z" fill="#faebdd"/>
<path d="M328 358.02l115.6 0 .4-.33 1.2-1.46 1.2-1.66 .4-.19 2.8 2.48 1.2 .91 .4 .24 89.2 .01 0 1.36-89.2-.02-.4-.24-1.2-.91-2.8-2.48-.4 .19-1.2 1.66-1.2 1.46-.4 .34-115.6 0z" fill="#faebdd"/>
<path d="M328 352.92l115.6-.02 .8-.85 1.6-2.12 .4-.57 .4-.01 2.8 2.48 1.2 .89 .4 .2 89.2 0 0 1.36-89.2 0-.4-.21-1.2-.89-2.8-2.48-.4 .01-.4 .57-1.6 2.12-.8 .85-115.6 .03z" fill="#faebdd"/>
<path d="M328 347.82l115.2 0 .4-.09 1.2-1.38 1.6-2.21 .4 .19 2.8 2.46 1.2 .88 .4 .15 89.2 0 0 1.36-89.2 0-.4-.16-1.2-.88-2.8-2.46-.4-.19-1.6 2.21-1.2 1.38-.4 .1-115.2 0z" fill="#faebdd"/>
<path d="M328 342.82l115.2 0 .4-.13 1.2-1.11 1.6-1.75 3.2 2.23 1.2 .68 .8 .08 88.8 0 0 1.36-88.8 0-.8-.09-1.2-.68-3.2-2.23-1.6 1.75-1.2 1.11-.4 .14-115.2 0z" fill="#faebdd"/>
<path d="M328 337.72l115.2 0 .4-.19 1.6-1.56 .8-.88 .4-.31 3.2 2.23 1.2 .67 89.6 .04 0 1.36-89.6-.05-1.2-.67-3.2-2.23-.4 .31-.8 .88-1.6 1.56-.4 .2-115.2 0z" fill="#faebdd"/>
<path d="M328 331.59l.4-.07 .4-.26 .4-.6 .4 .03 .4 .16 .4 .26 .4 .45 .4 .12 .8-.13 .4 .04 .4-.5 .8 .22 .4-.14 .4 .43 .8 .26 .8-.46 .4-.04 .4-.27 .8 .51 .4-.23 .8-.1 .4-.2 1.6 .33 .4 .01 .8-.46 .4 .11 .4-.01 .4 .14 .8 .1 .4 .17 .8-.17 .8-.49 .4-.01 .4 .25 .4-.08 .4 .36 .8-.03 .4 .11 .4-.14 .8-.05 .4 .17 .4-.18 .8 .26 1.2-.03 .4-.23 .8 .11 .4-.11 .4 .31 .4-.12 .4-.01 .4 .28 .4-.34 .4-.01 .4 .1 .4-.21 .4 .36 .4 .06 .4-.1 .4 .12 .8-.7 .4 .07 .4-.38 .4 0 .4 .35 .4 .02 .4 .22 .4 .38 .4-.48 .8 .12 .4-.1 .4 .47 .4-.22 .4-.01 .4-.23 .4 .04 1.2 .62 .4-.33 .4-.05 .4-.33 .8 .22 .4-.15 .4 .22 .4-.31 .4 .17 .4-.07 .4-.4 .4 .28 .4-.13 .8 .54 .8-.18 .8-.35 .4-.26 .4 .19 .4 .32 .4 .17 .4 .41 .8-.52 .4-.18 .8 .31 .8 .41 .4-.55 .8 .06 .8 .14 .4-.09 .8-.78 .4 .4 .4 .01 .4 .45 .4 .54 .4-.15 .4 .22 .4-.2 .4-.56 .4-.29 .4-.17 .4 .04 .4 .34 .4 .17 .4-.18 .8 .23 .8 .58 .4-.08 .4 .24 .4-.33 .4-.16 .4 .06 .4-.41 .4 .2 .8-.21 .4 .09 .4-.25 .4-.13 .4-.24 .4-.1 .4 .17 .8 .77 .8-.09 .8-.15 .8 .27 .4 .04 1.2-.7 .8 .5 .4-.17 .4 .1 .8-.73 .8 .26 .4-.23 1.6 .29 .4 .26 .4 .1 .4-.27 .4 .13 .8-.15 .8 .17 .8 .1 .4-.05 .8 .34 .4-.22 .8 .01 .4-.07 .4 .31 .8-.16 .4-.16 .4-.41 .4 .08 .4-.22 .4 .12 1.2 .04 .4-.17 .4 .23 .4 .34 .4 .04 .4-.28 1.2-.01 .4 .51 1.2-.66 .4-.4 .4 .18 .4-.42 .4 .36 .8 .18 .4 .25 .8 .36 .8 .16 .4-.29 .4 .02 .4-.24 .4-.06 .4-.33 .8 .24 .4 .25 .4 .6 .4-.11 .4 .32 1.2-.1 .4-.34 1.2 .24 .4 .3 .4-.53 .4 0 .4-.11 .4 .13 .4 .48 .4-.34 .4-.09 .8-.5 .4 .11 .4 .32 .4 .07 .8-.1 .4-.3 .4-.02 .4 .3 .8 .09 .4-.03 .4-.25 .4-.08 .4-.3 .4-.73 .4-.3 .4-.49 .4-.2 .4 .05 .4-.44 .4-.06 .4 .1 .4-.18 .4 .21 .4 .41 .4 .21 .4 .74 .4 .41 .4 .14 .4 .37 .8-.03 .4 .1 .4-.32 .4-.07 .4 .1 .4 0 .8 .33 .4-.05 .4-.17 .4 .19 .8-.46 .4 .17 .4 .01 .8 .43 .8-.27 .4 .1 .4-.09 .8 .5 .4 .12 .4 .36 .4-.08 .4-.21 .8-.68 1.2 0 .8-.08 .4 .42 .8 .11 .4-.16 .4-.43 .4-.02 .4 .4 .4 .01 .4 .22 .4 .01 .4-.3 .4 .08 .8-.24 1.2 .2 .4-.24 .4-.12 .4-.31 .4-.17 1.6 .69 .4 .27 .4-.43 .4-.05 .4-.25 1.2 .27 .4 .32 .4-.15 .8 .29 .4-.12 .4 .08 .4-.04 .4-.28 .4 .22 .8-.23 .4 .11 .4-.14 .8 .04 .8-.06 .4-.13 .4 .29 .8 .16 .4 .24 .4-.36 .4-.08 .4-.28 .4-.06 .8 .88 .4 .03 .4-.43 .8-.34 .8 .61 .4-.08 .8-.29 .4 .19 .4 .02 1.2-.42 .8-.04 .4 .08 .4-.13 .4 .21 .4-.11 .4-.2 .4 .35 .4 .1 .4 .53 .4 .25 .8-.12 .4-.34 .8-.19 .4-.25 .4 .16 .4-.15 .4 .03 .8-.39 .4 .24 .8 .18 .8-.23 .4-.18 .4 .17 .4 .38 .8 .11 .4 .14 .4-.34 .4-.06 .4 .16 .4-.4 .4 .19 .8-.39 .4 .03 .4-.23 .4 .42 .8 .54 .4 .32 .8-.43 1.2-.35 .4 .4 .4 .16 .8 .07 .4-.39 .4-.22 .4-.05 1.2 .38 .4-.1 .4-.35 .8 .17 .4 .2 .4 .03 .4-.21 .8-.16 .8 .58 .4 .11 .4 .36 .4 .03 1.2-.68 .8-.13 .4 .04 .4-.25 .4-.54 .4-.15 .4 .08 1.2 .86 .4 .15 .4-.08 .4 .2 1.2-.35 1.2-.05 .4 .12 .4-.17 .4 .09 .4-.11 .8 .41 .4-.11 .8 .03 1.2-.43 .4-.28 1.6 .8 .4-.03 .4-.21 .4-.04 0 1.35-.4 .04-.4 .21-.4 .03-1.6-.8-.4 .28-1.2 .43-.8-.03-.4 .11-.8-.41-.4 .11-.4-.09-.4 .17-.4-.12-1.2 .05-1.2 .35-.4-.2-.4 .08-.4-.15-1.2-.86-.4-.08-.4 .15-.4 .54-.4 .25-.4-.04-.8 .13-1.2 .68-.4-.03-.4-.36-.4-.11-.8-.58-.8 .16-.4 .21-.4-.03-.4-.2-.8-.17-.4 .35-.4 .1-1.2-.38-.4 .05-.4 .22-.4 .39-.8-.07-.4-.16-.4-.4-1.2 .35-.8 .43-.4-.32-.8-.54-.4-.42-.4 .23-.4-.03-.8 .39-.4-.19-.4 .4-.4-.16-.4 .06-.4 .34-.4-.14-.8-.11-.4-.38-.4-.17-.4 .18-.8 .23-.8-.18-.4-.24-.8 .39-.4-.03-.4 .15-.4-.16-.4 .25-.8 .19-.4 .34-.8 .12-.4-.25-.4-.53-.4-.1-.4-.35-.4 .2-.4 .11-.4-.21-.4 .13-.4-.08-.8 .04-1.2 .42-.4-.02-.4-.19-.8 .29-.4 .08-.8-.61-.8 .34-.4 .43-.4-.03-.8-.88-.4 .06-.4 .28-.4 .08-.4 .36-.4-.24-.8-.16-.4-.29-.4 .13-.8 .06-.8-.04-.4 .14-.4-.11-.8 .23-.4-.22-.4 .28-.4 .04-.4-.08-.4 .12-.8-.29-.4 .15-.4-.32-1.2-.27-.4 .25-.4 .05-.4 .43-.4-.27-1.6-.69-.4 .17-.4 .31-.4 .12-.4 .24-1.2-.2-.8 .24-.4-.08-.4 .3-.4-.01-.4-.22-.4-.01-.4-.4-.4 .02-.4 .43-.4 .16-.8-.11-.4-.42-.8 .08-1.2 0-.8 .68-.4 .21-.4 .08-.4-.36-.4-.12-.8-.5-.4 .09-.4-.1-.8 .27-.8-.43-.4-.01-.4-.17-.8 .46-.4-.19-.4 .17-.4 .05-.8-.33-.4 0-.4-.1-.4 .07-.4 .32-.4-.1-.8 .03-.4-.37-.4-.14-.4-.41-.4-.74-.4-.21-.4-.41-.4-.21-.4 .18-.4-.1-.4 .06-.4 .44-.4-.05-.4 .2-.4 .49-.4 .3-.4 .73-.4 .3-.4 .08-.4 .25-.4 .03-.8-.09-.4-.3-.4 .02-.4 .3-.8 .1-.4-.07-.4-.32-.4-.11-.8 .5-.4 .09-.4 .34-.4-.48-.4-.13-.4 .11-.4 0-.4 .53-.4-.3-1.2-.24-.4 .34-1.2 .1-.4-.32-.4 .11-.4-.6-.4-.25-.8-.24-.4 .33-.4 .06-.4 .24-.4-.02-.4 .29-.8-.16-.8-.36-.4-.25-.8-.18-.4-.36-.4 .42-.4-.18-.4 .4-1.2 .66-.4-.51-1.2 .01-.4 .28-.4-.04-.4-.34-.4-.23-.4 .17-1.2-.04-.4-.12-.4 .22-.4-.08-.4 .41-.4 .16-.8 .16-.4-.31-.4 .07-.8-.01-.4 .22-.8-.34-.4 .05-.8-.1-.8-.17-.8 .15-.4-.13-.4 .27-.4-.1-.4-.26-1.6-.29-.4 .23-.8-.26-.8 .73-.4-.1-.4 .17-.8-.5-1.2 .7-.4-.04-.8-.27-.8 .15-.8 .09-.8-.77-.4-.17-.4 .1-.4 .24-.4 .13-.4 .25-.4-.09-.8 .21-.4-.2-.4 .41-.4-.06-.4 .16-.4 .33-.4-.24-.4 .08-.8-.58-.8-.23-.4 .18-.4-.17-.4-.34-.4-.04-.4 .17-.4 .29-.4 .56-.4 .2-.4-.22-.4 .15-.4-.54-.4-.45-.4-.01-.4-.4-.8 .78-.4 .09-.8-.14-.8-.06-.4 .55-.8-.41-.8-.31-.4 .18-.8 .52-.4-.41-.4-.17-.4-.32-.4-.19-.4 .26-.8 .35-.8 .18-.8-.54-.4 .13-.4-.28-.4 .4-.4 .07-.4-.17-.4 .31-.4-.22-.4 .15-.8-.22-.4 .33-.4 .05-.4 .33-1.2-.62-.4-.04-.4 .23-.4 .01-.4 .22-.4-.47-.4 .1-.8-.12-.4 .48-.4-.38-.4-.22-.4-.02-.4-.35-.4 0-.4 .38-.4-.07-.8 .7-.4-.12-.4 .1-.4-.06-.4-.36-.4 .21-.4-.1-.4 .01-.4 .34-.4-.28-.4 .01-.4 .12-.4-.31-.4 .11-.8-.11-.4 .23-1.2 .03-.8-.26-.4 .18-.4-.17-.8 .05-.4 .14-.4-.11-.8 .03-.4-.36-.4 .08-.4-.25-.4 .01-.8 .49-.8 .17-.4-.17-.8-.1-.4-.14-.4 .01-.4-.11-.8 .46-.4-.01-1.6-.33-.4 .2-.8 .1-.4 .23-.8-.51-.4 .27-.4 .04-.8 .46-.8-.26-.4-.43-.4 .14-.8-.22-.4 .5-.4-.04-.8 .13-.4-.12-.4-.45-.4-.26-.4-.16-.4-.03-.4 .6-.4 .26-.4 .07z" fill="#faebdd"/>
<path d="M328 326.09l.4-.01 .4-.17 .4 .26 .4 .76 .4 .07 .8-.31 .8-.83 .4 .03 .4 .26 .4-.17 .4 .23 .4 .49 .4-.02 .4 .19 .4-.35 .4 .12 .4-.4 .4 .18 .4 .5 .4-.58 .4 .39 .4-.14 .4-.26 .4 .09 .4-.11 .4-.52 .8-.34 .4-.25 .4 .39 .4 .49 .4 .29 .4 .63 .8-.16 .4 .2 .4-.73 .4 .09 .4-.05 .4-.3 .8 .24 .4 .01 .4 .49 .4-.01 .4-.13 .4 .25 .4-.54 .4 .47 .4 .12 .4-.21 .4-.36 .4-.62 .4 .04 .8 .59 .4 .34 .4 .11 .4-.21 .4 .22 1.2 .23 .4-.28 .4 .3 .4 .15 .4-.1 .4 .19 .4 .02 .4-.71 .4 .12 .4-.25 .4-.52 .4 .27 .4-.15 .4 .43 .4 .07 .4 .18 .4-.23 .4-.4 .4 .23 .8 .11 .4 .22 .4-.4 .4 .12 .4 .45 .4-.07 .4 .13 .4-.09 .8-.6 .4 .29 .8-.15 .4 .41 .8-.57 .4 .33 1.6-.96 .4-.14 .4 .7 .4 .29 .4-.19 .4 .21 .4-.62 .4 .24 .4 .47 .4 .16 .4 .8 .4 .02 .4-.45 .4 .11 .4-.6 .4-.2 .4 .24 .4-.33 .8-.2 .4 .46 .8-.2 .4 .16 .4-.4 .4 .05 .4 .35 .4-.39 .8-.09 .4 .09 .4 .54 .4 .27 .4-.09 .4 .13 .4 .31 .4-.38 .4 .35 .4 .12 .4-.51 .4 .19 .4 .08 .4-.39 .4-.19 .8 0 .4 .46 .4-.12 .4-.31 .4-.2 .4-.47 .4 .52 .4-.21 .4 .26 .4 .1 .4-.37 .4 .31 .4-.55 .4 .01 .4-.23 .8 .01 .4-.09 .4 .45 .4-.04 .8 .59 .4-.13 .4-.25 .4-.1 .4-.75 .4-.21 .8 .3 .4 .35 .8 .34 .4 .33 .4 .15 .4-.2 .4 .02 .4-.47 .4-.16 .4 .34 .8 .07 .4 .29 .4-.25 .4-.72 .4 .34 .4-.02 .4-.23 .4 .78 .8-.41 .4 .23 .4 .11 .4-.15 .4 .3 .4 .01 .4-.57 .4 .29 .4-.13 .4 .4 .4 .53 .8-.06 .8-.4 .4-.48 .4 .25 .4 .41 .8-.09 .4 .05 .4-.73 .4-.17 .4 .01 .4-.49 .4 .1 .8 .69 .8 .29 .4 .02 .4 .32 .4-.22 .4 .09 .4-.26 .4 .23 .4-.4 .4 .01 .4 .32 .4-.65 .4 .88 .4 .27 .8-.18 .4 .27 .4-.78 .4 .56 .4 .28 .4-.65 .4 .31 .4-.98 .4-.08 .4 .17 .4 .31 .4 .41 .4-.25 .4 .08 .4 .18 .4 .01 .8-.69 .4-.23 .4 0 .4 .75 .8 .13 .4-.18 .4-.01 .4 .17 .4-.19 .4-.36 .4-.2 .4-.37 .4-.06 1.2 1.07 .4-.14 .4 .48 .4-.22 .4-.33 .4-.16 .4-.34 .4 0 .4 .54 1.2 .22 .4-.02 .4 .66 .4-.35 .4-.77 .8-.97 .4-.66 .4 .12 .8-.8 .4 .8 .4-.31 .4-.09 .4 .83 .4-.24 .8 .34 .4-.05 .8 1.38 .4 .06 .4-.36 .4-.01 .4-.69 .8 .38 .4-.31 .4 .44 .4 .12 .4-.09 .4 .5 .4-.05 .4 .1 .4 .39 .4-.36 .4 .11 .4-.08 .4-.3 .4 .15 .8-.12 .4-.15 .4-.41 .8 .03 .4 .49 .4 .1 .4-.01 .4 .23 .4-.5 .4 .24 .4-.16 .4 .58 .4-.16 .4 .21 .4 .1 .4-.86 .4 .35 .4-.33 .8 .02 .4 .17 .8 .69 .4 .05 .8-.3 .4-.38 .4 .08 .4-.29 .4-.43 .4 .44 .8 .18 .4-.17 .8-.49 .8 .52 .8-.03 .4 .26 .4 .07 .8 .32 .4-.58 .4 .38 .4-.31 .4 0 .4 .28 .4-.32 .4-.18 .4 .13 .4-.1 .4 .47 .4-.12 .4-.39 .8-.41 .4 .57 .4 .08 .4 .25 .4-.26 .4-.37 .4 .55 1.2 .42 .4-.73 .4-.56 .4 .32 .4-.51 .4 .81 .4 .64 .4-.25 .4 .17 .4-.88 .4-.75 .4-.92 .4 .08 .4 .34 1.2 1.43 .4 .36 .8-.27 .4-.07 .4-.89 .8 .65 .4 .24 .4 .64 .4-.43 .8-.32 .4 .01 .8 .4 .4-.23 .4 .11 .4 .68 .4-.7 .4 .12 .8-.98 .4 .48 .4 .25 .4 .5 .4-.16 .4 .32 .4-.19 1.6 .17 .4 .37 .4 .26 .4 0 .4-.16 .4-.91 .4-.43 .4-.06 .4 .09 .4 .68 .4 .28 .4-.33 .4-.03 .4-.5 .4-.19 .4 .03 .4-.07 .4 .67 .4 .38 .4-.38 .4-.22 .4-.09 .4 .08 .4 .65 .4 .35 .4-.51 .4-.21 .4 .08 .4 .39 .4 .13 1.2-1.3 .4 .21 .4 .07 .4 .45 .4-.04 .4-.49 .4 .44 .4-.29 .4 .24 .4 .61 .4-.68 .4 .58 .4 .03 .4-.25 .4 .63 .4-.45 .8-.6 .4-.17 .4 .38 .4 .11 .8 .47 .4-.61 .8-.13 .8-.55 .4 .27 .4 .11 .4-.02 .4 1.22 .4 .06 .8-.22 .4-.76 .4-.23 .8 .4 .4-.32 .4 .14 .4-.44 .4 .19 .8 .03 .4 .5 .4-.14 .4 .07 .4-.35 .4-.24 .4 .41 .4 .76 .4 .04 .4-.19 .8-.78 .4-.16 .4 .01 0 1.35-.4-.01-.4 .16-.8 .78-.4 .19-.4-.04-.4-.76-.4-.41-.4 .24-.4 .35-.4-.07-.4 .14-.4-.5-.8-.03-.4-.19-.4 .44-.4-.14-.4 .32-.8-.4-.4 .23-.4 .76-.8 .22-.4-.06-.4-1.22-.4 .02-.4-.11-.4-.27-.8 .55-.8 .13-.4 .61-.8-.47-.4-.11-.4-.38-.4 .17-.8 .6-.4 .45-.4-.63-.4 .25-.4-.03-.4-.58-.4 .68-.4-.61-.4-.24-.4 .29-.4-.44-.4 .49-.4 .04-.4-.45-.4-.07-.4-.21-1.2 1.3-.4-.13-.4-.39-.4-.08-.4 .21-.4 .51-.4-.35-.4-.65-.4-.08-.4 .09-.4 .22-.4 .38-.4-.38-.4-.67-.4 .07-.4-.03-.4 .19-.4 .5-.4 .03-.4 .33-.4-.28-.4-.68-.4-.09-.4 .06-.4 .43-.4 .91-.4 .16-.4 0-.4-.26-.4-.37-1.6-.17-.4 .19-.4-.32-.4 .16-.4-.5-.4-.25-.4-.48-.8 .98-.4-.12-.4 .7-.4-.68-.4-.11-.4 .23-.8-.4-.4-.01-.8 .32-.4 .43-.4-.64-.4-.24-.8-.65-.4 .89-.4 .07-.8 .27-.4-.36-1.2-1.43-.4-.34-.4-.08-.4 .92-.4 .75-.4 .88-.4-.17-.4 .25-.4-.64-.4-.81-.4 .51-.4-.32-.4 .56-.4 .73-1.2-.42-.4-.55-.4 .37-.4 .26-.4-.25-.4-.08-.4-.57-.8 .41-.4 .39-.4 .12-.4-.47-.4 .1-.4-.13-.4 .18-.4 .32-.4-.28-.4 0-.4 .31-.4-.38-.4 .58-.8-.32-.4-.07-.4-.26-.8 .03-.8-.52-.8 .49-.4 .17-.8-.18-.4-.44-.4 .43-.4 .29-.4-.08-.4 .38-.8 .3-.4-.05-.8-.69-.4-.17-.8-.02-.4 .33-.4-.35-.4 .86-.4-.1-.4-.21-.4 .16-.4-.58-.4 .16-.4-.24-.4 .5-.4-.23-.4 .01-.4-.1-.4-.49-.8-.03-.4 .41-.4 .15-.8 .12-.4-.15-.4 .3-.4 .08-.4-.11-.4 .36-.4-.39-.4-.1-.4 .05-.4-.5-.4 .09-.4-.12-.4-.44-.4 .31-.8-.38-.4 .69-.4 .01-.4 .36-.4-.06-.8-1.38-.4 .05-.8-.34-.4 .24-.4-.83-.4 .09-.4 .31-.4-.8-.8 .8-.4-.12-.4 .66-.8 .97-.4 .77-.4 .35-.4-.66-.4 .02-1.2-.22-.4-.54-.4 0-.4 .34-.4 .16-.4 .33-.4 .22-.4-.48-.4 .14-1.2-1.07-.4 .06-.4 .37-.4 .2-.4 .36-.4 .19-.4-.17-.4 .01-.4 .18-.8-.13-.4-.75-.4 0-.4 .23-.8 .69-.4-.01-.4-.18-.4-.08-.4 .25-.4-.41-.4-.31-.4-.17-.4 .08-.4 .98-.4-.31-.4 .65-.4-.28-.4-.56-.4 .78-.4-.27-.8 .18-.4-.27-.4-.88-.4 .65-.4-.32-.4-.01-.4 .4-.4-.23-.4 .26-.4-.09-.4 .22-.4-.32-.4-.02-.8-.29-.8-.69-.4-.1-.4 .49-.4-.01-.4 .17-.4 .73-.4-.05-.8 .09-.4-.41-.4-.25-.4 .48-.8 .4-.8 .06-.4-.53-.4-.4-.4 .13-.4-.29-.4 .57-.4-.01-.4-.3-.4 .15-.4-.11-.4-.23-.8 .41-.4-.78-.4 .23-.4 .02-.4-.34-.4 .72-.4 .25-.4-.29-.8-.07-.4-.34-.4 .16-.4 .47-.4-.02-.4 .2-.4-.15-.4-.33-.8-.34-.4-.35-.8-.3-.4 .21-.4 .75-.4 .1-.4 .25-.4 .13-.8-.59-.4 .04-.4-.45-.4 .09-.8-.01-.4 .23-.4-.01-.4 .55-.4-.31-.4 .37-.4-.1-.4-.26-.4 .21-.4-.52-.4 .47-.4 .2-.4 .31-.4 .12-.4-.46-.8 0-.4 .19-.4 .39-.4-.08-.4-.19-.4 .51-.4-.12-.4-.35-.4 .38-.4-.31-.4-.13-.4 .09-.4-.27-.4-.54-.4-.09-.8 .09-.4 .39-.4-.35-.4-.05-.4 .4-.4-.16-.8 .2-.4-.46-.8 .2-.4 .33-.4-.24-.4 .2-.4 .6-.4-.11-.4 .45-.4-.02-.4-.8-.4-.16-.4-.47-.4-.24-.4 .62-.4-.21-.4 .19-.4-.29-.4-.7-.4 .14-1.6 .96-.4-.33-.8 .57-.4-.41-.8 .15-.4-.29-.8 .6-.4 .09-.4-.13-.4 .07-.4-.45-.4-.12-.4 .4-.4-.22-.8-.11-.4-.23-.4 .4-.4 .23-.4-.18-.4-.07-.4-.43-.4 .15-.4-.27-.4 .52-.4 .25-.4-.12-.4 .71-.4-.02-.4-.19-.4 .1-.4-.15-.4-.3-.4 .28-1.2-.23-.4-.22-.4 .21-.4-.11-.4-.34-.8-.59-.4-.04-.4 .62-.4 .36-.4 .21-.4-.12-.4-.47-.4 .54-.4-.25-.4 .13-.4 .01-.4-.49-.4-.01-.8-.24-.4 .3-.4 .05-.4-.09-.4 .73-.4-.2-.8 .16-.4-.63-.4-.29-.4-.49-.4-.39-.4 .25-.8 .34-.4 .52-.4 .11-.4-.09-.4 .26-.4 .14-.4-.39-.4 .58-.4-.5-.4-.18-.4 .4-.4-.12-.4 .35-.4-.19-.4 .02-.4-.49-.4-.23-.4 .17-.4-.26-.4-.03-.8 .83-.8 .31-.4-.07-.4-.76-.4-.26-.4 .17-.4 .01z" fill="#faebdd"/>
</g>
<text x="321" y="327.3" font-size="5.7" text-anchor="middle" fill="#000">720</text>
<text x="321" y="352.3" font-size="5.7" text-anchor="middle" fill="#000">600</text>
<text x="321" y="376.8" font-size="5.7" text-anchor="middle" fill="#000">480</text>
<text x="321" y="401.5" font-size="5.7" text-anchor="middle" fill="#000">360</text>
<text x="321" y="426.3" font-size="5.7" text-anchor="middle" fill="#000">240</text>
<text x="321" y="450.8" font-size="5.7" text-anchor="middle" fill="#000">120</text>
<text x="321" y="475.3" font-size="5.7" text-anchor="middle" fill="#000">1</text>
<text x="329.1" y="482.5" font-size="5.5" text-anchor="middle" fill="#000">0</text>
<text x="370.11" y="482.5" font-size="5.5" text-anchor="middle" fill="#000">30</text>
<text x="411.12" y="482.5" font-size="5.5" text-anchor="middle" fill="#000">60</text>
<text x="452.13" y="482.5" font-size="5.5" text-anchor="middle" fill="#000">90</text>
<text x="493.14" y="482.5" font-size="5.5" text-anchor="middle" fill="#000">120</text>
<text x="534.15" y="482.5" font-size="5.5" text-anchor="middle" fill="#000">150</text>
<text x="430.4" y="491.8" font-size="7.6" text-anchor="middle" fill="#000">Time(s)</text>
</g>
<g id="panel-g">
<text x="2" y="511.4" font-size="10.5" font-weight="bold" text-anchor="start" fill="#000">g.</text>
<text x="130.95" y="509.9" font-size="8.66" font-weight="bold" text-anchor="middle" fill="#000">Final spike trains after STP</text>
<text x="11.5" y="591" font-size="8" text-anchor="middle" fill="#000" transform="rotate(-90 11.5 591)">Spike encoded input</text>
<rect x="30.3" y="512.9" width="198.9" height="152.3" fill="#03051a"/>
<g stroke="#faebdd" fill="none" stroke-width="1.0" stroke-linecap="butt">
<path d="M37.71,592.2 Q39.71,596.25 41.71,592.2 Q39.71,594.36 37.71,592.2z" fill="#faebdd" stroke-width="0.3"/>
<path d="M37.71,598.54 Q39.71,602.59 41.71,598.54 Q39.71,600.7 37.71,598.54z" fill="#faebdd" stroke-width="0.3"/>
<path d="M37.71,604.89 Q39.71,608.94 41.71,604.89 Q39.71,607.05 37.71,604.89z" fill="#faebdd" stroke-width="0.3"/>
<path d="M37.71,611.23 Q39.71,615.28 41.71,611.23 Q39.71,613.39 37.71,611.23z" fill="#faebdd" stroke-width="0.3"/>
<path d="M37.69,617.78 H41.09" stroke-width="1.2"/>
<path d="M37.96,636.82 H41.36" stroke-width="1.2"/>
<path d="M39.1,643.16 H40.3" stroke-width="1.0" stroke-opacity="0.85"/>
<path d="M38.84,649.51 H40.04" stroke-width="1.0" stroke-opacity="0.85"/>
<path d="M36.71,656.65 Q39.51,651.7 42.71,656.65 Q39.51,653.9 36.71,656.65z" fill="#faebdd" stroke-width="0.3"/>
<path d="M36.71,663 Q39.51,658.05 42.71,663 Q39.51,660.25 36.71,663z" fill="#faebdd" stroke-width="0.3"/>
<path d="M55.93,535.08 Q57.93,539.13 59.93,535.08 Q57.93,537.24 55.93,535.08z" fill="#faebdd" stroke-width="0.3"/>
<path d="M57.34,541.63 H58.54" stroke-width="1.0" stroke-opacity="0.85"/>
<path d="M57.27,586.05 H58.47" stroke-width="1.0" stroke-opacity="0.85"/>
<path d="M57.4,592.4 H58.6" stroke-width="1.0" stroke-opacity="0.85"/>
<path d="M56.42,598.74 H59.82" stroke-width="1.2"/>
<path d="M56.59,605.09 H59.99" stroke-width="1.2"/>
<path d="M57.16,624.12 H58.36" stroke-width="1.0" stroke-opacity="0.85"/>
<path d="M54.93,631.27 Q57.73,626.32 60.93,631.27 Q57.73,628.52 54.93,631.27z" fill="#faebdd" stroke-width="0.3"/>
<path d="M54.93,637.62 Q57.73,632.67 60.93,637.62 Q57.73,634.87 54.93,637.62z" fill="#faebdd" stroke-width="0.3"/>
<path d="M56.06,643.16 H59.46" stroke-width="1.2"/>
<path d="M56.93,662.2 H58.13" stroke-width="1.0" stroke-opacity="0.85"/>
<path d="M74.64,567.01 H78.04" stroke-width="1.2"/>
<path d="M75.2,579.7 H76.4" stroke-width="1.0" stroke-opacity="0.85"/>
<path d="M75.21,624.12 H76.41" stroke-width="1.0" stroke-opacity="0.85"/>
<path d="M74.57,630.47 H77.97" stroke-width="1.2"/>
<path d="M72.96,637.62 Q75.76,632.67 78.96,637.62 Q75.76,634.87 72.96,637.62z" fill="#faebdd" stroke-width="0.3"/>
<path d="M72.96,643.96 Q75.76,639.01 78.96,643.96 Q75.76,641.21 72.96,643.96z" fill="#faebdd" stroke-width="0.3"/>
<path d="M72.96,650.31 Q75.76,645.36 78.96,650.31 Q75.76,647.56 72.96,650.31z" fill="#faebdd" stroke-width="0.3"/>
<path d="M72.96,656.65 Q75.76,651.7 78.96,656.65 Q75.76,653.9 72.96,656.65z" fill="#faebdd" stroke-width="0.3"/>
<path d="M74.43,662.2 H77.83" stroke-width="1.2"/>
<path d="M91.82,516.25 H95.22" stroke-width="1.2"/>
<path d="M91.62,522.39 Q93.62,526.44 95.62,522.39 Q93.62,524.55 91.62,522.39z" fill="#faebdd" stroke-width="0.3"/>
<path d="M91.62,528.74 Q93.62,532.79 95.62,528.74 Q93.62,530.9 91.62,528.74z" fill="#faebdd" stroke-width="0.3"/>
<path d="M91.62,535.08 Q93.62,539.13 95.62,535.08 Q93.62,537.24 91.62,535.08z" fill="#faebdd" stroke-width="0.3"/>
<path d="M92.79,573.36 H93.99" stroke-width="1.0" stroke-opacity="0.85"/>
<path d="M93.13,579.7 H94.33" stroke-width="1.0" stroke-opacity="0.85"/>
<path d="M91.76,605.09 H95.16" stroke-width="1.2"/>
<path d="M92.12,611.43 H95.52" stroke-width="1.2"/>
<path d="M90.62,618.58 Q93.42,613.63 96.62,618.58 Q93.42,615.83 90.62,618.58z" fill="#faebdd" stroke-width="0.3"/>
<path d="M91.7,624.12 H95.1" stroke-width="1.2"/>
<path d="M93.29,630.47 H94.49" stroke-width="1.0" stroke-opacity="0.85"/>
<path d="M93.15,649.51 H94.35" stroke-width="1.0" stroke-opacity="0.85"/>
<path d="M92.07,655.85 H95.47" stroke-width="1.2"/>
<path d="M92.18,662.2 H95.58" stroke-width="1.2"/>
<path d="M109.29,516.05 Q111.29,520.1 113.29,516.05 Q111.29,518.21 109.29,516.05z" fill="#faebdd" stroke-width="0.3"/>
<path d="M109.29,522.39 Q111.29,526.44 113.29,522.39 Q111.29,524.55 109.29,522.39z" fill="#faebdd" stroke-width="0.3"/>
<path d="M109.29,528.74 Q111.29,532.79 113.29,528.74 Q111.29,530.9 109.29,528.74z" fill="#faebdd" stroke-width="0.3"/>
<path d="M109.29,535.08 Q111.29,539.13 113.29,535.08 Q111.29,537.24 109.29,535.08z" fill="#faebdd" stroke-width="0.3"/>
<path d="M109.87,541.63 H113.27" stroke-width="1.2"/>
<path d="M110.6,554.32 H111.8" stroke-width="1.0" stroke-opacity="0.85"/>
<path d="M109.57,560.67 H112.97" stroke-width="1.2"/>
<path d="M109.31,567.01 H112.71" stroke-width="1.2"/>
<path d="M110.85,579.7 H112.05" stroke-width="1.0" stroke-opacity="0.85"/>
<path d="M109.42,586.05 H112.82" stroke-width="1.2"/>
<path d="M109.29,592.2 Q111.29,596.25 113.29,592.2 Q111.29,594.36 109.29,592.2z" fill="#faebdd" stroke-width="0.3"/>
<path d="M109.41,617.78 H112.81" stroke-width="1.2"/>
<path d="M108.29,624.93 Q111.09,619.98 114.29,624.93 Q111.09,622.18 108.29,624.93z" fill="#faebdd" stroke-width="0.3"/>
<path d="M108.29,631.27 Q111.09,626.32 114.29,631.27 Q111.09,628.52 108.29,631.27z" fill="#faebdd" stroke-width="0.3"/>
<path d="M108.29,637.62 Q111.09,632.67 114.29,637.62 Q111.09,634.87 108.29,637.62z" fill="#faebdd" stroke-width="0.3"/>
<path d="M110.45,649.51 H111.65" stroke-width="1.0" stroke-opacity="0.85"/>
<path d="M110.43,655.85 H111.63" stroke-width="1.0" stroke-opacity="0.85"/>
<path d="M108.29,663 Q111.09,658.05 114.29,663 Q111.09,660.25 108.29,663z" fill="#faebdd" stroke-width="0.3"/>
<path d="M126.95,516.05 Q128.95,520.1 130.95,516.05 Q128.95,518.21 126.95,516.05z" fill="#faebdd" stroke-width="0.3"/>
<path d="M126.95,522.39 Q128.95,526.44 130.95,522.39 Q128.95,524.55 126.95,522.39z" fill="#faebdd" stroke-width="0.3"/>
<path d="M128.69,528.94 H129.89" stroke-width="1.0" stroke-opacity="0.85"/>
<path d="M128.12,535.28 H129.32" stroke-width="1.0" stroke-opacity="0.85"/>
<path d="M126.95,547.78 Q128.95,551.83 130.95,547.78 Q128.95,549.94 126.95,547.78z" fill="#faebdd" stroke-width="0.3"/>
<path d="M126.95,554.12 Q128.95,558.17 130.95,554.12 Q128.95,556.28 126.95,554.12z" fill="#faebdd" stroke-width="0.3"/>
<path d="M126.95,560.47 Q128.95,564.52 130.95,560.47 Q128.95,562.63 126.95,560.47z" fill="#faebdd" stroke-width="0.3"/>
<path d="M126.95,566.81 Q128.95,570.86 130.95,566.81 Q128.95,568.97 126.95,566.81z" fill="#faebdd" stroke-width="0.3"/>
<path d="M127.34,573.36 H130.74" stroke-width="1.2"/>
<path d="M126.95,579.5 Q128.95,583.55 130.95,579.5 Q128.95,581.66 126.95,579.5z" fill="#faebdd" stroke-width="0.3"/>
<path d="M126.95,585.85 Q128.95,589.9 130.95,585.85 Q128.95,588.01 126.95,585.85z" fill="#faebdd" stroke-width="0.3"/>
<path d="M127.48,592.4 H130.88" stroke-width="1.2"/>
<path d="M128,617.78 H129.2" stroke-width="1.0" stroke-opacity="0.85"/>
<path d="M128.25,624.12 H129.45" stroke-width="1.0" stroke-opacity="0.85"/>
<path d="M126.92,630.47 H130.32" stroke-width="1.2"/>
<path d="M127.01,636.82 H130.41" stroke-width="1.2"/>
<path d="M127.02,655.85 H130.42" stroke-width="1.2"/>
<path d="M125.95,663 Q128.75,658.05 131.95,663 Q128.75,660.25 125.95,663z" fill="#faebdd" stroke-width="0.3"/>
<path d="M145.9,528.94 H147.1" stroke-width="1.0" stroke-opacity="0.85"/>
<path d="M144.8,535.08 Q146.8,539.13 148.8,535.08 Q146.8,537.24 144.8,535.08z" fill="#faebdd" stroke-width="0.3"/>
<path d="M144.8,541.43 Q146.8,545.48 148.8,541.43 Q146.8,543.59 144.8,541.43z" fill="#faebdd" stroke-width="0.3"/>
<path d="M144.8,547.78 Q146.8,551.83 148.8,547.78 Q146.8,549.94 144.8,547.78z" fill="#faebdd" stroke-width="0.3"/>
<path d="M144.8,554.12 Q146.8,558.17 148.8,554.12 Q146.8,556.28 144.8,554.12z" fill="#faebdd" stroke-width="0.3"/>
<path d="M144.8,560.47 Q146.8,564.52 148.8,560.47 Q146.8,562.63 144.8,560.47z" fill="#faebdd" stroke-width="0.3"/>
<path d="M144.8,566.81 Q146.8,570.86 148.8,566.81 Q146.8,568.97 144.8,566.81z" fill="#faebdd" stroke-width="0.3"/>
<path d="M146.24,573.36 H147.44" stroke-width="1.0" stroke-opacity="0.85"/>
<path d="M146.36,579.7 H147.56" stroke-width="1.0" stroke-opacity="0.85"/>
<path d="M145.84,624.12 H147.04" stroke-width="1.0" stroke-opacity="0.85"/>
<path d="M145.24,630.47 H148.64" stroke-width="1.2"/>
<path d="M146.09,649.51 H147.29" stroke-width="1.0" stroke-opacity="0.85"/>
<path d="M143.8,656.65 Q146.6,651.7 149.8,656.65 Q146.6,653.9 143.8,656.65z" fill="#faebdd" stroke-width="0.3"/>
<path d="M143.8,663 Q146.6,658.05 149.8,663 Q146.6,660.25 143.8,663z" fill="#faebdd" stroke-width="0.3"/>
<path d="M165.47,528.94 H166.67" stroke-width="1.0" stroke-opacity="0.85"/>
<path d="M164.25,535.28 H167.65" stroke-width="1.2"/>
<path d="M164.28,541.63 H167.68" stroke-width="1.2"/>
<path d="M163.94,547.78 Q165.94,551.83 167.94,547.78 Q165.94,549.94 163.94,547.78z" fill="#faebdd" stroke-width="0.3"/>
<path d="M163.94,554.12 Q165.94,558.17 167.94,554.12 Q165.94,556.28 163.94,554.12z" fill="#faebdd" stroke-width="0.3"/>
<path d="M163.94,560.47 Q165.94,564.52 167.94,560.47 Q165.94,562.63 163.94,560.47z" fill="#faebdd" stroke-width="0.3"/>
<path d="M163.94,566.81 Q165.94,570.86 167.94,566.81 Q165.94,568.97 163.94,566.81z" fill="#faebdd" stroke-width="0.3"/>
<path d="M164.26,573.36 H167.66" stroke-width="1.2"/>
<path d="M163.94,579.5 Q165.94,583.55 167.94,579.5 Q165.94,581.66 163.94,579.5z" fill="#faebdd" stroke-width="0.3"/>
<path d="M163.94,585.85 Q165.94,589.9 167.94,585.85 Q165.94,588.01 163.94,585.85z" fill="#faebdd" stroke-width="0.3"/>
<path d="M163.94,592.2 Q165.94,596.25 167.94,592.2 Q165.94,594.36 163.94,592.2z" fill="#faebdd" stroke-width="0.3"/>
<path d="M165.36,598.74 H166.56" stroke-width="1.0" stroke-opacity="0.85"/>
<path d="M164,624.12 H167.4" stroke-width="1.2"/>
<path d="M162.94,631.27 Q165.74,626.32 168.94,631.27 Q165.74,628.52 162.94,631.27z" fill="#faebdd" stroke-width="0.3"/>
<path d="M162.94,637.62 Q165.74,632.67 168.94,637.62 Q165.74,634.87 162.94,637.62z" fill="#faebdd" stroke-width="0.3"/>
<path d="M162.94,643.96 Q165.74,639.01 168.94,643.96 Q165.74,641.21 162.94,643.96z" fill="#faebdd" stroke-width="0.3"/>
<path d="M162.94,650.31 Q165.74,645.36 168.94,650.31 Q165.74,647.56 162.94,650.31z" fill="#faebdd" stroke-width="0.3"/>
<path d="M162.94,656.65 Q165.74,651.7 168.94,656.65 Q165.74,653.9 162.94,656.65z" fill="#faebdd" stroke-width="0.3"/>
<path d="M162.94,663 Q165.74,658.05 168.94,663 Q165.74,660.25 162.94,663z" fill="#faebdd" stroke-width="0.3"/>
<path d="M182.69,554.32 H183.89" stroke-width="1.0" stroke-opacity="0.85"/>
<path d="M182.8,567.01 H184" stroke-width="1.0" stroke-opacity="0.85"/>
<path d="M181.39,573.36 H184.79" stroke-width="1.2"/>
<path d="M181.42,579.5 Q183.42,583.55 185.42,579.5 Q183.42,581.66 181.42,579.5z" fill="#faebdd" stroke-width="0.3"/>
<path d="M181.42,585.85 Q183.42,589.9 185.42,585.85 Q183.42,588.01 181.42,585.85z" fill="#faebdd" stroke-width="0.3"/>
<path d="M181.77,605.09 H185.17" stroke-width="1.2"/>
<path d="M181.91,611.43 H185.31" stroke-width="1.2"/>
<path d="M183.17,617.78 H184.37" stroke-width="1.0" stroke-opacity="0.85"/>
<path d="M180.42,631.27 Q183.22,626.32 186.42,631.27 Q183.22,628.52 180.42,631.27z" fill="#faebdd" stroke-width="0.3"/>
<path d="M180.42,637.62 Q183.22,632.67 186.42,637.62 Q183.22,634.87 180.42,637.62z" fill="#faebdd" stroke-width="0.3"/>
<path d="M181.97,643.16 H185.37" stroke-width="1.2"/>
<path d="M181.97,649.51 H185.37" stroke-width="1.2"/>
<path d="M180.42,656.65 Q183.22,651.7 186.42,656.65 Q183.22,653.9 180.42,656.65z" fill="#faebdd" stroke-width="0.3"/>
<path d="M180.42,663 Q183.22,658.05 186.42,663 Q183.22,660.25 180.42,663z" fill="#faebdd" stroke-width="0.3"/>
<path d="M199.25,516.25 H202.65" stroke-width="1.2"/>
<path d="M199.19,522.59 H202.59" stroke-width="1.2"/>
<path d="M199.44,547.98 H202.84" stroke-width="1.2"/>
<path d="M199.23,554.32 H202.63" stroke-width="1.2"/>
<path d="M200.57,560.67 H201.77" stroke-width="1.0" stroke-opacity="0.85"/>
<path d="M200.55,611.43 H201.75" stroke-width="1.0" stroke-opacity="0.85"/>
<path d="M198.08,631.27 Q200.88,626.32 204.08,631.27 Q200.88,628.52 198.08,631.27z" fill="#faebdd" stroke-width="0.3"/>
<path d="M198.08,637.62 Q200.88,632.67 204.08,637.62 Q200.88,634.87 198.08,637.62z" fill="#faebdd" stroke-width="0.3"/>
<path d="M200.39,643.16 H201.59" stroke-width="1.0" stroke-opacity="0.85"/>
<path d="M200.65,649.51 H201.85" stroke-width="1.0" stroke-opacity="0.85"/>
<path d="M198.08,656.65 Q200.88,651.7 204.08,656.65 Q200.88,653.9 198.08,656.65z" fill="#faebdd" stroke-width="0.3"/>
<path d="M198.08,663 Q200.88,658.05 204.08,663 Q200.88,660.25 198.08,663z" fill="#faebdd" stroke-width="0.3"/>
<path d="M219.81,516.25 H221.01" stroke-width="1.0" stroke-opacity="0.85"/>
<path d="M219.72,522.59 H220.92" stroke-width="1.0" stroke-opacity="0.85"/>
<path d="M219.93,528.94 H221.13" stroke-width="1.0" stroke-opacity="0.85"/>
<path d="M219.67,535.28 H220.87" stroke-width="1.0" stroke-opacity="0.85"/>
<path d="M219.56,547.98 H220.76" stroke-width="1.0" stroke-opacity="0.85"/>
<path d="M220.15,554.32 H221.35" stroke-width="1.0" stroke-opacity="0.85"/>
<path d="M218.5,611.43 H221.9" stroke-width="1.2"/>
<path d="M218.42,617.78 H221.82" stroke-width="1.2"/>
<path d="M219.62,643.16 H220.82" stroke-width="1.0" stroke-opacity="0.85"/>
<path d="M218.57,649.51 H221.97" stroke-width="1.2"/>
<path d="M217.4,656.65 Q220.2,651.7 223.4,656.65 Q220.2,653.9 217.4,656.65z" fill="#faebdd" stroke-width="0.3"/>
<path d="M217.4,663 Q220.2,658.05 223.4,663 Q220.2,660.25 217.4,663z" fill="#faebdd" stroke-width="0.3"/>
</g>
<text x="22.5" y="515.7" font-size="5.7" text-anchor="middle" fill="#000">576</text>
<text x="22.5" y="540.9" font-size="5.7" text-anchor="middle" fill="#000">480</text>
<text x="22.5" y="565.9" font-size="5.7" text-anchor="middle" fill="#000">384</text>
<text x="22.5" y="590.7" font-size="5.7" text-anchor="middle" fill="#000">288</text>
<text x="22.5" y="615.7" font-size="5.7" text-anchor="middle" fill="#000">192</text>
<text x="22.5" y="640.6" font-size="5.7" text-anchor="middle" fill="#000">96</text>
<text x="22.5" y="664.4" font-size="5.7" text-anchor="middle" fill="#000">1</text>
<text x="31.8" y="671.9" font-size="5.5" text-anchor="middle" fill="#000">0</text>
<text x="50.2" y="671.9" font-size="5.5" text-anchor="middle" fill="#000">1</text>
<text x="68.6" y="671.9" font-size="5.5" text-anchor="middle" fill="#000">2</text>
<text x="87" y="671.9" font-size="5.5" text-anchor="middle" fill="#000">3</text>
<text x="105.4" y="671.9" font-size="5.5" text-anchor="middle" fill="#000">4</text>
<text x="123.8" y="671.9" font-size="5.5" text-anchor="middle" fill="#000">5</text>
<text x="142.2" y="671.9" font-size="5.5" text-anchor="middle" fill="#000">6</text>
<text x="160.6" y="671.9" font-size="5.5" text-anchor="middle" fill="#000">7</text>
<text x="179" y="671.9" font-size="5.5" text-anchor="middle" fill="#000">8</text>
<text x="197.4" y="671.9" font-size="5.5" text-anchor="middle" fill="#000">9</text>
<text x="215.8" y="671.9" font-size="5.5" text-anchor="middle" fill="#000">10</text>
<text x="129" y="683" font-size="7.6" text-anchor="middle" fill="#000">Time(s)</text>
<rect x="233.05" y="512.65" width="60.5" height="151.8" fill="#03051a" stroke="#ff0000" stroke-width="1.7"/>
<polygon points="240.5,544.2 240.5,534.8 244,529 247.1,524.3 249.3,523.6 264,523.6 272.1,526.5 276.5,530.2 279.5,533.6 281.7,536.8 281.7,544.2 278.8,544.2 275.8,539.8 272.1,538.4 268,536.4 264,534.9 249.3,534.9 246.5,536.4 244.1,538.6 241.2,544.2" fill="#faebdd"/>
<polygon points="239.6,593.47 239.6,582.94 244,576.45 247.1,571.18 249.3,570.4 264,570.4 272.1,573.65 276.5,577.79 279.5,581.6 281.7,585.18 281.7,593.47 278.8,593.47 275.8,588.54 272.1,586.98 268,584.74 264,583.06 249.3,583.06 246.5,584.74 244.1,587.2 240.3,593.47" fill="#faebdd"/>
<polygon points="239.6,648.86 239.6,638.48 244,632.07 247.1,626.87 249.3,626.1 264,626.1 272.1,629.3 276.5,633.39 279.5,637.15 281.7,640.69 281.7,648.86 278.8,648.86 275.8,644 272.1,642.45 268,640.24 264,638.59 249.3,638.59 246.5,640.24 244.1,642.68 240.3,648.86" fill="#faebdd"/>
<rect x="158" y="631.6" width="16.1" height="20.4" fill="none" stroke="#e63a3c" stroke-width="1.6"/>
<line x1="174.7" y1="631.1" x2="232.4" y2="515.4" stroke="#ff0000" stroke-width="1.3" stroke-dasharray="7.3 3.6"/>
<line x1="174.7" y1="651.9" x2="232.9" y2="664.8" stroke="#ff0000" stroke-width="1.3" stroke-dasharray="7.3 3.6"/>
<line x1="287.3" y1="670.3" x2="293.2" y2="670.3" stroke="#000" stroke-width="1.2"/>
<text x="289.3" y="680.9" font-size="8.1" text-anchor="middle" fill="#000">50 ms</text>
</g>
<g id="panel-h">
<text x="303.6" y="510.2" font-size="10.5" font-weight="bold" text-anchor="start" fill="#000">h.</text>
<text x="435.5" y="509.1" font-size="8.66" font-weight="bold" text-anchor="middle" fill="#000">Final spike trains after STP</text>
<text x="311" y="586.9" font-size="8" text-anchor="middle" fill="#000" transform="rotate(-90 311 586.9)">Spike encoded input</text>
<rect x="327.5" y="512.3" width="212.4" height="152.1" fill="#03051a"/>
<g stroke="#faebdd" fill="none" stroke-width="0.8" stroke-linejoin="miter">
<path d="M449.3,663.16 L451,660.47 L452.7,662.87"/>
<path d="M406,662.76 Q407.7,659.87 409.8,662.66" stroke-width="0.85" stroke-opacity="0.92"/>
<path d="M449.23,658.09 L450.93,655.39 L452.62,657.79"/>
<path d="M406.56,657.69 Q408.26,654.79 410.36,657.59" stroke-width="0.85" stroke-opacity="0.92"/>
<path d="M449.15,653.02 L450.85,650.33 L452.55,652.73"/>
<path d="M407.12,652.62 Q408.82,649.73 410.92,652.52" stroke-width="0.85" stroke-opacity="0.92"/>
<path d="M449.07,647.95 L450.77,645.25 L452.47,647.65"/>
<path d="M407.48,647.55 Q409.38,644.65 411.68,647.45" stroke-width="0.85" stroke-opacity="0.92"/>
<path d="M449,642.88 L450.7,640.18 L452.4,642.58"/>
<path d="M408.04,642.48 Q409.94,639.58 412.24,642.38" stroke-width="0.85" stroke-opacity="0.92"/>
<path d="M448.93,637.81 L450.62,635.12 L452.32,637.51"/>
<path d="M408.6,637.41 Q410.5,634.51 412.8,637.31" stroke-width="0.85" stroke-opacity="0.92"/>
<path d="M448.85,632.74 L450.55,630.04 L452.25,632.44"/>
<path d="M409.16,632.34 Q411.06,629.44 413.36,632.24 L415.56,632.54" stroke-width="0.85" stroke-opacity="0.92"/>
<path d="M448.78,627.67 L450.48,624.98 L452.18,627.38"/>
<path d="M409.72,627.27 Q411.62,624.38 413.92,627.17" stroke-width="0.85" stroke-opacity="0.92"/>
<path d="M448.7,622.6 L450.4,619.9 L452.1,622.3"/>
<path d="M410.28,622.2 Q412.18,619.3 414.48,622.1" stroke-width="0.85" stroke-opacity="0.92"/>
<path d="M448.62,617.53 L450.32,614.84 L452.02,617.24"/>
<path d="M410.84,617.13 Q412.74,614.24 415.04,617.03" stroke-width="0.85" stroke-opacity="0.92"/>
<path d="M448.55,612.46 L450.25,609.76 L451.95,612.16"/>
<path d="M411.4,612.06 Q413.3,609.16 415.6,611.96 L417.8,612.26" stroke-width="0.85" stroke-opacity="0.92"/>
<path d="M448.48,607.39 L450.18,604.69 L451.88,607.09 L455.62,607.59"/>
<path d="M411.96,606.99 Q413.86,604.09 416.16,606.89 L418.36,607.19" stroke-width="0.85" stroke-opacity="0.92"/>
<path d="M448.4,602.32 L450.1,599.62 L451.8,602.02 L454.37,602.52"/>
<path d="M412.52,601.92 Q414.42,599.02 416.72,601.82" stroke-width="0.85" stroke-opacity="0.92"/>
<path d="M448.32,597.25 L450.02,594.55 L451.72,596.95 L454.93,597.45"/>
<path d="M414.18,595.95 H416.18" stroke-width="0.8" stroke-opacity="0.85"/>
<path d="M448.25,592.18 L449.95,589.49 L451.65,591.88 L455.21,592.38"/>
<path d="M414.74,590.88 H416.74" stroke-width="0.8" stroke-opacity="0.85"/>
<path d="M448.18,587.11 L449.88,584.41 L451.57,586.81 L455.01,587.31"/>
<path d="M414.5,585.81 H418.1" stroke-width="0.8" stroke-opacity="0.85"/>
<path d="M448.1,582.04 L449.8,579.35 L451.5,581.75 L455.33,582.25"/>
<path d="M448.03,576.97 L449.73,574.27 L451.43,576.67 L455.15,577.17"/>
<path d="M447.95,571.9 L449.65,569.21 L451.35,571.61 L455.19,572.11"/>
<path d="M447.88,566.83 L449.57,564.13 L451.27,566.53"/>
<path d="M447.8,561.76 L449.5,559.06 L451.2,561.46"/>
<path d="M447.73,556.69 L449.43,554 L451.12,556.39"/>
<path d="M447.65,551.62 L449.35,548.92 L451.05,551.32 L453.1,551.82"/>
<path d="M447.57,546.55 L449.27,543.86 L450.97,546.25 L453.85,546.75"/>
<path d="M447.5,541.48 L449.2,538.78 L450.9,541.18"/>
<path d="M447.43,536.41 L449.12,533.72 L450.82,536.12"/>
<path d="M447.35,531.34 L449.05,528.64 L450.75,531.04"/>
<path d="M447.28,526.27 L448.98,523.57 L450.68,525.97"/>
<path d="M447.2,521.2 L448.9,518.5 L450.6,520.9"/>
<path d="M447.12,516.13 L448.82,513.43 L450.52,515.83"/>
</g>
<rect x="328.4" y="514.33" width="1.1" height="1" fill="#faebdd" opacity="0.9"/>
<rect x="334.3" y="514.33" width="1.1" height="1" fill="#faebdd" opacity="0.9"/>
<rect x="335.5" y="514.33" width="1.1" height="1" fill="#faebdd" opacity="0.9"/>
<rect x="349.8" y="514.33" width="1.1" height="1" fill="#faebdd" opacity="0.9"/>
<rect x="356.2" y="514.33" width="1.1" height="1" fill="#faebdd" opacity="0.9"/>
<rect x="360.1" y="514.33" width="1.1" height="1" fill="#faebdd" opacity="0.9"/>
<rect x="361.5" y="514.33" width="1.1" height="1" fill="#faebdd" opacity="0.9"/>
<rect x="364.5" y="514.33" width="1.1" height="1" fill="#faebdd" opacity="0.9"/>
<rect x="376.8" y="514.33" width="1.1" height="1" fill="#faebdd" opacity="0.9"/>
<rect x="388.5" y="514.33" width="1.1" height="1" fill="#faebdd" opacity="0.9"/>
<rect x="394.9" y="514.33" width="1.1" height="1" fill="#faebdd" opacity="0.9"/>
<rect x="396.1" y="514.33" width="1.1" height="1" fill="#faebdd" opacity="0.9"/>
<rect x="402.6" y="514.33" width="1.1" height="1" fill="#faebdd" opacity="0.9"/>
<rect x="420.7" y="514.33" width="1.1" height="1" fill="#faebdd" opacity="0.9"/>
<rect x="421.9" y="514.33" width="1.1" height="1" fill="#faebdd" opacity="0.9"/>
<rect x="437.7" y="514.33" width="1.1" height="1" fill="#faebdd" opacity="0.9"/>
<rect x="438.9" y="514.33" width="1.1" height="1" fill="#faebdd" opacity="0.9"/>
<rect x="441.6" y="514.33" width="1.1" height="1" fill="#faebdd" opacity="0.9"/>
<rect x="456.1" y="514.33" width="1.1" height="1" fill="#faebdd" opacity="0.9"/>
<rect x="475.9" y="514.33" width="1.1" height="1" fill="#faebdd" opacity="0.9"/>
<rect x="477.1" y="514.33" width="1.1" height="1" fill="#faebdd" opacity="0.9"/>
<rect x="479.8" y="514.33" width="1.1" height="1" fill="#faebdd" opacity="0.9"/>
<rect x="486.1" y="514.33" width="1.1" height="1" fill="#faebdd" opacity="0.9"/>
<rect x="487.7" y="514.33" width="1.1" height="1" fill="#faebdd" opacity="0.9"/>
<rect x="489.1" y="514.33" width="1.1" height="1" fill="#faebdd" opacity="0.9"/>
<rect x="493" y="514.33" width="1.1" height="1" fill="#faebdd" opacity="0.9"/>
<rect x="503.5" y="514.33" width="1.1" height="1" fill="#faebdd" opacity="0.9"/>
<rect x="516.7" y="514.33" width="1.1" height="1" fill="#faebdd" opacity="0.9"/>
<rect x="528.5" y="514.33" width="1.1" height="1" fill="#faebdd" opacity="0.9"/>
<rect x="537.1" y="514.33" width="1.1" height="1" fill="#faebdd" opacity="0.9"/>
<path d="M486.4,516 L488.2,514 L490.2,515.6 L492,515.8" stroke="#faebdd" stroke-width="0.8" fill="none"/>
<rect x="331.7" y="565.03" width="1.1" height="1" fill="#faebdd" opacity="0.9"/>
<rect x="332.7" y="565.03" width="1.1" height="1" fill="#faebdd" opacity="0.9"/>
<rect x="349.8" y="565.03" width="1.1" height="1" fill="#faebdd" opacity="0.9"/>
<rect x="365.2" y="565.03" width="1.1" height="1" fill="#faebdd" opacity="0.9"/>
<rect x="375" y="565.03" width="1.1" height="1" fill="#faebdd" opacity="0.9"/>
<rect x="376.1" y="565.03" width="1.1" height="1" fill="#faebdd" opacity="0.9"/>
<rect x="391" y="565.03" width="1.1" height="1" fill="#faebdd" opacity="0.9"/>
<rect x="403.9" y="565.03" width="1.1" height="1" fill="#faebdd" opacity="0.9"/>
<rect x="406.5" y="565.03" width="1.1" height="1" fill="#faebdd" opacity="0.9"/>
<rect x="414.2" y="565.03" width="1.1" height="1" fill="#faebdd" opacity="0.9"/>
<rect x="423.2" y="565.03" width="1.1" height="1" fill="#faebdd" opacity="0.9"/>
<rect x="424.3" y="565.03" width="1.1" height="1" fill="#faebdd" opacity="0.9"/>
<rect x="425.8" y="565.03" width="1.1" height="1" fill="#faebdd" opacity="0.9"/>
<rect x="437.7" y="565.03" width="1.1" height="1" fill="#faebdd" opacity="0.9"/>
<rect x="441.6" y="565.03" width="1.1" height="1" fill="#faebdd" opacity="0.9"/>
<rect x="469.3" y="565.03" width="1.1" height="1" fill="#faebdd" opacity="0.9"/>
<rect x="503.5" y="565.03" width="1.1" height="1" fill="#faebdd" opacity="0.9"/>
<rect x="506.2" y="565.03" width="1.1" height="1" fill="#faebdd" opacity="0.9"/>
<rect x="401.4" y="607" width="1" height="0.9" fill="#faebdd" opacity="0.7"/>
<line x1="409.5" y1="607.4" x2="420.5" y2="607.4" stroke="#faebdd" stroke-width="0.6" opacity="0.75"/>
<line x1="413" y1="582.6" x2="418.5" y2="582.6" stroke="#faebdd" stroke-width="0.6" opacity="0.6"/>
<rect x="407" y="663.4" width="2.4" height="0.8" fill="#faebdd" opacity="0.7"/>
<text x="321" y="515.9" font-size="5.7" text-anchor="middle" fill="#000">720</text>
<text x="321" y="540.7" font-size="5.7" text-anchor="middle" fill="#000">600</text>
<text x="321" y="565.1" font-size="5.7" text-anchor="middle" fill="#000">480</text>
<text x="321" y="589.6" font-size="5.7" text-anchor="middle" fill="#000">360</text>
<text x="321" y="614.5" font-size="5.7" text-anchor="middle" fill="#000">240</text>
<text x="321" y="639.4" font-size="5.7" text-anchor="middle" fill="#000">120</text>
<text x="321" y="663.7" font-size="5.7" text-anchor="middle" fill="#000">1</text>
<text x="329.1" y="671.7" font-size="5.5" text-anchor="middle" fill="#000">0</text>
<text x="370.11" y="671.7" font-size="5.5" text-anchor="middle" fill="#000">30</text>
<text x="411.12" y="671.7" font-size="5.5" text-anchor="middle" fill="#000">60</text>
<text x="452.13" y="671.7" font-size="5.5" text-anchor="middle" fill="#000">90</text>
<text x="493.14" y="671.7" font-size="5.5" text-anchor="middle" fill="#000">120</text>
<text x="534.15" y="671.7" font-size="5.5" text-anchor="middle" fill="#000">150</text>
<text x="430" y="680.2" font-size="7.6" text-anchor="middle" fill="#000">Time(s)</text>
</g>
</svg>
</body></html>
